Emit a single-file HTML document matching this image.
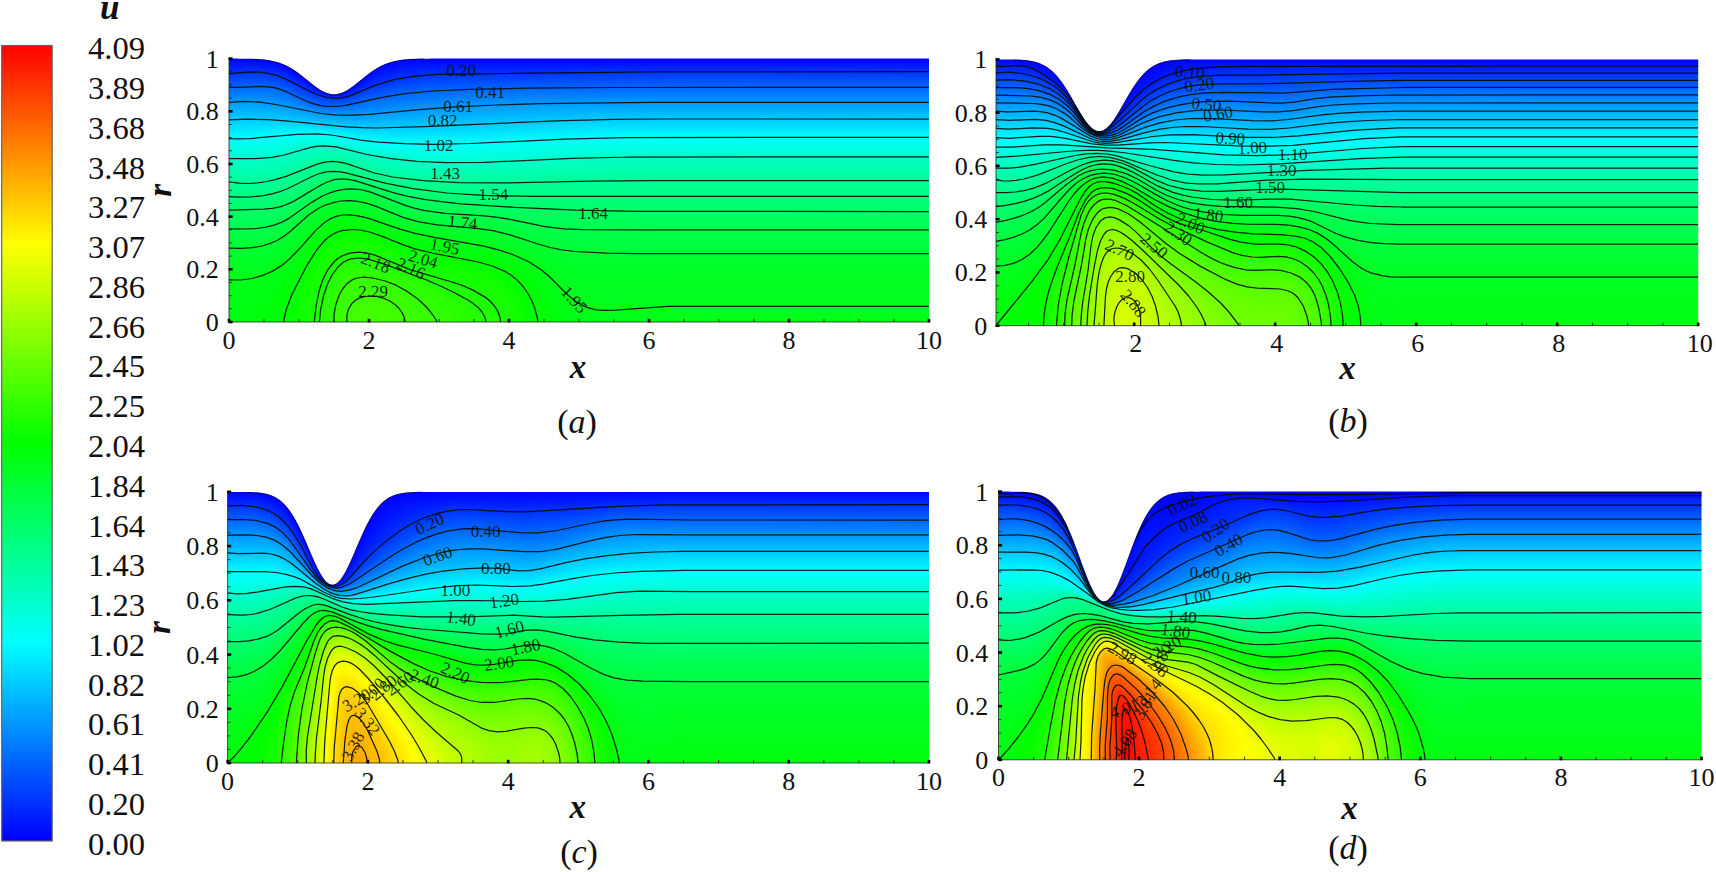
<!DOCTYPE html>
<html><head><meta charset="utf-8"><title>u contours</title>
<style>
html,body{margin:0;padding:0;background:#fff;width:1716px;height:872px;overflow:hidden;position:relative}
svg{display:block}
text{font-family:"Liberation Serif",serif;fill:#111}
.tk text{font-size:26px}
.cbt text{font-size:32.6px}
.ut{font-size:35px;font-weight:bold;font-style:italic}
.al{font-size:33px;font-weight:bold;font-style:italic}
.cap{font-size:34px;font-style:italic}
.pr{font-style:normal}
.cl text{font-size:17px;fill:#061006;fill-opacity:.88}
.pn{position:absolute;overflow:hidden}
.pn i{position:absolute;top:0;height:100%;display:block}
#ov{position:absolute;left:0;top:0}
</style></head><body>
<div class="pn" style="left:228px;top:56px;width:702px;height:267px"><i style="left:0px;width:4px;background:linear-gradient(#00f .2%,#0002ff 1.2%,#0072ff 13%,#00a0ff 18.2%,#0ff 30.9%,#00ffc6 39.4%,#00ff9c 46.7%,#00ff63 58.5%,#00ff3a 69.9%,#00ff26 77.4%,#00ff19 83.9%,#00ff0e 99.9%)"></i><i style="left:4px;width:4px;background:linear-gradient(#00f .2%,#00f 1%,#00a0ff 18%,#00ceff 24%,#00fffe 31.1%,#00ffcd 38.2%,#00ffa9 44.2%,#00ff67 57.3%,#00ff5a 60.7%,#0f3 72%,#00ff1f 80.4%,#00ff17 85.8%,#00ff0e 99.9%)"></i><i style="left:8px;width:4px;background:linear-gradient(#00f .2%,#00f 1%,#00a1ff 18%,#00fffe 31.1%,#00ffd0 37.9%,#00ffb2 42.7%,#00ff68 57.2%,#00ff5b 60.4%,#0f3 72.1%,#00ff20 80.2%,#00ff16 86.2%,#00ff0e 99.9%)"></i><i style="left:12px;width:4px;background:linear-gradient(#00f .3%,#00f 1%,#0032ff 6.1%,#00a2ff 18%,#00fffe 31.1%,#00ffd1 37.7%,#00ffb2 42.8%,#00ff68 57.2%,#00ff5b 60.4%,#0f3 72.2%,#00ff20 79.8%,#00ff15 86.8%,#00ff0d 99.9%)"></i><i style="left:16px;width:4px;background:linear-gradient(#00f .3%,#00f 1%,#0035ff 6.3%,#00a2ff 18.1%,#0ff 31%,#00ffb6 42.2%,#00ff69 57%,#00ff5b 60.2%,#0f3 72%,#00ff20 79.9%,#00ff15 86.8%,#00ff0e 99.9%)"></i><i style="left:20px;width:4px;background:linear-gradient(#00f .3%,#00f 1%,#003aff 6.7%,#00a1ff 17.9%,#0ff 31%,#00ffb6 42.2%,#00ff69 56.9%,#00ff5a 60.4%,#0f3 72%,#00ff1f 80.3%,#0f1 91.7%,#00ff10 99.9%)"></i><i style="left:24px;width:4px;background:linear-gradient(#00f .3%,#0002ff 1.3%,#003eff 7.1%,#009dff 17.6%,#00cbff 23.6%,#0ff 30.9%,#0fb 41.4%,#00ff6b 56.5%,#00ff37 70.4%,#00ff24 77.5%,#00ff16 85.2%,#00ff0e 95.3%,#00ff0f 100%)"></i><i style="left:28px;width:4px;background:linear-gradient(#00f .4%,#0002ff 1.3%,#04f 7.7%,#008dff 15.8%,#00bfff 21.9%,#0ff 30.7%,#00ffb9 41.6%,#00ff6c 56.2%,#00ff36 70.4%,#00ff24 77.2%,#00ff17 84.3%,#00ff0f 91.4%,#00ff0e 99.8%)"></i><i style="left:32px;width:4px;background:linear-gradient(#00f .5%,#0001ff 1.4%,#0048ff 8.2%,#0080ff 14.4%,#00d0ff 24.3%,#0ff 30.7%,#00ffb9 41.5%,#00ff72 55%,#00ff60 58.9%,#00ff37 70%,#00ff25 76.5%,#00ff16 84.2%,#00ff0e 91.9%,#00ff0c 99.9%)"></i><i style="left:36px;width:4px;background:linear-gradient(#00f .6%,#0001ff 1.6%,#004dff 8.9%,#0076ff 13.2%,#0ff 30.4%,#00ffbc 40.7%,#00ff92 48.4%,#00ff65 57.6%,#00ff37 69.7%,#0f2 77.4%,#00ff12 86.8%,#00ff0c 93%,#00ff0b 99.9%)"></i><i style="left:40px;width:4px;background:linear-gradient(#00f .8%,#0001ff 1.8%,#0073ff 13%,#00e3ff 26.7%,#00fffe 30.4%,#00ffbc 40.5%,#00ff90 48.4%,#0f6 57.2%,#00ff36 69.4%,#00ff23 76.5%,#00ff12 85.7%,#00ff0b 92.2%,#00ff09 99.9%)"></i><i style="left:44px;width:4px;background:linear-gradient(#00f 1.1%,#00f 2%,#0072ff 13.1%,#0ff 30.1%,#00ffbc 40.4%,#00ff91 47.9%,#00ff68 56.5%,#00ff36 68.9%,#00ff23 75.6%,#0f1 85%,#00ff0a 91.4%,#00ff07 100%)"></i><i style="left:48px;width:4px;background:linear-gradient(#00f 1.5%,#0002ff 2.6%,#006bff 12.7%,#0ff 29.9%,#00ffba 40.4%,#00ff91 47.5%,#00ff6d 55%,#00ff36 68.1%,#00ff26 73.8%,#00ff10 84.2%,#00ff09 89.9%,#00ff04 100%)"></i><i style="left:52px;width:2px;background:linear-gradient(#00f 1.9%,#00f 2.9%,#006cff 13.2%,#009eff 19.2%,#0ff 29.8%,#00ffba 40.1%,#00ff90 47.3%,#00ff35 67.7%,#00ff25 73.5%,#00ff0f 84.3%,#00ff08 89.6%,#00ff02 99.9%)"></i><i style="left:54px;width:2px;background:linear-gradient(#00f 2.2%,#00f 3.1%,#006cff 13.4%,#00fffe 29.9%,#00ffb9 40%,#00ff90 47%,#00ff35 67.4%,#00ff25 73%,#00ff0e 84.2%,#00ff05 92.1%,#00ff01 100%)"></i><i style="left:56px;width:2px;background:linear-gradient(#00f 2.5%,#00f 3.5%,#006aff 13.6%,#0ff 29.7%,#00ffd9 34.9%,#00ff90 46.7%,#00ff34 66.9%,#00ff25 72.6%,#00ff0c 84.4%,#00ff02 93%,#01ff00 99.9%)"></i><i style="left:58px;width:2px;background:linear-gradient(#00f 2.9%,#00f 3.8%,#006bff 13.9%,#0ff 29.6%,#00ffdc 34.3%,#00ff91 46.3%,#00ff34 66.5%,#00ff24 72.3%,#00ff0a 84.7%,#0f0 94.1%,#03ff00 99.9%)"></i><i style="left:60px;width:2px;background:linear-gradient(#00f 3.2%,#0002ff 4.4%,#0069ff 14.1%,#00fffe 29.6%,#00ffda 34.5%,#00ff91 46.1%,#00ff34 66%,#00ff19 76.3%,#00ff08 84.9%,#0f0 91.8%,#05ff00 99.9%)"></i><i style="left:62px;width:2px;background:linear-gradient(#00f 3.6%,#0002ff 4.8%,#0068ff 14.3%,#0ff 29.5%,#00ffd8 34.5%,#00ff91 45.8%,#0f3 65.6%,#0f1 79.3%,#00ff06 85.3%,#0f0 90.2%,#07ff00 99.9%)"></i><i style="left:64px;width:2px;background:linear-gradient(#00f 4.1%,#0001ff 5.2%,#0067ff 14.6%,#00fffe 29.6%,#00ffd5 34.8%,#00ff90 45.7%,#00ff32 65.1%,#00ff0f 79%,#00ff04 85.4%,#0f0 88.5%,#09ff00 100%)"></i><i style="left:66px;width:2px;background:linear-gradient(#00f 4.6%,#0001ff 5.7%,#00a0ff 20.3%,#00fffe 29.5%,#00ffd6 34.5%,#00ff90 45.2%,#00ff31 64.7%,#00ff0e 78.5%,#00ff01 86.4%,#0bff00 99.9%)"></i><i style="left:68px;width:2px;background:linear-gradient(#00f 5.1%,#0001ff 6.2%,#00a2ff 20.6%,#00fffe 29.4%,#00ffd4 34.5%,#00ff90 44.9%,#00ff5a 56.2%,#00ff31 64%,#00ff0e 77.9%,#0f0 85.2%,#0dff00 99.8%)"></i><i style="left:70px;width:2px;background:linear-gradient(#00f 5.6%,#0001ff 6.7%,#00a4ff 20.9%,#00fffe 29.4%,#00ffd3 34.4%,#00ff90 44.5%,#00ff5c 55.4%,#00ff30 63.6%,#00ff0c 77.5%,#0f0 83.9%,#0dff00 95.1%,#0fff00 100%)"></i><i style="left:72px;width:2px;background:linear-gradient(#00f 6.2%,#0001ff 7.3%,#0070ff 16.8%,#00a3ff 20.9%,#0ff 29.2%,#00ffd2 34.4%,#00ff91 44.2%,#00ff5d 54.7%,#00ff38 61%,#00ff2e 63.3%,#00ff0b 77.1%,#0f0 82.6%,#0fff00 94.7%,#10ff00 100%)"></i><i style="left:74px;width:2px;background:linear-gradient(#00f 6.7%,#0001ff 7.9%,#0071ff 17.2%,#00a1ff 21%,#00ceff 25.1%,#0ff 29.2%,#00ffe8 31.5%,#00ffd0 34.4%,#00ff91 43.8%,#00ff5c 54.3%,#00ff2e 62.5%,#0f0 81.1%,#0dff00 90.3%,#12ff00 100%)"></i><i style="left:76px;width:2px;background:linear-gradient(#00f 7.3%,#0001ff 8.5%,#0040ff 13.3%,#006dff 17.3%,#00a5ff 21.4%,#00cdff 25.1%,#00fffe 29.2%,#00ffe7 31.5%,#00ffce 34.5%,#00ff91 43.5%,#00ff7d 46.8%,#00ff5e 53.6%,#00ff37 59.9%,#00ff2d 62.2%,#0f0 79.6%,#0eff00 89.2%,#14ff00 99.8%)"></i><i style="left:78px;width:2px;background:linear-gradient(#00f 7.9%,#0001ff 9.1%,#003eff 13.6%,#006cff 17.5%,#00a1ff 21.2%,#00cdff 25.2%,#0ff 29.1%,#00ffe8 31.3%,#0fc 34.5%,#00ff92 43%,#00ff7e 46.3%,#00ff5d 53.3%,#00ff38 59.2%,#00ff2c 61.7%,#0f0 78.3%,#10ff00 88.5%,#16ff00 99.9%)"></i><i style="left:80px;width:2px;background:linear-gradient(#00f 8.5%,#0001ff 9.7%,#003dff 13.8%,#006eff 17.9%,#00a0ff 21.3%,#00cfff 25.4%,#0ff 29.1%,#00ffd4 33.5%,#00ffa4 39.8%,#00ff82 45.2%,#00ff5f 52.4%,#00ff36 58.9%,#00ff2b 61.4%,#0f0 77.1%,#1f0 87.6%,#18ff00 99.9%)"></i><i style="left:82px;width:2px;background:linear-gradient(#00f 9.2%,#0001ff 10.3%,#0039ff 13.8%,#006bff 18%,#00a2ff 21.5%,#00cfff 25.4%,#00fffe 29.2%,#00ffd2 33.5%,#00ffa4 39.7%,#00ff82 44.9%,#00ff5e 52%,#00ff36 58.4%,#00ff2a 61%,#0f0 75.8%,#13ff00 86.9%,#1aff00 100%)"></i><i style="left:84px;width:2px;background:linear-gradient(#00f 9.8%,#0001ff 10.9%,#003aff 14.2%,#0068ff 18%,#00a1ff 21.6%,#00ceff 25.5%,#00fffd 29.2%,#00ffd2 33.4%,#00ffa4 39.3%,#00ff80 45%,#00ff5d 51.7%,#00ff35 58.1%,#00ff29 60.5%,#0f0 74.7%,#15ff00 86.2%,#1cff00 99.8%)"></i><i style="left:86px;width:2px;background:linear-gradient(#00f 10.3%,#0002ff 11.5%,#003cff 14.6%,#006aff 18.4%,#00a2ff 21.8%,#00ceff 25.5%,#00fffd 29.3%,#00ffcf 33.6%,#00ffa2 39.4%,#00ff80 44.6%,#00ff5d 51.3%,#00ff34 57.7%,#00ff28 60.3%,#0f0 73.4%,#0eff00 79.6%,#16ff00 85.4%,#1eff00 99.9%)"></i><i style="left:88px;width:2px;background:linear-gradient(#00f 10.9%,#0002ff 12%,#0030ff 14.3%,#0043ff 15.4%,#0067ff 18.4%,#00a5ff 22.1%,#00cdff 25.5%,#00fffd 29.2%,#00ffd0 33.4%,#00ffa3 39%,#00ff7e 44.6%,#00ff59 51.5%,#00ff32 57.5%,#00ff27 60%,#0f0 72.5%,#0eff00 78.3%,#17ff00 84.3%,#1fff00 99.8%)"></i><i style="left:90px;width:2px;background:linear-gradient(#00f 11.4%,#00f 12.4%,#0031ff 14.6%,#0045ff 15.7%,#006aff 18.7%,#00a3ff 22.1%,#00d0ff 25.8%,#00fffe 29.2%,#00ffd0 33.3%,#00ffa2 38.9%,#00ff7c 44.6%,#00ff58 51.3%,#00ff31 57.3%,#00ff27 59.5%,#0f0 71.5%,#0fff00 77.5%,#19ff00 83.5%,#21ff00 100%)"></i><i style="left:92px;width:2px;background:linear-gradient(#00f 11.9%,#00f 12.8%,#0032ff 14.9%,#04f 15.8%,#0069ff 18.8%,#00a3ff 22.2%,#00ceff 25.8%,#00fffd 29.3%,#0fc 33.6%,#00ffa0 39.1%,#00ff79 44.9%,#00ff56 51.2%,#00ff31 56.8%,#00ff25 59.5%,#0f0 70.7%,#10ff00 76.7%,#1aff00 82.7%,#23ff00 99.9%)"></i><i style="left:94px;width:2px;background:linear-gradient(#00f 12.3%,#00f 13.3%,#002eff 15%,#003fff 15.7%,#006bff 19.1%,#00a0ff 22.1%,#00ceff 25.8%,#00fffd 29.4%,#00ffcb 33.7%,#00ffa0 38.9%,#00ff79 44.6%,#00ff53 51.3%,#0f3 56.2%,#00ff24 59.5%,#0f0 69.8%,#1f0 76%,#1bff00 82%,#26ff00 100%)"></i><i style="left:96px;width:2px;background:linear-gradient(#00f 12.7%,#0001ff 13.7%,#03f 15.3%,#0049ff 16.5%,#006aff 19.1%,#00a4ff 22.5%,#00cdff 25.8%,#00fffe 29.4%,#00ffdb 32.2%,#00ffba 35.6%,#00ff9f 38.9%,#00ff76 44.9%,#00ff2b 57.3%,#00ff02 68.5%,#12ff00 75.6%,#1bff00 80.9%,#28ff00 100%)"></i><i style="left:98px;width:2px;background:linear-gradient(#00f 13%,#0003ff 14%,#0032ff 15.5%,#004aff 16.6%,#0069ff 19%,#00a2ff 22.4%,#00cbff 25.8%,#00fffd 29.5%,#00ffd8 32.5%,#00ffb7 35.9%,#00ff9d 39.1%,#00ff70 45.6%,#00ff2b 57.1%,#00ff01 68.1%,#12ff00 74.5%,#1cff00 80.1%,#28ff00 93.2%,#2bff00 99.9%)"></i><i style="left:100px;width:2px;background:linear-gradient(#00f 13.3%,#00f 14.1%,#0035ff 15.7%,#004cff 16.9%,#0069ff 19.1%,#00a2ff 22.5%,#00cbff 25.9%,#00fffd 29.6%,#00ffd4 33%,#00ffb3 36.3%,#00ff9c 39.1%,#00ff6b 46.1%,#00ff2a 56.9%,#0f0 67.6%,#1f0 73.4%,#1cff00 79%,#2bff00 92.9%,#2dff00 99.8%)"></i><i style="left:102px;width:2px;background:linear-gradient(#00f 13.5%,#00f 14.2%,#0032ff 15.7%,#004bff 16.9%,#0069ff 19.1%,#00a1ff 22.5%,#00cfff 26.2%,#00fffe 29.6%,#00ffd5 33%,#00ffb1 36.5%,#00ff9d 39%,#00ff67 46.4%,#00ff2b 56.6%,#0f0 67%,#1f0 72.7%,#1dff00 78.3%,#2dff00 92.5%,#30ff00 99.8%)"></i><i style="left:104px;width:2px;background:linear-gradient(#00f 13.6%,#0001ff 14.4%,#0034ff 15.9%,#004cff 17%,#006dff 19.4%,#00a1ff 22.6%,#00cdff 26.2%,#00fffe 29.7%,#00ffd5 33.1%,#00ffb1 36.6%,#0f6 46.4%,#00ff2b 56.3%,#0f0 66.6%,#1f0 72.2%,#1dff00 77.8%,#2fff00 92.1%,#32ff00 99.9%)"></i><i style="left:106px;width:2px;background:linear-gradient(#00f 13.6%,#00f 14.4%,#03f 15.9%,#0041ff 16.4%,#004fff 17.2%,#006eff 19.4%,#00a0ff 22.6%,#0cf 26.2%,#00fffd 29.9%,#00ffd4 33.3%,#00ffae 37%,#00ff64 46.6%,#00ff2b 56.1%,#0f0 66.2%,#12ff00 71.8%,#1eff00 77.5%,#31ff00 91.5%,#34ff00 99.9%)"></i><i style="left:108px;width:2px;background:linear-gradient(#00f 13.5%,#00f 14.2%,#003aff 16.1%,#0050ff 17.2%,#006fff 19.5%,#009eff 22.5%,#0cf 26.2%,#00fffe 30%,#00ffd5 33.3%,#00ffae 37.1%,#00ff9b 39.3%,#00ff81 43.1%,#00ff61 46.8%,#00ff2c 55.8%,#0f0 65.9%,#12ff00 71.4%,#1eff00 76.8%,#32ff00 90.6%,#36ff00 99.8%)"></i><i style="left:110px;width:2px;background:linear-gradient(#00f 13.3%,#00f 14.1%,#0003ff 14.2%,#0031ff 15.7%,#0043ff 16.5%,#0051ff 17.2%,#009dff 22.5%,#00fffd 30.2%,#00ffd2 33.7%,#00ffac 37.5%,#00ff81 43.1%,#00ff60 46.8%,#00ff2c 55.8%,#00ff01 65.6%,#13ff00 71.4%,#1fff00 76.8%,#34ff00 90.3%,#38ff00 99.8%)"></i><i style="left:112px;width:2px;background:linear-gradient(#00f 13%,#0002ff 14%,#003bff 16%,#0056ff 17.5%,#009cff 22.4%,#00fffd 30.3%,#00ffd5 33.6%,#00ffac 37.6%,#00ff9a 39.6%,#00ff81 43.2%,#00ff5e 46.9%,#00ff2b 55.7%,#0f0 65.5%,#19ff00 73.5%,#30ff00 85.9%,#38ff00 92.8%,#3aff00 99.9%)"></i><i style="left:114px;width:2px;background:linear-gradient(#00f 12.7%,#0001ff 13.7%,#0036ff 15.7%,#0058ff 17.6%,#009cff 22.5%,#0ff 30.3%,#00ffd7 33.7%,#00ffab 37.8%,#00ff81 43.4%,#00ff5c 47.2%,#00ff2c 55.6%,#00ff01 65.2%,#19ff00 73%,#31ff00 85.8%,#39ff00 92.5%,#3bff00 100%)"></i><i style="left:116px;width:2px;background:linear-gradient(#00f 12.3%,#00f 13.3%,#003dff 15.9%,#005fff 18%,#009cff 22.5%,#00fffe 30.5%,#00ffad 37.8%,#00ff9c 39.7%,#00ff82 43.4%,#00ff5c 47.2%,#00ff2d 55.4%,#0f0 65.2%,#19ff00 72.6%,#32ff00 85.4%,#3aff00 92.5%,#3cff00 100%)"></i><i style="left:118px;width:2px;background:linear-gradient(#00f 11.9%,#00f 12.8%,#0042ff 16%,#0065ff 18.3%,#009bff 22.4%,#00fffe 30.6%,#00ffac 38.1%,#00ff82 43.6%,#00ff5b 47.3%,#00ff2e 55.2%,#0f0 65.1%,#19ff00 72.4%,#3f0 84.9%,#3bff00 92.2%,#3dff00 99.9%)"></i><i style="left:120px;width:2px;background:linear-gradient(#00f 11.4%,#0002ff 12.5%,#0040ff 15.7%,#005dff 17.6%,#0093ff 21.7%,#0ff 30.7%,#00ffad 38.2%,#00ff9d 40.1%,#00ff85 43.4%,#00ff5a 47.6%,#00ff30 54.7%,#0f0 65%,#19ff00 72.3%,#3f0 84.6%,#3cff00 92.1%,#3eff00 100%)"></i><i style="left:122px;width:2px;background:linear-gradient(#00f 10.9%,#0002ff 12%,#0041ff 15.6%,#0060ff 17.6%,#0094ff 21.8%,#00fffe 30.9%,#00ffaf 38.2%,#00ff9e 40.1%,#00ff83 43.9%,#00ff65 46.5%,#00ff59 47.8%,#00ff32 54.3%,#00ff01 64.8%,#18ff00 71.9%,#34ff00 84.3%,#3cff00 91.6%,#3fff00 99.8%)"></i><i style="left:124px;width:2px;background:linear-gradient(#00f 10.3%,#0001ff 11.5%,#0048ff 15.8%,#0067ff 18%,#00fffe 31.1%,#00ffaf 38.4%,#00ff9d 40.5%,#00ff85 43.9%,#00ff58 48%,#00ff36 53.6%,#00ff01 64.8%,#18ff00 71.9%,#34ff00 84.3%,#3dff00 91.8%,#40ff00 99.9%)"></i><i style="left:126px;width:2px;background:linear-gradient(#00f 9.8%,#0001ff 10.9%,#004aff 15.7%,#06f 17.8%,#0ff 31.1%,#00ffb0 38.6%,#00ff84 44.2%,#00ff65 46.8%,#0f5 48.5%,#00ff39 53.2%,#0f0 65%,#18ff00 71.7%,#34ff00 83.9%,#3cff00 90.7%,#40ff00 99.8%)"></i><i style="left:128px;width:2px;background:linear-gradient(#00f 9.2%,#0001ff 10.3%,#006aff 18%,#0ff 31.3%,#00ffb2 38.6%,#00ff86 44.2%,#00ff63 47.2%,#00ff52 49%,#00ff3b 52.8%,#0f0 65%,#19ff00 71.9%,#35ff00 83.9%,#3eff00 92.1%,#41ff00 100%)"></i><i style="left:130px;width:2px;background:linear-gradient(#00f 8.5%,#0001ff 9.7%,#0069ff 17.7%,#0ff 31.4%,#00ffb5 38.5%,#00ff85 44.5%,#00ff62 47.5%,#00ff4f 49.6%,#00ff3c 52.7%,#0f0 65.1%,#18ff00 71.8%,#35ff00 83.8%,#3eff00 92.4%,#42ff00 99.9%)"></i><i style="left:132px;width:2px;background:linear-gradient(#00f 7.9%,#0001ff 9.1%,#006bff 17.7%,#0ff 31.5%,#00ffb2 39%,#00ff86 44.6%,#00ff5f 48%,#00ff4d 50.1%,#00ff3c 52.7%,#0f0 65.2%,#18ff00 71.8%,#35ff00 83.8%,#3fff00 93%,#42ff00 99.9%)"></i><i style="left:134px;width:2px;background:linear-gradient(#00f 7.3%,#0001ff 8.5%,#006cff 17.6%,#00fffe 31.7%,#00ffb5 39%,#00ff85 45%,#00ff5e 48.3%,#00ff4a 50.6%,#00ff3c 52.8%,#0f0 65.4%,#18ff00 71.9%,#35ff00 83.7%,#40ff00 93.3%,#42ff00 99.8%)"></i><i style="left:136px;width:2px;background:linear-gradient(#00f 6.7%,#0001ff 7.9%,#0028ff 11.6%,#006dff 17.6%,#00fffe 31.8%,#00ffb7 38.9%,#00ff87 44.9%,#00ff5d 48.7%,#00ff48 50.9%,#0f0 65.5%,#18ff00 71.9%,#35ff00 83.9%,#40ff00 93.6%,#42ff00 100%)"></i><i style="left:138px;width:2px;background:linear-gradient(#00f 6.2%,#0001ff 7.3%,#0019ff 9.7%,#006bff 17.2%,#0ff 31.8%,#0fb 38.7%,#00ff86 45.3%,#00ff58 49.4%,#00ff47 51.3%,#0f0 65.7%,#17ff00 71.9%,#35ff00 83.9%,#41ff00 94%,#42ff00 100%)"></i><i style="left:140px;width:2px;background:linear-gradient(#00f 5.6%,#0001ff 6.7%,#0020ff 10.1%,#006dff 17.2%,#00fffe 32%,#00ffbe 38.6%,#0f8 45.3%,#00ff48 51.3%,#00ff3d 53.2%,#0f0 65.9%,#18ff00 72.3%,#36ff00 84.2%,#41ff00 94%,#42ff00 100%)"></i><i style="left:142px;width:2px;background:linear-gradient(#00f 5.1%,#0001ff 6.2%,#0024ff 10.1%,#006bff 16.9%,#00a7ff 23.2%,#0ff 32%,#00ffc3 38.2%,#00ff89 45.3%,#00ff47 51.7%,#00ff01 65.9%,#18ff00 72.3%,#36ff00 84.3%,#41ff00 94%,#42ff00 99.8%)"></i><i style="left:144px;width:2px;background:linear-gradient(#00f 4.6%,#0001ff 5.7%,#0028ff 10.2%,#0069ff 16.5%,#00a4ff 22.9%,#0ff 32.1%,#00ffc5 38.1%,#00ff89 45.6%,#00ff47 51.9%,#00ff01 66.2%,#18ff00 72.5%,#36ff00 84.3%,#41ff00 94.1%,#42ff00 99.9%)"></i><i style="left:146px;width:2px;background:linear-gradient(#00f 4.1%,#0001ff 5.2%,#002cff 10.3%,#006aff 16.4%,#00a4ff 22.8%,#0ff 32.2%,#00ffc9 37.8%,#00ff8a 45.7%,#00ff47 52.2%,#0f0 66.4%,#17ff00 72.6%,#36ff00 84.4%,#41ff00 94.3%,#42ff00 100%)"></i><i style="left:148px;width:2px;background:linear-gradient(#00f 3.6%,#0001ff 4.8%,#002eff 10.2%,#0069ff 16.2%,#00a2ff 22.6%,#00fffe 32.3%,#00ffc9 37.9%,#00ff8e 45.4%,#00ff47 52.5%,#0f0 66.7%,#17ff00 72.9%,#35ff00 84.5%,#3fff00 91.8%,#42ff00 99.9%)"></i><i style="left:150px;width:2px;background:linear-gradient(#00f 3.2%,#00f 4.2%,#0030ff 10.2%,#0ff 32.3%,#00ffcb 37.9%,#00ff90 45.4%,#00ff46 52.9%,#0f0 67.1%,#17ff00 73.1%,#35ff00 84.7%,#3fff00 91.8%,#42ff00 99.9%)"></i><i style="left:152px;width:2px;background:linear-gradient(#00f 2.9%,#00f 3.8%,#0031ff 10%,#00fffe 32.4%,#0fc 37.9%,#00ff91 45.4%,#00ff49 52.9%,#0f0 67.3%,#17ff00 73.5%,#35ff00 84.7%,#3eff00 91.6%,#42ff00 99.9%)"></i><i style="left:154px;width:2px;background:linear-gradient(#00f 2.5%,#00f 3.5%,#0032ff 9.8%,#0ff 32.5%,#00ffcd 37.9%,#00ff94 45.2%,#00ff48 53.3%,#0f0 67.7%,#17ff00 73.7%,#35ff00 84.9%,#3eff00 91.7%,#42ff00 99.9%)"></i><i style="left:156px;width:2px;background:linear-gradient(#00f 2.2%,#00f 3.1%,#0032ff 9.7%,#00fffe 32.5%,#00ffcf 37.8%,#00ff95 45.3%,#00ff48 53.5%,#0f0 67.9%,#16ff00 73.7%,#35ff00 85%,#3eff00 91.7%,#42ff00 100%)"></i><i style="left:158px;width:2px;background:linear-gradient(#00f 1.9%,#00f 2.9%,#0034ff 9.6%,#00fffe 32.6%,#00ffcf 37.9%,#00ff97 45.2%,#00ff4a 53.6%,#0f0 68.2%,#16ff00 74.2%,#34ff00 85.1%,#3dff00 91.4%,#42ff00 99.9%)"></i><i style="left:160px;width:2px;background:linear-gradient(#00f 1.7%,#00f 2.6%,#03f 9.4%,#0ff 32.6%,#00ffcd 38.2%,#00ff97 45.3%,#00ff4a 53.9%,#0f0 68.5%,#16ff00 74.5%,#34ff00 85.4%,#3dff00 91.8%,#42ff00 100%)"></i><i style="left:162px;width:2px;background:linear-gradient(#00f 1.5%,#0001ff 2.4%,#0034ff 9.3%,#00fffe 32.7%,#00ffce 38.2%,#00ff98 45.3%,#00ff4b 54.1%,#0f0 68.9%,#16ff00 74.7%,#34ff00 85.4%,#3dff00 91.7%,#41ff00 100%)"></i><i style="left:164px;width:2px;background:linear-gradient(#00f 1.3%,#0001ff 2.2%,#03f 9%,#00fffe 32.7%,#00ffcf 38.2%,#00ff9a 45.3%,#00ff4c 54.3%,#00ff01 69.1%,#16ff00 75.2%,#34ff00 85.5%,#3cff00 91.7%,#41ff00 100%)"></i><i style="left:166px;width:2px;background:linear-gradient(#00f 1.1%,#0001ff 2%,#0034ff 9%,#0ff 32.8%,#00ffd0 38.2%,#00ff97 45.7%,#00ff4e 54.3%,#0f0 69.5%,#15ff00 75.3%,#3f0 85.8%,#3cff00 92.1%,#40ff00 100%)"></i><i style="left:168px;width:2px;background:linear-gradient(#00f 1%,#0001ff 1.9%,#03f 8.6%,#0ff 32.8%,#00ffd3 37.9%,#00ff9b 45.3%,#00ff4e 54.5%,#00ff01 69.7%,#15ff00 75.7%,#3f0 85.8%,#3cff00 92.2%,#40ff00 99.8%)"></i><i style="left:170px;width:2px;background:linear-gradient(#00f .8%,#0001ff 1.8%,#03f 8.5%,#00fffe 32.9%,#00ffd3 37.9%,#00ff9b 45.4%,#00ff50 54.6%,#00ff17 65.3%,#0f0 70.1%,#25ff00 80.8%,#32ff00 85.9%,#3bff00 92%,#3fff00 99.9%)"></i><i style="left:172px;width:2px;background:linear-gradient(#00f .7%,#0001ff 1.7%,#0032ff 8.2%,#00fffe 32.9%,#00ffd2 38.2%,#00ff9a 45.7%,#00ff51 54.7%,#00ff16 65.5%,#0f0 70.4%,#24ff00 80.9%,#31ff00 85.8%,#3bff00 92.1%,#3eff00 100%)"></i><i style="left:174px;width:2px;background:linear-gradient(#00f .6%,#0001ff 1.6%,#03f 8.1%,#0ff 32.9%,#00ffd2 38.3%,#00ff54 54.6%,#00ff18 65.4%,#0f0 70.7%,#25ff00 81.4%,#30ff00 85.9%,#3aff00 92.4%,#3eff00 99.9%)"></i><i style="left:176px;width:2px;background:linear-gradient(#00f .6%,#0001ff 1.5%,#0032ff 7.9%,#00fffe 33%,#00ffd0 38.6%,#00ff54 54.7%,#00ff19 65.6%,#0f0 71%,#25ff00 81.7%,#30ff00 86%,#3aff00 92.5%,#3dff00 99.8%)"></i><i style="left:178px;width:2px;background:linear-gradient(#00f .5%,#0001ff 1.4%,#0032ff 7.8%,#0ff 32.9%,#00ffd0 38.7%,#00ff56 54.6%,#00ff18 65.9%,#00ff01 71.1%,#24ff00 81.8%,#2fff00 86.1%,#39ff00 92.5%,#3dff00 99.9%)"></i><i style="left:180px;width:2px;background:linear-gradient(#00f .5%,#00f 1.2%,#002eff 7.2%,#00fffe 33%,#00ffcf 38.8%,#00ff58 54.6%,#00ff19 66%,#0f0 71.4%,#24ff00 81.9%,#2fff00 86.2%,#38ff00 92.6%,#3cff00 99.9%)"></i><i style="left:182px;width:2px;background:linear-gradient(#00f .4%,#00f 1.2%,#002cff 6.8%,#0ff 33%,#00ffce 39%,#00ff5a 54.5%,#00ff19 66.1%,#0f0 71.8%,#23ff00 82.1%,#2eff00 86.2%,#38ff00 92.5%,#3bff00 99.8%)"></i><i style="left:184px;width:2px;background:linear-gradient(#00f .4%,#0001ff 1.3%,#0ff 33%,#00ff5a 54.7%,#00ff19 66.3%,#0f0 71.9%,#2f0 82%,#2eff00 86.5%,#37ff00 92.9%,#3bff00 100%)"></i><i style="left:186px;width:2px;background:linear-gradient(#00f .3%,#0001ff 1.3%,#00fffe 33.1%,#00ff5b 54.6%,#00ff1a 66.3%,#00ff01 71.9%,#2f0 82.4%,#2dff00 86.5%,#36ff00 92.8%,#3aff00 100%)"></i><i style="left:188px;width:2px;background:linear-gradient(#00f .3%,#0001ff 1.3%,#00fffe 33.1%,#00ff5c 54.6%,#00ff1a 66.4%,#00ff01 72%,#21ff00 82.3%,#2cff00 86.6%,#36ff00 92.8%,#39ff00 99.9%)"></i><i style="left:190px;width:2px;background:linear-gradient(#00f .3%,#00f 1%,#006cff 14.3%,#0ff 33.1%,#00ff5d 54.6%,#00ff1a 66.6%,#00ff02 72.2%,#20ff00 82.3%,#2bff00 86.8%,#35ff00 93.2%,#39ff00 99.9%)"></i><i style="left:192px;width:2px;background:linear-gradient(#00f .3%,#00f 1%,#006bff 14.1%,#0ff 33.1%,#00ff5d 54.8%,#00ff1b 66.6%,#00ff02 72.4%,#1fff00 82.1%,#2bff00 87%,#34ff00 93.2%,#38ff00 99.9%)"></i><i style="left:194px;width:2px;background:linear-gradient(#00f .3%,#00f 1%,#006aff 13.9%,#0ff 33%,#00ff5e 54.8%,#00ff1b 66.7%,#00ff02 72.4%,#0f0 73.1%,#1eff00 82.1%,#2aff00 87.2%,#34ff00 93.3%,#37ff00 99.9%)"></i><i style="left:196px;width:2px;background:linear-gradient(#00f .3%,#00f 1%,#006bff 13.9%,#0ff 33%,#00ff5f 54.8%,#00ff1c 66.7%,#00ff02 72.5%,#0f0 73.3%,#1dff00 81.7%,#29ff00 87.1%,#3f0 93.3%,#37ff00 99.9%)"></i><i style="left:198px;width:2px;background:linear-gradient(#00f .3%,#00f 1%,#006bff 13.9%,#0ff 33%,#00ffb7 42.6%,#00ff5f 54.9%,#00ff1d 66.7%,#00ff02 72.7%,#0f0 73.5%,#1bff00 81.5%,#28ff00 87%,#32ff00 93.3%,#36ff00 99.9%)"></i><i style="left:200px;width:2px;background:linear-gradient(#00f .2%,#00f 1%,#006bff 13.9%,#0ff 33%,#00ffb3 43.1%,#00ff5e 55.1%,#00ff1d 66.9%,#00ff02 72.9%,#1aff00 81.3%,#27ff00 86.9%,#32ff00 93.5%,#35ff00 99.9%)"></i><i style="left:202px;width:2px;background:linear-gradient(#00f .2%,#00f 1%,#006cff 13.9%,#0ff 33%,#00ffb1 43.5%,#00ff5f 55.1%,#00ff1d 66.9%,#00ff02 73.1%,#1aff00 81.3%,#26ff00 86.6%,#31ff00 93.5%,#35ff00 99.9%)"></i><i style="left:204px;width:2px;background:linear-gradient(#00f .2%,#00f 1%,#006cff 13.9%,#0ff 33%,#00ffac 44.2%,#00ff5d 55.5%,#00ff1d 67.1%,#00ff01 73.5%,#17ff00 80.6%,#2f0 85.1%,#2fff00 92.9%,#34ff00 99.9%)"></i><i style="left:206px;width:2px;background:linear-gradient(#00f .2%,#00f 1%,#006dff 13.9%,#0ff 33%,#00ffab 44.4%,#00ff5e 55.5%,#00ff1e 67.1%,#00ff01 73.6%,#20ff00 84.5%,#2eff00 92.9%,#34ff00 99.9%)"></i><i style="left:208px;width:2px;background:linear-gradient(#00f .2%,#00f 1%,#0070ff 14.3%,#0ff 33%,#00ffab 44.4%,#00ff5e 55.7%,#00ff1f 67.1%,#00ff01 73.8%,#1fff00 84.3%,#2eff00 93.1%,#3f0 99.9%)"></i><i style="left:210px;width:2px;background:linear-gradient(#00f .2%,#00f 1%,#0070ff 14.3%,#0ff 33%,#0fa 44.6%,#00ff5d 55.8%,#00ff1f 67.1%,#0f0 74.2%,#14ff00 79.8%,#1fff00 84.1%,#2dff00 93.3%,#32ff00 99.9%)"></i><i style="left:212px;width:2px;background:linear-gradient(#00f .2%,#00f 1%,#0074ff 14.6%,#0ff 33%,#0fa 44.6%,#00ff5b 56.2%,#00ff20 67.1%,#0f0 74.4%,#13ff00 79.8%,#1eff00 83.9%,#2dff00 93.3%,#31ff00 99.9%)"></i><i style="left:214px;width:2px;background:linear-gradient(#00f .2%,#00f 1%,#0074ff 14.6%,#0ff 33%,#0fa 44.6%,#00ff5c 56.2%,#00ff20 67.1%,#00ff01 74.4%,#1eff00 84.1%,#2cff00 93.7%,#30ff00 99.9%)"></i><i style="left:216px;width:2px;background:linear-gradient(#00f .2%,#00f 1%,#07f 15%,#0ff 33%,#00ffa8 45%,#00ff5a 56.6%,#00ff21 67.1%,#00ff01 74.6%,#13ff00 80.2%,#1eff00 84.3%,#2bff00 93.7%,#30ff00 99.9%)"></i><i style="left:218px;width:2px;background:linear-gradient(#00f .2%,#00f 1%,#0079ff 15.2%,#0ff 33%,#00ffa8 45%,#00ff59 56.8%,#00ff21 67.1%,#0f0 74.8%,#13ff00 80.2%,#1dff00 84.3%,#2bff00 93.9%,#2fff00 99.9%)"></i><i style="left:220px;width:2px;background:linear-gradient(#00f .2%,#00f 1%,#007bff 15.4%,#0ff 33%,#00ffa8 45%,#00ff59 57%,#00ff23 66.9%,#0f0 74.9%,#12ff00 80.2%,#1dff00 84.3%,#2aff00 94%,#2eff00 99.9%)"></i><i style="left:222px;width:2px;background:linear-gradient(#00f .2%,#00f 1%,#04f 8.7%,#007eff 15.8%,#0ff 33%,#00ffa8 45%,#00ff57 57.3%,#00ff24 66.7%,#00ff01 74.9%,#13ff00 80.6%,#1dff00 84.7%,#2aff00 94.2%,#2dff00 99.9%)"></i><i style="left:224px;width:2px;background:linear-gradient(#00f .2%,#00f 1%,#004aff 9.4%,#008aff 17.3%,#0ff 33%,#00ffa8 45%,#0f5 57.7%,#00ff25 66.7%,#0f0 75.1%,#13ff00 80.6%,#1dff00 84.7%,#29ff00 94.4%,#2cff00 99.9%)"></i><i style="left:226px;width:4px;background:linear-gradient(#00f .2%,#00f 1%,#004eff 9.8%,#008cff 17.5%,#0ff 33%,#00ffa8 45%,#00ff53 58.1%,#00ff27 66.3%,#0f0 75.3%,#13ff00 80.9%,#1dff00 85.1%,#28ff00 94.8%,#2bff00 99.9%)"></i><i style="left:230px;width:4px;background:linear-gradient(#00f .2%,#00f 1%,#0050ff 10%,#008fff 17.6%,#00fffe 33%,#00ffa9 45%,#00ff81 51.5%,#00ff4f 58.8%,#00ff28 66.3%,#0f0 75.7%,#12ff00 80.9%,#1cff00 85.4%,#27ff00 94.8%,#29ff00 99.9%)"></i><i style="left:234px;width:4px;background:linear-gradient(#00f .2%,#00f 1%,#0051ff 10.1%,#008fff 17.6%,#0ff 32.8%,#00ffa7 45.2%,#00ff80 51.7%,#00ff4b 59.6%,#00ff29 66.3%,#0f0 75.9%,#12ff00 81.3%,#1cff00 85.8%,#26ff00 94.8%,#28ff00 99.9%)"></i><i style="left:238px;width:4px;background:linear-gradient(#00f .2%,#00f 1%,#05f 10.5%,#0090ff 17.6%,#0ff 32.8%,#00ffa9 45%,#00ff81 51.7%,#00ff4a 60%,#00ff2b 66%,#00ff01 76.1%,#12ff00 81.7%,#1cff00 86.2%,#27ff00 99.9%)"></i><i style="left:242px;width:4px;background:linear-gradient(#00f .2%,#00f 1%,#0058ff 10.9%,#0090ff 17.6%,#0ff 32.8%,#00ffa9 45%,#00ff7f 52.1%,#00ff4a 60%,#00ff2e 65.6%,#00ff02 76.1%,#1bff00 86.6%,#26ff00 99.9%)"></i><i style="left:246px;width:4px;background:linear-gradient(#00f .2%,#00f 1%,#0062ff 12%,#0092ff 17.8%,#00fffe 32.8%,#0fa 44.8%,#00ff7f 52.1%,#00ff49 60.3%,#00ff2e 65.6%,#00ff02 76.4%,#12ff00 82.8%,#1bff00 87.1%,#24ff00 99.9%)"></i><i style="left:250px;width:4px;background:linear-gradient(#00f .2%,#00f 1%,#0064ff 12.2%,#0092ff 17.6%,#0ff 32.6%,#0fa 44.8%,#00ff7f 52.3%,#00ff49 60.3%,#00ff2f 65.6%,#00ff05 75.9%,#0f0 77.4%,#10ff00 82.4%,#1bff00 87.7%,#23ff00 99.9%)"></i><i style="left:254px;width:4px;background:linear-gradient(#00f .2%,#00f 1%,#06f 12.4%,#0092ff 17.6%,#0ff 32.6%,#00ffab 44.6%,#00ff7e 52.5%,#00ff4a 60.3%,#00ff30 65.6%,#00ff06 76.1%,#0f0 77.8%,#1f0 83.2%,#1bff00 88.4%,#2f0 99.9%)"></i><i style="left:258px;width:4px;background:linear-gradient(#00f .2%,#00f 1%,#0068ff 12.6%,#0094ff 17.8%,#00fffe 32.6%,#00ffab 44.6%,#00ff7e 52.5%,#00ff4a 60.5%,#00ff31 65.6%,#00ff08 76.1%,#0f0 78.1%,#10ff00 83.6%,#1aff00 88.8%,#21ff00 99.9%)"></i><i style="left:262px;width:4px;background:linear-gradient(#00f .2%,#0002ff 1.2%,#006aff 12.8%,#0093ff 17.6%,#0ff 32.4%,#00ffab 44.6%,#00ff7f 52.5%,#00ff4a 60.7%,#00ff31 65.8%,#00ff08 76.4%,#0f0 78.7%,#0fff00 83.9%,#19ff00 89.6%,#20ff00 99.9%)"></i><i style="left:266px;width:4px;background:linear-gradient(#00f .2%,#0002ff 1.2%,#006bff 12.8%,#0094ff 17.6%,#0ff 32.4%,#00ffab 44.6%,#00ff7f 52.5%,#00ff4c 60.5%,#0f3 65.8%,#00ff0a 76.4%,#0f0 79.3%,#0eff00 84.1%,#17ff00 89%,#1fff00 99.9%)"></i><i style="left:270px;width:4px;background:linear-gradient(#00f .2%,#0002ff 1.2%,#006bff 12.8%,#0095ff 17.8%,#00fffe 32.4%,#00ffa1 46.1%,#00ff7f 52.5%,#00ff4b 60.9%,#00ff29 68.6%,#0f0 79.8%,#15ff00 89.2%,#1dff00 99.9%)"></i><i style="left:274px;width:4px;background:linear-gradient(#00f .2%,#0002ff 1.2%,#006bff 12.8%,#0094ff 17.6%,#0ff 32.2%,#00ffa1 46.1%,#00ff7f 52.5%,#00ff4d 60.7%,#00ff2a 68.6%,#0f0 80.6%,#14ff00 89.9%,#1bff00 99.9%)"></i><i style="left:278px;width:4px;background:linear-gradient(#00f .2%,#0002ff 1.2%,#006cff 12.8%,#0096ff 17.8%,#00fffe 32.2%,#00ffa1 46.1%,#00ff80 52.5%,#00ff50 60.3%,#00ff2c 68.6%,#0f0 81.3%,#1f0 90.3%,#18ff00 99.9%)"></i><i style="left:282px;width:4px;background:linear-gradient(#00f .2%,#0002ff 1.2%,#0095ff 17.6%,#0ff 32.1%,#00ffa1 46.1%,#00ff81 52.3%,#0f5 59.6%,#00ff2e 68.6%,#0f0 82.2%,#0fff00 91%,#15ff00 99.9%)"></i><i style="left:286px;width:4px;background:linear-gradient(#00f .2%,#0002ff 1.2%,#006cff 12.8%,#0097ff 17.8%,#0ff 32.1%,#00ffa1 46.1%,#00ff81 52.3%,#00ff57 59.4%,#00ff30 68.6%,#00ff0e 78.1%,#0f0 83.6%,#0dff00 91.8%,#12ff00 99.9%)"></i><i style="left:290px;width:4px;background:linear-gradient(#00f .2%,#00f 1%,#006cff 12.8%,#09f 18%,#00fffe 32.1%,#00ffa0 46.1%,#00ff5a 59%,#00ff32 68.4%,#00ff10 78.5%,#0f0 84.9%,#0bff00 92.5%,#0eff00 99.9%)"></i><i style="left:294px;width:4px;background:linear-gradient(#00f .2%,#00f 1%,#0098ff 17.8%,#0ff 31.9%,#00ffbd 41.4%,#00ffa0 46.1%,#00ff5c 58.8%,#00ff35 68.2%,#00ff13 78.3%,#00ff01 86%,#0bff00 99.9%)"></i><i style="left:298px;width:4px;background:linear-gradient(#00f .2%,#00f 1%,#006dff 12.8%,#009aff 18%,#00fffe 31.9%,#00ffbd 41.4%,#00ff9f 46.3%,#00ff5e 58.5%,#00ff36 68.4%,#00ff18 77.6%,#00ff05 85.4%,#0f0 89%,#08ff00 99.9%)"></i><i style="left:302px;width:4px;background:linear-gradient(#00f .2%,#00f 1%,#006dff 12.8%,#009aff 18%,#0ff 31.7%,#00ffbc 41.4%,#00ff9e 46.5%,#00ff5f 58.5%,#00ff38 68.4%,#00ff1c 76.8%,#00ff0a 84.7%,#0f0 91.8%,#05ff00 99.9%)"></i><i style="left:306px;width:4px;background:linear-gradient(#00f .2%,#00f 1%,#009aff 18%,#0ff 31.7%,#00ffa6 45%,#00ff65 57.3%,#00ff53 61.5%,#00ff2b 72.7%,#00ff13 81.3%,#00ff04 91%,#01ff00 99.9%)"></i><i style="left:310px;width:4px;background:linear-gradient(#00f .2%,#00f 1%,#009aff 18%,#0ff 31.5%,#00ffa6 45%,#00ff65 57.3%,#0f5 61.1%,#00ff2e 72.3%,#00ff18 80.4%,#00ff08 89.9%,#00ff02 99.9%)"></i><i style="left:314px;width:4px;background:linear-gradient(#00f .2%,#00f 1%,#009bff 18%,#0ff 31.5%,#00ffa7 44.6%,#0f6 57.2%,#00ff57 60.7%,#00ff30 71.9%,#00ff1c 79.8%,#00ff0c 89.2%,#00ff05 99.9%)"></i><i style="left:318px;width:4px;background:linear-gradient(#00f .2%,#00f 1%,#009bff 18%,#00fffe 31.5%,#00ffcd 38.6%,#00ffa7 44.6%,#00ff68 57%,#00ff58 60.7%,#00ff32 71.9%,#00ff1f 79.4%,#00ff0e 90.5%,#00ff08 99.9%)"></i><i style="left:322px;width:4px;background:linear-gradient(#00f .2%,#00f 1%,#004cff 9%,#009bff 18%,#0ff 31.3%,#00ffcb 38.8%,#00ffa7 44.6%,#00ff68 57%,#00ff58 60.7%,#00ff34 71.8%,#00ff21 79.1%,#0f1 89.9%,#00ff0b 99.9%)"></i><i style="left:326px;width:4px;background:linear-gradient(#00f .2%,#00f 1%,#0049ff 8.7%,#009dff 18.2%,#0ff 31.3%,#0fc 38.6%,#00ffa7 44.6%,#00ff68 57%,#00ff59 60.7%,#00ff35 71.6%,#00ff23 78.7%,#00ff12 91.2%,#00ff0e 99.9%)"></i><i style="left:330px;width:4px;background:linear-gradient(#00f .2%,#00f 1%,#0045ff 8.3%,#009fff 18.4%,#00fffe 31.3%,#0fc 38.6%,#00ffa6 44.6%,#00ff69 57%,#00ff59 60.7%,#00ff36 71.6%,#00ff26 78.3%,#00ff13 92%,#00ff10 99.9%)"></i><i style="left:334px;width:4px;background:linear-gradient(#00f .2%,#00f 1%,#0042ff 7.9%,#009dff 18.2%,#0ff 31.1%,#00ffcb 38.6%,#00ffa6 44.6%,#00ff69 57%,#00ff59 60.9%,#00ff36 71.6%,#00ff27 78.3%,#00ff15 91.8%,#00ff12 99.9%)"></i><i style="left:338px;width:4px;background:linear-gradient(#00f .2%,#00f 1%,#0041ff 7.7%,#009fff 18.4%,#0ff 31.1%,#0fc 38.4%,#00ffa6 44.6%,#00ff69 57%,#00ff58 61.1%,#00ff37 71.6%,#00ff28 78.3%,#00ff17 92.2%,#00ff13 99.9%)"></i><i style="left:342px;width:4px;background:linear-gradient(#00f .2%,#00f 1%,#003fff 7.5%,#009fff 18.4%,#00fffe 31.1%,#0fc 38.4%,#00ffa6 44.6%,#00ff69 57%,#00ff58 61.3%,#00ff37 71.6%,#00ff28 78.3%,#00ff1e 85.4%,#00ff15 99.9%)"></i><i style="left:346px;width:4px;background:linear-gradient(#00f .2%,#00f 1%,#003eff 7.3%,#00a0ff 18.4%,#0ff 30.9%,#00ffca 38.6%,#00ffa6 44.6%,#00ff69 57%,#00ff58 61.5%,#00ff38 71.6%,#00ff2a 77.6%,#00ff1f 85.4%,#00ff16 99.9%)"></i><i style="left:350px;width:4px;background:linear-gradient(#00f .2%,#00f 1%,#003cff 7.2%,#00a0ff 18.4%,#0ff 30.9%,#00ffcb 38.4%,#00ffa5 44.6%,#00ff6a 57%,#00ff57 61.6%,#00ff37 71.9%,#00ff29 78.7%,#00ff1f 85.6%,#00ff17 99.9%)"></i><i style="left:354px;width:4px;background:linear-gradient(#00f .2%,#00f 1%,#003cff 7.2%,#00a2ff 18.6%,#0ff 30.9%,#0fc 38.2%,#00ffa5 44.6%,#00ff6a 57%,#00ff57 61.8%,#00ff36 72.1%,#00ff29 79.1%,#00ff1f 85.8%,#00ff18 99.9%)"></i><i style="left:358px;width:4px;background:linear-gradient(#00f .2%,#00f 1%,#003cff 7.2%,#00a3ff 18.8%,#00fffe 30.9%,#0fc 38.2%,#00ffa5 44.6%,#00ff69 57.2%,#00ff56 62.2%,#00ff34 73.1%,#00ff21 83.2%,#00ff18 99.9%)"></i><i style="left:362px;width:4px;background:linear-gradient(#00f .2%,#00f 1%,#003bff 7%,#00a2ff 18.6%,#0ff 30.7%,#00ffc9 38.6%,#00ffa5 44.6%,#00ff6a 57%,#00ff56 62.2%,#00ff34 73.1%,#00ff21 83.2%,#00ff18 99.9%)"></i><i style="left:366px;width:4px;background:linear-gradient(#00f .2%,#00f 1%,#003bff 7%,#00a4ff 18.8%,#0ff 30.7%,#00ffcb 38.2%,#00ffa5 44.6%,#00ff69 57.2%,#00ff54 62.6%,#00ff34 73.3%,#0f2 83.2%,#00ff18 99.9%)"></i><i style="left:370px;width:4px;background:linear-gradient(#00f .2%,#00f 1%,#003aff 6.8%,#00a4ff 18.8%,#0ff 30.7%,#00ffcb 38.2%,#00ffa5 44.6%,#00ff6a 57.2%,#0f5 62.6%,#00ff34 73.4%,#0f2 83.2%,#00ff18 99.9%)"></i><i style="left:374px;width:4px;background:linear-gradient(#00f .2%,#00f 1%,#003aff 6.8%,#00a4ff 18.8%,#0ff 30.7%,#00ffcb 38.2%,#00ffa4 44.6%,#00ff69 57.3%,#00ff53 63%,#0f3 73.8%,#0f2 83.2%,#00ff18 99.9%)"></i><i style="left:378px;width:4px;background:linear-gradient(#00f .2%,#00f 1%,#003aff 6.8%,#00a4ff 18.8%,#00fffe 30.7%,#00ffca 38.2%,#00ffa4 44.6%,#00ff69 57.3%,#00ff53 63%,#0f3 73.8%,#0f2 83.2%,#00ff19 99.9%)"></i><i style="left:382px;width:4px;background:linear-gradient(#00f .2%,#00f 1%,#003aff 6.8%,#00a6ff 19%,#00fffe 30.7%,#00ffca 38.2%,#00ffa4 44.6%,#00ff69 57.3%,#00ff52 63.3%,#0f3 73.8%,#0f2 83.2%,#00ff19 99.9%)"></i><i style="left:386px;width:4px;background:linear-gradient(#00f .2%,#00f 1%,#003aff 6.8%,#00a4ff 18.8%,#0ff 30.6%,#00ffca 38.2%,#00ffa4 44.6%,#00ff69 57.3%,#00ff52 63.3%,#0f3 73.8%,#0f2 83.2%,#00ff19 99.9%)"></i><i style="left:390px;width:4px;background:linear-gradient(#00f .2%,#00f 1%,#003aff 6.8%,#00a4ff 18.8%,#0ff 30.6%,#00ffca 38.2%,#00ffa4 44.6%,#00ff69 57.3%,#00ff52 63.5%,#0f3 73.8%,#0f2 83.2%,#00ff19 99.9%)"></i><i style="left:394px;width:4px;background:linear-gradient(#00f .2%,#00f 1%,#003aff 6.8%,#00a4ff 18.8%,#0ff 30.6%,#00ffca 38.2%,#00ffa4 44.6%,#00ff69 57.3%,#00ff51 63.7%,#0f3 73.8%,#0f2 83.2%,#00ff19 99.9%)"></i><i style="left:398px;width:4px;background:linear-gradient(#00f .2%,#00f 1%,#003aff 6.8%,#00a6ff 19%,#0ff 30.6%,#00ffc9 38.2%,#00ffa4 44.6%,#00ff69 57.3%,#00ff51 63.7%,#0f3 73.8%,#0f2 82.8%,#00ff19 99.9%)"></i><i style="left:402px;width:4px;background:linear-gradient(#00f .2%,#00f 1%,#003bff 6.8%,#00a8ff 19.1%,#0ff 30.6%,#00ffc9 38.2%,#00ffa4 44.6%,#00ff6a 57.3%,#00ff51 63.7%,#00ff34 73.8%,#0f2 82.8%,#00ff18 99.9%)"></i><i style="left:406px;width:4px;background:linear-gradient(#00f .2%,#00f 1%,#003bff 6.8%,#00a8ff 19.1%,#0ff 30.6%,#00ffc9 38.2%,#00ffa4 44.6%,#00ff6a 57.3%,#00ff51 63.9%,#00ff34 73.8%,#0f2 82.8%,#00ff18 99.9%)"></i><i style="left:410px;width:4px;background:linear-gradient(#00f .2%,#00f 1%,#003bff 6.8%,#00a8ff 19.1%,#0ff 30.6%,#00ffc9 38.2%,#00ffa4 44.6%,#00ff6a 57.3%,#00ff50 64.1%,#00ff34 73.8%,#0f2 82.8%,#00ff1d 87.1%,#00ff18 99.9%)"></i><i style="left:414px;width:4px;background:linear-gradient(#00f .2%,#00f 1%,#0039ff 6.6%,#00a8ff 19.1%,#00fffe 30.6%,#00ffc9 38.2%,#00ffa4 44.6%,#00ff6a 57.3%,#00ff50 64.1%,#00ff34 73.8%,#0f2 83%,#00ff18 99.9%)"></i><i style="left:418px;width:4px;background:linear-gradient(#00f .2%,#00f 1%,#0039ff 6.6%,#00a8ff 19.1%,#00fffe 30.6%,#00ffc9 38.2%,#00ffa3 44.6%,#00ff6a 57.3%,#00ff50 64.1%,#00ff34 73.8%,#0f2 83.2%,#00ff18 99.9%)"></i><i style="left:422px;width:4px;background:linear-gradient(#00f .2%,#00f 1%,#0039ff 6.6%,#00a8ff 19.1%,#00fffe 30.6%,#00ffc9 38.2%,#00ffa3 44.6%,#00ff6a 57.3%,#00ff50 64.1%,#00ff34 73.8%,#0f2 83.2%,#00ff18 99.9%)"></i><i style="left:426px;width:4px;background:linear-gradient(#00f .2%,#00f 1%,#0039ff 6.6%,#00a8ff 19.1%,#00fffe 30.6%,#00ffc9 38.2%,#00ffa3 44.6%,#00ff6a 57.3%,#00ff50 64.1%,#0f3 73.8%,#0f2 83.2%,#00ff18 99.9%)"></i><i style="left:430px;width:4px;background:linear-gradient(#00f .2%,#00f 1%,#0039ff 6.6%,#00a8ff 19.1%,#00fffe 30.6%,#00ffc9 38.2%,#00ffa3 44.6%,#00ff6a 57.3%,#00ff50 64.1%,#0f3 73.8%,#0f2 83.2%,#00ff18 99.9%)"></i><i style="left:434px;width:4px;background:linear-gradient(#00f .2%,#00f 1%,#003aff 6.6%,#00a8ff 19.1%,#00fffe 30.6%,#00ffc9 38.2%,#00ffa3 44.6%,#00ff6a 57.3%,#00ff4f 64.3%,#0f3 73.8%,#00ff21 83.4%,#00ff18 99.9%)"></i><i style="left:438px;width:3px;background:linear-gradient(#00f .2%,#00f 1%,#003aff 6.6%,#00a8ff 19.1%,#00fffe 30.6%,#00ffc9 38.2%,#00ffa3 44.6%,#00ff6a 57.3%,#00ff4f 64.3%,#0f3 73.8%,#00ff21 83.4%,#00ff18 99.9%)"></i><i style="left:441px;width:261px;background:linear-gradient(#00f .2%,#00f 1%,#003aff 6.6%,#00a8ff 19.1%,#00fffe 30.6%,#00ffc9 38.2%,#00ffa3 44.6%,#00ff6a 57.3%,#00ff4f 64.3%,#0f3 73.8%,#00ff21 83.4%,#00ff18 99.9%)"></i></div>
<div class="pn" style="left:995px;top:57px;width:705px;height:270px"><i style="left:0px;width:4px;background:linear-gradient(#00f .2%,#00f .9%,#0043ff 7.7%,#009cff 17.7%,#00fffe 30.7%,#00ffc6 39.2%,#00ff8c 49.4%,#00ff69 56.6%,#00ff47 65.2%,#00ff2d 73.9%,#00ff1f 80%,#0f1 90%,#00ff0b 100%)"></i><i style="left:4px;width:4px;background:linear-gradient(#00f .2%,#0002ff 1.1%,#003bff 6.6%,#0092ff 16.6%,#00d0ff 24.4%,#0ff 30.7%,#00ffca 38.5%,#00ff89 50%,#00ff67 57%,#00ff48 64.6%,#00ff2d 73.7%,#00ff18 83.7%,#00ff0f 90.7%,#00ff0b 100%)"></i><i style="left:8px;width:4px;background:linear-gradient(#00f .2%,#0002ff 1.1%,#003cff 6.6%,#008eff 16.3%,#00d2ff 24.8%,#0ff 30.9%,#0fc 38.1%,#00ff83 51.1%,#00ff64 57.4%,#00ff49 64.1%,#00ff2e 72.9%,#00ff18 83.3%,#00ff0f 90%,#00ff0a 100%)"></i><i style="left:12px;width:4px;background:linear-gradient(#00f .2%,#00f .9%,#0038ff 6.3%,#008eff 16.3%,#00d2ff 24.8%,#0ff 30.9%,#00ffcb 38.1%,#00ff7f 51.8%,#00ff62 57.4%,#00ff49 63.7%,#00ff2e 72.6%,#00ff16 83.3%,#00ff0f 88.9%,#00ff08 100%)"></i><i style="left:16px;width:4px;background:linear-gradient(#00f .2%,#00f .9%,#0038ff 6.3%,#0092ff 16.7%,#00d2ff 24.8%,#00fffe 30.9%,#00ffd9 35.9%,#00ffc2 39.6%,#00ff6b 55.2%,#00ff49 63.3%,#00ff2f 71.9%,#00ff15 83.7%,#00ff0c 91.1%,#00ff07 99.8%)"></i><i style="left:20px;width:4px;background:linear-gradient(#00f .2%,#00f 1%,#002eff 5.4%,#0095ff 17.1%,#0ff 30.8%,#00ffd9 35.8%,#00ffc1 39.7%,#00ff69 55.2%,#00ff49 62.8%,#00ff2d 72.1%,#00ff12 84.1%,#00ff0a 91.5%,#00ff06 99.9%)"></i><i style="left:24px;width:4px;background:linear-gradient(#00f .3%,#00f 1%,#0020ff 4%,#009aff 17.7%,#0ff 30.7%,#00ffd9 35.7%,#00ffc0 39.5%,#00ff68 55.1%,#00ff48 62.3%,#00ff2f 70.8%,#00ff13 82.9%,#00ff09 90.8%,#00ff04 99.9%)"></i><i style="left:28px;width:4px;background:linear-gradient(#00f .4%,#0001ff 1.3%,#001cff 3.7%,#009fff 18.2%,#00fffe 30.6%,#00ffd9 35.6%,#00ffbe 39.8%,#00ff94 47.4%,#00ff67 54.8%,#00ff48 61.9%,#00ff2f 70%,#0f1 82.4%,#00ff04 93.3%,#00ff02 99.8%)"></i><i style="left:32px;width:4px;background:linear-gradient(#00f .5%,#0001ff 1.5%,#0018ff 3.7%,#00a1ff 18.5%,#0ff 30.3%,#00ffd6 35.9%,#00ffb9 40.3%,#00ff90 47.8%,#00ff64 54.8%,#00ff47 61.5%,#00ff2f 68.9%,#00ff0f 82.6%,#00ff02 92.2%,#0f0 100%)"></i><i style="left:36px;width:4px;background:linear-gradient(#00f .8%,#00f 1.7%,#00a2ff 18.5%,#0ff 30.2%,#00ffc0 38.9%,#00ff8d 47.8%,#00ff69 53.3%,#0f5 57%,#00ff43 61.5%,#00ff2e 68.2%,#00ff0b 83%,#0f0 91.1%,#03ff00 99.8%)"></i><i style="left:40px;width:4px;background:linear-gradient(#00f 1.1%,#00f 2%,#001dff 5.5%,#009aff 17.7%,#0ff 30.1%,#00ffbc 39.2%,#00ff8a 47.7%,#00ff65 53.3%,#00ff51 57.2%,#00ff3c 62.6%,#00ff28 68.9%,#00ff05 84%,#0f0 87.9%,#06ff00 100%)"></i><i style="left:44px;width:4px;background:linear-gradient(#00f 1.5%,#00f 2.6%,#001aff 6%,#0076ff 14.3%,#09f 17.8%,#0ff 30.1%,#00ffb6 39.9%,#00ff89 47.5%,#00ff62 53%,#00ff4d 56.9%,#00ff36 62.6%,#00ff0f 77.3%,#0f0 84.5%,#08ff00 91.5%,#0bff00 99.9%)"></i><i style="left:48px;width:2px;background:linear-gradient(#00f 2.2%,#00f 3.1%,#0017ff 6.4%,#0042ff 10%,#0091ff 17.2%,#00ceff 24%,#00fffe 30.1%,#00ffb3 40%,#00ff89 47%,#00ff5e 52.9%,#00ff4a 56.6%,#00ff34 62.2%,#00ff25 67%,#0f0 82.4%,#0bff00 90.3%,#0eff00 100%)"></i><i style="left:50px;width:2px;background:linear-gradient(#00f 2.6%,#0001ff 3.7%,#0015ff 6.7%,#0043ff 10.4%,#008eff 17%,#0af 20%,#0ff 30%,#00ffb1 40%,#00ff86 47%,#00ff5d 52.6%,#00ff4b 55.9%,#00ff32 61.8%,#0f0 80.9%,#0cff00 89.2%,#12ff00 100%)"></i><i style="left:52px;width:2px;background:linear-gradient(#00f 3%,#0001ff 4.1%,#0016ff 7.3%,#003fff 10.4%,#008cff 17.1%,#00a7ff 19.9%,#0ff 30.1%,#00ffb1 39.9%,#00ff86 46.7%,#00ff5a 52.5%,#00ff49 55.6%,#00ff30 61.4%,#0f0 79.5%,#0eff00 88.2%,#15ff00 99.9%)"></i><i style="left:54px;width:2px;background:linear-gradient(#00f 3.6%,#00f 4.7%,#0014ff 7.6%,#003fff 10.8%,#008cff 17.3%,#0ff 30%,#00ffaf 39.9%,#00ff83 46.7%,#00ff59 52.1%,#00ff47 55.2%,#00ff2f 60.8%,#0f0 78.2%,#10ff00 87.3%,#19ff00 99.9%)"></i><i style="left:56px;width:2px;background:linear-gradient(#00f 4.2%,#00f 5.3%,#0015ff 8.2%,#003fff 11.2%,#0089ff 17.3%,#00a2ff 19.7%,#0ff 30.1%,#00ffaf 39.7%,#00ff83 46.4%,#00ff57 51.7%,#00ff43 55.3%,#00ff2d 60.3%,#0f0 76.7%,#13ff00 86.4%,#1dff00 99.9%)"></i><i style="left:58px;width:2px;background:linear-gradient(#00f 4.8%,#00f 5.9%,#0012ff 8.5%,#0041ff 11.9%,#0087ff 17.4%,#00a2ff 20%,#0ff 30.2%,#00ffad 39.6%,#00ff81 46.3%,#00ff57 51.1%,#00ff41 54.8%,#00ff2c 59.6%,#0f0 75.4%,#16ff00 85.6%,#21ff00 99.8%)"></i><i style="left:60px;width:2px;background:linear-gradient(#00f 5.6%,#0001ff 6.9%,#0013ff 9.3%,#003fff 12.2%,#0087ff 17.8%,#0ff 30.2%,#00ffad 39.4%,#00ff80 45.9%,#0f5 50.7%,#00ff3f 54.4%,#00ff2a 58.9%,#0f0 73.9%,#0fff00 79.6%,#19ff00 84.8%,#2f0 93%,#26ff00 99.8%)"></i><i style="left:62px;width:2px;background:linear-gradient(#00f 6.4%,#00f 7.7%,#01f 9.7%,#0041ff 12.9%,#0084ff 17.9%,#009cff 20.1%,#0ff 30.3%,#00ffac 39.3%,#00ff7f 45.6%,#00ff53 50.3%,#00ff3c 54%,#00ff29 58.2%,#0f0 72.5%,#1f0 78.4%,#1cff00 83.8%,#27ff00 92.7%,#2bff00 99.9%)"></i><i style="left:64px;width:2px;background:linear-gradient(#00f 7.3%,#00f 8.6%,#01f 10.4%,#0040ff 13.4%,#0083ff 18.2%,#009cff 20.4%,#0ff 30.4%,#00ffac 39.1%,#00ff7e 45.4%,#00ff51 49.9%,#00ff39 53.8%,#00ff27 57.5%,#0f0 71.2%,#13ff00 77.1%,#1fff00 82.6%,#2dff00 93%,#31ff00 99.9%)"></i><i style="left:66px;width:2px;background:linear-gradient(#00f 8.2%,#00f 9.5%,#000cff 10.8%,#0045ff 14.4%,#0082ff 18.6%,#0ff 30.5%,#00ffa9 39.2%,#00ff7b 45.3%,#00ff4f 49.4%,#00ff36 53.2%,#00ff26 56.8%,#0f0 69.5%,#15ff00 75.8%,#2f0 81.4%,#3f0 93.1%,#37ff00 99.9%)"></i><i style="left:68px;width:2px;background:linear-gradient(#00f 9.3%,#00f 10.6%,#0005ff 11.1%,#0014ff 12.2%,#005fff 16.7%,#007fff 18.9%,#0ff 30.6%,#00ffe1 33.7%,#00ffa9 38.9%,#00ff7b 44.8%,#00ff4d 48.9%,#00ff35 52.6%,#00ff24 55.9%,#0f0 68.2%,#17ff00 74.5%,#24ff00 79.7%,#39ff00 92.8%,#3eff00 99.8%)"></i><i style="left:70px;width:2px;background:linear-gradient(#00f 10.4%,#0002ff 11.9%,#0012ff 13%,#05f 16.7%,#007dff 19.3%,#0ff 30.8%,#00ffa7 38.9%,#00ff7a 44.5%,#00ff4e 48.2%,#0f3 51.9%,#00ff23 55.2%,#0f0 66.5%,#19ff00 73%,#26ff00 77.8%,#40ff00 92.6%,#45ff00 99.8%)"></i><i style="left:72px;width:2px;background:linear-gradient(#00f 11.6%,#0001ff 13%,#0043ff 16.4%,#007aff 19.7%,#0ff 30.8%,#00ffdc 34.2%,#00ffa8 38.6%,#00ff7a 44%,#00ff4c 47.7%,#00ff31 51.4%,#00ff21 54.5%,#0f0 64.9%,#1bff00 71.4%,#28ff00 76%,#47ff00 92.1%,#4cff00 99.9%)"></i><i style="left:74px;width:2px;background:linear-gradient(#00f 12.8%,#00f 14.1%,#0054ff 18.2%,#007aff 20.4%,#00fffe 31.1%,#00ffa6 38.5%,#00ff78 43.7%,#00ff4c 47%,#00ff2f 50.7%,#00ff1f 54.1%,#0f0 63.3%,#1dff00 69.6%,#2aff00 74.1%,#4dff00 91.5%,#53ff00 99.8%)"></i><i style="left:76px;width:2px;background:linear-gradient(#00f 14%,#00f 15.2%,#0003ff 15.3%,#0052ff 18.9%,#0080ff 21.5%,#00feff 31.1%,#0fd 34%,#00ffa8 38.1%,#00ff7b 42.9%,#00ff4a 46.6%,#00ff2c 50.3%,#00ff1d 53.5%,#0f0 61.6%,#1eff00 67.7%,#2cff00 72.2%,#52ff00 90.3%,#5aff00 100%)"></i><i style="left:78px;width:2px;background:linear-gradient(#00f 15.3%,#00f 16.6%,#03f 18.5%,#005eff 20.3%,#0070ff 21.3%,#008fff 23.3%,#0ff 31.3%,#00ffda 34.2%,#0fa 37.7%,#00ff7d 42.4%,#00ff53 45.3%,#00ff41 47%,#00ff21 51.4%,#0f0 59.8%,#21ff00 66.1%,#30ff00 70.7%,#57ff00 89.2%,#5dff00 94.4%,#5fff00 100%)"></i><i style="left:80px;width:2px;background:linear-gradient(#00f 16.6%,#00f 17.7%,#0026ff 19.2%,#0052ff 20.7%,#0071ff 22.2%,#00cfff 28.1%,#00fffe 31.4%,#00ffa7 37.7%,#00ff7e 41.8%,#00ff53 44.8%,#00ff41 46.4%,#00ff2c 48.9%,#00ff1f 50.7%,#0f0 58.1%,#21ff00 63.7%,#3f0 68.9%,#5bff00 88.1%,#62ff00 94%,#64ff00 100%)"></i><i style="left:82px;width:2px;background:linear-gradient(#00f 17.9%,#00f 19.2%,#0035ff 20.7%,#0059ff 22%,#006eff 22.9%,#00b7ff 27%,#00fffd 31.6%,#00ffa7 37.6%,#00ff7e 41.4%,#00ff52 44.4%,#00ff41 45.9%,#00ff1e 50%,#0f0 56.6%,#23ff00 61.4%,#38ff00 67.4%,#5eff00 86.6%,#6f0 93.7%,#69ff00 100%)"></i><i style="left:84px;width:2px;background:linear-gradient(#00f 19.2%,#00f 20.3%,#004cff 22.5%,#0072ff 24%,#00aeff 27%,#00f5ff 31.1%,#00fffd 31.8%,#00ffa8 37.4%,#00ff7e 41.1%,#00ff51 44%,#00ff42 45.3%,#00ff1e 49.2%,#0f0 54.9%,#28ff00 60.1%,#3eff00 66.4%,#62ff00 85.5%,#6cff00 93.5%,#6fff00 99.9%)"></i><i style="left:86px;width:2px;background:linear-gradient(#00f 20.4%,#00f 21.5%,#0003ff 21.7%,#002aff 22.7%,#004cff 23.6%,#008aff 25.8%,#00b2ff 27.7%,#00f4ff 31.2%,#00fffd 31.9%,#00ffa6 37.3%,#00ff82 40.4%,#0f5 43.4%,#00ff42 44.9%,#00ff1c 48.6%,#0f0 53.6%,#25ff00 57.5%,#2eff00 59%,#45ff00 65.8%,#6aff00 87.1%,#73ff00 94.5%,#76ff00 99.9%)"></i><i style="left:88px;width:2px;background:linear-gradient(#00f 21.6%,#00f 22.7%,#0061ff 25.1%,#008bff 26.4%,#0af 27.7%,#00fffe 32%,#00ffa6 37.2%,#00ff82 40.1%,#00ff45 44.2%,#00ff1c 47.9%,#0f0 52.2%,#0aff00 53.5%,#25ff00 55.9%,#31ff00 57.4%,#4dff00 65.7%,#59ff00 71.4%,#7f0 91.1%,#7eff00 99.9%)"></i><i style="left:90px;width:2px;background:linear-gradient(#00f 22.7%,#00f 23.8%,#000fff 24.2%,#005fff 25.9%,#008fff 27.1%,#00a8ff 28.1%,#00f6ff 31.6%,#00fffd 32.1%,#00ffa7 37%,#00ff83 39.7%,#00ff49 43.6%,#00ff1b 47.3%,#0f0 51%,#0dff00 52.5%,#2bff00 55.1%,#3f0 56.2%,#5f0 65.7%,#5eff00 69.9%,#6dff00 80.9%,#80ff00 91.6%,#87ff00 99.9%)"></i><i style="left:92px;width:2px;background:linear-gradient(#00f 23.7%,#00f 24.6%,#0003ff 24.8%,#0065ff 26.7%,#0087ff 27.4%,#0094ff 27.8%,#00a8ff 28.5%,#00fffe 32.2%,#00ffa3 37%,#00ff87 39.3%,#00ff54 42.6%,#00ff1c 46.7%,#0f0 50%,#0cff00 51.5%,#2bff00 54.1%,#34ff00 55.2%,#5dff00 65.6%,#6f0 70%,#72ff00 79.4%,#87ff00 90.4%,#8fff00 100%)"></i><i style="left:94px;width:2px;background:linear-gradient(#00f 24.6%,#00f 25.5%,#0004ff 25.7%,#006cff 27.4%,#008fff 28.1%,#00a6ff 28.8%,#00f3ff 31.8%,#00fffe 32.4%,#00ffb0 36.2%,#00ff9d 37.4%,#00ff87 39%,#00ff20 45.9%,#00ff0f 47.4%,#0f0 49.2%,#0fff00 50.9%,#2cff00 53.3%,#37ff00 54.6%,#64ff00 65.3%,#6dff00 69.2%,#78ff00 78.1%,#8dff00 88.7%,#97ff00 99.9%)"></i><i style="left:96px;width:2px;background:linear-gradient(#00f 25.3%,#00f 26.3%,#0017ff 26.6%,#0065ff 27.7%,#007cff 28.1%,#008eff 28.5%,#00a2ff 29%,#00efff 31.8%,#00feff 32.4%,#00fffc 32.6%,#00ff9e 37.2%,#00ff1d 45.7%,#00ff0e 47%,#0f0 48.5%,#0fff00 50.1%,#2eff00 52.7%,#38ff00 54%,#5dff00 61.4%,#6bff00 65.1%,#92ff00 86.6%,#9dff00 100%)"></i><i style="left:98px;width:2px;background:linear-gradient(#00f 25.9%,#00f 26.7%,#0003ff 26.9%,#0069ff 28.2%,#0080ff 28.5%,#0091ff 28.9%,#00edff 31.9%,#00fffd 32.6%,#00ff9f 37%,#00ff45 43%,#00ff1b 45.6%,#0f0 48%,#38ff00 53.3%,#60ff00 60.7%,#71ff00 64.8%,#98ff00 84.8%,#a4ff00 99.8%)"></i><i style="left:100px;width:2px;background:linear-gradient(#00f 26.4%,#00f 27.1%,#0063ff 28.4%,#007bff 28.8%,#008eff 29.2%,#00f1ff 32.1%,#00fffd 32.7%,#00ff9c 37.1%,#00ff6c 40.1%,#00ff48 42.7%,#00ff19 45.5%,#01ff00 47.7%,#1f0 49.3%,#2eff00 51.8%,#3aff00 53.2%,#64ff00 60.3%,#76ff00 64.3%,#9eff00 83.4%,#a9ff00 99.9%)"></i><i style="left:102px;width:2px;background:linear-gradient(#00f 26.7%,#00f 27.2%,#0009ff 27.4%,#005fff 28.5%,#07f 28.9%,#008aff 29.3%,#00f1ff 32.2%,#00fffd 32.8%,#00ff9d 37%,#00ff6c 40%,#00ff48 42.6%,#00ff1a 45.2%,#01ff00 47.4%,#0fff00 48.9%,#2eff00 51.5%,#3cff00 53%,#6f0 59.6%,#7aff00 64.1%,#a4ff00 82.2%,#aeff00 100%)"></i><i style="left:104px;width:2px;background:linear-gradient(#00f 26.7%,#00f 27.1%,#006fff 28.9%,#008bff 29.5%,#00f0ff 32.3%,#00fffd 32.8%,#00ffab 36.3%,#00ff95 37.5%,#00ff6f 39.7%,#00ff4c 42.3%,#00ff18 45.2%,#01ff00 47.3%,#31ff00 51.5%,#3fff00 53%,#6aff00 59.7%,#7eff00 63.9%,#a9ff00 81.2%,#aeff00 86.7%,#b3ff00 99.9%)"></i><i style="left:106px;width:2px;background:linear-gradient(#00f 26.5%,#0004ff 26.9%,#0017ff 27.4%,#0028ff 27.8%,#0069ff 28.9%,#008dff 29.6%,#00ecff 32.2%,#00feff 32.8%,#00fffa 33%,#00ffa5 36.7%,#00ff7b 38.9%,#00ff4c 42.2%,#00ff18 45.2%,#01ff00 47.2%,#3f0 51.5%,#4f0 53.3%,#6eff00 59.6%,#81ff00 63.7%,#a4ff00 75.9%,#adff00 80.4%,#b3ff00 86.7%,#b8ff00 100%)"></i><i style="left:108px;width:2px;background:linear-gradient(#00f 26.1%,#0025ff 27.4%,#03f 27.8%,#0089ff 29.6%,#00e9ff 32.2%,#00fcff 32.8%,#00fffd 32.9%,#00ffa7 36.6%,#00ff7b 38.9%,#00ff4f 42%,#00ff18 45.2%,#01ff00 47.2%,#3f0 51.5%,#45ff00 53.3%,#6fff00 59.4%,#84ff00 63.7%,#a7ff00 75.2%,#b1ff00 79.6%,#b8ff00 87%,#bdff00 100%)"></i><i style="left:110px;width:2px;background:linear-gradient(#00f 25.5%,#00f 25.7%,#000cff 26.3%,#001bff 26.8%,#007bff 29.2%,#00e9ff 32.2%,#00fffd 32.9%,#00ffa0 37%,#00ff7b 38.9%,#00ff52 41.8%,#00ff19 45.2%,#0f0 47.2%,#34ff00 51.5%,#49ff00 53.7%,#72ff00 59.6%,#87ff00 63.9%,#af0 74.8%,#b3ff00 78.9%,#bdff00 87.6%,#c1ff00 100%)"></i><i style="left:112px;width:2px;background:linear-gradient(#00f 24.8%,#0002ff 25.2%,#000eff 25.6%,#0024ff 26.7%,#002fff 27%,#00eaff 32.2%,#00fffd 33%,#00ffe2 34.1%,#00ff7b 38.9%,#00ff52 41.9%,#00ff1b 45.2%,#0f0 47.2%,#36ff00 51.7%,#4aff00 53.7%,#74ff00 59.6%,#8aff00 64.1%,#acff00 74.5%,#b5ff00 78.5%,#c1ff00 88.2%,#c5ff00 99.8%)"></i><i style="left:114px;width:2px;background:linear-gradient(#00f 24%,#0002ff 24.9%,#0029ff 26%,#004dff 27.5%,#0073ff 28.8%,#00e7ff 32.1%,#00feff 32.9%,#00fffb 33.1%,#00ff7a 39%,#0f5 41.8%,#00ff19 45.5%,#01ff00 47.5%,#38ff00 51.9%,#4bff00 54%,#73ff00 59.5%,#8cff00 64.3%,#aeff00 74.3%,#b6ff00 77.9%,#c5ff00 89%,#c9ff00 99.9%)"></i><i style="left:116px;width:2px;background:linear-gradient(#00f 23%,#00f 23.8%,#0016ff 24.9%,#003dff 26.3%,#0067ff 28.2%,#08f 29.3%,#00e7ff 32.1%,#00fdff 32.8%,#00fffc 33%,#00ffaf 36.7%,#00ff7c 38.9%,#00ff54 41.9%,#00ff1c 45.4%,#01ff00 47.6%,#38ff00 52.1%,#4dff00 54.3%,#73ff00 59.5%,#8eff00 64.7%,#afff00 74.1%,#b8ff00 77.5%,#c8ff00 89.3%,#cdff00 99.9%)"></i><i style="left:118px;width:2px;background:linear-gradient(#00f 21.9%,#00f 23.1%,#02f 24.4%,#004aff 26.6%,#0061ff 27.7%,#0084ff 29%,#00e4ff 31.9%,#00feff 32.9%,#00fffb 33.1%,#00ffe3 34.2%,#00ffb1 36.8%,#00ff7b 39.2%,#00ff58 41.8%,#00ff2c 44.5%,#0f0 47.7%,#3aff00 52.5%,#50ff00 54.7%,#71ff00 59.4%,#8fff00 65.1%,#b1ff00 74.5%,#b9ff00 77.5%,#cf0 91%,#d0ff00 96.2%,#cfff00 99.9%)"></i><i style="left:120px;width:2px;background:linear-gradient(#00f 20.8%,#0002ff 21.9%,#0060ff 27.3%,#007fff 28.6%,#00e5ff 31.9%,#00fdff 32.8%,#00fffc 33%,#00ffe1 34.3%,#00ffb2 36.9%,#00ff7b 39.3%,#00ff58 41.9%,#00ff25 45.2%,#01ff00 48%,#3bff00 52.8%,#52ff00 55.2%,#6dff00 58.9%,#90ff00 65.4%,#b2ff00 74.7%,#baff00 77.7%,#cfff00 92.5%,#d2ff00 99.9%)"></i><i style="left:122px;width:2px;background:linear-gradient(#00f 19.6%,#00f 20.9%,#001dff 22.4%,#0034ff 24.2%,#005bff 26.6%,#007bff 28.1%,#00d6ff 31.2%,#00fffe 32.9%,#00ffe0 34.4%,#00ffb4 37%,#0f8 38.8%,#00ff7a 39.6%,#00ff5c 41.8%,#00ff34 44.4%,#00ff01 48.1%,#3dff00 53.3%,#56ff00 55.9%,#6dff00 59.2%,#92ff00 66.1%,#b5ff00 75.5%,#c2ff00 81.4%,#d2ff00 93.5%,#d3ff00 100%)"></i><i style="left:124px;width:2px;background:linear-gradient(#00f 18.3%,#00f 19.6%,#0023ff 22%,#0040ff 24.4%,#0057ff 25.9%,#007cff 27.8%,#00d5ff 31.1%,#00fffd 32.9%,#00ffe0 34.4%,#00ffb1 37.4%,#00ff7d 39.6%,#00ff5a 42.2%,#00ff32 44.8%,#01ff00 48.5%,#3fff00 53.7%,#5aff00 56.7%,#82ff00 63.3%,#95ff00 67%,#b5ff00 75.5%,#c5ff00 82.6%,#d4ff00 93.7%,#d5ff00 100%)"></i><i style="left:126px;width:2px;background:linear-gradient(#00f 17%,#0001ff 18.5%,#02f 21.1%,#0039ff 23.3%,#0053ff 25.2%,#007dff 27.4%,#00d9ff 31.1%,#00faff 32.6%,#00fffd 33%,#00ffdb 34.8%,#00ffb5 37.4%,#00ff7b 40%,#01ff00 48.7%,#3fff00 54.1%,#59ff00 56.8%,#82ff00 63.7%,#95ff00 67.4%,#b7ff00 75.9%,#c7ff00 83.3%,#d5ff00 93.7%,#d5ff00 100%)"></i><i style="left:128px;width:2px;background:linear-gradient(#00f 15.7%,#0002ff 17.4%,#0038ff 22.6%,#004bff 24.1%,#007fff 27%,#00dcff 31.1%,#00feff 32.8%,#00fffc 32.9%,#00ffdc 34.8%,#00ffb2 37.8%,#00ff87 39.6%,#00ff7a 40.4%,#00ff0b 48.1%,#02ff00 49.1%,#3fff00 54.4%,#5dff00 57.8%,#8cff00 66.1%,#aeff00 73.7%,#bcff00 77.8%,#cf0 85.5%,#d5ff00 93.7%,#d5ff00 100%)"></i><i style="left:130px;width:2px;background:linear-gradient(#00f 14.4%,#0001ff 15.9%,#0009ff 17%,#0037ff 21.8%,#0049ff 23.3%,#0081ff 26.7%,#00d3ff 30.5%,#0ff 32.8%,#0fd 34.8%,#00ffb7 37.8%,#00ffa9 38.5%,#00ff86 40%,#00ff79 40.7%,#0f0 49.2%,#3fff00 54.8%,#5dff00 58.1%,#8dff00 66.7%,#afff00 74.1%,#bcff00 78.1%,#cf0 85.9%,#d5ff00 93.7%,#d5ff00 100%)"></i><i style="left:132px;width:2px;background:linear-gradient(#00f 13.2%,#00f 14.6%,#000cff 16.3%,#03f 20.8%,#0048ff 22.6%,#005dff 24.1%,#0083ff 26.3%,#00dbff 30.8%,#00fffe 32.8%,#0fd 34.8%,#00ffb4 38.2%,#00ff84 40.4%,#00ff78 41.1%,#01ff00 49.6%,#42ff00 55.6%,#5cff00 58.5%,#8dff00 67.2%,#aeff00 74.1%,#bcff00 78.5%,#ceff00 86.7%,#d5ff00 93.7%,#d5ff00 99.8%)"></i><i style="left:134px;width:2px;background:linear-gradient(#00f 11.9%,#0001ff 13.4%,#000eff 15.6%,#0032ff 19.9%,#0047ff 21.9%,#005eff 23.6%,#0086ff 26%,#0ff 32.7%,#00ffdb 35.1%,#00ffb7 38.2%,#00ff7d 41.2%,#0f0 49.9%,#40ff00 55.8%,#5bff00 58.8%,#8eff00 68%,#aeff00 74.5%,#c1ff00 80.6%,#ceff00 86.9%,#d5ff00 94.1%,#d5ff00 99.9%)"></i><i style="left:136px;width:2px;background:linear-gradient(#00f 10.7%,#0001ff 12.2%,#0012ff 15.2%,#002fff 18.9%,#0045ff 21.1%,#006fff 24.1%,#00f2ff 31.9%,#00fffd 32.8%,#00ffda 35.2%,#00ffb6 38.5%,#00ff7e 41.5%,#00ff4c 44.8%,#01ff00 50.4%,#41ff00 56.3%,#5bff00 59.3%,#adff00 74.8%,#c0ff00 80.7%,#cf0 86.3%,#d4ff00 93.7%,#d4ff00 100%)"></i><i style="left:138px;width:2px;background:linear-gradient(#00f 9.6%,#0001ff 11.1%,#0014ff 14.6%,#002fff 18.1%,#0048ff 20.7%,#0060ff 22.6%,#09f 26.3%,#0ff 32.6%,#00ffdb 35.2%,#00ffb5 38.9%,#00ff7f 41.8%,#00ff4c 45.2%,#00ff2b 47.8%,#01ff00 50.7%,#40ff00 56.6%,#5aff00 59.6%,#adff00 75.2%,#c0ff00 81.1%,#cf0 86.6%,#d3ff00 93.3%,#d4ff00 100%)"></i><i style="left:140px;width:2px;background:linear-gradient(#00f 8.5%,#00f 9.8%,#0014ff 13.9%,#0029ff 16.7%,#0047ff 20%,#0068ff 22.6%,#00fffe 32.6%,#00ffdc 35.2%,#00ffb3 39.3%,#00ff84 41.9%,#00ff54 45%,#0f0 51.1%,#3fff00 57.1%,#56ff00 59.7%,#abff00 75.2%,#bcff00 80%,#c9ff00 86%,#d2ff00 92.6%,#d3ff00 99.8%)"></i><i style="left:142px;width:2px;background:linear-gradient(#00f 7.6%,#00f 8.9%,#0015ff 13.3%,#0028ff 15.9%,#0045ff 19.2%,#0067ff 22%,#00fffe 32.6%,#0fd 35.1%,#00ffb2 39.6%,#00ff86 42.2%,#00ff53 45.5%,#01ff00 51.6%,#3eff00 57.4%,#56ff00 60.1%,#abff00 75.9%,#beff00 81.4%,#caff00 87.6%,#d1ff00 93.7%,#d2ff00 100%)"></i><i style="left:144px;width:2px;background:linear-gradient(#00f 6.6%,#00f 7.9%,#0015ff 12.6%,#0027ff 15.2%,#0046ff 18.7%,#06f 21.5%,#00fffe 32.6%,#00ffdc 35.3%,#00ffc1 38.5%,#00ffb0 40%,#00ff51 46.1%,#00ff01 52%,#3dff00 57.8%,#54ff00 60.3%,#78ff00 67.4%,#af0 76.3%,#bcff00 81.5%,#c8ff00 87.4%,#cfff00 93.5%,#d1ff00 100%)"></i><i style="left:146px;width:2px;background:linear-gradient(#00f 5.8%,#00f 7.1%,#0016ff 12.1%,#0027ff 14.5%,#0047ff 18.2%,#0069ff 21.2%,#0ff 32.5%,#00ffdc 35.4%,#00ffbe 38.9%,#00ffb0 40.2%,#00ff4e 46.7%,#01ff00 52.7%,#3bff00 58%,#53ff00 60.8%,#7f0 68%,#a9ff00 76.7%,#bf0 81.9%,#c6ff00 87.3%,#ceff00 93.6%,#cfff00 99.9%)"></i><i style="left:148px;width:2px;background:linear-gradient(#00f 5%,#0001ff 6.3%,#0016ff 11.3%,#0026ff 13.7%,#0046ff 17.4%,#006aff 20.8%,#00fffe 32.4%,#00ffdb 35.6%,#00ffbd 39.3%,#00ffad 40.8%,#00ff4a 47.4%,#01ff00 53.2%,#38ff00 58.2%,#52ff00 61.1%,#76ff00 68.6%,#a7ff00 77.1%,#b8ff00 81.9%,#c4ff00 87.1%,#cf0 93.7%,#cdff00 99.8%)"></i><i style="left:150px;width:2px;background:linear-gradient(#00f 4.3%,#00f 5.5%,#0016ff 10.8%,#0025ff 13.1%,#04f 16.8%,#0069ff 20.3%,#00fffd 32.5%,#00ffdb 35.6%,#00ffbe 39.3%,#00ffad 41%,#00ff48 48.1%,#0f0 53.6%,#36ff00 58.4%,#4eff00 61.2%,#5bff00 63.4%,#75ff00 69.2%,#a5ff00 77.5%,#b6ff00 82.3%,#c3ff00 87.5%,#caff00 93.8%,#cf0 99.9%)"></i><i style="left:152px;width:2px;background:linear-gradient(#00f 3.7%,#00f 4.8%,#0017ff 10.4%,#0026ff 12.6%,#0045ff 16.3%,#006bff 20%,#00fffe 32.4%,#0fd 35.6%,#00ffbd 39.7%,#00ffab 41.5%,#00ff42 48.9%,#00ff01 54.1%,#36ff00 58.9%,#4dff00 61.5%,#5aff00 63.7%,#74ff00 69.7%,#a3ff00 77.8%,#b4ff00 82.6%,#c1ff00 87.8%,#c7ff00 93.4%,#c9ff00 99.8%)"></i><i style="left:154px;width:2px;background:linear-gradient(#00f 3.2%,#00f 4.3%,#0016ff 9.7%,#0025ff 11.9%,#0043ff 15.6%,#0070ff 20%,#0ff 32.3%,#0fd 35.6%,#00ffbc 40%,#0fa 41.9%,#00ff80 45%,#00ff40 49.5%,#0f0 54.7%,#32ff00 58.9%,#4cff00 61.9%,#5aff00 64.3%,#73ff00 70.2%,#a1ff00 78.2%,#b2ff00 83%,#beff00 88.2%,#c5ff00 93.7%,#c7ff00 99.9%)"></i><i style="left:156px;width:2px;background:linear-gradient(#00f 2.7%,#00f 3.8%,#0016ff 9.2%,#0025ff 11.4%,#0040ff 14.7%,#006fff 19.6%,#00fffe 32.3%,#0fd 35.7%,#0fb 40.3%,#00ffa8 42.3%,#00ff82 45.3%,#00ff3b 50.3%,#02ff00 55.3%,#34ff00 59.6%,#4cff00 62.3%,#59ff00 64.7%,#71ff00 70.7%,#9fff00 78.6%,#b0ff00 83.5%,#bcff00 88.5%,#c2ff00 93.8%,#c5ff00 99.9%)"></i><i style="left:158px;width:2px;background:linear-gradient(#00f 2.3%,#0001ff 3.4%,#0015ff 8.6%,#0024ff 10.8%,#003fff 14.1%,#0070ff 19.3%,#0ff 32.3%,#0fd 35.8%,#00ffbc 40.4%,#00ffa5 42.8%,#00ff83 45.6%,#00ff38 51%,#02ff00 55.8%,#31ff00 59.7%,#4aff00 62.7%,#58ff00 65.3%,#70ff00 71.2%,#9dff00 79%,#aeff00 83.8%,#b9ff00 88.6%,#c0ff00 93.8%,#c2ff00 99.9%)"></i><i style="left:160px;width:2px;background:linear-gradient(#00f 1.9%,#00f 2.9%,#0015ff 8%,#0021ff 10.1%,#0039ff 13%,#006fff 19%,#0ff 32.3%,#00ffde 35.8%,#00ffba 40.8%,#00ffa2 43.4%,#00ff83 46%,#00ff36 51.6%,#0f0 56.2%,#30ff00 60.1%,#48ff00 62.9%,#56ff00 65.5%,#6fff00 71.7%,#9aff00 79.2%,#abff00 84%,#b7ff00 88.8%,#bdff00 93.8%,#c0ff00 99.9%)"></i><i style="left:162px;width:2px;background:linear-gradient(#00f 1.6%,#00f 2.5%,#0014ff 7.5%,#0034ff 12%,#006eff 18.5%,#0df 28.8%,#00fffe 32.4%,#00ffde 35.9%,#00ffba 41.1%,#00ffa3 43.7%,#00ff85 46.3%,#0f3 52.2%,#0f0 56.6%,#2eff00 60.3%,#48ff00 63.3%,#5f0 65.9%,#6eff00 72.2%,#98ff00 79.6%,#a9ff00 84.4%,#b4ff00 89.2%,#bf0 94%,#beff00 100%)"></i><i style="left:164px;width:2px;background:linear-gradient(#00f 1.4%,#00f 2.3%,#0014ff 7.1%,#0030ff 11.2%,#0072ff 18.6%,#0ff 32.3%,#00ffde 36%,#00ffb8 41.5%,#00ffa1 44.1%,#00ff83 46.7%,#00ff2e 53%,#0f0 57.1%,#2fff00 60.8%,#46ff00 63.6%,#5f0 66.4%,#6dff00 72.7%,#95ff00 79.7%,#a4ff00 84.1%,#b2ff00 89.3%,#b8ff00 94.1%,#bf0 99.9%)"></i><i style="left:166px;width:2px;background:linear-gradient(#00f 1.1%,#00f 2.1%,#0014ff 6.7%,#0030ff 10.8%,#0074ff 18.5%,#0ff 32.2%,#0fd 36.1%,#00ffb8 41.7%,#00ffa0 44.5%,#00ff83 47.1%,#00ff2a 53.7%,#01ff00 57.6%,#2eff00 61.1%,#45ff00 63.9%,#54ff00 66.7%,#6dff00 73.4%,#93ff00 80%,#a1ff00 84.1%,#afff00 89.7%,#b6ff00 94.5%,#b9ff00 99.8%)"></i><i style="left:168px;width:2px;background:linear-gradient(#00f .9%,#00f 1.9%,#0013ff 6.3%,#002cff 10%,#0073ff 18.2%,#00d5ff 27.8%,#0ff 32.2%,#0fd 36.3%,#00ffb6 42.2%,#00ff9f 44.8%,#00ff82 47.4%,#00ff2a 54.1%,#0f0 58%,#2dff00 61.5%,#43ff00 64.1%,#53ff00 67.1%,#6cff00 73.7%,#91ff00 80.4%,#a0ff00 84.8%,#aeff00 90.4%,#b7ff00 99.8%)"></i><i style="left:170px;width:2px;background:linear-gradient(#00f .8%,#00f 1.7%,#0012ff 5.8%,#002bff 9.5%,#0075ff 18.2%,#00d2ff 27.5%,#0ff 32.3%,#0fd 36.3%,#00ffb7 42.3%,#00ffa0 45.1%,#00ff85 47.5%,#00ff28 54.7%,#0f0 58.4%,#2bff00 61.7%,#42ff00 64.5%,#52ff00 67.5%,#6cff00 74.1%,#8fff00 80.8%,#9dff00 84.9%,#acff00 90.6%,#b4ff00 99.9%)"></i><i style="left:172px;width:2px;background:linear-gradient(#00f .7%,#0001ff 1.6%,#0012ff 5.5%,#0029ff 9%,#0076ff 18.1%,#00d2ff 27.3%,#0ff 32.3%,#0fd 36.4%,#00ffb5 42.7%,#00ffa0 45.3%,#00ff83 47.9%,#00ff27 55.1%,#0f0 58.8%,#2bff00 62.1%,#42ff00 64.9%,#52ff00 68.1%,#6cff00 74.7%,#8dff00 81%,#9bff00 84.9%,#af0 90.8%,#b0ff00 95.5%,#b2ff00 99.9%)"></i><i style="left:174px;width:2px;background:linear-gradient(#00f .6%,#0001ff 1.5%,#0012ff 5.2%,#0028ff 8.5%,#0076ff 17.8%,#00d3ff 27.4%,#00fffe 32.4%,#00ffdc 36.7%,#00ffb5 43%,#00ff9f 45.6%,#00ff83 48.2%,#00ff25 55.6%,#01ff00 59.3%,#28ff00 62.2%,#41ff00 65.2%,#51ff00 68.3%,#6bff00 75.2%,#8cff00 81.5%,#9f0 85.2%,#a8ff00 91.1%,#aeff00 95.6%,#b0ff00 100%)"></i><i style="left:176px;width:2px;background:linear-gradient(#00f .5%,#0001ff 1.4%,#0010ff 4.7%,#0028ff 8.2%,#07f 17.7%,#00d0ff 27%,#0ff 32.3%,#0fd 36.6%,#00ffb5 43.1%,#00ffa0 45.7%,#00ff80 48.6%,#00ff26 55.8%,#0f0 59.5%,#27ff00 62.5%,#41ff00 65.7%,#51ff00 68.8%,#6bff00 75.7%,#8aff00 81.8%,#97ff00 85.7%,#a5ff00 91.2%,#aeff00 99.9%)"></i><i style="left:178px;width:2px;background:linear-gradient(#00f .4%,#00f 1.1%,#0010ff 4.5%,#0026ff 7.8%,#0078ff 17.6%,#00d1ff 27.1%,#0ff 32.4%,#0fd 36.7%,#00ffb7 43%,#00ffa1 45.8%,#00ff7f 48.9%,#00ff24 56.3%,#0f0 59.8%,#28ff00 63%,#41ff00 66.1%,#51ff00 69.3%,#6cff00 76.3%,#89ff00 82.3%,#97ff00 86.3%,#a3ff00 91.5%,#acff00 99.8%)"></i><i style="left:180px;width:2px;background:linear-gradient(#00f .3%,#00f 1.1%,#000fff 4%,#0025ff 7.4%,#0079ff 17.6%,#00ceff 26.6%,#0ff 32.4%,#0fd 36.8%,#00ffb6 43.3%,#00ffa1 45.9%,#00ff7e 49.2%,#00ff24 56.6%,#00ff10 58.9%,#0f0 60.2%,#24ff00 62.9%,#41ff00 66.6%,#87ff00 82.6%,#95ff00 86.6%,#a2ff00 91.8%,#a9ff00 100%)"></i><i style="left:182px;width:2px;background:linear-gradient(#00f .3%,#00f 1%,#000cff 3.4%,#0023ff 7%,#0078ff 17.3%,#00cfff 26.8%,#0ff 32.5%,#0fd 37%,#00ffb7 43.3%,#00ffa2 46%,#00ff7a 49.7%,#00ff26 56.8%,#00ff10 59.2%,#0f0 60.5%,#1aff00 62.3%,#2eff00 64.4%,#40ff00 67%,#50ff00 70.3%,#92ff00 86.6%,#a2ff00 93.6%,#a7ff00 99.9%)"></i><i style="left:184px;width:2px;background:linear-gradient(#00f .3%,#00f 1%,#000aff 2.9%,#0023ff 6.7%,#0079ff 17.3%,#00ceff 26.6%,#0ff 32.5%,#00ffde 36.9%,#00ffb7 43.4%,#00ffa3 46%,#00ff7a 49.9%,#00ff25 57.1%,#00ff0f 59.5%,#01ff00 60.8%,#1aff00 62.7%,#2dff00 64.7%,#40ff00 67.5%,#50ff00 70.8%,#91ff00 87.1%,#a0ff00 93.8%,#a5ff00 99.9%)"></i><i style="left:186px;width:2px;background:linear-gradient(#00f .2%,#0001ff 1.2%,#0021ff 6.3%,#0079ff 17.1%,#00d0ff 26.7%,#00fffe 32.6%,#0fd 37.1%,#00ffb7 43.6%,#00ffa3 46.2%,#0f7 50.4%,#00ff24 57.5%,#0f1 59.7%,#0f0 61%,#19ff00 62.8%,#2aff00 64.7%,#3fff00 67.8%,#51ff00 71.5%,#90ff00 87.5%,#9eff00 93.8%,#a3ff00 99.9%)"></i><i style="left:188px;width:2px;background:linear-gradient(#00f .2%,#0001ff 1.1%,#0020ff 6%,#007aff 17.1%,#00ceff 26.5%,#0ff 32.6%,#00ffde 37.1%,#00ffb6 43.7%,#00ffa3 46.3%,#00ff75 50.8%,#00ff28 57.4%,#00ff10 60%,#01ff00 61.3%,#18ff00 63%,#28ff00 64.8%,#40ff00 68.5%,#52ff00 72.3%,#8eff00 87.8%,#9cff00 94.1%,#a0ff00 99.8%)"></i><i style="left:190px;width:2px;background:linear-gradient(#00f .2%,#00f .9%,#0021ff 5.9%,#007bff 17.1%,#0cf 26.3%,#0ff 32.6%,#00ffde 37.1%,#00ffb7 43.7%,#00ffa4 46.3%,#0f7 50.8%,#00ff26 57.8%,#00ff10 60.4%,#0f0 61.5%,#15ff00 63%,#26ff00 64.8%,#40ff00 68.9%,#5f0 73.3%,#8dff00 88.2%,#9f0 94.1%,#9eff00 99.8%)"></i><i style="left:192px;width:2px;background:linear-gradient(#00f .2%,#00f .9%,#001fff 5.6%,#007eff 17.4%,#00d0ff 26.7%,#00fffe 32.8%,#00ffdf 37%,#00ffb8 43.7%,#00ffa5 46.3%,#00ff74 51.1%,#00ff25 58.1%,#00ff13 60.4%,#01ff00 61.9%,#17ff00 63.3%,#23ff00 64.8%,#41ff00 69.6%,#5aff00 75.2%,#8cff00 88.9%,#98ff00 94.8%,#9cff00 100%)"></i><i style="left:194px;width:2px;background:linear-gradient(#00f .2%,#00f .9%,#001dff 5.2%,#007fff 17.4%,#00d0ff 26.7%,#0ff 32.8%,#00ffe0 37%,#00ffb6 44.1%,#00ffa5 46.3%,#00ff76 51.1%,#00ff28 58.1%,#00ff12 60.7%,#01ff00 62%,#14ff00 63.3%,#21ff00 64.8%,#42ff00 70.4%,#5bff00 75.9%,#8bff00 89.3%,#96ff00 94.8%,#9f0 100%)"></i><i style="left:196px;width:2px;background:linear-gradient(#00f .2%,#00f .9%,#001bff 4.8%,#0080ff 17.4%,#00ceff 26.5%,#0ff 32.8%,#00ffe0 37%,#00ffb8 43.9%,#00ffa6 46.3%,#00ff73 51.5%,#00ff26 58.5%,#00ff12 60.9%,#0f0 62.2%,#16ff00 63.7%,#21ff00 65%,#42ff00 70.7%,#5dff00 76.7%,#89ff00 89.6%,#94ff00 95.2%,#97ff00 100%)"></i><i style="left:198px;width:2px;background:linear-gradient(#00f .2%,#00f .9%,#001bff 4.6%,#0081ff 17.4%,#0cf 26.3%,#0ff 32.8%,#00ffde 37.4%,#00ffb9 43.7%,#00ffa7 46.3%,#00ff75 51.5%,#00ff29 58.5%,#00ff13 61.1%,#02ff00 62.6%,#13ff00 63.7%,#20ff00 65.2%,#43ff00 71.5%,#5eff00 77.4%,#8f0 90%,#92ff00 95.5%,#95ff00 100%)"></i><i style="left:200px;width:2px;background:linear-gradient(#00f .2%,#00f .9%,#0018ff 4.2%,#0080ff 17.2%,#0cf 26.3%,#00fffe 32.9%,#00ffe0 37.2%,#00ffb7 44%,#00ffa6 46.5%,#00ff72 51.8%,#00ff27 58.9%,#00ff14 61.3%,#02ff00 62.8%,#15ff00 64%,#20ff00 65.3%,#4f0 72.2%,#5eff00 77.9%,#86ff00 90.3%,#90ff00 95.5%,#93ff00 100%)"></i><i style="left:202px;width:2px;background:linear-gradient(#00f .2%,#00f .9%,#0015ff 3.7%,#0cf 26.3%,#0ff 32.9%,#00ffe0 37.2%,#00ffb8 44%,#00ffa6 46.5%,#00ff73 51.8%,#00ff29 58.9%,#00ff14 61.5%,#01ff00 62.9%,#15ff00 64.2%,#1fff00 65.5%,#47ff00 73.1%,#5fff00 78.5%,#85ff00 90.7%,#8eff00 95.9%,#91ff00 100%)"></i><i style="left:204px;width:2px;background:linear-gradient(#00f .2%,#00f .9%,#0010ff 2.9%,#0ff 32.9%,#00ffa6 46.5%,#00ff74 51.8%,#00ff27 59.2%,#00ff14 61.6%,#01ff00 63.1%,#14ff00 64.4%,#1fff00 65.7%,#5eff00 78.9%,#84ff00 91.1%,#8cff00 95.9%,#8fff00 100%)"></i><i style="left:206px;width:2px;background:linear-gradient(#00f .2%,#00f .9%,#0004ff 1.4%,#0ff 32.9%,#00ffa6 46.4%,#00ff73 52%,#00ff29 59.2%,#00ff14 61.8%,#0f0 63.3%,#13ff00 64.6%,#1eff00 65.9%,#5eff00 79.2%,#83ff00 91.4%,#8eff00 100%)"></i><i style="left:208px;width:2px;background:linear-gradient(#00f .2%,#0002ff 1.1%,#00d7ff 27.7%,#00fffe 33.1%,#00ffa6 46.4%,#00ff72 52.2%,#00ff27 59.6%,#00ff14 62%,#0f0 63.5%,#13ff00 64.8%,#1fff00 66.3%,#5eff00 79.6%,#81ff00 91.8%,#8cff00 100%)"></i><i style="left:210px;width:2px;background:linear-gradient(#00f .2%,#0002ff 1.1%,#00cbff 26.3%,#0ff 33.1%,#00ffa8 46.3%,#00ff73 52.2%,#00ff29 59.6%,#00ff14 62.2%,#00ff01 63.7%,#14ff00 65.2%,#1dff00 66.3%,#5eff00 80%,#80ff00 92%,#8aff00 100%)"></i><i style="left:212px;width:2px;background:linear-gradient(#00f .1%,#00f .9%,#003aff 7.9%,#0ff 33.1%,#00ffa8 46.3%,#00ff74 52.2%,#00ff2a 59.6%,#00ff16 62.2%,#02ff00 64%,#13ff00 65.3%,#1eff00 66.6%,#5eff00 80.3%,#7fff00 92.4%,#8f0 100%)"></i><i style="left:214px;width:2px;background:linear-gradient(#00f .1%,#00f .9%,#0039ff 7.7%,#0ff 33.1%,#00ffa8 46.3%,#00ff74 52.2%,#00ff28 60%,#00ff14 62.6%,#02ff00 64.2%,#13ff00 65.5%,#1eff00 67%,#5dff00 80.7%,#7eff00 92.9%,#86ff00 100%)"></i><i style="left:216px;width:2px;background:linear-gradient(#00f .1%,#00f .9%,#0039ff 7.7%,#00fffe 33.3%,#00ffa8 46.3%,#00ff73 52.4%,#00ff54 55.3%,#00ff29 60%,#00ff15 62.6%,#02ff00 64.4%,#14ff00 65.9%,#1dff00 67.2%,#5dff00 81.1%,#7dff00 93.3%,#84ff00 100%)"></i><i style="left:218px;width:2px;background:linear-gradient(#00f .1%,#00f .9%,#0035ff 7.2%,#0ff 33.3%,#00ffa8 46.3%,#00ff72 52.6%,#00ff51 55.7%,#00ff13 62.9%,#01ff00 64.6%,#1f0 65.9%,#1dff00 67.6%,#5dff00 81.4%,#6aff00 85.9%,#7cff00 93.7%,#82ff00 100%)"></i><i style="left:220px;width:2px;background:linear-gradient(#00f .1%,#00f .9%,#0031ff 6.6%,#0ff 33.3%,#00ffa7 46.3%,#00ff72 52.6%,#00ff53 55.5%,#00ff14 62.9%,#01ff00 64.8%,#12ff00 66.3%,#1cff00 67.7%,#5dff00 81.8%,#75ff00 91.4%,#7eff00 96.3%,#80ff00 100%)"></i><i style="left:222px;width:2px;background:linear-gradient(#00f .1%,#00f .9%,#002eff 6.3%,#0ff 33.3%,#00ffa9 46.1%,#00ff72 52.6%,#00ff52 55.7%,#00ff15 62.9%,#01ff00 65%,#13ff00 66.6%,#1dff00 68.1%,#5cff00 82%,#74ff00 91.4%,#7cff00 96.3%,#7eff00 100%)"></i><i style="left:224px;width:4px;background:linear-gradient(#00f .1%,#00f .9%,#002dff 6.1%,#00fffe 33.5%,#0fa 45.9%,#00ff73 52.6%,#00ff51 55.9%,#00ff13 63.3%,#0f0 65.1%,#1f0 66.8%,#1cff00 68.5%,#5cff00 82.6%,#71ff00 91.1%,#7aff00 96.6%,#7cff00 100%)"></i><i style="left:228px;width:4px;background:linear-gradient(#00f .1%,#00f .9%,#0029ff 5.5%,#0ff 33.5%,#00ffac 45.5%,#00ff73 52.6%,#00ff52 55.9%,#0f0 65.5%,#1f0 67.4%,#1dff00 69.2%,#5bff00 82.9%,#6fff00 91.1%,#78ff00 100%)"></i><i style="left:232px;width:4px;background:linear-gradient(#00f .1%,#00f .9%,#0026ff 5.1%,#0ff 33.5%,#00ffae 45.1%,#00ff73 52.6%,#00ff4f 56.3%,#01ff00 65.9%,#10ff00 67.7%,#1cff00 69.8%,#5aff00 83.3%,#6dff00 91.3%,#76ff00 100%)"></i><i style="left:236px;width:4px;background:linear-gradient(#00f .1%,#00f .9%,#0026ff 5.1%,#00fffe 33.7%,#0fb 43.3%,#00ff8b 49.2%,#00ff75 52.4%,#00ff4f 56.3%,#0f0 66.1%,#1cff00 70.3%,#59ff00 83.7%,#6cff00 91.8%,#73ff00 100%)"></i><i style="left:240px;width:4px;background:linear-gradient(#00f .1%,#00f .9%,#0025ff 5%,#0ff 33.7%,#00ffc0 42.6%,#00ff8c 49%,#00ff74 52.4%,#00ff4c 56.6%,#01ff00 66.4%,#1cff00 70.7%,#58ff00 84%,#6cff00 92.6%,#72ff00 100%)"></i><i style="left:244px;width:4px;background:linear-gradient(#00f .1%,#00f .9%,#0023ff 4.8%,#0ff 33.7%,#00ffd0 40.3%,#00ff8c 48.9%,#00ff74 52.4%,#00ff4c 56.6%,#0f0 66.6%,#1cff00 71.1%,#45ff00 79.8%,#57ff00 84.2%,#6bff00 92.9%,#71ff00 100%)"></i><i style="left:248px;width:4px;background:linear-gradient(#00f .1%,#00f .9%,#0024ff 4.8%,#00fffe 33.9%,#00ffd0 40.3%,#00ff8c 48.9%,#00ff72 52.6%,#00ff4d 56.6%,#0f0 66.8%,#16ff00 70.3%,#37ff00 77%,#56ff00 84.2%,#69ff00 92%,#6fff00 100%)"></i><i style="left:252px;width:4px;background:linear-gradient(#00f .1%,#00f .9%,#0024ff 4.8%,#00b0ff 23.7%,#0ff 33.9%,#00ffd4 39.8%,#00ff91 48.1%,#00ff72 52.6%,#00ff4a 57%,#0f0 67%,#15ff00 70.3%,#3aff00 77.7%,#54ff00 84%,#67ff00 91.8%,#6eff00 100%)"></i><i style="left:256px;width:4px;background:linear-gradient(#00f .1%,#00f .9%,#0024ff 4.8%,#00afff 23.7%,#0ff 33.9%,#00ffd6 39.6%,#00ff90 48.1%,#00ff72 52.6%,#00ff50 56.3%,#00ff28 61.4%,#0f0 67.2%,#15ff00 70.5%,#3bff00 78.1%,#5f0 84.2%,#6f0 91.1%,#6cff00 96.1%,#6bff00 100%)"></i><i style="left:260px;width:4px;background:linear-gradient(#00f .1%,#00f .9%,#0024ff 4.8%,#00acff 23.3%,#0ff 33.9%,#00ffd7 39.4%,#00ff92 47.7%,#00ff71 52.6%,#00ff50 56.3%,#00ff2a 61.1%,#0f0 67.2%,#3bff00 78.1%,#5f0 84.4%,#68ff00 92.2%,#6bff00 97%,#69ff00 100%)"></i><i style="left:264px;width:4px;background:linear-gradient(#00f .1%,#00f .9%,#0024ff 4.8%,#00a9ff 22.9%,#0ff 33.9%,#00ffd8 39.2%,#00ff94 47.4%,#00ff71 52.6%,#00ff50 56.3%,#00ff2a 61.1%,#00ff01 67.2%,#3cff00 78.1%,#5f0 84.4%,#67ff00 92.2%,#6aff00 100%)"></i><i style="left:268px;width:4px;background:linear-gradient(#00f .1%,#00f .9%,#0024ff 4.8%,#00a3ff 22.2%,#0ff 33.9%,#00ffd8 39.2%,#00ff98 46.8%,#00ff70 52.6%,#00ff2d 60.7%,#0f0 67.4%,#14ff00 70.5%,#3cff00 78.1%,#56ff00 84.8%,#68ff00 92.9%,#6cff00 100%)"></i><i style="left:272px;width:4px;background:linear-gradient(#00f .1%,#00f .9%,#0024ff 4.8%,#0098ff 20.7%,#0ff 33.9%,#00ffd9 39%,#00ff9c 46.3%,#00ff70 52.6%,#00ff2d 60.7%,#0f0 67.4%,#15ff00 70.5%,#3bff00 77.7%,#51ff00 83.3%,#6bff00 93.7%,#6eff00 100%)"></i><i style="left:276px;width:4px;background:linear-gradient(#00f .1%,#00f .9%,#0024ff 4.8%,#008dff 19.2%,#0ff 33.9%,#00ffda 38.9%,#00ff9e 45.9%,#00ff6e 52.7%,#00ff2d 60.7%,#0f0 67.4%,#16ff00 70.7%,#39ff00 77.4%,#51ff00 83.3%,#6bff00 93.7%,#6eff00 100%)"></i><i style="left:280px;width:4px;background:linear-gradient(#00f .1%,#00f .9%,#0024ff 4.8%,#0051ff 10.7%,#0087ff 18.5%,#00fffe 33.9%,#00ffd9 38.9%,#00ff9d 45.9%,#00ff6f 52.6%,#00ff2b 61.1%,#0f0 67.4%,#16ff00 70.7%,#35ff00 76.6%,#50ff00 83.3%,#5fff00 88.1%,#6bff00 94%,#6eff00 100%)"></i><i style="left:284px;width:4px;background:linear-gradient(#00f .1%,#00f .9%,#0024ff 4.8%,#0050ff 10.5%,#0085ff 18.1%,#0ff 33.7%,#00ffd9 38.9%,#00ffa0 45.5%,#00ff6f 52.6%,#00ff2b 61.1%,#0f0 67.4%,#16ff00 70.7%,#31ff00 75.9%,#52ff00 84%,#65ff00 90.9%,#6cff00 96.3%,#6cff00 100%)"></i><i style="left:288px;width:4px;background:linear-gradient(#00f .1%,#00f .9%,#0026ff 5%,#004fff 10.3%,#0082ff 17.7%,#0ff 33.7%,#00ffd9 38.7%,#00ffa0 45.5%,#00ff6f 52.6%,#00ff29 61.4%,#01ff00 67.6%,#15ff00 70.7%,#2eff00 75.5%,#54ff00 84.8%,#67ff00 92.6%,#6bff00 100%)"></i><i style="left:292px;width:4px;background:linear-gradient(#00f .1%,#00f .9%,#001eff 4%,#0047ff 9.2%,#0080ff 17.4%,#00fffe 33.7%,#00ffda 38.5%,#00ffa1 45.3%,#00ff71 52.4%,#00ff2d 61.1%,#0f0 67.6%,#16ff00 71.1%,#2dff00 75.5%,#54ff00 85.1%,#6f0 92.9%,#68ff00 100%)"></i><i style="left:296px;width:4px;background:linear-gradient(#00f .1%,#00f .9%,#001eff 4%,#0047ff 9.2%,#007eff 17%,#0ff 33.5%,#00ffd9 38.5%,#00ffa2 45.1%,#00ff70 52.6%,#00ff29 61.8%,#00ff01 67.7%,#2cff00 75.9%,#52ff00 85.1%,#63ff00 92.9%,#67ff00 100%)"></i><i style="left:300px;width:4px;background:linear-gradient(#00f .1%,#00f .9%,#001eff 4%,#0049ff 9.4%,#0080ff 17%,#0ff 33.3%,#00ffda 38.3%,#00ffa2 45.1%,#00ff71 52.6%,#00ff25 62.6%,#0f0 68.1%,#2bff00 76.3%,#4fff00 85.1%,#60ff00 92.9%,#64ff00 100%)"></i><i style="left:304px;width:4px;background:linear-gradient(#00f .1%,#00f .9%,#001eff 4%,#004bff 9.6%,#0ff 33.3%,#00ffa1 45.1%,#00ff6f 52.9%,#00ff20 63.7%,#0f0 68.5%,#2bff00 77%,#4bff00 85.1%,#5cff00 92.6%,#61ff00 100%)"></i><i style="left:308px;width:4px;background:linear-gradient(#00f .1%,#00f .9%,#001eff 4%,#0051ff 10.3%,#0ff 33.1%,#00ffa1 45.1%,#00ff70 52.9%,#00ff1a 64.8%,#0f0 69%,#2aff00 77.7%,#48ff00 85.5%,#57ff00 92.7%,#5dff00 100%)"></i><i style="left:312px;width:4px;background:linear-gradient(#00f .1%,#00f .9%,#0020ff 4.2%,#005eff 11.8%,#00b8ff 23.3%,#0ff 32.9%,#00ff9f 45.5%,#00ff6f 53.3%,#00ff16 65.9%,#0f0 69.8%,#29ff00 78.7%,#43ff00 85.7%,#51ff00 92.6%,#58ff00 100%)"></i><i style="left:316px;width:4px;background:linear-gradient(#00f .1%,#00f .9%,#02f 4.4%,#007bff 15.3%,#00bcff 23.7%,#00fffe 32.9%,#00ff9f 45.5%,#00ff40 60.7%,#00ff18 66.3%,#0f0 70.7%,#26ff00 79.4%,#3eff00 86.3%,#4bff00 92.9%,#51ff00 100%)"></i><i style="left:320px;width:4px;background:linear-gradient(#00f .1%,#00f .9%,#0023ff 4.6%,#09f 18.9%,#0ff 32.7%,#00ff9c 45.9%,#00ff40 61.4%,#00ff18 67%,#0f0 71.8%,#21ff00 80%,#37ff00 86.8%,#43ff00 92.9%,#4aff00 100%)"></i><i style="left:324px;width:4px;background:linear-gradient(#00f .1%,#00f .9%,#02f 4.4%,#0095ff 18.1%,#0ff 32.6%,#00ff9a 46.3%,#00ff59 57.4%,#00ff40 62.2%,#00ff1a 67.6%,#0f0 73.1%,#1cff00 80.3%,#2fff00 87%,#3aff00 92.9%,#41ff00 100%)"></i><i style="left:328px;width:4px;background:linear-gradient(#00f .1%,#00f .9%,#02f 4.4%,#0096ff 18.1%,#0ff 32.4%,#00ff96 47%,#00ff5b 57.4%,#00ff41 62.7%,#00ff1b 68.5%,#0f0 74.6%,#17ff00 81.1%,#27ff00 87.4%,#31ff00 93.3%,#37ff00 100%)"></i><i style="left:332px;width:4px;background:linear-gradient(#00f .1%,#00f .9%,#02f 4.4%,#0097ff 18.1%,#00fffe 32.4%,#00ffad 43.5%,#00ff94 47.4%,#00ff5b 57.6%,#00ff42 63.3%,#00ff20 68.9%,#00ff06 74.8%,#0f0 76.4%,#14ff00 82.6%,#20ff00 88.5%,#2cff00 100%)"></i><i style="left:336px;width:4px;background:linear-gradient(#00f .1%,#00f .9%,#02f 4.4%,#0098ff 18.1%,#0ff 32.2%,#00ffab 43.7%,#00ff90 48.1%,#00ff5c 57.7%,#0f4 63.5%,#00ff24 69.4%,#00ff0d 74.8%,#0f0 78.5%,#18ff00 88.3%,#2f0 100%)"></i><i style="left:340px;width:4px;background:linear-gradient(#00f .1%,#00f .9%,#02f 4.4%,#0098ff 17.9%,#0ff 32%,#00ffab 43.7%,#00ff8c 48.9%,#00ff5c 58.1%,#00ff13 74.8%,#0f0 80.9%,#12ff00 89.2%,#1aff00 100%)"></i><i style="left:344px;width:4px;background:linear-gradient(#00f .1%,#00f .9%,#0024ff 4.6%,#0097ff 17.7%,#0ff 31.8%,#00ffab 43.7%,#00ff87 49.8%,#00ff5d 58.1%,#00ff1f 73.3%,#0f0 83.5%,#0dff00 91.1%,#12ff00 100%)"></i><i style="left:348px;width:4px;background:linear-gradient(#00f .1%,#00f .9%,#0025ff 4.8%,#0098ff 17.7%,#0ff 31.6%,#00ffac 43.5%,#00ff8a 49.2%,#00ff60 57.7%,#00ff31 69.6%,#0f1 79.2%,#0f0 86.8%,#08ff00 92.9%,#0bff00 100%)"></i><i style="left:352px;width:4px;background:linear-gradient(#00f .1%,#00f .9%,#0098ff 17.7%,#00fffe 31.6%,#00ffb0 42.9%,#00ff8f 48.5%,#00ff63 57.4%,#00ff3d 67.2%,#00ff19 78.3%,#00ff09 85.1%,#0f0 91.4%,#05ff00 100%)"></i><i style="left:356px;width:4px;background:linear-gradient(#00f .1%,#00f .9%,#0096ff 17.4%,#0ff 31.4%,#00ffb2 42.6%,#00ff91 48.1%,#00ff6a 55.9%,#00ff46 65.1%,#00ff2f 72.2%,#00ff10 84%,#00ff05 91.8%,#00ff01 100%)"></i><i style="left:360px;width:4px;background:linear-gradient(#00f .1%,#00f .9%,#0095ff 17.2%,#0ff 31.3%,#00ffb2 42.6%,#00ff90 48.3%,#00ff6b 55.9%,#0f4 65.7%,#00ff30 72.6%,#00ff13 84.8%,#00ff09 92.9%,#00ff07 100%)"></i><i style="left:364px;width:4px;background:linear-gradient(#00f .1%,#00f .9%,#0093ff 17%,#00dcff 26.3%,#00fffe 31.3%,#00ffb4 42.2%,#00ff8f 48.5%,#00ff6b 55.9%,#00ff45 65.9%,#00ff31 72.6%,#00ff17 84.4%,#00ff0e 92.2%,#00ff0b 100%)"></i><i style="left:368px;width:4px;background:linear-gradient(#00f .1%,#00f .9%,#0092ff 16.8%,#0ff 31.1%,#00ffb4 42.2%,#00ff8d 48.9%,#00ff6b 55.9%,#0f4 66.3%,#00ff30 73.3%,#00ff1a 84.4%,#0f1 91.8%,#00ff0e 100%)"></i><i style="left:372px;width:4px;background:linear-gradient(#00f .1%,#00f .9%,#0091ff 16.6%,#0ff 30.9%,#00ffb4 42.2%,#00ff8e 48.9%,#00ff6c 55.9%,#00ff43 66.6%,#00ff2e 74.8%,#00ff19 86.3%,#00ff12 93.3%,#0f1 100%)"></i><i style="left:376px;width:4px;background:linear-gradient(#00f .1%,#00f .9%,#0091ff 16.6%,#00dcff 26.1%,#0ff 30.9%,#00ffb6 41.8%,#00ff8c 49.2%,#00ff6b 56.3%,#00ff43 66.8%,#00ff2d 75.5%,#00ff1b 85.9%,#00ff14 92.7%,#00ff13 100%)"></i><i style="left:380px;width:4px;background:linear-gradient(#00f .1%,#00f .9%,#008fff 16.3%,#0ff 30.7%,#00ffb6 41.8%,#00ff8c 49.2%,#00ff6b 56.3%,#0f4 66.8%,#00ff2b 76.8%,#00ff1d 85.5%,#00ff16 92.7%,#00ff14 100%)"></i><i style="left:384px;width:4px;background:linear-gradient(#00f .1%,#00f .9%,#008fff 16.3%,#0df 26.1%,#0ff 30.7%,#00ffb8 41.4%,#00ff8c 49.2%,#00ff6b 56.3%,#0f4 67%,#00ff32 73.7%,#0f2 82.2%,#00ff18 90.9%,#00ff14 100%)"></i><i style="left:388px;width:4px;background:linear-gradient(#00f .1%,#00f .9%,#008fff 16.3%,#0ff 30.5%,#00ffb8 41.4%,#00ff8c 49.2%,#00ff6b 56.3%,#0f4 67%,#00ff31 74%,#00ff25 80.7%,#00ff18 90.7%,#00ff14 100%)"></i><i style="left:392px;width:4px;background:linear-gradient(#00f .1%,#00f .9%,#008cff 15.9%,#0ff 30.5%,#00ffba 41.1%,#00ff8c 49.2%,#00ff6c 56.3%,#0f4 67%,#00ff37 71.8%,#00ff25 81.1%,#00ff18 91.4%,#00ff14 100%)"></i><i style="left:396px;width:4px;background:linear-gradient(#00f .1%,#00f .9%,#008cff 15.9%,#0df 25.9%,#0ff 30.5%,#00ffba 41.1%,#00ff8d 49.2%,#00ff6b 56.4%,#00ff43 67.4%,#00ff36 72.2%,#00ff25 81.1%,#00ff15 94.2%,#00ff14 100%)"></i><i style="left:400px;width:4px;background:linear-gradient(#00f .1%,#00f .9%,#008eff 16.1%,#00e0ff 26.3%,#00fffe 30.5%,#00ffbc 40.7%,#00ff8d 49.2%,#00ff6b 56.4%,#00ff43 67.4%,#00ff36 72.2%,#00ff26 80.3%,#00ff16 93.5%,#00ff13 100%)"></i><i style="left:404px;width:4px;background:linear-gradient(#00f .1%,#00f .9%,#008dff 15.9%,#0ff 30.3%,#00ffbc 40.7%,#00ff8d 49.2%,#00ff6b 56.6%,#00ff43 67.4%,#00ff36 72%,#00ff26 80%,#00ff15 93.3%,#00ff13 100%)"></i><i style="left:408px;width:297px;background:linear-gradient(#00f .1%,#00f .9%,#008dff 15.9%,#0ff 30.3%,#00ffbc 40.7%,#00ff8d 49.2%,#00ff6b 56.6%,#00ff43 67.4%,#00ff36 72.2%,#00ff26 80%,#00ff15 93.3%,#00ff13 100%)"></i></div>
<div class="pn" style="left:226px;top:489px;width:704px;height:275px"><i style="left:0px;width:4px;background:linear-gradient(#00f .3%,#00f 1.1%,#0063ff 11.1%,#0092ff 16.3%,#0ff 30.9%,#00ff92 48.3%,#00ff73 54.5%,#00ff47 65.1%,#00ff3d 68.7%,#00ff23 81.2%,#00ff12 93.1%,#00ff0b 100%)"></i><i style="left:4px;width:4px;background:linear-gradient(#00f .3%,#00f 1.1%,#005eff 10.5%,#0091ff 16.1%,#0ff 30.9%,#00ff90 48.7%,#0f7 53.8%,#00ff49 64.3%,#00ff3d 68.3%,#00ff23 80.3%,#0f1 92.7%,#00ff0b 100%)"></i><i style="left:8px;width:4px;background:linear-gradient(#00f .3%,#00f 1.1%,#004dff 8.7%,#0090ff 16%,#0ff 30.9%,#00ff8f 49.1%,#00ff4a 64%,#00ff24 79.4%,#0f1 90.9%,#00ff0a 100%)"></i><i style="left:12px;width:4px;background:linear-gradient(#00f .3%,#00f 1.1%,#0046ff 8%,#0090ff 16%,#0ff 30.9%,#00ff8f 49.1%,#00ff4a 63.8%,#00ff3c 68.5%,#00ff1c 83.3%,#00ff0f 91.3%,#00ff08 100%)"></i><i style="left:16px;width:4px;background:linear-gradient(#00f .4%,#00f 1.1%,#0049ff 8.4%,#0090ff 16%,#00fffe 30.9%,#00ff8f 49.1%,#00ff4a 63.6%,#00ff3c 68.4%,#00ff19 83.6%,#00ff09 94.5%,#00ff06 100%)"></i><i style="left:20px;width:4px;background:linear-gradient(#00f .4%,#0002ff 1.3%,#0061ff 10.9%,#0090ff 16%,#0ff 30.7%,#00ff92 48.4%,#00ff57 60%,#00ff48 63.7%,#00ff17 83.7%,#00ff08 93.5%,#00ff04 99.8%)"></i><i style="left:24px;width:4px;background:linear-gradient(#00f .4%,#0002ff 1.3%,#006fff 12.4%,#0093ff 16.4%,#0ff 30.8%,#0f9 47%,#00ff59 59.3%,#00ff48 63.3%,#00ff28 75%,#00ff14 83.7%,#00ff06 93%,#00ff02 99.9%)"></i><i style="left:28px;width:4px;background:linear-gradient(#00f .5%,#0001ff 1.4%,#07f 13.4%,#0097ff 17%,#00fffe 30.9%,#00ffa0 45.4%,#00ff58 59%,#00ff46 63.2%,#00ff28 74.1%,#0f1 84.1%,#00ff03 92.7%,#01ff00 99.9%)"></i><i style="left:32px;width:4px;background:linear-gradient(#00f .6%,#0001ff 1.5%,#0037ff 7.3%,#007bff 14.1%,#009dff 17.9%,#0ff 30.8%,#00ffa5 44.2%,#00ff57 58.8%,#00ff46 62.6%,#00ff27 73.1%,#00ff06 87.3%,#0f0 91.9%,#05ff00 99.9%)"></i><i style="left:36px;width:4px;background:linear-gradient(#00f .8%,#00f 1.7%,#002dff 6.8%,#007aff 14.2%,#00a5ff 19.1%,#0ff 30.8%,#00ffa6 43.7%,#00ff54 58.6%,#0f4 62.2%,#00ff03 86.4%,#0f0 88.4%,#09ff00 99.9%)"></i><i style="left:40px;width:4px;background:linear-gradient(#00f 1.1%,#00f 2%,#0029ff 6.9%,#0078ff 14.5%,#00a3ff 19.2%,#00d4ff 25.1%,#0ff 30.9%,#00ffa8 42.9%,#00ff52 58.1%,#00ff40 62.1%,#0f0 84.9%,#09ff00 90.9%,#0eff00 100%)"></i><i style="left:44px;width:4px;background:linear-gradient(#00f 1.5%,#0001ff 2.6%,#002cff 7.8%,#0078ff 15.1%,#00b1ff 21.1%,#00d6ff 25.5%,#0ff 30.9%,#00ffc8 37.8%,#00ffa7 42.6%,#00ff75 51.6%,#00ff51 57.5%,#00ff3e 61.5%,#0f0 82.2%,#0dff00 89.8%,#14ff00 99.8%)"></i><i style="left:48px;width:4px;background:linear-gradient(#00f 2.1%,#00f 3.2%,#002cff 8.8%,#07f 15.7%,#00baff 22.6%,#00daff 26.2%,#00fffe 31.2%,#00ffcb 37.2%,#00ffa7 41.9%,#00ff76 50.6%,#00ff4f 56.6%,#00ff3a 61.2%,#0f0 79.3%,#1f0 87.2%,#1cff00 99.9%)"></i><i style="left:52px;width:2px;background:linear-gradient(#00f 2.9%,#0001ff 4%,#002eff 9.8%,#0076ff 16.4%,#00bcff 23.3%,#00daff 26.5%,#00fffe 31.3%,#00ffc6 37.4%,#00ffa6 41.6%,#00ff79 49.4%,#00ff4c 56.4%,#00ff37 60.7%,#0f0 77.3%,#0bff00 80.7%,#15ff00 85.4%,#2f0 100%)"></i><i style="left:54px;width:2px;background:linear-gradient(#00f 3.4%,#00f 4.5%,#002fff 10.5%,#00beff 23.8%,#0ff 31.2%,#00ffc5 37.4%,#00ffa5 41.4%,#00ff7b 48.7%,#00ff4a 56%,#00ff34 60.7%,#0f0 75.8%,#0eff00 79.6%,#18ff00 84.7%,#26ff00 100%)"></i><i style="left:56px;width:2px;background:linear-gradient(#00f 4%,#00f 5.1%,#002dff 10.9%,#00c0ff 24.4%,#00fffe 31.5%,#00ffc6 37.1%,#00ffa3 41.3%,#00ff7c 48%,#00ff49 55.3%,#00ff30 60.8%,#0f0 74.2%,#10ff00 78.4%,#1bff00 83.5%,#2bff00 99.8%)"></i><i style="left:58px;width:2px;background:linear-gradient(#00f 4.7%,#0001ff 6%,#0030ff 12%,#00bfff 24.7%,#00fffe 31.6%,#00ffc1 37.4%,#00ffa2 41.1%,#00ff7b 47.6%,#00ff47 54.9%,#00ff2e 60.4%,#0f0 72.9%,#13ff00 77.4%,#1eff00 82.5%,#32ff00 100%)"></i><i style="left:60px;width:2px;background:linear-gradient(#00f 5.5%,#0001ff 6.8%,#0030ff 12.8%,#00c3ff 25.5%,#00fffe 31.7%,#00ffca 36.4%,#00ffac 39.5%,#00ff98 42.2%,#00ff79 47.3%,#00ff4a 53.7%,#0f3 58.2%,#0f0 71.3%,#15ff00 76.4%,#2f0 81.5%,#38ff00 99.9%)"></i><i style="left:62px;width:2px;background:linear-gradient(#00f 6.4%,#00f 7.7%,#001bff 11.3%,#0032ff 13.9%,#0076ff 19.9%,#00c3ff 26%,#00fffe 31.9%,#00ffc9 36.4%,#00ffac 39.3%,#00ff98 41.9%,#00ff7a 46.6%,#00ff4b 52.8%,#00ff32 57.5%,#00ff01 69.9%,#18ff00 75.3%,#27ff00 80.8%,#31ff00 86.8%,#3eff00 99.9%)"></i><i style="left:64px;width:2px;background:linear-gradient(#00f 7.4%,#0001ff 8.8%,#001bff 12.3%,#0034ff 15%,#0071ff 20.3%,#00c3ff 26.5%,#0ff 31.9%,#00ffc9 36.3%,#00ffac 39%,#00ff97 41.6%,#00ff7a 46.1%,#00ff4b 51.9%,#00ff32 56.5%,#00ff01 68.5%,#1cff00 74.5%,#2cff00 79.9%,#37ff00 86.5%,#4f0 99.9%)"></i><i style="left:66px;width:2px;background:linear-gradient(#00f 8.5%,#0001ff 9.9%,#001bff 13.4%,#0037ff 16.3%,#006fff 21%,#00c5ff 27.2%,#00fffd 32.3%,#00ffc8 36.3%,#00ffab 38.8%,#00ff98 41.2%,#00ff7b 45.4%,#00ff4a 51.2%,#00ff32 55.6%,#0f0 67.2%,#21ff00 73.8%,#32ff00 79.2%,#45ff00 91.9%,#4bff00 99.9%)"></i><i style="left:68px;width:2px;background:linear-gradient(#00f 9.7%,#00f 11.1%,#0007ff 12%,#0020ff 15.1%,#003cff 17.9%,#0068ff 21.5%,#00baff 27%,#0ff 32.4%,#00ffc8 36.2%,#00ffac 38.6%,#00ff98 40.8%,#00ff7a 45%,#00ff4a 50.4%,#00ff34 54.2%,#0f0 65.9%,#26ff00 73%,#38ff00 78.4%,#4bff00 90.2%,#53ff00 99.9%)"></i><i style="left:70px;width:2px;background:linear-gradient(#00f 11%,#00f 12.4%,#000bff 13.9%,#0024ff 16.8%,#0042ff 19.5%,#006aff 22.6%,#00b6ff 27.3%,#0ff 32.6%,#00ffc9 36.1%,#00ffad 38.3%,#0f9 40.4%,#00ff78 44.6%,#00ff4b 49.5%,#00ff37 52.6%,#0f0 64.4%,#2cff00 72.4%,#3eff00 77.7%,#52ff00 88.8%,#5cff00 99.9%)"></i><i style="left:72px;width:2px;background:linear-gradient(#00f 12.4%,#00f 13.8%,#000aff 15.1%,#0026ff 18.2%,#0046ff 21.1%,#006aff 23.6%,#00b6ff 28%,#00fffe 32.9%,#00ffca 36%,#00ffac 38.2%,#00ff76 44.4%,#00ff4b 48.7%,#00ff37 51.6%,#0f0 62.9%,#31ff00 71.6%,#4f0 76.7%,#5cff00 89.8%,#65ff00 99.8%)"></i><i style="left:74px;width:2px;background:linear-gradient(#00f 13.9%,#00f 15.3%,#0008ff 16.4%,#0023ff 19.3%,#0045ff 22.2%,#0065ff 24.4%,#00b4ff 28.6%,#00feff 33.1%,#00fffc 33.3%,#00ffc9 36%,#00ffae 37.9%,#0f9 39.9%,#00ff76 43.9%,#00ff4a 48%,#00ff38 50.6%,#0f0 61.5%,#36ff00 70.6%,#4aff00 75.7%,#69ff00 91.3%,#6fff00 99.9%)"></i><i style="left:76px;width:2px;background:linear-gradient(#00f 15.4%,#00f 16.9%,#0007ff 17.8%,#0027ff 21.1%,#0046ff 23.6%,#0067ff 25.6%,#00b6ff 29.4%,#00feff 33.4%,#00fffd 33.6%,#00ffcb 36%,#00ffae 37.8%,#00ff76 43.4%,#00ff49 47.4%,#00ff37 49.8%,#00ff01 59.8%,#12ff00 63.2%,#3dff00 69.8%,#50ff00 74.5%,#74ff00 91.6%,#79ff00 95.8%,#79ff00 100%)"></i><i style="left:78px;width:2px;background:linear-gradient(#00f 17.1%,#0002ff 18.9%,#02f 22.1%,#0043ff 24.7%,#0064ff 26.5%,#00afff 29.8%,#00feff 33.8%,#00fffc 34%,#00ffc5 36.3%,#00ffad 37.8%,#0f7 42.9%,#00ff48 46.9%,#00ff37 48.9%,#00ff01 58.1%,#16ff00 62.1%,#42ff00 68.5%,#5f0 73.1%,#7fff00 91.6%,#84ff00 95.8%,#83ff00 100%)"></i><i style="left:80px;width:2px;background:linear-gradient(#00f 18.7%,#0001ff 20.4%,#02f 23.6%,#0040ff 25.8%,#005dff 27.3%,#00b0ff 30.5%,#00feff 34.2%,#00fffb 34.4%,#00ffc7 36.4%,#00ffb2 37.5%,#0f7 42.5%,#00ff48 46.2%,#00ff38 48%,#00ff21 52%,#0f0 56.5%,#1cff00 61.1%,#46ff00 66.9%,#5aff00 71.3%,#89ff00 90.9%,#8fff00 95.6%,#8eff00 100%)"></i><i style="left:82px;width:2px;background:linear-gradient(#00f 20.4%,#0001ff 22.1%,#0020ff 25%,#003aff 26.8%,#0056ff 28.1%,#0af 31%,#00e3ff 33.5%,#00fffe 34.6%,#00ffc9 36.4%,#00ffb1 37.5%,#00ff76 42.3%,#00ff49 45.5%,#00ff37 47.3%,#00ff1e 51.3%,#01ff00 55.2%,#4aff00 65.3%,#5fff00 69.7%,#93ff00 90.4%,#9aff00 95.2%,#9aff00 99.9%)"></i><i style="left:84px;width:2px;background:linear-gradient(#00f 22.1%,#00f 23.8%,#001fff 26.5%,#03f 27.8%,#0052ff 29.1%,#00a6ff 31.6%,#00fffd 35.1%,#00ffc6 36.7%,#00ffb2 37.6%,#00ff79 41.8%,#00ff48 45.1%,#00ff34 46.9%,#00ff1c 50.5%,#0f0 53.6%,#4cff00 63.2%,#64ff00 68%,#9dff00 89.8%,#a4ff00 94.9%,#a5ff00 100%)"></i><i style="left:86px;width:2px;background:linear-gradient(#00f 23.8%,#0001ff 25.5%,#0014ff 27.3%,#002cff 28.7%,#004bff 29.8%,#0090ff 31.6%,#00a9ff 32.4%,#00d9ff 34.2%,#00fbff 35.3%,#00fffc 35.5%,#0fc 36.7%,#00ffb0 37.8%,#00ff81 41.1%,#00ff46 44.7%,#00ff31 46.6%,#00ff19 49.8%,#01ff00 52.4%,#26ff00 56%,#47ff00 60%,#5cff00 63.3%,#6aff00 66.2%,#a5ff00 88.7%,#aeff00 94.2%,#b1ff00 99.8%)"></i><i style="left:88px;width:2px;background:linear-gradient(#00f 25.5%,#0001ff 27.3%,#0014ff 28.7%,#0029ff 29.8%,#003eff 30.6%,#0081ff 32%,#009dff 32.7%,#00b5ff 33.5%,#00dfff 34.9%,#00fffe 35.8%,#00ffc8 37.1%,#00ffbd 37.5%,#00ffac 38.2%,#00ff86 40.7%,#00ff3b 45.1%,#0f0 51.1%,#2aff00 54.6%,#49ff00 57.8%,#60ff00 61.3%,#70ff00 64.7%,#84ff00 70.9%,#aeff00 87.7%,#b8ff00 93.8%,#bcff00 99.8%)"></i><i style="left:90px;width:2px;background:linear-gradient(#00f 27%,#0001ff 28.7%,#000eff 29.8%,#001bff 30.5%,#0026ff 30.9%,#04f 31.6%,#009eff 33.4%,#00dfff 35.4%,#00fcff 36.1%,#00fffa 36.3%,#00ffc9 37.4%,#00ffb7 38%,#00ffab 38.5%,#0f8 40.7%,#00ff4f 43.6%,#00ff39 44.9%,#0f0 50%,#32ff00 53.6%,#4fff00 56.3%,#65ff00 59.6%,#7aff00 64.1%,#90ff00 70.5%,#b7ff00 86.3%,#c3ff00 93.4%,#c8ff00 100%)"></i><i style="left:92px;width:2px;background:linear-gradient(#00f 28.5%,#00f 30.3%,#000bff 30.9%,#001fff 31.6%,#002dff 32%,#003fff 32.3%,#07f 33.3%,#009aff 34%,#00b0ff 34.5%,#00e2ff 36%,#00f9ff 36.5%,#00fffc 36.7%,#00ffc7 37.8%,#00ffba 38.2%,#00ffac 38.7%,#00ff89 40.7%,#00ff4b 43.6%,#00ff37 44.7%,#01ff00 49.1%,#3eff00 53.1%,#5aff00 55.6%,#6dff00 58.5%,#8eff00 65.8%,#9fff00 70.9%,#c3ff00 86.5%,#cfff00 93.4%,#d3ff00 100%)"></i><i style="left:94px;width:2px;background:linear-gradient(#00f 29.9%,#00f 31.3%,#0012ff 32.1%,#0020ff 32.4%,#003bff 33%,#008aff 34.2%,#009dff 34.6%,#00adff 35%,#00daff 36.2%,#00fcff 37%,#00fff8 37.1%,#00ffc9 38.1%,#00ffad 39%,#00ff8b 40.8%,#00ff35 44.6%,#00ff20 45.9%,#01ff00 48.2%,#4f0 52.2%,#60ff00 54.6%,#71ff00 57%,#9fff00 65.9%,#adff00 70.2%,#d0ff00 86.8%,#dbff00 93.7%,#deff00 99.9%)"></i><i style="left:96px;width:2px;background:linear-gradient(#00f 31.1%,#00f 32.3%,#0007ff 32.7%,#0017ff 33.1%,#002dff 33.4%,#0071ff 34.3%,#0093ff 34.9%,#00abff 35.4%,#00dbff 36.7%,#00fffe 37.4%,#00ffc6 38.5%,#00ffae 39.3%,#0f8 41.1%,#00ff30 44.7%,#0f0 47.4%,#4aff00 51.6%,#6f0 53.8%,#75ff00 55.6%,#aeff00 65.4%,#bcff00 69.8%,#df0 86.9%,#e6ff00 93.8%,#eaff00 100%)"></i><i style="left:98px;width:2px;background:linear-gradient(#00f 32.1%,#00f 33.2%,#0005ff 33.4%,#002aff 33.9%,#006fff 34.8%,#0092ff 35.4%,#00abff 35.9%,#00d5ff 37%,#00faff 37.7%,#00fff9 37.9%,#00ffce 38.6%,#00ffb3 39.4%,#00ff87 41.4%,#00ff28 45%,#02ff00 47%,#4fff00 51.2%,#6dff00 53.4%,#aeff00 62.3%,#bcff00 64.8%,#cbff00 69.4%,#e9ff00 86.8%,#f2ff00 93.9%,#f5ff00 99.9%)"></i><i style="left:100px;width:2px;background:linear-gradient(#00f 32.9%,#00f 33.8%,#0008ff 34%,#0071ff 35.3%,#0089ff 35.7%,#009dff 36%,#00daff 37.5%,#00f8ff 38%,#00fffb 38.2%,#00ffd2 38.9%,#00ffb6 39.7%,#00ff86 41.7%,#00ff1f 45.3%,#0f0 46.6%,#52ff00 50.8%,#74ff00 53.1%,#b8ff00 61.5%,#caff00 64.4%,#daff00 69.5%,#f4ff00 86.6%,#fdff00 94.2%,#fffe00 99.8%)"></i><i style="left:102px;width:2px;background:linear-gradient(#00f 33.6%,#00f 34.3%,#0005ff 34.5%,#0068ff 35.6%,#008dff 36.1%,#00a0ff 36.5%,#00d5ff 37.7%,#00fbff 38.5%,#00fff8 38.7%,#00ffcd 39.4%,#00ffb8 39.9%,#00ff82 42.1%,#0f1 45.7%,#00ff02 46.3%,#03ff00 46.5%,#50ff00 50.3%,#78ff00 52.8%,#bfff00 60.7%,#d7ff00 64.5%,#e8ff00 69.7%,#ff0 86.7%,#fff600 94.1%,#fff400 99.9%)"></i><i style="left:104px;width:2px;background:linear-gradient(#00f 34%,#00f 34.5%,#0004ff 34.7%,#0058ff 35.6%,#0080ff 36.1%,#009cff 36.7%,#00d0ff 38%,#00f8ff 38.7%,#00fffb 38.9%,#00ffd1 39.6%,#00ffc1 40%,#00ff6e 43.1%,#00ff46 44.3%,#0f0 46.3%,#1bff00 47.4%,#4bff00 49.8%,#69ff00 51.4%,#7dff00 52.9%,#c3ff00 59.8%,#d4ff00 62.1%,#e2ff00 64.7%,#f3ff00 69.4%,#ff0 78.3%,#ffed00 93.4%,#ffea00 100%)"></i><i style="left:106px;width:2px;background:linear-gradient(#00f 34.1%,#00f 34.6%,#0005ff 34.8%,#0060ff 35.9%,#0084ff 36.4%,#0095ff 36.8%,#00c8ff 38.1%,#00f7ff 39%,#00fffc 39.2%,#00ffd4 39.9%,#00ffbd 40.4%,#00ff8e 42.3%,#00ff63 43.7%,#0f4 44.6%,#0f0 46.4%,#1eff00 47.5%,#4cff00 49.7%,#6eff00 51.5%,#85ff00 53.2%,#c8ff00 59.3%,#dbff00 61.9%,#efff00 65.5%,#ff0 70.6%,#ffe400 92.6%,#ffe100 99.9%)"></i><i style="left:108px;width:2px;background:linear-gradient(#00f 33.8%,#0002ff 34.7%,#001aff 35%,#005eff 36%,#0076ff 36.3%,#0090ff 36.9%,#00c8ff 38.3%,#00f7ff 39.2%,#00fffc 39.4%,#0fd 40%,#00ffbf 40.7%,#00ff90 42.5%,#00ff64 44%,#00ff45 44.9%,#00ff0b 46.3%,#02ff00 46.7%,#2f0 47.8%,#4fff00 49.8%,#71ff00 51.6%,#8f0 53.2%,#caff00 58.9%,#e0ff00 61.8%,#f9ff00 66.1%,#ff0 67.8%,#ffec00 76.3%,#ffdb00 93.8%,#ffd900 100%)"></i><i style="left:110px;width:2px;background:linear-gradient(#00f 33.3%,#00f 34.2%,#0002ff 34.3%,#0009ff 34.5%,#0025ff 35.1%,#0074ff 36.3%,#0094ff 37.1%,#00c8ff 38.5%,#00f8ff 39.4%,#00fffc 39.6%,#00ffd7 40.3%,#00ffc8 40.7%,#00ff8e 42.9%,#00ff61 44.3%,#00ff48 45.1%,#01ff00 46.9%,#2f0 48%,#4eff00 49.8%,#6fff00 51.4%,#87ff00 53.1%,#baff00 57.1%,#ceff00 58.9%,#e4ff00 61.8%,#feff00 66.2%,#fff400 69.1%,#ffe400 75.6%,#ffd400 93.4%,#ffd100 100%)"></i><i style="left:112px;width:2px;background:linear-gradient(#00f 32.5%,#0002ff 33.8%,#0018ff 34.5%,#0030ff 35.1%,#0075ff 36.3%,#008bff 36.9%,#00c1ff 38.5%,#00fffd 39.8%,#00ffe1 40.3%,#00ffc5 41.1%,#00ff96 42.9%,#00ff59 44.9%,#00ff40 45.6%,#02ff00 47.2%,#25ff00 48.3%,#4cff00 49.8%,#6bff00 51.2%,#7fff00 52.5%,#bf0 57.1%,#cfff00 58.9%,#e6ff00 61.8%,#ff0 65.6%,#ffef00 69.1%,#ffde00 75.6%,#ffcf00 92%,#ffcb00 100%)"></i><i style="left:114px;width:2px;background:linear-gradient(#00f 31.6%,#00f 32.8%,#000cff 33.6%,#001fff 34.3%,#03f 34.8%,#0067ff 35.9%,#007eff 36.5%,#00b0ff 38.1%,#00c3ff 38.7%,#00fffd 39.9%,#00ffdb 40.7%,#00ffc8 41.2%,#00ff95 43.2%,#00ff53 45.4%,#02ff00 47.6%,#27ff00 48.7%,#50ff00 50.1%,#69ff00 51.2%,#7cff00 52.3%,#cfff00 58.8%,#e0ff00 60.8%,#ff0 65.2%,#ffed00 68.8%,#ffd800 75.9%,#ffca00 90.7%,#ffc500 99.9%)"></i><i style="left:116px;width:2px;background:linear-gradient(#00f 30.4%,#0001ff 31.9%,#0014ff 33.2%,#0023ff 33.9%,#0039ff 34.6%,#007bff 36.3%,#00baff 38.4%,#00cfff 39%,#00fbff 39.9%,#00fffb 40.1%,#00ffd0 41.2%,#00ff98 43.4%,#00ff52 45.7%,#0f0 47.9%,#3f0 49.4%,#54ff00 50.4%,#6aff00 51.4%,#7aff00 52.3%,#cfff00 59%,#e2ff00 61%,#ff0 65%,#ffea00 69%,#ffd300 76.3%,#ffc600 89.2%,#ffc000 99.9%)"></i><i style="left:118px;width:2px;background:linear-gradient(#00f 29.2%,#00f 30.6%,#0016ff 32.4%,#002dff 33.7%,#0042ff 34.4%,#007bff 36.1%,#00b9ff 38.4%,#00ceff 39%,#0ff 40.1%,#00ffd5 41.2%,#00ff86 44.3%,#00ff4a 46.3%,#00ff02 48.3%,#05ff00 48.4%,#3aff00 49.9%,#58ff00 50.8%,#6aff00 51.5%,#7bff00 52.4%,#d1ff00 59.3%,#e5ff00 61.5%,#ff0 65%,#ffe900 69%,#ffcf00 76.8%,#ffc200 88.8%,#ffbd00 99.9%)"></i><i style="left:120px;width:2px;background:linear-gradient(#00f 27.7%,#00f 29.2%,#0003ff 29.6%,#001aff 31.7%,#0030ff 33.2%,#0042ff 33.9%,#007dff 35.9%,#00b1ff 38.1%,#00c9ff 38.8%,#0ff 40.1%,#00fff8 40.3%,#00ffd3 41.4%,#00ff9b 43.7%,#00ff62 45.7%,#00ff3b 47%,#00ff02 48.6%,#05ff00 48.8%,#56ff00 51%,#6aff00 51.7%,#78ff00 52.5%,#96ff00 55%,#d1ff00 59.6%,#e7ff00 61.9%,#feff00 65%,#ffe800 69.2%,#ffd400 74.5%,#fc0 77.4%,#ffbe00 88.3%,#ffb900 99.9%)"></i><i style="left:122px;width:2px;background:linear-gradient(#00f 26.2%,#00f 27.7%,#0008ff 28.8%,#0020ff 31.3%,#0036ff 32.8%,#0045ff 33.5%,#007dff 35.7%,#00b2ff 38%,#00c8ff 38.8%,#00fbff 40%,#00fffd 40.2%,#00ffd4 41.5%,#00ffa2 43.7%,#00ff71 45.5%,#00ff3b 47.3%,#0f0 49.1%,#56ff00 51.3%,#6bff00 52%,#79ff00 52.8%,#92ff00 54.9%,#beff00 58.2%,#d3ff00 60%,#ecff00 62.8%,#ff0 65.3%,#ffe600 69.8%,#ffd200 74.9%,#ffc900 77.8%,#ffbc00 87.7%,#ffb600 99.8%)"></i><i style="left:124px;width:2px;background:linear-gradient(#00f 24.6%,#00f 26.2%,#000bff 27.9%,#0020ff 30.2%,#0037ff 32%,#004bff 33.1%,#00b1ff 37.9%,#00c6ff 38.6%,#00fbff 40%,#00fffc 40.2%,#00ffd6 41.5%,#00ffa2 43.9%,#00ff82 45.1%,#00ff24 48.4%,#00ff01 49.5%,#58ff00 51.7%,#6dff00 52.4%,#7aff00 53.1%,#93ff00 55.3%,#d0ff00 60%,#e8ff00 62.6%,#feff00 65.5%,#ffe400 70.6%,#ffd000 75.5%,#ffc800 78.2%,#ffba00 87%,#ffb300 99.9%)"></i><i style="left:126px;width:2px;background:linear-gradient(#00f 22.9%,#00f 24.6%,#000eff 26.9%,#02f 29.5%,#003cff 31.6%,#05f 33.1%,#00acff 37.5%,#00c9ff 38.6%,#00fffd 40.2%,#00ffd4 41.6%,#00ffa3 44%,#00ff89 45.1%,#00ff1a 49.1%,#00ff03 49.8%,#03ff00 50%,#5f0 52%,#6cff00 52.7%,#7aff00 53.5%,#cfff00 60.4%,#ebff00 63.3%,#ff0 66%,#ffe200 71.6%,#ffcf00 76%,#ffc700 78.9%,#ffb900 86.2%,#ffae00 99.8%)"></i><i style="left:128px;width:2px;background:linear-gradient(#00f 21.2%,#00f 22.9%,#000fff 25.8%,#0028ff 29%,#003eff 31%,#005bff 32.9%,#00a7ff 37%,#00c6ff 38.3%,#0ff 40.1%,#00ffd3 41.8%,#00ffa0 44.3%,#00ff87 45.4%,#00ff41 47.9%,#00ff18 49.6%,#00ff01 50.3%,#05ff00 50.5%,#58ff00 52.5%,#69ff00 53%,#7f0 53.8%,#ceff00 60.7%,#e9ff00 63.6%,#ff0 66.5%,#ffde00 73%,#ffc700 79%,#ffba00 85.6%,#ffa900 99.9%)"></i><i style="left:130px;width:2px;background:linear-gradient(#00f 19.5%,#0002ff 21.5%,#0013ff 25.1%,#0027ff 28.1%,#003eff 30.2%,#005dff 32.4%,#00a0ff 36.4%,#00c0ff 37.9%,#00feff 40.1%,#00fffb 40.2%,#00ffd2 41.9%,#00ff89 45.5%,#00ff40 48.2%,#00ff1a 49.9%,#01ff00 50.8%,#52ff00 52.8%,#68ff00 53.5%,#7f0 54.2%,#b1ff00 58.6%,#cdff00 61%,#e7ff00 63.9%,#ff0 67.1%,#fd0 73.9%,#ffc800 79.3%,#ffba00 85.7%,#ffb000 94.2%,#ffa500 99.9%)"></i><i style="left:132px;width:2px;background:linear-gradient(#00f 17.8%,#0001ff 19.6%,#0014ff 24%,#0028ff 27.3%,#003dff 29.5%,#005eff 32%,#0097ff 35.6%,#0bf 37.5%,#00feff 40%,#00fffb 40.2%,#00ffd4 41.8%,#00ff87 45.8%,#00ff43 48.4%,#00ff1c 50.2%,#00ff03 51.1%,#03ff00 51.3%,#59ff00 53.5%,#6cff00 54.2%,#79ff00 54.9%,#acff00 58.5%,#cdff00 61.5%,#e7ff00 64.4%,#ff0 68%,#fd0 74.5%,#ffc800 80%,#ffb900 86.5%,#ffaf00 94.9%,#ffa200 100%)"></i><i style="left:134px;width:2px;background:linear-gradient(#00f 16.2%,#0003ff 18.5%,#0015ff 23.3%,#0027ff 26.2%,#003dff 28.7%,#0060ff 31.6%,#0096ff 35.3%,#00bcff 37.3%,#0ff 40%,#00fffb 40.2%,#00ffcd 42.2%,#00ff8b 45.8%,#00ff71 46.9%,#00ff41 48.7%,#00ff1d 50.5%,#01ff00 51.6%,#48ff00 53.4%,#5fff00 54.2%,#76ff00 55.3%,#8cff00 56.7%,#afff00 59.3%,#d2ff00 62.5%,#e8ff00 65.1%,#ff0 68.7%,#fd0 75.3%,#ffc900 80.7%,#ffba00 86.9%,#ffaf00 94.9%,#ffa300 100%)"></i><i style="left:136px;width:2px;background:linear-gradient(#00f 14.6%,#00f 16.2%,#0017ff 22.4%,#0028ff 25.5%,#003dff 28%,#0063ff 31.3%,#0093ff 34.8%,#00bfff 37.1%,#00fffd 40%,#00ffcd 42.2%,#00ff86 46.2%,#00ff45 48.8%,#00ff1c 50.9%,#01ff00 52%,#3fff00 53.7%,#5bff00 54.6%,#73ff00 55.7%,#9bff00 58.2%,#b7ff00 60.4%,#d4ff00 63.3%,#e8ff00 65.8%,#ff0 69.5%,#fd0 76%,#ffc800 81.8%,#fb0 87.3%,#ffa700 99.8%)"></i><i style="left:138px;width:2px;background:linear-gradient(#00f 13%,#00f 14.7%,#0017ff 21.4%,#0028ff 24.7%,#003eff 27.4%,#06f 31%,#0091ff 34.3%,#0bf 36.7%,#00fffd 40%,#00ffcf 42.1%,#0f8 46.3%,#00ff73 47.2%,#00ff43 49%,#00ff1e 51.2%,#00ff02 52.3%,#04ff00 52.5%,#3fff00 54.1%,#5dff00 55.2%,#7dff00 56.9%,#9eff00 58.9%,#b6ff00 60.9%,#d4ff00 64%,#ff0 70.3%,#ffde00 76.7%,#ffc500 84.1%,#ffb800 90.1%,#ffac00 100%)"></i><i style="left:140px;width:2px;background:linear-gradient(#00f 11.6%,#00f 13.1%,#0018ff 20.7%,#0029ff 24%,#0040ff 26.9%,#06f 30.5%,#008fff 33.8%,#00baff 36.3%,#00feff 39.8%,#00fffc 40%,#00ffce 42.2%,#00ff87 46.5%,#00ff73 47.4%,#00ff40 49.4%,#00ff1d 51.6%,#00ff03 52.7%,#03ff00 52.9%,#3bff00 54.5%,#58ff00 55.6%,#84ff00 57.8%,#a1ff00 59.6%,#b8ff00 61.6%,#d5ff00 64.7%,#ff0 71.1%,#ffe000 77.4%,#ffc500 85.4%,#ffb800 92%,#ffb100 100%)"></i><i style="left:142px;width:2px;background:linear-gradient(#00f 10.3%,#00f 11.7%,#0019ff 19.7%,#0029ff 23.2%,#003eff 26.1%,#0065ff 29.9%,#008eff 33.4%,#00b4ff 35.7%,#00feff 39.7%,#00fffc 39.9%,#0fc 42.3%,#0f8 46.6%,#00ff71 47.7%,#00ff42 49.5%,#00ff1b 52.1%,#0f0 53.2%,#35ff00 54.8%,#51ff00 55.9%,#85ff00 58.4%,#a2ff00 60.3%,#b9ff00 62.3%,#d3ff00 65.2%,#feff00 71.9%,#ffe200 77.9%,#ffc600 86.4%,#ffb800 93.4%,#ffb400 99.9%)"></i><i style="left:144px;width:2px;background:linear-gradient(#00f 9%,#00f 10.5%,#0019ff 18.8%,#002aff 22.5%,#003eff 25.4%,#0064ff 29.4%,#008eff 33%,#0af 34.8%,#00fffe 39.7%,#0fc 42.3%,#00ff87 46.8%,#00ff74 47.7%,#00ff3f 49.9%,#00ff1d 52.3%,#01ff00 53.6%,#2eff00 55%,#49ff00 56.1%,#87ff00 59.2%,#a4ff00 61%,#baff00 63%,#d3ff00 65.9%,#ff0 72.8%,#ffe300 78.7%,#ffc700 87.2%,#ffba00 93.7%,#ffb700 99.9%)"></i><i style="left:146px;width:2px;background:linear-gradient(#00f 7.9%,#00f 9.3%,#001aff 18.2%,#002aff 21.7%,#003eff 24.8%,#0063ff 28.8%,#008bff 32.4%,#00a5ff 34.2%,#00fffd 39.7%,#00ffc9 42.4%,#0f8 47%,#00ff71 48.1%,#00ff3d 50.2%,#00ff1d 52.6%,#00ff01 53.9%,#04ff00 54.1%,#2aff00 55.3%,#43ff00 56.4%,#8bff00 60.1%,#a5ff00 61.7%,#baff00 63.7%,#d3ff00 66.6%,#ff0 73.7%,#ffe400 79.7%,#ffc900 88.1%,#ffbc00 94.2%,#ffb900 99.9%)"></i><i style="left:148px;width:2px;background:linear-gradient(#00f 6.8%,#00f 8.1%,#001cff 17.9%,#002cff 21.4%,#003fff 24.3%,#0065ff 28.5%,#008cff 32.1%,#00a6ff 33.9%,#00fffe 39.6%,#00ffc8 42.5%,#00ff86 47.2%,#00ff74 48.1%,#00ff40 50.3%,#00ff1b 53%,#01ff00 54.3%,#24ff00 55.6%,#39ff00 56.5%,#8bff00 60.7%,#a4ff00 62.3%,#b9ff00 64.3%,#d1ff00 67%,#fcff00 74.1%,#fffe00 74.8%,#ffe600 80.3%,#ffca00 88.8%,#ffbe00 94.8%,#fb0 99.9%)"></i><i style="left:150px;width:2px;background:linear-gradient(#00f 5.9%,#00f 7.2%,#001dff 17.4%,#002cff 20.6%,#0040ff 23.7%,#06f 28.1%,#008cff 31.7%,#00fffd 39.5%,#00ffc8 42.5%,#00ff89 47.2%,#00ff74 48.3%,#00ff3d 50.6%,#00ff1a 53.4%,#01ff00 54.6%,#2f0 55.9%,#36ff00 56.8%,#5cff00 59%,#8bff00 61.4%,#a4ff00 63%,#b8ff00 64.8%,#cdff00 67.4%,#f6ff00 73.9%,#ff0 75.7%,#ffe700 81.4%,#ffcb00 90.1%,#ffc000 95.2%,#ffbd00 99.9%)"></i><i style="left:152px;width:2px;background:linear-gradient(#00f 5.1%,#00f 6.3%,#001dff 16.5%,#002cff 20%,#0041ff 23.3%,#06f 27.6%,#008bff 31.3%,#00a2ff 33.1%,#00fffe 39.4%,#00ffc7 42.5%,#00ff8a 47.3%,#00ff76 48.3%,#00ff3c 50.9%,#00ff1d 53.4%,#00ff01 54.9%,#03ff00 55.1%,#31ff00 57.1%,#5bff00 59.6%,#8eff00 62.2%,#a3ff00 63.6%,#b7ff00 65.4%,#cf0 68%,#f2ff00 74.2%,#ff0 76.7%,#ffe800 82.2%,#ffce00 90.2%,#ffc300 95.3%,#ffbf00 100%)"></i><i style="left:154px;width:2px;background:linear-gradient(#00f 4.3%,#00f 5.4%,#001eff 16.2%,#002dff 19.6%,#0040ff 22.5%,#0064ff 26.9%,#008bff 30.9%,#00e8ff 37.8%,#0ff 39.2%,#00ffc7 42.5%,#00ff86 47.6%,#00ff71 48.7%,#00ff3f 50.9%,#00ff34 51.6%,#00ff1b 53.8%,#0f0 55.2%,#2cff00 57.2%,#56ff00 60%,#8f0 62.5%,#9eff00 64%,#c3ff00 67.6%,#e4ff00 72.5%,#ff0 77.6%,#ffe900 83.2%,#ffd000 90.7%,#ffc500 95.6%,#ffc100 100%)"></i><i style="left:156px;width:2px;background:linear-gradient(#00f 3.7%,#00f 4.8%,#001fff 15.5%,#002dff 19%,#003fff 21.9%,#005fff 25.9%,#008aff 30.4%,#00e6ff 37.5%,#00feff 39.1%,#00fffc 39.3%,#00ffc8 42.4%,#00ff87 47.7%,#00ff73 48.8%,#00ff3b 51.3%,#00ff18 54.2%,#00ff01 55.5%,#03ff00 55.7%,#28ff00 57.5%,#53ff00 60.4%,#8aff00 63.3%,#9fff00 64.8%,#c3ff00 68.4%,#e3ff00 73.1%,#ff0 78.6%,#ffd200 91.3%,#ffc800 96.1%,#ffc400 99.9%)"></i><i style="left:158px;width:2px;background:linear-gradient(#00f 3.1%,#00f 4.2%,#001fff 14.9%,#002eff 18.4%,#0041ff 21.5%,#0067ff 26.2%,#008cff 30.2%,#00fffe 39.1%,#00ffc8 42.4%,#0f8 47.7%,#00ff76 48.8%,#00ff3b 51.5%,#00ff16 54.6%,#0f0 55.9%,#27ff00 57.9%,#4fff00 60.8%,#87ff00 63.9%,#9fff00 65.5%,#c1ff00 68.9%,#e0ff00 73.5%,#ff0 79.7%,#ffd400 92%,#ffcb00 96.4%,#ffc800 99.9%)"></i><i style="left:160px;width:2px;background:linear-gradient(#00f 2.6%,#00f 3.7%,#0021ff 14.8%,#002fff 18.1%,#0041ff 21%,#0065ff 25.6%,#008bff 29.7%,#00e8ff 37.4%,#0ff 39%,#00ffc7 42.5%,#00ff86 47.9%,#00ff73 49%,#00ff3a 51.7%,#00ff18 54.6%,#02ff00 56.3%,#24ff00 58.1%,#4fff00 61.4%,#86ff00 64.5%,#9dff00 66.1%,#bfff00 69.6%,#deff00 74.1%,#ff0 80.6%,#ffd700 92.6%,#ffcd00 96.8%,#ffcb00 99.9%)"></i><i style="left:162px;width:2px;background:linear-gradient(#00f 2.2%,#00f 3.1%,#0023ff 14.6%,#0030ff 17.7%,#0042ff 20.6%,#006cff 25.9%,#008cff 29.5%,#00fffe 39%,#00ffc7 42.4%,#00ff86 48%,#00ff73 49.1%,#00ff3b 51.9%,#00ff17 55%,#0f0 56.4%,#23ff00 58.4%,#4eff00 61.9%,#85ff00 65.1%,#9eff00 67%,#beff00 70.2%,#dcff00 74.6%,#ff0 81.5%,#ffd900 93.3%,#ffce00 99.9%)"></i><i style="left:164px;width:2px;background:linear-gradient(#00f 1.9%,#00f 2.8%,#02f 13.9%,#0030ff 17.2%,#0042ff 20.1%,#006fff 25.9%,#008dff 29.2%,#00e7ff 37%,#0ff 38.8%,#00ffc9 42.2%,#00ff87 48.1%,#00ff72 49.3%,#00ff3b 52.1%,#00ff14 55.3%,#02ff00 56.8%,#25ff00 59%,#51ff00 62.6%,#84ff00 65.7%,#9cff00 67.5%,#bcff00 70.8%,#daff00 75.2%,#ff0 82.6%,#ffdf00 92.4%,#ffd400 97%,#ffd200 99.9%)"></i><i style="left:166px;width:2px;background:linear-gradient(#00f 1.6%,#00f 2.5%,#0023ff 13.6%,#0031ff 16.7%,#0043ff 19.8%,#0072ff 25.8%,#008fff 29%,#00e7ff 36.9%,#0ff 38.7%,#00ffc8 42.3%,#00ff87 48.1%,#00ff73 49.4%,#00ff39 52.3%,#01ff00 57%,#23ff00 59.2%,#4dff00 62.9%,#86ff00 66.5%,#9dff00 68.3%,#bcff00 71.6%,#d9ff00 75.9%,#ff0 83.6%,#ffe100 92.9%,#ffd500 99.9%)"></i><i style="left:168px;width:2px;background:linear-gradient(#00f 1.3%,#00f 2.2%,#0025ff 13.5%,#0032ff 16.4%,#04f 19.3%,#0072ff 25.3%,#008fff 28.6%,#00e6ff 36.6%,#0ff 38.6%,#00ffc9 42.2%,#00ff87 48.2%,#00ff73 49.5%,#00ff38 52.6%,#02ff00 57.3%,#24ff00 59.7%,#4dff00 63.3%,#83ff00 67%,#9aff00 68.8%,#b9ff00 72.1%,#d7ff00 76.4%,#ef0 80.8%,#ff0 84.6%,#ffe400 93.2%,#ffd800 99.9%)"></i><i style="left:170px;width:2px;background:linear-gradient(#00f 1.1%,#00f 2%,#0025ff 13.1%,#03f 16%,#0045ff 19%,#0070ff 24.8%,#0090ff 28.4%,#00fffd 38.6%,#00ffc9 42.2%,#00ff86 48.4%,#00ff72 49.7%,#00ff38 52.8%,#0f0 57.5%,#23ff00 60%,#4bff00 63.7%,#82ff00 67.5%,#9aff00 69.5%,#b8ff00 72.8%,#d4ff00 77%,#edff00 81.5%,#ff0 85.7%,#ffe700 93.5%,#ffdb00 99.9%)"></i><i style="left:172px;width:2px;background:linear-gradient(#00f 1%,#00f 1.9%,#0026ff 12.8%,#04f 18.4%,#0071ff 24.4%,#0090ff 28.1%,#00e7ff 36.4%,#00fffe 38.4%,#00ffc8 42.2%,#00ff87 48.4%,#00ff70 49.9%,#00ff38 53%,#0f0 57.7%,#21ff00 60.2%,#4aff00 64.1%,#81ff00 68.1%,#98ff00 70.1%,#b6ff00 73.3%,#d2ff00 77.5%,#ecff00 82.2%,#ff0 86.8%,#ffea00 93.9%,#ffdf00 99.9%)"></i><i style="left:174px;width:2px;background:linear-gradient(#00f .8%,#00f 1.7%,#0027ff 12.5%,#0045ff 18.1%,#0072ff 24.1%,#0092ff 27.9%,#00e5ff 36.1%,#0ff 38.3%,#00ffc9 42.1%,#00ff87 48.5%,#00ff71 49.9%,#00ff37 53.2%,#0f0 57.9%,#1fff00 60.5%,#49ff00 64.5%,#7eff00 68.5%,#97ff00 70.7%,#b3ff00 73.7%,#cfff00 77.9%,#ebff00 83%,#ff0 87.9%,#ffea00 95.2%,#ffe300 99.9%)"></i><i style="left:176px;width:2px;background:linear-gradient(#00f .7%,#0001ff 1.6%,#0028ff 12.4%,#0046ff 17.8%,#0074ff 24%,#0092ff 27.6%,#00e5ff 36%,#0ff 38.2%,#00ffc8 42.2%,#00ff87 48.5%,#00ff75 49.8%,#00ff36 53.5%,#0f0 58.2%,#1eff00 60.7%,#47ff00 64.7%,#95ff00 71.1%,#b0ff00 74.2%,#cbff00 78.2%,#ebff00 84%,#ff0 89.3%,#ffec00 96%,#ffe700 100%)"></i><i style="left:178px;width:2px;background:linear-gradient(#00f .6%,#0001ff 1.5%,#0028ff 11.9%,#0048ff 17.5%,#0075ff 23.7%,#0094ff 27.5%,#00e6ff 35.9%,#0ff 38.1%,#00ffc9 42.1%,#00ff87 48.6%,#00ff72 50.1%,#00ff37 53.5%,#01ff00 58.5%,#46ff00 65%,#93ff00 71.5%,#aeff00 74.6%,#c8ff00 78.5%,#e9ff00 84.6%,#ff0 90.5%,#ffef00 96.3%,#ffeb00 99.9%)"></i><i style="left:180px;width:2px;background:linear-gradient(#00f .6%,#0001ff 1.5%,#0029ff 11.7%,#0047ff 17.1%,#0095ff 27.3%,#00e5ff 35.7%,#00fffe 38%,#0fc 41.8%,#00ff86 48.7%,#00ff71 50.2%,#00ff35 53.8%,#00ff01 58.6%,#42ff00 65.1%,#91ff00 72%,#af0 74.9%,#c3ff00 78.6%,#e6ff00 85.1%,#ff0 91.7%,#fff200 96.7%,#ffef00 99.8%)"></i><i style="left:182px;width:2px;background:linear-gradient(#00f .5%,#00f 1.2%,#0029ff 11.2%,#0047ff 16.7%,#0096ff 27.1%,#00e2ff 35.2%,#00fffe 38%,#00ffca 42%,#00ff87 48.7%,#00ff73 50.1%,#0f3 54.1%,#0f0 58.9%,#40ff00 65.2%,#8eff00 72.3%,#a7ff00 75.2%,#c0ff00 78.9%,#e4ff00 85.6%,#fcff00 92%,#ff0 93.2%,#fff500 97.2%,#fff300 100%)"></i><i style="left:184px;width:2px;background:linear-gradient(#00f .5%,#00f 1.2%,#0029ff 10.8%,#0047ff 16.3%,#0096ff 26.8%,#00e3ff 35.2%,#0ff 37.7%,#00ffca 41.9%,#0f8 48.6%,#00ff72 50.3%,#00ff34 54.3%,#0f0 59%,#3dff00 65.4%,#8cff00 72.6%,#a3ff00 75.4%,#b8ff00 78.5%,#df0 85.2%,#f3ff00 90.6%,#ff0 94.6%,#fff700 99.9%)"></i><i style="left:186px;width:2px;background:linear-gradient(#00f .4%,#00f 1.2%,#0028ff 10.4%,#0046ff 15.7%,#0098ff 26.8%,#00e2ff 35%,#00fffe 37.7%,#00ffca 41.9%,#00ff89 48.6%,#00ff71 50.4%,#00ff32 54.6%,#01ff00 59.3%,#39ff00 65.3%,#8f0 72.8%,#b1ff00 78.1%,#d5ff00 84.4%,#edff00 89.9%,#ff0 96.3%,#fffb00 99.9%)"></i><i style="left:188px;width:2px;background:linear-gradient(#00f .4%,#00f 1.1%,#0029ff 10.2%,#0047ff 15.5%,#09f 26.6%,#00e0ff 34.6%,#00fffd 37.7%,#00ffca 41.9%,#0f8 48.8%,#00ff70 50.6%,#00ff32 54.8%,#0f0 59.5%,#37ff00 65.5%,#84ff00 73%,#adff00 78.2%,#cfff00 84.2%,#e7ff00 89.5%,#faff00 95.7%,#ff0 99.9%)"></i><i style="left:190px;width:2px;background:linear-gradient(#00f .4%,#00f 1.1%,#0029ff 9.8%,#0048ff 15.3%,#009bff 26.6%,#00e1ff 34.6%,#0ff 37.5%,#00ffca 41.8%,#00ff89 48.7%,#00ff72 50.6%,#00ff32 54.9%,#0f0 59.7%,#3f0 65.5%,#85ff00 73.5%,#abff00 78.6%,#cdff00 84.7%,#e4ff00 89.8%,#f6ff00 95.7%,#fcff00 99.8%)"></i><i style="left:192px;width:2px;background:linear-gradient(#00f .4%,#00f 1.1%,#0028ff 9.5%,#004bff 15.3%,#009dff 26.6%,#00dfff 34.2%,#00fffe 37.5%,#00ffce 41.5%,#00ff89 48.7%,#00ff73 50.6%,#00ff30 55.3%,#0f0 59.8%,#30ff00 65.5%,#83ff00 73.8%,#a9ff00 78.9%,#c9ff00 84.7%,#e2ff00 90.2%,#f3ff00 95.6%,#f8ff00 99.8%)"></i><i style="left:194px;width:2px;background:linear-gradient(#00f .4%,#00f 1.1%,#0028ff 9.1%,#004aff 14.9%,#00a5ff 27.3%,#00e0ff 34.2%,#0ff 37.3%,#00ffce 41.5%,#00ff8a 48.7%,#00ff74 50.5%,#00ff2d 55.6%,#00ff01 60%,#2dff00 65.5%,#82ff00 74.2%,#a7ff00 79.3%,#caff00 85.8%,#e0ff00 90.9%,#f0ff00 96%,#f5ff00 100%)"></i><i style="left:196px;width:2px;background:linear-gradient(#00f .4%,#00f 1.1%,#0028ff 8.9%,#004dff 14.9%,#00a7ff 27.3%,#00deff 33.8%,#00fffe 37.3%,#00ffce 41.4%,#00ff8a 48.7%,#00ff2b 56%,#01ff00 60.4%,#2dff00 65.8%,#7eff00 74.2%,#a4ff00 79.3%,#c3ff00 85.1%,#df0 90.9%,#edff00 96%,#f3ff00 100%)"></i><i style="left:198px;width:2px;background:linear-gradient(#00f .3%,#00f 1.1%,#0027ff 8.3%,#004eff 14.7%,#00a8ff 27.3%,#00dfff 33.8%,#0ff 37.1%,#00ffce 41.4%,#00ff8b 48.7%,#00ff29 56.3%,#0f0 60.5%,#2aff00 65.8%,#7eff00 74.5%,#a2ff00 79.6%,#c1ff00 85.4%,#daff00 91.3%,#e9ff00 96%,#f0ff00 100%)"></i><i style="left:200px;width:2px;background:linear-gradient(#00f .3%,#00f 1.1%,#0032ff 10.2%,#006fff 19.2%,#00b6ff 28.7%,#00fffe 37.1%,#00ffcd 41.4%,#00ff8b 48.7%,#00ff29 56.5%,#0f0 60.7%,#2aff00 66.2%,#7aff00 74.5%,#9fff00 79.6%,#b6ff00 84%,#d7ff00 91.2%,#e7ff00 96.3%,#ef0 100%)"></i><i style="left:202px;width:2px;background:linear-gradient(#00f .3%,#00f 1.1%,#0032ff 9.8%,#0074ff 19.6%,#0bf 29.2%,#00e1ff 33.8%,#0ff 36.9%,#00ffcd 41.4%,#00ff8c 48.7%,#00ff29 56.7%,#0f0 60.9%,#29ff00 66.3%,#7aff00 74.9%,#9eff00 80%,#b3ff00 84%,#d5ff00 91.6%,#e6ff00 96.9%,#ebff00 100%)"></i><i style="left:204px;width:2px;background:linear-gradient(#00f .3%,#00f 1.1%,#0032ff 9.6%,#07f 19.8%,#0bf 29.1%,#00fffe 36.9%,#00ffcf 41.2%,#00ff8c 48.7%,#00ff27 57.1%,#0f0 61.1%,#28ff00 66.5%,#79ff00 75.2%,#9dff00 80.2%,#b1ff00 84.2%,#d4ff00 92.3%,#e4ff00 97.1%,#e8ff00 100%)"></i><i style="left:206px;width:2px;background:linear-gradient(#00f .3%,#00f 1.1%,#0031ff 9.2%,#007aff 20%,#00c1ff 29.6%,#0ff 36.7%,#00ffd0 41.1%,#00ff8c 48.7%,#00ff24 57.4%,#0f0 61.2%,#23ff00 66.1%,#70ff00 74.5%,#9bff00 80.3%,#b0ff00 84.3%,#d3ff00 92.9%,#e1ff00 97.1%,#e4ff00 100%)"></i><i style="left:208px;width:2px;background:linear-gradient(#00f .3%,#00f 1.1%,#002eff 8.5%,#007bff 20%,#00c0ff 29.4%,#00fffe 36.7%,#00ffd0 41.1%,#00ff90 48.3%,#0f2 57.8%,#01ff00 61.6%,#27ff00 66.9%,#79ff00 76%,#9bff00 80.7%,#afff00 84.7%,#d2ff00 93.4%,#deff00 97.1%,#e1ff00 100%)"></i><i style="left:210px;width:2px;background:linear-gradient(#00f .3%,#00f 1.1%,#000eff 3.2%,#007dff 20%,#00c3ff 29.6%,#0ff 36.5%,#00ffd0 41.1%,#00ff90 48.3%,#00ff20 58.1%,#0f0 61.8%,#28ff00 67.2%,#79ff00 76.3%,#9aff00 81.1%,#acff00 84.7%,#d1ff00 93.8%,#dbff00 97.2%,#deff00 100%)"></i><i style="left:212px;width:2px;background:linear-gradient(#00f .3%,#00f 1.1%,#000fff 3.4%,#00a2ff 25.1%,#00d7ff 32%,#00fffe 36.5%,#00ffd0 41.1%,#00ff8f 48.5%,#0f2 58.1%,#0f0 62%,#26ff00 67.2%,#7bff00 76.9%,#9f0 81.2%,#abff00 84.9%,#ceff00 94%,#d8ff00 97.2%,#dbff00 100%)"></i><i style="left:214px;width:2px;background:linear-gradient(#00f .3%,#00f 1.1%,#0007ff 2.1%,#00a4ff 25.2%,#00d7ff 32%,#0ff 36.3%,#00ffd0 41.1%,#00ff91 48.3%,#00ff20 58.5%,#0f0 62.1%,#24ff00 67.2%,#74ff00 76.3%,#98ff00 81.4%,#af0 85.1%,#cf0 94.1%,#d5ff00 97.2%,#d8ff00 100%)"></i><i style="left:216px;width:2px;background:linear-gradient(#00f .3%,#0002ff 1.4%,#00a7ff 25.4%,#00d8ff 32%,#00fffe 36.3%,#00ffd1 40.9%,#00ff91 48.3%,#00ff1f 58.9%,#01ff00 62.5%,#26ff00 67.8%,#7dff00 77.8%,#98ff00 81.8%,#a8ff00 85.1%,#caff00 94.3%,#d2ff00 97.2%,#d5ff00 100%)"></i><i style="left:218px;width:2px;background:linear-gradient(#00f .3%,#0001ff 1.2%,#00a8ff 25.4%,#00d8ff 31.8%,#0ff 36.1%,#00ffd1 40.9%,#00ff91 48.3%,#00ff21 58.9%,#0f0 62.7%,#26ff00 68%,#7dff00 78.1%,#96ff00 81.8%,#a8ff00 85.4%,#c9ff00 94.9%,#d2ff00 100%)"></i><i style="left:220px;width:2px;background:linear-gradient(#00f .3%,#00f 1.1%,#00b0ff 26.5%,#00d8ff 31.8%,#0ff 36.1%,#00ffd1 40.9%,#00ff91 48.3%,#0f2 58.9%,#0f0 62.9%,#27ff00 68.3%,#7eff00 78.5%,#96ff00 82.1%,#a7ff00 85.8%,#c8ff00 95.2%,#cfff00 100%)"></i><i style="left:222px;width:2px;background:linear-gradient(#00f .3%,#00f 1.1%,#00b1ff 26.5%,#00d6ff 31.4%,#00fffe 36.1%,#00ffd2 40.7%,#00ff91 48.3%,#00ff24 58.9%,#00ff01 63.1%,#26ff00 68.3%,#7eff00 78.9%,#95ff00 82.3%,#a6ff00 86%,#c5ff00 95.2%,#cf0 100%)"></i><i style="left:224px;width:2px;background:linear-gradient(#00f .3%,#00f 1.1%,#003cff 9.2%,#00b4ff 26.9%,#00daff 31.8%,#0ff 36%,#00ffd2 40.7%,#00ff91 48.3%,#00ff26 58.9%,#0f0 63.4%,#27ff00 68.7%,#7fff00 79.2%,#94ff00 82.5%,#a5ff00 86.1%,#bfff00 93.8%,#c7ff00 96.9%,#caff00 100%)"></i><i style="left:226px;width:2px;background:linear-gradient(#00f .3%,#00f 1.1%,#003eff 9.4%,#00b6ff 27.1%,#00d9ff 31.6%,#00fffe 36%,#00ffd2 40.7%,#00ff91 48.3%,#00ff28 58.9%,#0f0 63.6%,#29ff00 69.1%,#7eff00 79.4%,#92ff00 82.5%,#a4ff00 86.3%,#bdff00 93.8%,#c5ff00 96.9%,#c8ff00 100%)"></i><i style="left:228px;width:4px;background:linear-gradient(#00f .3%,#00f 1.1%,#0041ff 9.8%,#00b9ff 27.2%,#00daff 31.6%,#0ff 35.8%,#00ffd2 40.7%,#00ff8e 48.7%,#00ff20 60%,#01ff00 64%,#7cff00 79.6%,#91ff00 82.9%,#a3ff00 86.9%,#baff00 93.8%,#c2ff00 97.1%,#c4ff00 100%)"></i><i style="left:232px;width:4px;background:linear-gradient(#00f .3%,#00f 1.1%,#0045ff 10.1%,#00baff 27.2%,#00fffe 35.8%,#00ffd2 40.7%,#00ff8b 49.1%,#00ff27 59.6%,#0f0 64.3%,#7aff00 80%,#8fff00 83.2%,#a1ff00 87.4%,#b6ff00 93.6%,#beff00 96.9%,#bfff00 100%)"></i><i style="left:236px;width:4px;background:linear-gradient(#00f .3%,#00f 1.1%,#0047ff 10.3%,#0bf 27.2%,#0ff 35.6%,#00ff85 49.8%,#00ff29 59.6%,#0f0 64.7%,#78ff00 80.3%,#8dff00 83.8%,#b1ff00 93.1%,#b8ff00 96.5%,#baff00 100%)"></i><i style="left:240px;width:4px;background:linear-gradient(#00f .3%,#00f 1.1%,#0049ff 10.7%,#0bf 27.2%,#0ff 35.6%,#00ff7c 50.9%,#00ff2f 59.2%,#0f0 64.9%,#71ff00 80%,#8aff00 84%,#abff00 92.3%,#b4ff00 96.3%,#b5ff00 100%)"></i><i style="left:244px;width:4px;background:linear-gradient(#00f .3%,#00f 1.1%,#004bff 10.9%,#00b9ff 26.9%,#0ff 35.6%,#00ff76 51.6%,#00ff2e 59.6%,#01ff00 65.2%,#45ff00 74.1%,#74ff00 81.1%,#87ff00 84.3%,#98ff00 88.1%,#a9ff00 93.4%,#b0ff00 97.1%,#b0ff00 100%)"></i><i style="left:248px;width:4px;background:linear-gradient(#00f .3%,#00f 1.1%,#004dff 11.2%,#00b5ff 26.1%,#0ff 35.6%,#00ff01 65.2%,#4f0 74.3%,#6fff00 80.7%,#83ff00 84.3%,#9aff00 89.4%,#a4ff00 93.1%,#acff00 97.1%,#abff00 100%)"></i><i style="left:252px;width:4px;background:linear-gradient(#00f .3%,#00f 1.1%,#004fff 11.6%,#0af 24.7%,#0ff 35.6%,#00ffaf 44.7%,#00ff6f 52.7%,#0f0 65.4%,#46ff00 74.7%,#7eff00 84%,#9f0 90.1%,#a6ff00 95.2%,#a9ff00 100%)"></i><i style="left:256px;width:4px;background:linear-gradient(#00f .3%,#00f 1.1%,#0052ff 12.1%,#00a9ff 24.5%,#0ff 35.6%,#00ffab 45.1%,#00ff6c 53.1%,#0f0 65.4%,#47ff00 74.9%,#78ff00 83.2%,#94ff00 89.6%,#9eff00 92.7%,#a6ff00 100%)"></i><i style="left:260px;width:4px;background:linear-gradient(#00f .3%,#00f 1.1%,#00a5ff 24%,#00fffe 35.8%,#00ffa5 45.8%,#00ff64 54.1%,#00ff01 65.2%,#49ff00 75.2%,#76ff00 83.1%,#91ff00 89.4%,#9aff00 92.3%,#a6ff00 100%)"></i><i style="left:264px;width:4px;background:linear-gradient(#00f .3%,#00f 1.1%,#009fff 23.2%,#0ff 35.8%,#00ffa4 45.8%,#00ff5e 54.9%,#0f0 65.2%,#4cff00 75.6%,#76ff00 83.2%,#8fff00 89.4%,#98ff00 92.5%,#a5ff00 100%)"></i><i style="left:268px;width:4px;background:linear-gradient(#00f .3%,#00f 1.1%,#0097ff 22.1%,#0ff 35.8%,#00ffa4 45.8%,#00ff58 55.6%,#00ff14 62.7%,#01ff00 65.1%,#4fff00 76%,#78ff00 83.6%,#8dff00 89.1%,#97ff00 92.3%,#a1ff00 100%)"></i><i style="left:272px;width:4px;background:linear-gradient(#00f .3%,#00f 1.1%,#007cff 18.5%,#00d1ff 30.1%,#00fffe 36%,#00ffa3 45.8%,#00ff56 55.8%,#0f0 64.7%,#54ff00 76.7%,#7aff00 84.1%,#8eff00 89.4%,#97ff00 93.1%,#9dff00 97.4%,#9bff00 100%)"></i><i style="left:276px;width:4px;background:linear-gradient(#00f .3%,#00f 1.1%,#006dff 16.7%,#00d0ff 30.1%,#0ff 36%,#00ffa2 45.8%,#00ff56 55.6%,#00ff14 62.1%,#0f0 64.5%,#57ff00 76.9%,#7fff00 85.1%,#8eff00 89.4%,#97ff00 93.4%,#9cff00 98.1%,#98ff00 100%)"></i><i style="left:280px;width:4px;background:linear-gradient(#00f .3%,#00f 1.1%,#006aff 16.3%,#00c9ff 29.4%,#00fffe 36.1%,#00ffa2 45.8%,#00ff57 55.2%,#00ff12 62.1%,#01ff00 64.3%,#29ff00 70.5%,#5f0 76.3%,#71ff00 81.8%,#8fff00 89.4%,#98ff00 94%,#9bff00 100%)"></i><i style="left:284px;width:4px;background:linear-gradient(#00f .3%,#00f 1.1%,#0069ff 16.3%,#00c7ff 29.4%,#00fffe 36.1%,#00ffa0 46%,#00ff5c 54.5%,#00ff13 61.8%,#0f0 64%,#29ff00 70.3%,#59ff00 76.7%,#74ff00 82.1%,#91ff00 89.8%,#97ff00 93.4%,#9cff00 100%)"></i><i style="left:288px;width:4px;background:linear-gradient(#00f .3%,#00f 1.1%,#0069ff 16.5%,#00c5ff 29.4%,#00fffe 36.1%,#00ffa2 45.8%,#00ff63 53.4%,#00ff14 61.4%,#0f0 63.8%,#29ff00 70.1%,#58ff00 76.3%,#72ff00 81.2%,#92ff00 89.8%,#a1ff00 100%)"></i><i style="left:292px;width:4px;background:linear-gradient(#00f .3%,#00f 1.1%,#005cff 14.7%,#00baff 28%,#00fffe 36.1%,#00ff9f 46.1%,#00ff63 53.1%,#00ff16 61.1%,#0f0 63.6%,#27ff00 69.8%,#59ff00 76.3%,#74ff00 81.4%,#93ff00 89.8%,#a2ff00 97.6%,#a2ff00 100%)"></i><i style="left:296px;width:4px;background:linear-gradient(#00f .3%,#00f 1.1%,#006bff 17.1%,#00c2ff 29.1%,#0ff 36%,#00ff18 60.7%,#0f0 63.6%,#29ff00 69.8%,#57ff00 76%,#74ff00 81.4%,#95ff00 90.1%,#a1ff00 96.7%,#a0ff00 100%)"></i><i style="left:300px;width:4px;background:linear-gradient(#00f .3%,#00f 1.1%,#006eff 17.4%,#00c2ff 29.1%,#0ff 36%,#00ffcb 41.8%,#0f2 59.6%,#0f0 63.6%,#57ff00 76%,#78ff00 82.1%,#9f0 91.2%,#a1ff00 95.6%,#a2ff00 100%)"></i><i style="left:304px;width:4px;background:linear-gradient(#00f .3%,#00f 1.1%,#002cff 7.2%,#0070ff 17.8%,#00c0ff 28.7%,#0ff 35.8%,#00ffbc 43.4%,#00ff58 53.6%,#0f0 63.6%,#53ff00 75.4%,#79ff00 82.5%,#9bff00 91.2%,#a2ff00 95.2%,#a3ff00 100%)"></i><i style="left:308px;width:4px;background:linear-gradient(#00f .3%,#00f 1.1%,#002cff 7.2%,#0074ff 18.3%,#00bfff 28.3%,#0ff 35.6%,#00ffbe 43.2%,#00ff61 52.7%,#0f0 63.8%,#4dff00 74.5%,#7cff00 83.4%,#9cff00 92%,#a2ff00 95.4%,#a4ff00 100%)"></i><i style="left:312px;width:4px;background:linear-gradient(#00f .3%,#00f 1.1%,#002cff 7.2%,#0076ff 18.5%,#00bdff 27.8%,#0ff 35.4%,#00ffb8 44%,#00ff5d 53.2%,#01ff00 64.1%,#46ff00 73.6%,#80ff00 84.7%,#9cff00 92.3%,#a2ff00 100%)"></i><i style="left:316px;width:4px;background:linear-gradient(#00f .3%,#00f 1.1%,#002eff 7.4%,#0078ff 18.7%,#00b3ff 26.3%,#0ff 35.2%,#00ffb5 44.3%,#00ff5d 53.4%,#00ff01 64.3%,#41ff00 73.1%,#82ff00 85.6%,#9aff00 92.7%,#a0ff00 100%)"></i><i style="left:320px;width:4px;background:linear-gradient(#00f .3%,#00f 1.1%,#002fff 7.4%,#007bff 18.9%,#00fffe 35.1%,#0fb 43.6%,#00ff53 54.9%,#0f0 64.9%,#27ff00 69.6%,#3cff00 72.7%,#7eff00 85.8%,#96ff00 92.9%,#9dff00 100%)"></i><i style="left:324px;width:4px;background:linear-gradient(#00f .3%,#00f 1.1%,#002fff 7.4%,#007fff 19.2%,#0ff 34.7%,#00ffc2 42.7%,#00ff50 55.6%,#0f0 65.4%,#25ff00 69.8%,#39ff00 72.7%,#7aff00 86.1%,#91ff00 93.1%,#98ff00 100%)"></i><i style="left:328px;width:4px;background:linear-gradient(#00f .3%,#00f 1.1%,#0030ff 7.4%,#007fff 19.1%,#0ff 34.5%,#00ffc5 42.3%,#00ff4e 56.3%,#0f0 66.1%,#2f0 70.1%,#36ff00 73.1%,#72ff00 85.8%,#8bff00 93.2%,#92ff00 100%)"></i><i style="left:332px;width:4px;background:linear-gradient(#00f .3%,#00f 1.1%,#0032ff 7.6%,#0080ff 18.9%,#0ff 34.1%,#00ffc8 41.8%,#00ff52 56.3%,#0f0 66.9%,#21ff00 70.9%,#3f0 73.6%,#68ff00 85.2%,#82ff00 93.1%,#89ff00 96.7%,#8aff00 100%)"></i><i style="left:336px;width:4px;background:linear-gradient(#00f .3%,#00f 1.1%,#0032ff 7.6%,#0083ff 18.9%,#00d9ff 29.1%,#0ff 34%,#00ffce 40.9%,#00ff58 56%,#0f0 67.8%,#1eff00 71.6%,#30ff00 74.5%,#5dff00 84.7%,#78ff00 93.1%,#81ff00 100%)"></i><i style="left:340px;width:4px;background:linear-gradient(#00f .3%,#00f 1.1%,#0084ff 18.7%,#00d6ff 28.3%,#0ff 33.6%,#00ffd3 40%,#00ff85 50.3%,#0f0 68.9%,#2bff00 75.2%,#53ff00 84.3%,#6dff00 93.1%,#76ff00 100%)"></i><i style="left:344px;width:4px;background:linear-gradient(#00f .3%,#00f 1.1%,#0086ff 18.5%,#00d9ff 28.3%,#0ff 33.4%,#00ffd2 40%,#00ff82 50.9%,#0f0 70.1%,#28ff00 76.3%,#4aff00 84.5%,#61ff00 92.9%,#6bff00 100%)"></i><i style="left:348px;width:4px;background:linear-gradient(#00f .3%,#00f 1.1%,#0091ff 19.6%,#00deff 28.7%,#00fffe 33.2%,#00ff80 51.2%,#0f0 71.4%,#25ff00 77.8%,#41ff00 85.1%,#5f0 92.7%,#5fff00 100%)"></i><i style="left:352px;width:4px;background:linear-gradient(#00f .3%,#00f 1.1%,#00daff 28%,#0ff 32.9%,#00ff7d 51.8%,#0f0 73.1%,#21ff00 79.2%,#39ff00 85.8%,#4aff00 92.7%,#53ff00 100%)"></i><i style="left:356px;width:4px;background:linear-gradient(#00f .3%,#00f 1.1%,#0064ff 13.1%,#0ff 32.7%,#00ffa2 46.1%,#00ff7b 52.3%,#0f0 74.7%,#1eff00 81.1%,#30ff00 86.5%,#3fff00 93.4%,#47ff00 100%)"></i><i style="left:360px;width:4px;background:linear-gradient(#00f .3%,#00f 1.1%,#006bff 13.6%,#0ff 32.5%,#00ffa4 45.8%,#0f7 53.1%,#0f0 76.7%,#1cff00 83.2%,#29ff00 87.6%,#35ff00 94%,#3aff00 100%)"></i><i style="left:364px;width:4px;background:linear-gradient(#00f .3%,#00f 1.1%,#006fff 13.8%,#00fffe 32.3%,#00ffa6 45.4%,#00ff76 53.4%,#0f0 78.7%,#18ff00 85.1%,#21ff00 88.5%,#2aff00 94.1%,#2fff00 100%)"></i><i style="left:368px;width:4px;background:linear-gradient(#00f .3%,#00f 1.1%,#000cff 2.5%,#007bff 14.9%,#00fffe 32.1%,#00ffa8 45.1%,#00ff74 54%,#00ff2a 70.5%,#00ff0c 78%,#0f0 81.2%,#12ff00 86.3%,#19ff00 89.6%,#24ff00 100%)"></i><i style="left:372px;width:4px;background:linear-gradient(#00f .3%,#00f 1.1%,#0013ff 3.2%,#007cff 14.7%,#00fffe 32%,#00ffae 44%,#00ff7b 52.7%,#00ff51 62%,#00ff23 73.4%,#0f0 84%,#12ff00 91.1%,#1bff00 100%)"></i><i style="left:376px;width:4px;background:linear-gradient(#00f .3%,#00f 1.1%,#0016ff 3.6%,#007dff 14.5%,#0ff 31.8%,#00ffb7 42.5%,#00ff81 51.6%,#00ff67 57.1%,#00ff37 69.1%,#00ff1f 76.1%,#0f0 87.1%,#0dff00 93.1%,#12ff00 100%)"></i><i style="left:380px;width:4px;background:linear-gradient(#00f .3%,#00f 1.1%,#0016ff 3.6%,#0064ff 11.4%,#007fff 14.5%,#0ff 31.6%,#00ffbd 41.4%,#00ff8a 50.1%,#00ff6f 55.4%,#00ff4a 64.3%,#00ff28 74.5%,#00ff02 89.8%,#09ff00 100%)"></i><i style="left:384px;width:4px;background:linear-gradient(#00f .3%,#00f 1.1%,#0017ff 3.6%,#0063ff 11.2%,#0080ff 14.5%,#0ff 31.4%,#00ffbd 41.2%,#00ff8a 50.1%,#00ff6f 55.6%,#00ff4a 64.9%,#00ff2b 74.7%,#00ff16 84%,#00ff07 92.3%,#00ff01 100%)"></i><i style="left:388px;width:4px;background:linear-gradient(#00f .3%,#00f 1.1%,#0014ff 3.2%,#0064ff 11.2%,#0082ff 14.5%,#0ff 31.2%,#00ffbd 41.1%,#0f8 50.5%,#00ff6d 56%,#00ff47 65.8%,#00ff2c 75.4%,#00ff13 88%,#00ff07 100%)"></i><i style="left:392px;width:4px;background:linear-gradient(#00f .3%,#00f 1.1%,#000dff 2.5%,#0065ff 11.2%,#0083ff 14.5%,#0ff 31.2%,#00ffbf 40.7%,#0f8 50.5%,#00ff6c 56.3%,#00ff46 66.3%,#00ff32 73.4%,#00ff19 86.5%,#00ff0c 100%)"></i><i style="left:396px;width:4px;background:linear-gradient(#00f .3%,#0002ff 1.2%,#06f 11.2%,#0085ff 14.7%,#0ff 31.1%,#00ffbf 40.5%,#00ff87 50.7%,#00ff6a 57.1%,#0f4 67.2%,#00ff34 73.1%,#00ff1f 84.7%,#00ff15 92%,#00ff10 100%)"></i><i style="left:400px;width:4px;background:linear-gradient(#00f .3%,#00f 1.1%,#06f 11.2%,#0087ff 14.9%,#00fffe 31.1%,#00ffbf 40.5%,#00ff86 50.9%,#00ff68 57.6%,#00ff42 68%,#00ff35 73.1%,#00ff1f 85.8%,#00ff13 100%)"></i><i style="left:404px;width:4px;background:linear-gradient(#00f .3%,#00f 1.1%,#0067ff 11.2%,#008bff 15.2%,#0ff 30.9%,#00ffc0 40.3%,#00ff86 50.9%,#00ff68 57.6%,#00ff47 66.5%,#00ff38 72%,#00ff24 83.6%,#00ff18 93.4%,#00ff14 100%)"></i><i style="left:408px;width:4px;background:linear-gradient(#00f .3%,#00f 1.1%,#0063ff 10.9%,#008eff 15.6%,#00fffe 30.9%,#00ffbf 40.3%,#00ff86 50.9%,#00ff68 57.8%,#00ff46 66.9%,#00ff3a 71.2%,#00ff2b 79.6%,#00ff1b 90.9%,#00ff15 100%)"></i><i style="left:412px;width:4px;background:linear-gradient(#00f .3%,#00f 1.1%,#0060ff 10.5%,#008eff 15.6%,#0ff 30.7%,#00ffbf 40.3%,#00ff86 50.9%,#00ff68 57.8%,#00ff46 67.1%,#00ff39 71.4%,#00ff2b 79.8%,#00ff19 93.8%,#00ff15 100%)"></i><i style="left:416px;width:4px;background:linear-gradient(#00f .3%,#00f 1.1%,#0058ff 9.8%,#0091ff 16%,#0ff 30.7%,#00ffbe 40.5%,#00ff87 50.9%,#00ff67 58.1%,#00ff45 67.2%,#00ff35 72.7%,#00ff1a 92.3%,#00ff15 100%)"></i><i style="left:420px;width:4px;background:linear-gradient(#00f .3%,#00f 1.1%,#004aff 8.3%,#0094ff 16.3%,#00fffe 30.7%,#00ffbd 40.7%,#00ff86 50.9%,#00ff67 58.1%,#0f4 67.6%,#00ff32 74%,#00ff28 83.2%,#00ff19 92.9%,#00ff14 100%)"></i><i style="left:424px;width:4px;background:linear-gradient(#00f .3%,#00f 1.1%,#0043ff 7.6%,#0097ff 16.7%,#0ff 30.5%,#00ffbd 40.7%,#00ff86 50.9%,#00ff65 58.5%,#00ff43 68.1%,#00ff2e 75.8%,#00ff27 84.1%,#00ff16 94.9%,#00ff13 100%)"></i><i style="left:428px;width:4px;background:linear-gradient(#00f .3%,#00f 1.1%,#0040ff 7.2%,#009aff 17.1%,#0ff 30.5%,#00ffbd 40.7%,#00ff86 50.9%,#00ff64 58.9%,#00ff41 68.7%,#00ff2b 77.4%,#00ff2c 79.2%,#00ff26 84.5%,#00ff16 94.3%,#0f1 100%)"></i><i style="left:432px;width:4px;background:linear-gradient(#00f .3%,#00f 1.1%,#003dff 6.9%,#009cff 17.2%,#0ff 30.5%,#00ffc3 39.6%,#00ffa0 45.8%,#0f7 54.1%,#00ff51 64.1%,#00ff37 72%,#00ff28 78.5%,#00ff25 85.2%,#00ff13 96%,#00ff10 100%)"></i><i style="left:436px;width:4px;background:linear-gradient(#00f .3%,#00f 1.1%,#003bff 6.7%,#009dff 17.4%,#00cfff 23.8%,#0ff 30.5%,#00ffc1 40%,#00ffa0 45.8%,#00ff79 53.8%,#00ff52 64%,#00ff36 72.5%,#00ff25 80.3%,#00ff23 86.1%,#00ff13 95.6%,#00ff10 100%)"></i><i style="left:440px;width:4px;background:linear-gradient(#00f .3%,#00f 1.1%,#003aff 6.5%,#00a0ff 17.8%,#00d3ff 24.3%,#00fffe 30.5%,#00ffbf 40.3%,#00ff9e 46.1%,#00ff78 54%,#00ff52 64%,#00ff39 71.2%,#00ff23 81.4%,#0f2 86.7%,#00ff13 95.2%,#00ff10 100%)"></i><i style="left:444px;width:4px;background:linear-gradient(#00f .3%,#00f 1.1%,#003aff 6.5%,#00a3ff 18.1%,#00d6ff 24.7%,#00fffe 30.5%,#00ffbe 40.5%,#00ff9e 46.1%,#00ff79 53.8%,#00ff51 64%,#00ff38 71.6%,#00ff23 81.8%,#00ff1f 87.8%,#00ff13 95.2%,#00ff10 100%)"></i><i style="left:448px;width:4px;background:linear-gradient(#00f .3%,#00f 1.1%,#003aff 6.5%,#00a6ff 18.5%,#00d8ff 24.9%,#00fffe 30.5%,#00ffbd 40.7%,#00ff9d 46.3%,#00ff79 53.8%,#00ff51 64%,#00ff37 72%,#00ff21 82.5%,#00ff1d 85.4%,#00ff1e 88.7%,#0f1 96.7%,#00ff10 100%)"></i><i style="left:452px;width:4px;background:linear-gradient(#00f .3%,#00f 1.1%,#003aff 6.5%,#00a7ff 18.7%,#00d9ff 25.1%,#00fffe 30.5%,#00ffbd 40.7%,#00ff9c 46.5%,#00ff78 54%,#00ff51 64%,#00ff37 72%,#00ff24 81.1%,#00ff1c 86.5%,#00ff1c 89.8%,#0f1 96.3%,#00ff10 100%)"></i><i style="left:456px;width:4px;background:linear-gradient(#00f .3%,#00f 1.1%,#003aff 6.5%,#00a9ff 18.9%,#00d9ff 25.1%,#00fffe 30.5%,#00ffbc 40.9%,#00ff9c 46.5%,#00ff79 53.8%,#00ff53 63.6%,#00ff37 72%,#00ff25 81.1%,#00ff12 95.8%,#00ff10 100%)"></i><i style="left:460px;width:4px;background:linear-gradient(#00f .3%,#00f 1.1%,#003aff 6.5%,#00a9ff 18.9%,#00d5ff 24.5%,#0ff 30.3%,#0fb 41.1%,#00ff9c 46.5%,#00ff79 53.8%,#00ff53 63.6%,#00ff38 71.8%,#00ff24 81.4%,#00ff12 95.2%,#00ff10 100%)"></i><i style="left:464px;width:1px;background:linear-gradient(#00f .3%,#00f 1.1%,#003aff 6.5%,#0af 19.1%,#00d9ff 25.1%,#00fffe 30.5%,#0fb 41.1%,#00ff9c 46.5%,#00ff78 53.8%,#00ff53 63.4%,#00ff37 72%,#00ff27 80%,#00ff12 94.7%,#00ff10 100%)"></i><i style="left:465px;width:239px;background:linear-gradient(#00f .3%,#00f 1.1%,#003aff 6.5%,#0af 19.1%,#00d9ff 25.1%,#00fffe 30.5%,#0fb 41.1%,#00ff9c 46.5%,#00ff78 53.8%,#00ff53 63.4%,#00ff37 72%,#00ff27 80%,#00ff12 94.7%,#00ff10 100%)"></i></div>
<div class="pn" style="left:997px;top:489px;width:706px;height:272px"><i style="left:0px;width:4px;background:linear-gradient(#00f .2%,#00f 1%,#0005ff 1.5%,#0027ff 4.8%,#09f 17.5%,#00d2ff 24.5%,#0ff 30.7%,#00ffc6 39.2%,#00ff9a 46.7%,#00ff75 54.1%,#00ff48 64.7%,#00ff3d 68.4%,#00ff32 75.4%,#00ff28 79.8%,#00ff14 92%,#00ff14 94.2%,#00ff0b 99.9%)"></i><i style="left:4px;width:4px;background:linear-gradient(#00f .2%,#0001ff 1.1%,#0006ff 1.9%,#02f 4.1%,#0085ff 14.9%,#00c2ff 22.5%,#0ff 30.7%,#00ffbc 40.9%,#00ff8e 48.9%,#00ff47 64.7%,#00ff3b 68.8%,#00ff27 79.5%,#00ff15 90.7%,#00ff0a 99.9%)"></i><i style="left:8px;width:4px;background:linear-gradient(#00f .2%,#0004ff 1.7%,#0023ff 4.1%,#007eff 14%,#00bcff 21.7%,#0ff 30.7%,#00ffbc 40.7%,#00ff8f 48.8%,#00ff46 64.8%,#00ff3a 69.2%,#0f2 81.7%,#00ff0c 96%,#00ff09 99.9%)"></i><i style="left:12px;width:4px;background:linear-gradient(#00f .2%,#00f 1%,#0005ff 1.7%,#0024ff 4.1%,#007cff 13.7%,#00bcff 21.7%,#00fffe 30.8%,#00ffbd 40.5%,#00ff8e 49%,#00ff45 64.8%,#00ff39 69.4%,#00ff1d 83.3%,#00ff0a 95.3%,#00ff07 99.9%)"></i><i style="left:16px;width:4px;background:linear-gradient(#00f .3%,#00f 1%,#0004ff 1.5%,#0021ff 3.9%,#007cff 13.7%,#0ff 30.6%,#0fb 40.7%,#00ff8e 49%,#00ff45 64.6%,#00ff36 70.1%,#00ff15 87%,#00ff08 94.7%,#00ff05 99.9%)"></i><i style="left:20px;width:4px;background:linear-gradient(#00f .3%,#00f 1%,#005dff 10.4%,#0083ff 14.6%,#00fffe 30.6%,#00ffba 40.7%,#00ff8e 48.8%,#0f4 64.6%,#00ff36 69.8%,#00ff15 85.6%,#00ff06 93.9%,#00ff02 99.9%)"></i><i style="left:24px;width:4px;background:linear-gradient(#00f .3%,#0002ff 1.3%,#005bff 10.3%,#0089ff 15.4%,#0ff 30.5%,#00ffb8 41%,#00ff7b 52.4%,#00ff42 64.7%,#00ff32 70.6%,#00ff09 90%,#00ff01 95.6%,#01ff00 100%)"></i><i style="left:28px;width:4px;background:linear-gradient(#00f .4%,#0001ff 1.2%,#005eff 10.9%,#009cff 17.7%,#0ff 30.4%,#00ffbc 40.1%,#00ffad 42.7%,#00ff78 52.6%,#00ff41 64.8%,#0f3 69.2%,#00ff05 89.4%,#0f0 92.9%,#05ff00 99.9%)"></i><i style="left:32px;width:4px;background:linear-gradient(#00f .6%,#0001ff 1.3%,#001cff 4.4%,#00a4ff 18.8%,#00fffe 30.5%,#00ffad 42.3%,#00ff70 53.7%,#00ff3d 65.1%,#00ff02 88.4%,#09ff00 99.8%)"></i><i style="left:36px;width:4px;background:linear-gradient(#00f .8%,#00f 1.5%,#0019ff 4.5%,#00a6ff 19.2%,#00fffe 30.6%,#00ffe9 33.9%,#00ffbd 39.4%,#00ffad 42%,#00ff6b 54.1%,#00ff3a 65.1%,#0f0 86.1%,#0aff00 92.9%,#10ff00 99.9%)"></i><i style="left:40px;width:4px;background:linear-gradient(#00f 1.1%,#0001ff 2.2%,#004fff 10.7%,#00a6ff 19.5%,#0ff 30.5%,#00ffe9 33.8%,#00ffbe 39%,#00ffab 41.9%,#00ff65 54.4%,#00ff34 65.5%,#0f0 82.9%,#0dff00 89.7%,#18ff00 99.8%)"></i><i style="left:44px;width:4px;background:linear-gradient(#00f 1.6%,#00f 2.7%,#000aff 4%,#005aff 12.5%,#00a6ff 19.8%,#0ff 30.8%,#00ffea 33.8%,#00ffbc 38.9%,#00ffa9 41.9%,#00ff61 54.4%,#00ff26 67.6%,#0f0 79.4%,#12ff00 87.1%,#2f0 100%)"></i><i style="left:48px;width:4px;background:linear-gradient(#00f 2.3%,#00f 3.6%,#0007ff 4.7%,#0023ff 7.3%,#005fff 13.7%,#00a6ff 20.3%,#00fffe 31.2%,#00ffe9 34.1%,#00ffc0 38.4%,#00ffa8 41.5%,#00ff85 47.7%,#00ff5b 54.4%,#00ff1f 66.9%,#0f0 76%,#0cff00 79.4%,#17ff00 84.3%,#2dff00 99.9%)"></i><i style="left:52px;width:2px;background:linear-gradient(#00f 3.3%,#00f 4.4%,#000aff 5.9%,#02f 7.9%,#0061ff 14.5%,#00a4ff 20.6%,#00e1ff 27.6%,#00fffe 31.5%,#00ffe7 34.6%,#00ffd9 35.7%,#00ffbc 38.6%,#00ffa5 41.6%,#00ff82 47.6%,#00ff52 55%,#00ff28 62.9%,#00ff14 67.7%,#0f0 73%,#0fff00 76.9%,#1cff00 82%,#39ff00 99.8%)"></i><i style="left:54px;width:2px;background:linear-gradient(#00f 4%,#00f 5.2%,#0006ff 6.2%,#0024ff 8.7%,#0061ff 15%,#00a3ff 20.9%,#0df 27.3%,#0ff 31.5%,#00ffe9 34.5%,#00ffba 38.7%,#00ffa2 41.6%,#00ff80 47.7%,#00ff5c 52.5%,#0f4 56.5%,#00ff1a 64.4%,#0f0 70.9%,#13ff00 75.8%,#20ff00 80.8%,#41ff00 99.9%)"></i><i style="left:56px;width:2px;background:linear-gradient(#00f 4.7%,#00f 6%,#0009ff 7.2%,#001eff 8.9%,#005dff 15.1%,#00a0ff 21%,#00deff 27.6%,#00fffe 31.9%,#00ffe7 34.8%,#00ffb9 38.7%,#00ffa3 41.3%,#00ff7e 47.5%,#00ff59 52.3%,#00ff43 55.8%,#00ff18 63.5%,#0f0 69%,#18ff00 74.9%,#26ff00 79.9%,#49ff00 99.9%)"></i><i style="left:58px;width:2px;background:linear-gradient(#00f 5.5%,#00f 6.8%,#0006ff 7.7%,#0024ff 10.3%,#0062ff 16.2%,#009eff 21.3%,#00deff 27.9%,#00fffe 32.1%,#00ffe7 34.9%,#00ffb5 39%,#00ffa1 41.2%,#00ff7c 47.4%,#00ff56 52%,#00ff41 55.1%,#00ff18 62.1%,#0f0 67.1%,#1dff00 73.9%,#2cff00 79%,#51ff00 100%)"></i><i style="left:60px;width:2px;background:linear-gradient(#00f 6.4%,#00f 8.1%,#0003ff 8.5%,#0095ff 21%,#00d7ff 27.6%,#0ff 32.3%,#00ffe4 35.3%,#00ffb3 39%,#00ffa2 40.8%,#00ff82 46.3%,#00ff52 51.8%,#00ff3f 54.4%,#00ff16 61%,#00ff01 65.3%,#2f0 72.8%,#34ff00 78.3%,#43ff00 85.7%,#5bff00 100%)"></i><i style="left:62px;width:2px;background:linear-gradient(#00f 7.5%,#00f 8.9%,#000aff 10.1%,#0090ff 21.1%,#00daff 28.3%,#0ff 32.7%,#00ffe2 35.6%,#00ffb3 38.9%,#00ffa0 40.8%,#00ff80 46.3%,#00ff50 51.4%,#00ff3e 53.6%,#0f0 63.7%,#26ff00 71.3%,#3bff00 77.5%,#4dff00 85.2%,#65ff00 99.9%)"></i><i style="left:64px;width:2px;background:linear-gradient(#00f 8.6%,#0002ff 10.5%,#008cff 21.3%,#00adff 24.6%,#00dbff 28.7%,#0ff 32.9%,#00ffe4 35.7%,#00ffb1 39%,#00ff9d 40.8%,#00ff80 46%,#00ff3f 52.6%,#0f0 62.1%,#2aff00 69.9%,#4f0 76.8%,#57ff00 84.6%,#70ff00 99.8%)"></i><i style="left:66px;width:2px;background:linear-gradient(#00f 9.9%,#0001ff 11.6%,#0089ff 21.7%,#00acff 25.2%,#00daff 29.1%,#0ff 33.3%,#00ffe1 36%,#00ffcd 37.1%,#00ffb0 39%,#00ff9d 40.6%,#00ff7d 46%,#00ff3f 51.9%,#0f0 60.9%,#31ff00 69.1%,#4fff00 76.5%,#61ff00 83.8%,#7cff00 99.8%)"></i><i style="left:68px;width:2px;background:linear-gradient(#00f 11.4%,#00f 12.8%,#0003ff 13.2%,#0085ff 22%,#00a9ff 25.7%,#00d7ff 29.4%,#0ff 33.6%,#00ffe4 36%,#00ffb1 38.9%,#00ff9b 40.6%,#00ff91 41.9%,#00ff7b 45.9%,#00ff3c 51.4%,#0f0 59.5%,#38ff00 68.2%,#5aff00 75.9%,#6cff00 83%,#8f0 100%)"></i><i style="left:70px;width:2px;background:linear-gradient(#00f 12.9%,#0002ff 14.5%,#0086ff 22.8%,#00a5ff 26.1%,#00d2ff 29.4%,#0ff 34%,#00ffe6 36%,#00ffb6 38.6%,#00ff9b 40.5%,#00ff8e 41.9%,#00ff7a 45.8%,#00ff6c 47.1%,#00ff48 49.7%,#00ff3a 50.9%,#0f0 58.3%,#41ff00 67.7%,#5f0 71.3%,#65ff00 75%,#7f0 81.6%,#94ff00 99.8%)"></i><i style="left:72px;width:2px;background:linear-gradient(#00f 14.5%,#0001ff 16%,#003aff 19.5%,#0074ff 22.4%,#0086ff 23.5%,#00a0ff 26.5%,#00ceff 29.8%,#0ff 34.4%,#00ffe5 36.4%,#00ffb1 39%,#0f9 40.5%,#00ff8c 41.9%,#00ff7a 45.6%,#00ff69 47.1%,#00ff39 50.4%,#00ff01 57.2%,#4cff00 67.1%,#60ff00 70.6%,#71ff00 74.3%,#83ff00 81.3%,#a1ff00 99.8%)"></i><i style="left:74px;width:2px;background:linear-gradient(#00f 16.3%,#00f 17.6%,#000fff 18.7%,#0041ff 21.2%,#0070ff 23.3%,#08f 24.6%,#00a3ff 27.5%,#00cdff 30.4%,#0ff 34.9%,#00ffe5 36.7%,#00ffac 39.3%,#00ff95 40.7%,#0f8 42.2%,#00ff78 45.5%,#00ff69 46.8%,#00ff48 48.8%,#00ff37 50.1%,#00ff01 56.2%,#56ff00 66.5%,#6cff00 70%,#7dff00 73.5%,#8eff00 79.7%,#a2ff00 93.7%,#aeff00 99.9%)"></i><i style="left:76px;width:2px;background:linear-gradient(#00f 18.1%,#00f 19.4%,#0020ff 21.3%,#0046ff 22.9%,#0074ff 24.6%,#08f 25.7%,#0091ff 26.4%,#009dff 27.9%,#00ceff 31.2%,#00fffe 35.4%,#00ffe4 37.1%,#00ffae 39.3%,#00ff94 40.7%,#00ff87 42.2%,#00ff7e 44.4%,#00ff76 45.5%,#00ff68 46.6%,#00ff45 48.6%,#00ff35 49.7%,#00ff01 55.3%,#5dff00 65.4%,#75ff00 68.7%,#86ff00 72%,#9bff00 79.2%,#aeff00 92.8%,#bdff00 99.9%)"></i><i style="left:78px;width:2px;background:linear-gradient(#00f 20%,#0001ff 21.3%,#01f 22.4%,#002cff 23.5%,#0079ff 26.1%,#0081ff 26.5%,#00a1ff 29.1%,#00bfff 30.9%,#0df 33.1%,#00fffe 35.9%,#00ffe9 37.1%,#00ffac 39.5%,#00ff93 40.8%,#00ff87 41.9%,#00ff7d 44.5%,#00ff74 45.6%,#00ff64 46.7%,#00ff42 48.5%,#00ff34 49.5%,#00ff01 54.4%,#67ff00 64.5%,#80ff00 67.8%,#91ff00 71%,#9fff00 74.6%,#acff00 79.8%,#beff00 92.7%,#cf0 99.8%)"></i><i style="left:80px;width:2px;background:linear-gradient(#00f 22%,#0001ff 23.3%,#002bff 25.3%,#0052ff 26.4%,#0063ff 27.2%,#0083ff 28.3%,#0091ff 29.4%,#00abff 30.7%,#00cdff 32.7%,#00fffe 36.4%,#00ffe9 37.5%,#00ffa4 40%,#00ff8f 41.1%,#00ff84 42.2%,#00ff7c 44.5%,#00ff73 45.6%,#0f6 46.5%,#0f3 49.2%,#01ff00 53.8%,#54ff00 61%,#72ff00 63.9%,#8bff00 66.9%,#a1ff00 70.7%,#b1ff00 74.6%,#c0ff00 80.1%,#dcff00 100%)"></i><i style="left:82px;width:2px;background:linear-gradient(#00f 24%,#0002ff 25.7%,#0028ff 27.2%,#0054ff 28.3%,#006aff 29.4%,#0084ff 30.1%,#008eff 30.5%,#00c1ff 32.9%,#00e4ff 34.9%,#00fffd 36.9%,#00ffea 37.8%,#00ffa9 40%,#00ff91 41.1%,#00ff82 42.4%,#00ff7a 44.6%,#00ff73 45.5%,#00ff64 46.5%,#00ff35 48.9%,#01ff00 53.1%,#5cff00 60.3%,#81ff00 63.6%,#9fff00 67.2%,#c0ff00 72.8%,#cfff00 76.6%,#d9ff00 80.7%,#eaff00 100%)"></i><i style="left:84px;width:2px;background:linear-gradient(#00f 26.1%,#0001ff 27.5%,#0024ff 29%,#0032ff 29.4%,#05f 30.1%,#006eff 31.2%,#008dff 31.9%,#009fff 32.5%,#00d0ff 34.5%,#0ff 37.3%,#00ffea 38.2%,#00ffa5 40.4%,#00ff8d 41.5%,#00ff81 42.6%,#00ff79 44.8%,#00ff72 45.5%,#00ff67 46.3%,#00ff35 48.7%,#0f0 52.3%,#5fff00 59.1%,#8bff00 62.8%,#bfff00 68.7%,#daff00 72.9%,#e8ff00 76.8%,#ef0 80.8%,#f5ff00 100%)"></i><i style="left:86px;width:2px;background:linear-gradient(#00f 28.1%,#00f 29.5%,#0023ff 30.8%,#0032ff 31.2%,#005aff 31.9%,#007bff 33%,#009dff 33.8%,#00b2ff 34.3%,#00dfff 36.1%,#0ff 37.8%,#00ffec 38.5%,#00ffa8 40.6%,#00ff91 41.5%,#00ff82 42.6%,#00ff78 44.8%,#00ff70 45.7%,#00ff63 46.4%,#00ff36 48.5%,#00ff01 51.8%,#5bff00 57.7%,#92ff00 61.7%,#ceff00 67.6%,#eaff00 71.4%,#f7ff00 75.1%,#fcff00 79%,#ff0 99.9%)"></i><i style="left:88px;width:2px;background:linear-gradient(#00f 30%,#0001ff 31.5%,#001dff 32.4%,#03f 33%,#006eff 33.9%,#0097ff 35%,#00c2ff 35.9%,#00d3ff 36.4%,#00fffe 38.3%,#00ffea 39%,#00ffa7 40.9%,#00ff8f 41.8%,#00ff80 42.9%,#00ff78 44.9%,#00ff6e 45.8%,#00ff60 46.6%,#00ff35 48.4%,#0f0 51.3%,#3dff00 54.6%,#74ff00 58.1%,#9f0 60.7%,#d6ff00 65.9%,#e8ff00 67.7%,#f5ff00 69.7%,#ff0 72.3%,#fff700 78.2%,#fff700 99.9%)"></i><i style="left:90px;width:2px;background:linear-gradient(#00f 31.9%,#00f 33.4%,#0039ff 34.6%,#0053ff 35%,#0080ff 35.6%,#009eff 36.1%,#00dfff 37.6%,#00fffe 38.9%,#00ffa9 41.1%,#00ff90 42%,#00ff80 43.1%,#00ff78 44.9%,#00ff6f 45.9%,#00ff60 46.6%,#0f3 48.4%,#02ff00 51%,#24ff00 52.5%,#3dff00 53.8%,#a0ff00 59.8%,#e0ff00 64.6%,#f1ff00 66.3%,#fdff00 68.1%,#fff400 71.8%,#fff000 75.3%,#ffed00 99.9%)"></i><i style="left:92px;width:2px;background:linear-gradient(#00f 33.7%,#00f 34.9%,#0005ff 35.1%,#002bff 35.7%,#0056ff 36.4%,#0075ff 36.8%,#09f 37.1%,#00b6ff 37.5%,#00c8ff 37.9%,#00feff 39.4%,#00ffb1 41.2%,#00ff9e 41.7%,#00ff8f 42.3%,#00ff80 43.4%,#0f7 45.2%,#00ff6e 46%,#0f0 50.6%,#23ff00 51.9%,#3bff00 53%,#9f0 58.1%,#e2ff00 62.9%,#f3ff00 64.4%,#ff0 65.8%,#fff200 68.8%,#ffec00 72.4%,#ffe200 94.5%,#ffe200 99.8%)"></i><i style="left:94px;width:2px;background:linear-gradient(#00f 35.3%,#00f 36.6%,#0007ff 36.7%,#0056ff 37.5%,#008fff 38.2%,#00cdff 39%,#00e4ff 39.3%,#00feff 39.9%,#00fff8 40.1%,#00ffb0 41.5%,#00ff92 42.4%,#00ff82 43.4%,#00ff75 45.6%,#00ff6a 46.3%,#01ff00 50.4%,#24ff00 51.5%,#3cff00 52.4%,#84ff00 55.9%,#d7ff00 60.6%,#ef0 62.1%,#ff0 63.6%,#fff000 66%,#ffe800 69.5%,#ffe100 80.9%,#ffd400 93%,#ffd400 100%)"></i><i style="left:96px;width:2px;background:linear-gradient(#00f 36.7%,#0002ff 37.8%,#002eff 38.2%,#0061ff 38.6%,#008bff 38.9%,#0af 39.3%,#00faff 40.4%,#00fff7 40.6%,#00ffd4 41.1%,#00ffc0 41.5%,#00ffa8 42.1%,#00ff95 42.6%,#00ff89 43.2%,#00ff81 43.7%,#00ff76 45.6%,#00ff6d 46.3%,#00ff5b 47%,#01ff00 50.1%,#2f0 51.1%,#3eff00 52%,#7fff00 54.7%,#baff00 57.7%,#feff00 61.7%,#ffeb00 63.9%,#ffe300 66.5%,#ffd900 78.6%,#ffc300 93%,#ffc200 100%)"></i><i style="left:98px;width:2px;background:linear-gradient(#00f 38%,#00f 38.7%,#000fff 38.9%,#0031ff 39.3%,#0048ff 39.5%,#0098ff 40%,#00c9ff 40.4%,#00fdff 40.9%,#00fff3 41.1%,#00ffd9 41.5%,#00ffb8 42%,#00ff9f 42.6%,#00ff93 43%,#00ff80 43.9%,#00ff74 45.9%,#00ff68 46.6%,#00ff1b 49.2%,#00ff02 49.9%,#05ff00 50.1%,#29ff00 51%,#42ff00 51.8%,#8fff00 54.7%,#bfff00 56.9%,#fffd00 60.4%,#ffe300 62.4%,#ffd900 64.6%,#ffd100 75.5%,#ffb000 92.4%,#ffae00 99.9%)"></i><i style="left:100px;width:2px;background:linear-gradient(#00f 39%,#00f 39.6%,#001aff 39.8%,#0054ff 40.1%,#0085ff 40.5%,#00f4ff 41.4%,#00fff6 41.6%,#00ffd3 42%,#00ffb9 42.3%,#00ffa5 42.7%,#00ff91 43.2%,#00ff7f 44.2%,#00ff74 46%,#00ff69 46.7%,#00ff54 47.5%,#00ff02 49.9%,#05ff00 50.1%,#3f0 51.2%,#4dff00 51.9%,#9eff00 54.6%,#c5ff00 56.3%,#fffd00 59.2%,#ffe900 60.3%,#ffda00 61.4%,#ffd100 62.6%,#ffcd00 63.7%,#ffc400 73.9%,#ff9e00 91.8%,#ff9b00 99.9%)"></i><i style="left:102px;width:2px;background:linear-gradient(#00f 39.8%,#0003ff 40.4%,#003cff 40.7%,#00c0ff 41.5%,#00f5ff 41.8%,#00fff4 42%,#00ffd2 42.4%,#00ffb8 42.8%,#00ffa3 43.1%,#00ff8e 43.7%,#00ff7d 44.4%,#00ff73 46.2%,#0f6 47%,#00ff50 47.7%,#01ff00 49.9%,#4dff00 51.8%,#a9ff00 54.5%,#c7ff00 55.6%,#feff00 58.2%,#ffde00 59.9%,#ffd100 60.8%,#ffc600 61.9%,#ffc000 63.2%,#ffb400 72.9%,#ff8e00 90.2%,#f80 95.5%,#ff8900 99.9%)"></i><i style="left:104px;width:2px;background:linear-gradient(#00f 40.3%,#0001ff 40.7%,#001cff 40.9%,#00b0ff 41.8%,#00e6ff 42.2%,#00feff 42.4%,#00ffea 42.6%,#00ffc7 42.9%,#00ffac 43.3%,#00ff98 43.7%,#00ff8a 44%,#00ff7b 44.8%,#00ff73 46.4%,#00ff67 47.2%,#00ff4f 47.9%,#0f0 49.9%,#4dff00 51.7%,#b4ff00 54.5%,#d3ff00 55.6%,#fffd00 57.6%,#fd0 59.1%,#ffc800 60.4%,#fb0 61.7%,#ffb500 63%,#ff8100 88.1%,#ff7a00 94.4%,#ff7a00 99.9%)"></i><i style="left:106px;width:2px;background:linear-gradient(#00f 40.6%,#0002ff 41%,#0014ff 41.2%,#0049ff 41.5%,#00c8ff 42.3%,#00faff 42.6%,#00fff0 42.8%,#0fd 43%,#00ffbd 43.4%,#00ffa4 43.7%,#00ff91 44.1%,#00ff85 44.5%,#00ff78 45.2%,#00ff72 46.7%,#00ff69 47.2%,#00ff4b 48.1%,#0f0 50%,#b7ff00 54.4%,#daff00 55.5%,#fffd00 57.2%,#ffd900 58.8%,#ffc100 60.3%,#ffb200 61.7%,#ffab00 63.2%,#ff8f00 72%,#ff8300 77%,#ff6d00 93%,#ff6d00 100%)"></i><i style="left:108px;width:2px;background:linear-gradient(#00f 40.3%,#00f 40.7%,#0008ff 40.9%,#0024ff 41.2%,#004bff 41.6%,#00c0ff 42.5%,#00edff 42.9%,#00fffc 43.1%,#00ffd4 43.5%,#00ffb4 43.8%,#00ff9c 44.2%,#00ff8b 44.6%,#00ff81 44.9%,#00ff7b 45.3%,#00ff73 46.8%,#00ff67 47.5%,#00ff4d 48.2%,#0f0 50.1%,#c2ff00 54.7%,#e0ff00 55.6%,#fffe00 56.9%,#fc0 59.3%,#fb0 60.4%,#ffaf00 61.5%,#ffa600 62.9%,#ff7a00 72.1%,#ff7200 75.4%,#ff6c00 83.9%,#ff6000 93.3%,#ff6000 99.9%)"></i><i style="left:110px;width:2px;background:linear-gradient(#00f 39.8%,#0002ff 40.3%,#000bff 40.7%,#0018ff 41.1%,#002fff 41.4%,#003dff 41.6%,#0063ff 42%,#0ff 43.3%,#00ffd8 43.6%,#00ffb8 44%,#00ffa0 44.4%,#00ff8f 44.7%,#00ff84 45.1%,#00ff7d 45.5%,#00ff75 46.9%,#00ff6c 47.5%,#00ff54 48.2%,#00ff04 50.1%,#03ff00 50.3%,#46ff00 51.9%,#c7ff00 54.9%,#eaff00 56%,#fffd00 56.9%,#ffcb00 59.3%,#ffad00 61.5%,#ff7500 69.7%,#ff6700 72.3%,#ff6000 75.1%,#ff6000 84.1%,#ff5200 94.2%,#ff5300 99.9%)"></i><i style="left:112px;width:2px;background:linear-gradient(#00f 39%,#0002ff 39.3%,#0012ff 40.1%,#001cff 40.8%,#0028ff 41.2%,#003cff 41.5%,#005aff 41.9%,#00b4ff 42.8%,#0ef 43.4%,#00fffc 43.6%,#00ffc5 44.1%,#0fa 44.5%,#00ff96 44.9%,#00ff89 45.2%,#00ff81 45.6%,#0f7 47.1%,#00ff69 47.8%,#00ff4f 48.5%,#00ff0d 50%,#02ff00 50.4%,#4aff00 52.2%,#cbff00 55.2%,#e3ff00 55.9%,#fffe00 57%,#ffc900 59.6%,#fa0 61.8%,#ff6c00 69.1%,#ff5a00 72.1%,#ff5100 75.7%,#ff5300 83.8%,#ff4600 93.8%,#ff4700 99.8%)"></i><i style="left:114px;width:2px;background:linear-gradient(#00f 37.9%,#0009ff 39%,#0029ff 40.7%,#0038ff 41.2%,#004aff 41.6%,#006fff 42.2%,#00acff 42.9%,#00f4ff 43.6%,#00fff7 43.8%,#00ffd4 44.2%,#00ffb7 44.5%,#00ffa0 44.9%,#00ff91 45.3%,#00ff81 46%,#0f7 47.3%,#00ff6d 47.9%,#00ff54 48.6%,#00ff02 50.4%,#05ff00 50.6%,#4bff00 52.5%,#c4ff00 55.2%,#e7ff00 56.3%,#feff00 57.2%,#fffc00 57.4%,#ffca00 59.8%,#fa0 62%,#ff6800 68.4%,#ff5200 71.8%,#ff4800 74.5%,#f40 76.5%,#ff4500 82.8%,#ff3b00 93.8%,#ff3b00 99.9%)"></i><i style="left:116px;width:2px;background:linear-gradient(#00f 36.7%,#000aff 37.6%,#0010ff 39.1%,#0029ff 40.3%,#003dff 41.1%,#0054ff 41.6%,#0080ff 42.4%,#00b5ff 43.1%,#00f9ff 43.8%,#00fff3 44%,#00ffd2 44.4%,#00ffb7 44.8%,#00ffa2 45.1%,#00ff93 45.5%,#00ff86 46%,#00ff78 47.5%,#00ff6d 48.1%,#00ff53 48.8%,#00ff08 50.4%,#00ff01 50.6%,#05ff00 50.8%,#41ff00 52.5%,#a9ff00 54.9%,#c6ff00 55.6%,#e7ff00 56.7%,#fdff00 57.6%,#fffc00 57.8%,#ffc700 60.4%,#ffa100 62.9%,#ff6400 68.3%,#ff4b00 72%,#ff3d00 75.1%,#ff3900 77.5%,#ff3100 99.9%)"></i><i style="left:118px;width:2px;background:linear-gradient(#00f 35.2%,#0001ff 36.1%,#0014ff 37.6%,#001bff 39.1%,#0026ff 39.8%,#003cff 40.7%,#005eff 41.6%,#008dff 42.6%,#00bcff 43.3%,#00fcff 44%,#00fff2 44.2%,#00ffd3 44.6%,#00ffb9 44.9%,#00ffa4 45.3%,#00ff95 45.7%,#0f8 46.2%,#00ff79 47.7%,#00ff6d 48.3%,#00ff53 49%,#00ff10 50.5%,#00ff02 50.8%,#05ff00 51%,#45ff00 52.8%,#c1ff00 55.8%,#df0 56.7%,#ff0 58.2%,#ffd700 60%,#ffb500 61.9%,#ff9400 64.1%,#ff7100 66.8%,#ff5700 69.6%,#ff3800 74.7%,#ff3000 76.9%,#ff2800 83.7%,#ff2900 99.9%)"></i><i style="left:120px;width:2px;background:linear-gradient(#0004ff 33.6%,#000eff 36.1%,#0026ff 39.1%,#0039ff 40.2%,#0059ff 41.3%,#0089ff 42.4%,#00bcff 43.3%,#00f4ff 44%,#00fffb 44.2%,#00ffc3 45%,#00ffad 45.3%,#00ff9c 45.7%,#00ff89 46.4%,#00ff7c 47.7%,#00ff6e 48.5%,#00ff5a 49%,#00ff0f 50.7%,#00ff02 51%,#05ff00 51.2%,#41ff00 53.1%,#a7ff00 55.4%,#c2ff00 56.2%,#dbff00 57.1%,#fffd00 58.8%,#ffd500 60.6%,#ffb600 62.2%,#ff8e00 64.6%,#ff7500 66.5%,#ff5900 69.2%,#ff2f00 75.3%,#f20 80.1%,#ff1e00 83.6%,#ff2500 95.1%,#f20 99.9%)"></i><i style="left:122px;width:2px;background:linear-gradient(#0002ff 31.8%,#0004ff 33.1%,#0027ff 38.2%,#0039ff 39.7%,#004aff 40.4%,#005fff 41.2%,#0098ff 42.6%,#00bdff 43.4%,#00fffe 44.3%,#00ffbd 45.2%,#00ffa9 45.6%,#00ff9a 46%,#00ff89 46.7%,#00ff7e 47.8%,#00ff70 48.5%,#00ff57 49.3%,#00ff15 50.7%,#00ff01 51.3%,#05ff00 51.5%,#3fff00 53.3%,#af0 55.9%,#c4ff00 56.6%,#d7ff00 57.3%,#fffe00 59.2%,#ffb200 62.9%,#ff9100 64.7%,#ff7b00 66.2%,#ff6000 68.7%,#ff2900 75.7%,#ff1b00 80.1%,#ff1800 82.7%,#ff1800 87.9%,#ff1f00 95.6%,#ff1b00 100%)"></i><i style="left:124px;width:2px;background:linear-gradient(#0002ff 29.9%,#0008ff 33%,#002bff 38%,#003cff 39.3%,#005dff 40.8%,#008cff 42.2%,#00bcff 43.3%,#00f6ff 44.3%,#00fffb 44.4%,#00ffbe 45.4%,#00ffab 45.7%,#00ff9c 46.1%,#00ff8d 46.6%,#00ff7c 48.1%,#00ff6c 48.9%,#00ff59 49.4%,#0f1 51.1%,#02ff00 51.6%,#40ff00 53.6%,#a2ff00 56%,#bcff00 56.8%,#d5ff00 57.7%,#fffe00 59.7%,#ffa600 63.9%,#ff8b00 65.4%,#ff7b00 66.5%,#ff6700 68.3%,#ff2700 76.1%,#ff1600 81.2%,#ff1500 97%,#f10 98.3%,#f10 100%)"></i><i style="left:126px;width:2px;background:linear-gradient(#00f 28%,#0001ff 29.1%,#0009ff 30.5%,#0010ff 32.7%,#002aff 37.2%,#003aff 38.6%,#005fff 40.5%,#008dff 42.1%,#00a1ff 42.7%,#00c1ff 43.4%,#00fffd 44.5%,#00ffb7 45.6%,#00ffa5 46%,#00ff98 46.3%,#00ff89 47.1%,#00ff7d 48.2%,#00ff6f 48.9%,#00ff56 49.7%,#00ff16 51.1%,#00ff03 51.7%,#02ff00 51.9%,#2bff00 53.3%,#43ff00 54.1%,#9dff00 56.3%,#b7ff00 57%,#d5ff00 58.1%,#ff0 60.1%,#ffa600 64.4%,#ff8000 66.6%,#ff6c00 68.4%,#ff4600 73.2%,#ff2700 76.5%,#ff1300 81.3%,#ff1000 88.4%,#ff0900 92.7%,#ff0800 97.1%,#ff0500 98.2%,#ff0600 99.8%)"></i><i style="left:128px;width:2px;background:linear-gradient(#00f 26%,#0007ff 29.4%,#0025ff 35.7%,#0038ff 37.9%,#0058ff 39.7%,#0074ff 41%,#008dff 41.9%,#00a6ff 42.7%,#00c4ff 43.4%,#00feff 44.5%,#00fff5 44.7%,#00ffbd 45.6%,#00ff9d 46.4%,#00ff8b 47.1%,#00ff79 48.6%,#00ff6d 49.1%,#00ff5b 49.7%,#00ff17 51.3%,#01ff00 52.1%,#23ff00 53.3%,#3fff00 54.3%,#9dff00 56.7%,#bdff00 57.6%,#d4ff00 58.5%,#fffd00 60.7%,#ffa000 65.1%,#ff7f00 67.1%,#ff6a00 69.2%,#ff4800 73.6%,#ff2800 77.2%,#ff1600 80.4%,#ff1200 81.7%,#ff0e00 88.3%,#ff0200 92.7%,#f00 99.9%)"></i><i style="left:130px;width:2px;background:linear-gradient(#00f 23.9%,#0001ff 25.4%,#0009ff 27.2%,#000dff 29.5%,#0027ff 35.3%,#0037ff 37.2%,#0056ff 39.2%,#08f 41.6%,#009eff 42.3%,#00b8ff 43.1%,#00d6ff 43.8%,#00faff 44.5%,#00fff9 44.7%,#00ffba 45.8%,#00ff9b 46.5%,#00ff8d 47.1%,#00ff7b 48.6%,#00ff6c 49.3%,#00ff53 50%,#00ff18 51.5%,#00ff01 52.2%,#04ff00 52.4%,#24ff00 53.7%,#40ff00 54.6%,#9dff00 57%,#bcff00 57.9%,#d2ff00 58.9%,#ff0 61.1%,#ffa300 65.5%,#ff7f00 67.7%,#ff6900 69.9%,#ff2a00 78%,#ff1800 80.9%,#ff1300 82.4%,#ff0e00 88.3%,#ff0300 92%,#ff0100 99.9%)"></i><i style="left:132px;width:2px;background:linear-gradient(#00f 21.9%,#0013ff 29.6%,#0028ff 34.6%,#0038ff 36.6%,#05f 38.7%,#0075ff 40.5%,#0089ff 41.4%,#00b6ff 42.9%,#00d9ff 43.8%,#00f9ff 44.5%,#00fffb 44.7%,#00ffb5 46%,#00ff98 46.7%,#00ff89 47.5%,#00ff7c 48.6%,#00ff6e 49.3%,#00ff58 50.1%,#00ff13 51.9%,#02ff00 52.6%,#3bff00 54.8%,#5bff00 55.7%,#9cff00 57.4%,#c0ff00 58.5%,#d9ff00 59.6%,#feff00 61.4%,#fffc00 61.6%,#ffa200 66%,#ff8000 68.2%,#ff6900 70.6%,#ff2f00 78.4%,#ff1c00 81.5%,#ff1400 83.9%,#ff0f00 88.5%,#ff0700 92%,#ff0500 99.9%)"></i><i style="left:134px;width:2px;background:linear-gradient(#00f 20%,#00f 21.2%,#000aff 23.6%,#000dff 26%,#0016ff 29.5%,#0027ff 33.7%,#0037ff 35.9%,#0052ff 38%,#0087ff 41.1%,#00b0ff 42.6%,#00dcff 43.8%,#00faff 44.6%,#00fffb 44.8%,#00ffb7 46.1%,#00ff9a 46.8%,#00ff8a 47.5%,#00ff79 48.8%,#00ff6b 49.5%,#0f5 50.3%,#00ff19 51.9%,#02ff00 52.9%,#29ff00 54.5%,#4f0 55.4%,#9dff00 57.8%,#baff00 58.7%,#d9ff00 60%,#fffd00 62%,#ffa100 66.6%,#ff8000 68.8%,#ff6800 71.4%,#ff3400 78.8%,#ff2000 82.3%,#ff1700 84.8%,#ff0e00 92%,#ff0a00 99.9%)"></i><i style="left:136px;width:2px;background:linear-gradient(#00f 18%,#00f 19%,#000cff 22.3%,#01f 26.1%,#0018ff 29.1%,#0028ff 33.1%,#0038ff 35.3%,#004eff 37.2%,#0086ff 40.8%,#00adff 42.3%,#00e1ff 44%,#00fdff 44.7%,#00fff8 44.9%,#00ffb6 46.2%,#00ff9a 46.9%,#00ff8c 47.4%,#00ff79 48.9%,#00ff6b 49.7%,#00ff56 50.4%,#00ff17 52.2%,#00ff02 53%,#02ff00 53.1%,#3cff00 55.5%,#54ff00 56.3%,#9f0 58.1%,#bcff00 59.2%,#d6ff00 60.3%,#feff00 62.3%,#ffa000 67.3%,#ff7f00 69.5%,#ff6800 72.1%,#ff3b00 78.7%,#ff2500 82.7%,#ff1b00 85.9%,#ff1000 99.8%)"></i><i style="left:138px;width:2px;background:linear-gradient(#00f 16.2%,#00f 17.5%,#000fff 21.3%,#0013ff 25.8%,#0019ff 28.3%,#0027ff 32.2%,#0037ff 34.6%,#004cff 36.4%,#0078ff 39.7%,#08f 40.6%,#009dff 41.6%,#00dcff 43.8%,#00fdff 44.7%,#00fff9 44.9%,#00ffb1 46.3%,#00ff97 47.1%,#00ff87 47.8%,#00ff73 49.3%,#00ff64 50%,#00ff1d 52.2%,#01ff00 53.3%,#26ff00 55%,#3eff00 55.9%,#5f0 56.6%,#98ff00 58.5%,#baff00 59.6%,#df0 61%,#fffd00 62.9%,#ffa300 67.7%,#ff8200 69.9%,#ff6a00 72.4%,#ff4200 78.7%,#ff2a00 83.1%,#ff1f00 86.4%,#ff1500 99.8%)"></i><i style="left:140px;width:2px;background:linear-gradient(#00f 14.4%,#00f 15.7%,#01f 20.5%,#0014ff 25.1%,#0019ff 27.5%,#0027ff 31.4%,#0036ff 33.8%,#004bff 35.8%,#07f 39.3%,#0087ff 40.4%,#009bff 41.3%,#00dbff 43.7%,#00fffe 44.8%,#00ffb8 46.3%,#00ff9b 47%,#00ff8a 47.7%,#00ff75 49.2%,#00ff67 49.9%,#00ff54 50.7%,#00ff16 52.7%,#02ff00 53.6%,#2aff00 55.4%,#42ff00 56.4%,#9aff00 58.9%,#bf0 60%,#daff00 61.3%,#feff00 63.2%,#ffa200 68.3%,#ff8400 70.3%,#ff6c00 72.9%,#ff4900 78.4%,#ff3100 83%,#ff2300 87.1%,#ff1a00 99.9%)"></i><i style="left:142px;width:2px;background:linear-gradient(#00f 12.8%,#00f 14.3%,#01f 19.1%,#0018ff 26.6%,#0028ff 30.8%,#0035ff 33%,#0049ff 35.1%,#0086ff 40%,#0098ff 40.9%,#00deff 43.7%,#00fffd 44.8%,#00ffb1 46.4%,#00ff97 47.2%,#00ff87 47.9%,#00ff72 49.4%,#00ff64 50.1%,#00ff16 52.9%,#01ff00 53.8%,#24ff00 55.5%,#3fff00 56.6%,#9aff00 59.3%,#bfff00 60.6%,#e1ff00 62.1%,#feff00 63.5%,#ff8e00 70.2%,#ff7800 72.2%,#ff6200 75.1%,#ff3f00 81.2%,#ff2a00 86.3%,#ff2300 90.6%,#ff1d00 99.9%)"></i><i style="left:144px;width:2px;background:linear-gradient(#00f 11.3%,#00f 12.8%,#0012ff 18.6%,#0018ff 25.8%,#0025ff 29.5%,#0035ff 32.2%,#0047ff 34.3%,#0086ff 39.8%,#0098ff 40.7%,#00e2ff 43.8%,#0ff 44.7%,#00fff8 44.9%,#00ffb5 46.4%,#00ff96 47.3%,#00ff89 47.9%,#00ff71 49.5%,#00ff62 50.3%,#00ff13 53.2%,#00ff01 53.9%,#03ff00 54.1%,#25ff00 55.8%,#40ff00 56.9%,#9dff00 59.8%,#c1ff00 61.1%,#e7ff00 62.8%,#fffe00 64%,#ff8e00 70.8%,#ff7800 72.9%,#ff6400 75.6%,#ff4100 81.7%,#ff2d00 86.8%,#ff2500 91.2%,#ff2000 99.9%)"></i><i style="left:146px;width:2px;background:linear-gradient(#00f 9.9%,#00f 11.3%,#0012ff 17.8%,#0018ff 24.9%,#0025ff 28.6%,#0035ff 31.6%,#0048ff 33.8%,#0086ff 39.5%,#0097ff 40.4%,#00c3ff 42.2%,#00e1ff 43.7%,#00fffc 44.8%,#00ffac 46.6%,#00ff95 47.4%,#00ff85 48.1%,#00ff62 50.3%,#0f0 54.2%,#25ff00 56%,#3fff00 57.1%,#9eff00 60.2%,#caff00 61.9%,#ecff00 63.4%,#fffd00 64.5%,#ff8e00 71.5%,#ff7900 73.5%,#f60 76.2%,#f40 82.1%,#ff3100 87.1%,#ff2800 91.9%,#ff2300 99.9%)"></i><i style="left:148px;width:2px;background:linear-gradient(#00f 8.6%,#00f 10.1%,#01f 16.9%,#0018ff 24.2%,#0024ff 27.9%,#0034ff 30.8%,#0076ff 37.8%,#0087ff 39.3%,#0098ff 40.2%,#00c3ff 42%,#00e3ff 43.7%,#00fcff 44.6%,#00fffb 44.8%,#00ffad 46.6%,#00ff96 47.4%,#00ff86 48.1%,#00ff5e 50.5%,#00ff01 54.4%,#39ff00 57.1%,#c5ff00 62.1%,#e8ff00 63.5%,#fffe00 64.8%,#ff9000 72%,#ff7c00 73.8%,#ff6800 76.8%,#ff4600 82.7%,#ff3400 87.4%,#ff2a00 92.2%,#ff2500 99.9%)"></i><i style="left:150px;width:2px;background:linear-gradient(#00f 7.4%,#0002ff 9.6%,#0012ff 16.6%,#0018ff 23.6%,#0024ff 27.1%,#0035ff 30.2%,#0047ff 32.4%,#0086ff 38.9%,#0094ff 39.8%,#00c5ff 42%,#00e3ff 43.6%,#00fffc 44.7%,#00ffb0 46.6%,#00ff93 47.5%,#00ff84 48.2%,#00ff5c 50.6%,#00ff12 53.7%,#02ff00 54.7%,#3cff00 57.4%,#cf0 62.8%,#ebff00 64%,#ff0 65.1%,#ff9200 72.5%,#ff7f00 74.3%,#ff6c00 76.9%,#ff4900 83.2%,#ff3700 87.8%,#ff2d00 92.7%,#ff2800 99.9%)"></i><i style="left:152px;width:2px;background:linear-gradient(#00f 6.4%,#0003ff 9.5%,#0012ff 16.1%,#0018ff 22.7%,#0023ff 26%,#0034ff 29.4%,#0046ff 31.7%,#0085ff 38.5%,#0097ff 39.7%,#00c6ff 41.9%,#00e6ff 43.7%,#0ff 44.6%,#00fff9 44.8%,#00ffae 46.6%,#00ff92 47.6%,#00ff5b 50.7%,#0f0 54.7%,#39ff00 57.5%,#d7ff00 63.5%,#f0ff00 64.7%,#fffe00 65.6%,#ff9300 73.1%,#ff8000 74.9%,#ff6f00 77.3%,#ff4c00 83.6%,#ff3a00 88.2%,#ff2f00 93.3%,#ff2a00 99.9%)"></i><i style="left:154px;width:2px;background:linear-gradient(#00f 5.5%,#0004ff 9.1%,#0012ff 15.9%,#0019ff 22.2%,#0023ff 25.5%,#0035ff 28.8%,#0047ff 31.2%,#0084ff 38.2%,#0095ff 39.3%,#00c2ff 41.5%,#00e4ff 43.5%,#00fffe 44.6%,#00ffaf 46.6%,#00ff93 47.5%,#00ff83 48.3%,#00ff57 50.9%,#01ff00 54.9%,#39ff00 57.7%,#e0ff00 64.3%,#ff0 65.9%,#ffd600 69.1%,#ff9500 73.6%,#ff8300 75.5%,#ff7200 77.9%,#ff4f00 84.1%,#ff3d00 88.5%,#ff3200 93.9%,#ff2d00 99.9%)"></i><i style="left:156px;width:2px;background:linear-gradient(#00f 4.6%,#0019ff 21.4%,#0023ff 24.7%,#0034ff 28%,#007aff 36.8%,#0085ff 37.9%,#0098ff 39.2%,#00c8ff 41.6%,#00e4ff 43.4%,#0ff 44.5%,#00ffab 46.7%,#00ff95 47.5%,#00ff85 48.2%,#00ff51 51.1%,#0f0 55%,#38ff00 57.8%,#9f0 61.8%,#e3ff00 64.7%,#feff00 66.2%,#ffd700 69.5%,#ff9600 74.3%,#ff8400 76.1%,#ff7600 78.2%,#ff5200 84.6%,#ff4000 89%,#ff3500 94.2%,#ff3100 99.9%)"></i><i style="left:158px;width:2px;background:linear-gradient(#00f 3.9%,#001aff 21%,#0025ff 24.5%,#0036ff 27.6%,#0085ff 37.6%,#009aff 39%,#00c5ff 41.2%,#00e3ff 43.3%,#00fdff 44.4%,#00fffc 44.5%,#0fa 46.7%,#00ff90 47.7%,#00ff50 51.2%,#00ff08 54.7%,#02ff00 55.2%,#3eff00 58.1%,#9bff00 62.2%,#e3ff00 65.1%,#feff00 66.6%,#ffd900 69.9%,#ff9800 74.9%,#f80 76.5%,#ff7800 78.7%,#ff5400 85.4%,#ff4300 89.6%,#ff3800 94.5%,#ff3400 99.9%)"></i><i style="left:160px;width:2px;background:linear-gradient(#00f 3.3%,#0005ff 8.4%,#001aff 20.2%,#0026ff 23.9%,#0036ff 27%,#0079ff 36%,#08f 37.5%,#0097ff 38.6%,#00c7ff 41.2%,#00e7ff 43.4%,#00fdff 44.3%,#00fffc 44.5%,#00ffac 46.7%,#00ff8d 47.8%,#00ff4a 51.5%,#00ff01 55.1%,#2aff00 57.3%,#8aff00 61.8%,#e3ff00 65.4%,#ff0 67.1%,#ffd700 70.6%,#ff9b00 75.4%,#ff8900 77.2%,#ff7b00 79.2%,#ff5900 85.6%,#ff4600 90.1%,#ff3b00 94.8%,#ff3800 100%)"></i><i style="left:162px;width:2px;background:linear-gradient(#00f 2.8%,#0006ff 8.5%,#001aff 19.7%,#0025ff 23.2%,#0036ff 26.5%,#0079ff 35.7%,#0087ff 37.1%,#009cff 38.6%,#00c4ff 40.8%,#00e3ff 43%,#00fffe 44.3%,#00ffab 46.7%,#00ff8c 47.8%,#01ff00 55.3%,#25ff00 57.2%,#8dff00 62.1%,#e4ff00 65.8%,#ff0 67.5%,#ffd900 71%,#ff9b00 76.1%,#ff7e00 79.8%,#ff5d00 86%,#ff4900 90.8%,#ff3f00 95.2%,#ff3d00 99.8%)"></i><i style="left:164px;width:2px;background:linear-gradient(#00f 2.3%,#0006ff 8.2%,#001bff 19%,#0026ff 22.7%,#0037ff 26%,#007aff 35.4%,#0086ff 36.7%,#009aff 38.2%,#00c6ff 40.7%,#00e4ff 42.9%,#0ff 44.2%,#00ffa7 46.8%,#00ff8a 47.9%,#02ff00 55.4%,#93ff00 62.6%,#e2ff00 66.1%,#f3ff00 67%,#fffe00 67.9%,#ffd800 71.6%,#ff9d00 76.8%,#ff8000 80.4%,#ff6000 86.5%,#ff4d00 91.3%,#ff4300 95.5%,#ff4100 99.9%)"></i><i style="left:166px;width:2px;background:linear-gradient(#00f 1.9%,#0007ff 8.2%,#001bff 18.5%,#0027ff 22.1%,#0037ff 25.5%,#007aff 35%,#08f 36.5%,#009bff 38%,#00c6ff 40.5%,#00e3ff 42.7%,#00fffd 44.2%,#00ffa7 46.8%,#00ff89 47.9%,#00ff70 49.2%,#01ff00 55.4%,#92ff00 62.8%,#e3ff00 66.4%,#ff0 68.3%,#ffd800 72.1%,#ff9e00 77.5%,#ff8200 81.1%,#ff6500 86.8%,#ff5200 91.6%,#ff4800 95.9%,#ff4600 99.9%)"></i><i style="left:168px;width:2px;background:linear-gradient(#00f 1.6%,#0007ff 8%,#001bff 18%,#0027ff 21.6%,#0038ff 24.9%,#007bff 34.7%,#08f 36.2%,#009aff 37.6%,#00c7ff 40.4%,#00e3ff 42.6%,#00fffe 44.1%,#00ffa5 46.8%,#00ff84 48.1%,#00ff67 49.6%,#0f0 55.5%,#59ff00 59.9%,#93ff00 63%,#deff00 66.5%,#f1ff00 67.6%,#ff0 68.7%,#ffda00 72.6%,#ff9e00 78.3%,#ff8400 81.7%,#ff6a00 87.1%,#ff5600 92%,#ff4d00 95.9%,#ff4c00 99.9%)"></i><i style="left:170px;width:2px;background:linear-gradient(#00f 1.3%,#0007ff 7.8%,#001bff 17.3%,#0028ff 21.2%,#0039ff 24.7%,#007cff 34.4%,#0089ff 35.9%,#009bff 37.4%,#00c6ff 40.1%,#00e4ff 42.5%,#00fffd 44%,#00ffa7 46.7%,#00ff81 48.2%,#00ff5d 50%,#01ff00 55.6%,#59ff00 60%,#95ff00 63.3%,#e0ff00 67%,#f2ff00 68.1%,#fffe00 69.2%,#ffd900 73.2%,#ffa200 78.7%,#ff8700 82.4%,#ff6e00 87.5%,#ff5b00 92.3%,#ff5300 96%,#ff5100 99.9%)"></i><i style="left:172px;width:2px;background:linear-gradient(#00f 1.1%,#0007ff 7.7%,#001cff 16.9%,#0029ff 21%,#003aff 24.3%,#008aff 35.7%,#009cff 37.1%,#00c8ff 40.1%,#00e3ff 42.3%,#00fdff 43.8%,#00fffc 43.9%,#00ffa7 46.7%,#00ff81 48.2%,#00ff5d 50%,#0f0 55.5%,#daff00 66.9%,#ecff00 68%,#ff0 69.5%,#ffdc00 73.5%,#ffa300 79.4%,#ff8700 83.5%,#ff7100 88.2%,#ff6100 92.6%,#ff5900 96.3%,#ff5700 100%)"></i><i style="left:174px;width:2px;background:linear-gradient(#00f .9%,#0008ff 7.7%,#001cff 16.5%,#002aff 20.6%,#003bff 23.9%,#008aff 35.3%,#009aff 36.8%,#00c6ff 39.7%,#00e5ff 42.3%,#00fffe 43.8%,#00ffdf 44.9%,#00ff9b 47.1%,#0f7 48.5%,#00ff5b 50%,#00ff01 55.5%,#5f0 59.9%,#d8ff00 67.1%,#edff00 68.4%,#feff00 69.9%,#ffdb00 74.3%,#ffa400 80.2%,#ff8c00 83.8%,#f70 88.2%,#ff6700 92.7%,#ff5f00 96.3%,#ff5c00 99.8%)"></i><i style="left:176px;width:2px;background:linear-gradient(#00f .8%,#0008ff 7.4%,#001cff 15.8%,#0029ff 19.9%,#003bff 23.4%,#008cff 35.1%,#009fff 36.8%,#00c9ff 39.7%,#00e5ff 42.1%,#0ff 43.6%,#00ffe7 44.5%,#00ff9a 47.1%,#00ff76 48.6%,#00ff57 50.2%,#00ff01 55.6%,#5bff00 60.3%,#d7ff00 67.3%,#edff00 68.8%,#fffe00 70.4%,#ffa900 80.6%,#ff8e00 84.6%,#ff7b00 88.8%,#ff6c00 93.1%,#ff6500 96.5%,#ff6200 99.9%)"></i><i style="left:178px;width:2px;background:linear-gradient(#00f .7%,#0008ff 7.3%,#001cff 15.4%,#0029ff 19.4%,#003bff 22.9%,#008cff 34.8%,#00e5ff 42%,#0ff 43.5%,#00ffe2 44.6%,#00ff97 47.2%,#00ff6f 48.8%,#0f5 50.3%,#0f0 55.6%,#62ff00 60.8%,#d0ff00 67.2%,#ecff00 69%,#fffe00 70.9%,#ffad00 81%,#ff9000 85.4%,#ff7200 93.3%,#ff6a00 96.8%,#ff6800 99.9%)"></i><i style="left:180px;width:2px;background:linear-gradient(#00f .6%,#0008ff 7%,#001bff 14.7%,#0028ff 18.8%,#003aff 22.4%,#008dff 34.6%,#00e6ff 41.9%,#00fffe 43.4%,#00ffe3 44.5%,#00ff8f 47.4%,#00ff6d 48.9%,#00ff52 50.4%,#01ff00 55.7%,#58ff00 60.3%,#98ff00 64%,#deff00 68.4%,#feff00 71.1%,#ffaf00 81.6%,#ff9300 86%,#ff7800 93.4%,#ff6e00 99.8%)"></i><i style="left:182px;width:2px;background:linear-gradient(#00f .5%,#0008ff 6.9%,#001bff 14.3%,#0028ff 18.3%,#003bff 22.2%,#008fff 34.5%,#00e2ff 41.5%,#00fffd 43.3%,#0fd 44.6%,#00ff90 47.4%,#00ff6d 48.8%,#00ff53 50.3%,#02ff00 55.8%,#5fff00 60.8%,#95ff00 63.9%,#e1ff00 68.9%,#feff00 71.6%,#ffb100 82.3%,#ff9700 86.7%,#ff7d00 93.9%,#ff7400 99.9%)"></i><i style="left:184px;width:2px;background:linear-gradient(#00f .4%,#0009ff 6.9%,#001aff 13.7%,#0028ff 17.9%,#003bff 21.7%,#0090ff 34.2%,#00e1ff 41.2%,#0ff 43.1%,#00fffc 43.3%,#0fd 44.5%,#00ff8c 47.5%,#00ff6a 48.9%,#00ff50 50.4%,#00ff21 53.7%,#0f0 55.8%,#70ff00 61.8%,#96ff00 64%,#e0ff00 69.2%,#ff0 72.1%,#ffb500 82.8%,#f90 87.6%,#ff8200 94.2%,#ff7a00 99.9%)"></i><i style="left:186px;width:2px;background:linear-gradient(#00f .4%,#0009ff 6.6%,#001aff 13.2%,#0028ff 17.7%,#003bff 21.3%,#0091ff 34%,#00e3ff 41.2%,#00fffe 43%,#00ffe1 44.3%,#00ff8d 47.4%,#00ff6b 48.9%,#00ff51 50.4%,#02ff00 55.9%,#7bff00 62.5%,#9f0 64.3%,#e0ff00 69.5%,#ff0 72.6%,#ffb700 83.5%,#ff9c00 88.2%,#f80 94.5%,#ff7f00 99.8%)"></i><i style="left:188px;width:2px;background:linear-gradient(#00f .3%,#0009ff 6.6%,#001aff 13.2%,#0028ff 17.2%,#003bff 20.9%,#0092ff 33.8%,#00e0ff 40.8%,#0ff 42.8%,#00fffc 43%,#00ffdb 44.5%,#00ff84 47.8%,#00ff68 49%,#00ff51 50.3%,#00ff23 53.6%,#0f0 55.9%,#78ff00 62.5%,#97ff00 64.3%,#e0ff00 69.8%,#feff00 72.9%,#ffb900 84.2%,#ff9f00 89.1%,#ff8d00 94.8%,#ff8500 100%)"></i><i style="left:190px;width:2px;background:linear-gradient(#00f .3%,#0009ff 6.4%,#001bff 13.2%,#002aff 17.2%,#003dff 20.9%,#0095ff 33.8%,#00e0ff 40.6%,#00fffd 42.8%,#00ffde 44.2%,#00ff84 47.7%,#00ff65 49.2%,#00ff4f 50.5%,#02ff00 56%,#7cff00 62.8%,#97ff00 64.5%,#e0ff00 70.2%,#ff0 73.5%,#fb0 84.9%,#ffa200 89.8%,#ff9200 95%,#ff8a00 99.9%)"></i><i style="left:192px;width:2px;background:linear-gradient(#00f .3%,#0009ff 6%,#001bff 12.8%,#0029ff 16.8%,#003cff 20.3%,#0096ff 33.6%,#00dfff 40.4%,#0ff 42.6%,#00ffdc 44.2%,#00ff85 47.7%,#00ff65 49.2%,#0f0 56%,#7cff00 63%,#96ff00 64.6%,#e0ff00 70.5%,#feff00 73.8%,#ffbf00 85.4%,#ffa400 90.9%,#ff9600 95.7%,#ff9000 99.9%)"></i><i style="left:194px;width:2px;background:linear-gradient(#00f .3%,#0009ff 5.8%,#001cff 12.8%,#002aff 16.6%,#003cff 19.9%,#0097ff 33.4%,#0df 40%,#00feff 42.4%,#00fffc 42.5%,#00ffda 44.2%,#00ff85 47.7%,#0f6 49.2%,#02ff00 56.2%,#7cff00 63.1%,#96ff00 64.8%,#deff00 70.7%,#ff0 74.3%,#ffa900 91.3%,#ff9b00 96.2%,#ff9600 99.9%)"></i><i style="left:196px;width:2px;background:linear-gradient(#00f .3%,#0008ff 5.2%,#001cff 12.6%,#002aff 16.4%,#003aff 19.4%,#009aff 33.3%,#00dcff 39.8%,#00fffd 42.4%,#00ffd9 44.2%,#00ff82 47.9%,#00ff67 49.2%,#00ff53 50.4%,#00ff20 54.1%,#0f0 56.1%,#7bff00 63.3%,#97ff00 65.1%,#deff00 71%,#f0ff00 72.9%,#ff0 74.9%,#ffef00 77.6%,#ffab00 92.4%,#ffa000 96.6%,#ff9d00 99.9%)"></i><i style="left:198px;width:2px;background:linear-gradient(#00f .2%,#0008ff 4.8%,#001dff 12.6%,#002aff 16.1%,#003aff 19%,#009cff 33.3%,#00daff 39.4%,#00fffe 42.2%,#00ffd7 44.2%,#00ff83 47.9%,#00ff69 49.1%,#01ff00 56.3%,#7f0 63.3%,#95ff00 65.3%,#deff00 71.4%,#f0ff00 73.2%,#feff00 75.2%,#ffef00 78.4%,#ffaf00 93.1%,#ffa500 96.9%,#ffa300 99.9%)"></i><i style="left:200px;width:2px;background:linear-gradient(#00f .2%,#0007ff 4.3%,#001eff 12.6%,#002bff 15.9%,#0039ff 18.6%,#00a0ff 33.5%,#00daff 39.2%,#0ff 42%,#00ffd5 44.2%,#00ff83 47.8%,#00ff6a 49.1%,#01ff00 56.5%,#76ff00 63.5%,#98ff00 65.9%,#deff00 71.7%,#f1ff00 73.8%,#ff0 75.8%,#fe0 79.1%,#ffb300 93.8%,#ffac00 96.7%,#ffa900 99.9%)"></i><i style="left:202px;width:2px;background:linear-gradient(#00f .2%,#0006ff 3.7%,#001fff 12.6%,#002bff 15.7%,#0039ff 18.2%,#00a2ff 33.5%,#00d7ff 38.8%,#00fffd 42%,#00ffd4 44.2%,#00ff85 47.8%,#00ff69 49.3%,#02ff00 56.7%,#6eff00 63.3%,#98ff00 66.2%,#dcff00 71.9%,#f1ff00 74.1%,#ff0 76.2%,#ffed00 79.8%,#ffb600 94.9%,#ffaf00 99.9%)"></i><i style="left:204px;width:2px;background:linear-gradient(#00f .2%,#0006ff 3.4%,#0021ff 12.7%,#003aff 18.1%,#00a5ff 33.5%,#00d7ff 38.6%,#00fffd 41.8%,#00ffd2 44.2%,#00ff86 47.8%,#00ff6a 49.3%,#00ff29 54.1%,#00ff01 56.7%,#6fff00 63.6%,#a1ff00 67.3%,#deff00 72.5%,#f2ff00 74.7%,#feff00 76.5%,#ffec00 80.7%,#ffba00 95.8%,#ffb500 99.9%)"></i><i style="left:206px;width:2px;background:linear-gradient(#00f .2%,#0005ff 3%,#02f 12.7%,#0039ff 17.7%,#0af 33.9%,#00d7ff 38.5%,#00fffe 41.6%,#00ffd5 44%,#00ff6c 49.3%,#00ff2e 53.9%,#0f0 56.8%,#68ff00 63.5%,#a3ff00 67.9%,#daff00 72.5%,#faff00 76.3%,#fffe00 77.2%,#ffec00 81.3%,#fc0 92%,#ffbe00 97.3%,#ffbc00 99.9%)"></i><i style="left:208px;width:2px;background:linear-gradient(#00f .2%,#0004ff 2.6%,#0023ff 12.7%,#0039ff 17.3%,#00acff 33.9%,#00d6ff 38.3%,#0ff 41.4%,#00ffd3 44%,#00ff6e 49.3%,#00ff31 53.9%,#0f0 57%,#63ff00 63.5%,#af0 68.8%,#dbff00 73%,#fcff00 76.9%,#ff0 77.6%,#ffec00 82%,#ffd100 92%,#ffc200 99.9%)"></i><i style="left:210px;width:2px;background:linear-gradient(#00f .2%,#0004ff 2.4%,#0016ff 7.4%,#0025ff 12.9%,#0039ff 17.1%,#00afff 34%,#00d6ff 38.1%,#0ff 41.2%,#00ffd2 44%,#00ff70 49.3%,#0f3 53.9%,#0f0 57.2%,#62ff00 63.6%,#aeff00 69.5%,#dcff00 73.6%,#fbff00 77.2%,#ff0 78%,#fff000 81.5%,#ffe500 85.7%,#ffd100 94.3%,#ffc900 99.9%)"></i><i style="left:212px;width:2px;background:linear-gradient(#00f .2%,#0004ff 2.2%,#0016ff 7%,#0026ff 12.9%,#003aff 17%,#00b2ff 34.2%,#00d4ff 37.7%,#00fffd 41.2%,#00ffce 44.2%,#00ff72 49.3%,#00ff36 53.9%,#0f0 57.4%,#5dff00 63.6%,#b2ff00 70.3%,#e1ff00 74.5%,#fdff00 78%,#ffef00 82.4%,#ffe500 86.4%,#ffd400 95.3%,#ffd100 99.9%)"></i><i style="left:214px;width:2px;background:linear-gradient(#00f .2%,#0005ff 2.6%,#0018ff 7%,#0028ff 12.9%,#0039ff 16.6%,#00b4ff 34.2%,#00d4ff 37.5%,#00fffe 41%,#00ffcd 44.2%,#00ff74 49.3%,#00ff37 54.1%,#00ff01 57.6%,#5bff00 63.8%,#b1ff00 70.6%,#e2ff00 75%,#fcff00 78.3%,#ff0 78.9%,#fff000 82.8%,#ffe700 86.8%,#ffd900 95.6%,#ffd600 99.9%)"></i><i style="left:216px;width:2px;background:linear-gradient(#00f .2%,#0005ff 2.4%,#0019ff 6.8%,#0029ff 12.9%,#0039ff 16.2%,#00b6ff 34.2%,#00d6ff 37.5%,#00fffe 40.8%,#0fc 44.2%,#00ff76 49.3%,#00ff3a 54.1%,#02ff00 57.9%,#59ff00 64%,#b0ff00 71%,#e2ff00 75.6%,#feff00 79.1%,#ffea00 86.4%,#ffdf00 93.4%,#ffdb00 99.9%)"></i><i style="left:218px;width:2px;background:linear-gradient(#00f .2%,#0004ff 2.2%,#0019ff 6.7%,#002aff 12.9%,#003aff 16%,#00b8ff 34.2%,#00d4ff 37.2%,#0ff 40.7%,#0fc 44.2%,#00ff78 49.3%,#00ff3d 54.1%,#01ff00 58.1%,#5aff00 64.4%,#abff00 71%,#e3ff00 76.1%,#fdff00 79.4%,#ffea00 87.2%,#ffe100 94.2%,#ffdf00 99.9%)"></i><i style="left:220px;width:2px;background:linear-gradient(#00f .2%,#0005ff 2.2%,#0019ff 6.3%,#002bff 12.9%,#003aff 15.8%,#00b9ff 34.2%,#00d6ff 37.2%,#0ff 40.5%,#00ffcb 44.2%,#0f7 49.5%,#00ff3e 54.3%,#01ff00 58.3%,#56ff00 64.4%,#a6ff00 71%,#e2ff00 76.5%,#fcff00 79.8%,#ff0 80.4%,#fff900 81.7%,#ffec00 87.5%,#ffe400 94.9%,#ffe300 99.9%)"></i><i style="left:222px;width:2px;background:linear-gradient(#00f .2%,#0005ff 2.2%,#0019ff 5.9%,#002aff 12.2%,#003aff 15.5%,#007dff 24.9%,#00baff 34%,#00d4ff 36.8%,#00fffd 40.5%,#00ffcb 44.2%,#0f7 49.7%,#00ff39 54.8%,#0f0 58.5%,#56ff00 64.7%,#a1ff00 71%,#e0ff00 76.9%,#fbff00 80.2%,#ff0 80.9%,#fff900 82.4%,#ffed00 88.3%,#ffe700 94.9%,#ffe700 99.9%)"></i><i style="left:224px;width:2px;background:linear-gradient(#00f .2%,#0004ff 2.1%,#001bff 5.9%,#002bff 12.2%,#0039ff 15.1%,#007eff 24.7%,#00baff 33.9%,#00d4ff 36.6%,#00fffe 40.3%,#00ffca 44.2%,#00ff76 49.9%,#00ff3c 54.8%,#0f0 58.7%,#56ff00 65.1%,#9dff00 71%,#dfff00 77.2%,#faff00 80.6%,#ff0 81.5%,#fff900 82.9%,#fe0 89%,#ffe900 95.3%,#ffeb00 99.9%)"></i><i style="left:226px;width:2px;background:linear-gradient(#00f .2%,#0004ff 1.9%,#001bff 5.7%,#002cff 12%,#003aff 14.9%,#007eff 24.3%,#00bdff 33.9%,#00d4ff 36.4%,#00fffe 40.1%,#00ffca 44.2%,#00ff76 50%,#00ff3f 54.8%,#00ff01 58.9%,#57ff00 65.5%,#98ff00 71%,#e1ff00 78%,#f8ff00 80.9%,#fffe00 82.2%,#fff600 85%,#fe0 91.6%,#ffec00 95.8%,#ffef00 99.9%)"></i><i style="left:228px;width:4px;background:linear-gradient(#00f .2%,#0004ff 1.9%,#001cff 5.6%,#002dff 11.8%,#003bff 14.6%,#0080ff 24.1%,#00beff 33.7%,#00d6ff 36.3%,#00fffe 39.9%,#00ffc5 44.5%,#00ff76 50.2%,#00ff41 55%,#0f0 59.2%,#57ff00 66%,#92ff00 71%,#dfff00 78.5%,#f6ff00 81.5%,#ff0 83.1%,#fff800 85%,#fff200 90.8%,#fff000 97.3%,#fff300 99.9%)"></i><i style="left:232px;width:4px;background:linear-gradient(#00f .2%,#0004ff 1.9%,#001fff 5.6%,#002eff 11.4%,#003bff 14%,#006aff 20.3%,#00c2ff 33.5%,#00d9ff 36.1%,#0ff 39.6%,#00ffc0 44.9%,#00ff78 50.4%,#0f4 55.2%,#01ff00 59.8%,#8eff00 71.4%,#df0 79.4%,#f1ff00 82%,#ff0 84.6%,#fff700 87.2%,#fff400 99.9%)"></i><i style="left:236px;width:4px;background:linear-gradient(#00f .2%,#0004ff 1.7%,#0018ff 4.1%,#0021ff 5.6%,#002fff 10.9%,#003cff 13.5%,#0069ff 19.5%,#00c2ff 32.9%,#00d8ff 35.5%,#00fffe 39.4%,#00ffc8 44.2%,#0f7 50.8%,#00ff47 55.4%,#0f0 60.1%,#8dff00 71.9%,#daff00 80.2%,#ef0 82.8%,#ff0 86.4%,#fff700 89.7%,#fff900 97.8%,#fff500 99.9%)"></i><i style="left:240px;width:4px;background:linear-gradient(#00f .2%,#0004ff 1.7%,#0021ff 5.2%,#0030ff 10.5%,#003cff 12.9%,#006aff 19%,#00c4ff 32.6%,#00dbff 35.3%,#0ff 39%,#00ffc8 44.2%,#00ff76 51.1%,#00ff48 55.6%,#01ff00 60.7%,#8bff00 72.5%,#d7ff00 80.9%,#e9ff00 83.3%,#f6ff00 85.7%,#ff0 88.5%,#fff900 91.9%,#fffd00 96.7%,#fff900 99.9%)"></i><i style="left:244px;width:4px;background:linear-gradient(#00f .2%,#0003ff 1.5%,#0019ff 3.9%,#02f 5.2%,#0030ff 10%,#003dff 12.4%,#006bff 18.4%,#00c1ff 31.7%,#00fffe 38.8%,#00ffd3 43.1%,#00ff78 51.1%,#00ff4b 55.6%,#0f0 61.1%,#8bff00 73.2%,#e4ff00 83.9%,#f5ff00 87.2%,#feff00 91%,#fffc00 94.2%,#ff0 96.4%,#fffa00 99.9%)"></i><i style="left:248px;width:4px;background:linear-gradient(#00f .2%,#0003ff 1.5%,#0018ff 3.7%,#02f 5.2%,#0031ff 9.6%,#003dff 11.8%,#006aff 17.7%,#00c2ff 31.3%,#0ff 38.5%,#00ffce 43.4%,#00ff51 55.2%,#0f0 61.4%,#87ff00 73.6%,#deff00 84.2%,#ef0 87.2%,#f8ff00 90.5%,#ff0 96%,#fffb00 97.1%,#fffa00 99.9%)"></i><i style="left:252px;width:4px;background:linear-gradient(#00f .2%,#0003ff 1.5%,#02f 5.2%,#003aff 10.7%,#0068ff 16.9%,#00b3ff 28.7%,#00d6ff 33.5%,#0ff 38.1%,#0fc 43.4%,#00ff57 54.8%,#0f0 61.8%,#8f0 74.3%,#b8ff00 80.2%,#dbff00 85%,#e9ff00 87.5%,#f2ff00 90.5%,#feff00 97.1%,#ff0 99.9%)"></i><i style="left:256px;width:4px;background:linear-gradient(#00f .2%,#0003ff 1.5%,#02f 5.2%,#003bff 10.3%,#0069ff 16.6%,#00b2ff 28.3%,#00d4ff 32.9%,#00fffe 37.9%,#00ff64 53.7%,#01ff00 62.2%,#82ff00 74.3%,#a7ff00 78.7%,#cdff00 83.9%,#e1ff00 87.2%,#ecff00 90.1%,#f7ff00 96%,#faff00 99.9%)"></i><i style="left:260px;width:4px;background:linear-gradient(#00f .2%,#0003ff 1.5%,#0020ff 5%,#003bff 9.8%,#0069ff 16.2%,#00b1ff 28%,#00d5ff 32.8%,#0ff 37.5%,#00ff70 52.6%,#0f0 62.4%,#35ff00 67.1%,#7bff00 74.1%,#a2ff00 78.7%,#c5ff00 83.5%,#dbff00 87.2%,#e7ff00 90.3%,#f2ff00 95.6%,#f6ff00 99.9%)"></i><i style="left:264px;width:4px;background:linear-gradient(#00f .2%,#0003ff 1.5%,#0021ff 5.2%,#06f 15.5%,#00b1ff 27.8%,#00d4ff 32.4%,#00fffe 37.4%,#00ff73 52.4%,#0f0 62.5%,#38ff00 67.7%,#75ff00 73.9%,#a0ff00 79.1%,#c0ff00 83.5%,#d6ff00 87.2%,#e3ff00 90.5%,#edff00 95.3%,#f2ff00 99.9%)"></i><i style="left:268px;width:4px;background:linear-gradient(#00f .2%,#0004ff 1.7%,#0029ff 6.3%,#0060ff 14.4%,#00b1ff 27.6%,#00d2ff 32%,#00fffe 37.2%,#00ff75 52.2%,#0f0 62.7%,#38ff00 67.9%,#6eff00 73.6%,#9eff00 79.3%,#bcff00 83.5%,#d2ff00 87.4%,#e1ff00 91%,#eaff00 95.4%,#ef0 99.9%)"></i><i style="left:272px;width:4px;background:linear-gradient(#00f .2%,#00f 1%,#0005ff 1.9%,#0043ff 10%,#00b1ff 27.6%,#00d3ff 32%,#0ff 36.8%,#00ffad 45.6%,#00ff75 52.2%,#01ff00 62.9%,#38ff00 68.1%,#68ff00 73.2%,#9cff00 79.4%,#b9ff00 83.5%,#d0ff00 87.5%,#deff00 91.2%,#e7ff00 95.6%,#ebff00 99.9%)"></i><i style="left:276px;width:4px;background:linear-gradient(#00f .2%,#00f 1%,#0007ff 2.2%,#0043ff 9.8%,#00b2ff 27.6%,#00d4ff 32%,#0ff 36.6%,#00ffae 45.3%,#00ff74 52.2%,#0f0 62.9%,#37ff00 68.1%,#63ff00 72.8%,#9bff00 79.6%,#b7ff00 83.5%,#cdff00 87.5%,#dcff00 91.4%,#e5ff00 95.6%,#e9ff00 99.9%)"></i><i style="left:280px;width:4px;background:linear-gradient(#00f .2%,#00f 1%,#0009ff 2.6%,#0041ff 9.6%,#00b0ff 27.4%,#00d0ff 31.5%,#0ff 36.4%,#00ffae 45.1%,#00ff72 52.2%,#00ff35 57.8%,#0f0 62.9%,#38ff00 68.2%,#63ff00 72.8%,#9bff00 79.8%,#b5ff00 83.5%,#cbff00 87.5%,#daff00 91.6%,#e4ff00 96%,#e7ff00 99.9%)"></i><i style="left:284px;width:4px;background:linear-gradient(#00f .2%,#00f 1%,#000bff 3%,#003fff 9.6%,#0079ff 19.2%,#00afff 27.2%,#00cdff 31.1%,#00fffe 36.4%,#00ffad 44.9%,#00ff70 52.2%,#00ff34 57.8%,#01ff00 62.9%,#3eff00 68.8%,#6f0 73.2%,#b4ff00 83.5%,#c9ff00 87.5%,#d9ff00 91.6%,#e5ff00 99.9%)"></i><i style="left:288px;width:4px;background:linear-gradient(#00f .2%,#00f 1%,#000dff 3.3%,#003dff 9.6%,#0075ff 18.8%,#00adff 27.1%,#00cdff 31.1%,#0ff 36.3%,#00ffab 44.9%,#00ff6e 52.2%,#0f0 62.7%,#42ff00 69.2%,#67ff00 73.2%,#84ff00 76.9%,#b2ff00 83.3%,#c8ff00 87.5%,#d7ff00 91.6%,#e4ff00 99.9%)"></i><i style="left:292px;width:4px;background:linear-gradient(#00f .2%,#00f 1%,#000cff 3.2%,#003dff 10%,#07f 19.5%,#00bfff 29.4%,#0ff 36.3%,#00ffa9 44.9%,#00ff6b 52.2%,#00ff31 57.8%,#01ff00 62.7%,#46ff00 69.5%,#68ff00 73.2%,#85ff00 76.9%,#b0ff00 83.1%,#c5ff00 87.2%,#d5ff00 91.2%,#e3ff00 99.9%)"></i><i style="left:296px;width:4px;background:linear-gradient(#00f .2%,#00f 1%,#000cff 3.3%,#003aff 10%,#0073ff 19.3%,#00bdff 29.3%,#00fffe 36.4%,#00ffa8 44.9%,#00ff67 52.4%,#01ff00 62.5%,#4bff00 69.9%,#6dff00 73.6%,#8f0 77.1%,#b0ff00 83.1%,#c5ff00 87.2%,#d4ff00 91.2%,#e2ff00 99.9%)"></i><i style="left:300px;width:4px;background:linear-gradient(#00f .2%,#00f 1%,#000aff 3%,#006eff 19%,#00beff 29.4%,#0ff 36.4%,#00ffa7 44.9%,#00ff61 52.6%,#00ff01 62.2%,#6fff00 73.6%,#8bff00 77.2%,#b0ff00 83.1%,#c5ff00 87.2%,#d4ff00 91.2%,#dfff00 99.9%)"></i><i style="left:304px;width:4px;background:linear-gradient(#00f .2%,#00f 1%,#000aff 3%,#0069ff 18.8%,#0bf 29.1%,#00fffe 36.6%,#00ff9f 45.6%,#00ff50 54.1%,#0f0 62%,#53ff00 70.3%,#71ff00 73.6%,#8cff00 77.2%,#b4ff00 83.7%,#c7ff00 87.7%,#d4ff00 91.4%,#daff00 96.7%,#d7ff00 99.9%)"></i><i style="left:308px;width:4px;background:linear-gradient(#00f .2%,#00f 1%,#0009ff 2.8%,#0065ff 18.6%,#00b4ff 28.3%,#00fffe 36.8%,#00ff91 46.9%,#00ff47 54.8%,#01ff00 61.8%,#57ff00 70.4%,#74ff00 73.8%,#90ff00 77.6%,#b8ff00 84.2%,#caff00 88.3%,#d5ff00 91.9%,#d9ff00 97.1%,#d1ff00 99.9%)"></i><i style="left:312px;width:4px;background:linear-gradient(#00f .2%,#00f 1%,#0008ff 2.6%,#0064ff 18.8%,#00a5ff 26.7%,#0ff 36.8%,#00ff7c 48.9%,#00ff41 55.2%,#0f0 61.4%,#5bff00 70.6%,#76ff00 73.8%,#94ff00 78%,#baff00 84.6%,#d6ff00 91.9%,#d7ff00 97.1%,#d0ff00 98.6%,#cfff00 99.9%)"></i><i style="left:316px;width:4px;background:linear-gradient(#00f .2%,#00f 1%,#0008ff 2.6%,#0049ff 14.7%,#0063ff 18.8%,#008bff 23.9%,#0ff 37%,#00ffdb 40.5%,#00ff73 49.7%,#00ff3f 55.2%,#01ff00 61.3%,#73ff00 73.2%,#93ff00 77.6%,#b5ff00 83.3%,#c3ff00 86.1%,#dbff00 92.3%,#d4ff00 99.9%)"></i><i style="left:320px;width:4px;background:linear-gradient(#00f .2%,#00f 1%,#0008ff 2.6%,#0048ff 14.6%,#0062ff 18.8%,#0087ff 23.6%,#00fffe 37.2%,#00ffc4 42.7%,#00ff6f 50%,#00ff3d 55.2%,#0f0 60.9%,#6eff00 72.5%,#8dff00 76.5%,#abff00 81.3%,#c8ff00 86.8%,#dcff00 91.9%,#e1ff00 99.9%)"></i><i style="left:324px;width:4px;background:linear-gradient(#00f .2%,#00f 1%,#0007ff 2.6%,#0047ff 14.6%,#0064ff 19.2%,#0089ff 23.9%,#00c7ff 30.6%,#0ff 37.2%,#00ffbe 43.4%,#00ff6b 50.4%,#0f0 60.7%,#6cff00 72.1%,#8dff00 76.5%,#aeff00 81.7%,#d1ff00 88.3%,#dfff00 92.3%,#e4ff00 99.9%)"></i><i style="left:328px;width:4px;background:linear-gradient(#00f .2%,#00f 1%,#0007ff 2.6%,#0046ff 14.4%,#0065ff 19.2%,#08f 23.8%,#00c8ff 30.6%,#00fffe 37.4%,#00ffbc 43.8%,#00ff69 50.8%,#0f0 60.5%,#6dff00 72.1%,#90ff00 76.9%,#b4ff00 82.6%,#d3ff00 88.6%,#e3ff00 93.4%,#e6ff00 99.9%)"></i><i style="left:332px;width:4px;background:linear-gradient(#00f .2%,#00f 1%,#0008ff 2.6%,#0045ff 14%,#06f 19.2%,#0087ff 23.6%,#00c9ff 30.6%,#00fffe 37.4%,#00ffb6 44.5%,#00ff5a 52.2%,#0f0 60.5%,#6aff00 71.7%,#8dff00 76.5%,#b5ff00 82.8%,#d0ff00 87.9%,#e2ff00 92.9%,#e4ff00 99.9%)"></i><i style="left:336px;width:4px;background:linear-gradient(#00f .2%,#00f 1%,#0008ff 2.6%,#0046ff 14%,#0067ff 19.2%,#08f 23.6%,#00caff 30.6%,#0ff 37.2%,#00ffb1 45.1%,#00ff38 55.2%,#00ff01 60.5%,#46ff00 67.7%,#67ff00 71.5%,#8cff00 76.5%,#b9ff00 83.5%,#d1ff00 88.3%,#e0ff00 93.1%,#e3ff00 94.9%,#dfff00 99.9%)"></i><i style="left:340px;width:4px;background:linear-gradient(#00f .2%,#00f 1%,#0008ff 2.6%,#0046ff 13.8%,#06f 18.8%,#08f 23.2%,#00cbff 30.6%,#00fffe 37.2%,#00ffe4 40.1%,#00ffa4 46.4%,#00ff76 50.4%,#00ff34 55.6%,#0f0 60.7%,#3dff00 66.8%,#65ff00 71.4%,#baff00 83.9%,#ceff00 88.1%,#df0 92.7%,#e0ff00 95.3%,#deff00 99.9%)"></i><i style="left:344px;width:4px;background:linear-gradient(#00f .2%,#00f 1%,#0007ff 2.4%,#001dff 5.9%,#0047ff 13.6%,#0065ff 18.2%,#0087ff 22.8%,#0cf 30.4%,#00fffe 37%,#00ffcd 42.3%,#00ff92 48.2%,#00ff70 51.1%,#00ff36 55.6%,#01ff00 61.1%,#36ff00 66.2%,#5fff00 71%,#80ff00 75.4%,#b9ff00 84.2%,#cbff00 88.3%,#d9ff00 92.7%,#df0 95.8%,#dcff00 99.9%)"></i><i style="left:348px;width:4px;background:linear-gradient(#00f .2%,#00f 1%,#0007ff 2.4%,#0064ff 17.7%,#0087ff 22.5%,#00ceff 30.4%,#00fffe 36.8%,#00ff89 49.3%,#00ff70 51.5%,#00ff35 55.9%,#01ff00 61.4%,#3f0 66.2%,#5eff00 71.2%,#7aff00 75%,#b3ff00 84%,#c6ff00 87.9%,#d4ff00 92.3%,#d9ff00 95.8%,#daff00 99.9%)"></i><i style="left:352px;width:4px;background:linear-gradient(#00f .2%,#0006ff 2.2%,#0064ff 17.3%,#08f 22.1%,#00ceff 30.2%,#0ff 36.4%,#00ff84 50%,#00ff6f 51.9%,#00ff39 55.9%,#0f0 61.8%,#30ff00 66.4%,#5cff00 71.5%,#79ff00 75.6%,#abff00 83.7%,#beff00 87.5%,#cf0 91.8%,#d4ff00 95.6%,#d6ff00 99.9%)"></i><i style="left:356px;width:4px;background:linear-gradient(#00f .2%,#0006ff 2.2%,#0062ff 16.6%,#00fffe 36.3%,#00ff82 50.4%,#00ff6f 52.2%,#00ff3b 56.3%,#0f0 62.4%,#2fff00 66.9%,#5cff00 72.3%,#7f0 76.1%,#a1ff00 83.1%,#b5ff00 87.4%,#c4ff00 91.6%,#cdff00 95.6%,#d0ff00 99.9%)"></i><i style="left:360px;width:4px;background:linear-gradient(#00f .2%,#00f 1%,#0006ff 2.2%,#005fff 15.8%,#0ff 35.9%,#00ff81 50.8%,#00ff3f 56.7%,#0f0 63.1%,#2aff00 67.3%,#5bff00 73.2%,#74ff00 76.9%,#94ff00 82.4%,#abff00 87.2%,#bf0 91.6%,#c5ff00 95.6%,#c7ff00 99.9%)"></i><i style="left:364px;width:4px;background:linear-gradient(#00f .2%,#00f 1%,#0006ff 2.2%,#001fff 5.6%,#005dff 15.1%,#0ff 35.5%,#00ff7f 51.1%,#0f4 56.8%,#01ff00 64%,#26ff00 68.1%,#56ff00 73.9%,#6dff00 77.2%,#84ff00 81.3%,#9eff00 86.6%,#b0ff00 91.6%,#bf0 96%,#bdff00 99.9%)"></i><i style="left:368px;width:4px;background:linear-gradient(#00f .2%,#00f 1%,#0006ff 2.2%,#0020ff 5.6%,#005bff 14.4%,#0ff 35.1%,#00ff7d 51.5%,#0f0 64.9%,#5f0 75.4%,#7aff00 81.5%,#93ff00 86.8%,#a5ff00 91.9%,#afff00 96.4%,#b2ff00 99.9%)"></i><i style="left:372px;width:4px;background:linear-gradient(#00f .2%,#00f 1%,#0007ff 2.2%,#0020ff 5.4%,#0058ff 13.6%,#0ff 34.8%,#00ff7b 51.9%,#0f0 66%,#52ff00 76.9%,#70ff00 82%,#85ff00 86.8%,#97ff00 91.9%,#a2ff00 96.5%,#a5ff00 99.9%)"></i><i style="left:376px;width:4px;background:linear-gradient(#00f .2%,#00f 1%,#0006ff 2.1%,#0020ff 5.2%,#05f 12.9%,#0ff 34.4%,#00ff42 59.4%,#00ff01 67.3%,#4dff00 78.3%,#67ff00 83.1%,#87ff00 92.1%,#97ff00 99.9%)"></i><i style="left:380px;width:4px;background:linear-gradient(#00f .2%,#0005ff 1.9%,#0021ff 5.2%,#0052ff 12.2%,#0ff 34%,#00ff40 60.5%,#00ff01 68.8%,#46ff00 79.8%,#5dff00 84.2%,#74ff00 91.2%,#87ff00 99.9%)"></i><i style="left:384px;width:4px;background:linear-gradient(#00f .2%,#00f 1%,#0008ff 2.2%,#001fff 4.8%,#0053ff 12%,#0ff 33.7%,#00ff7c 52.1%,#00ff43 60.9%,#00ff14 67.3%,#0f0 70.6%,#3bff00 80.9%,#50ff00 85.3%,#64ff00 91.8%,#73ff00 99.9%)"></i><i style="left:388px;width:4px;background:linear-gradient(#00f .2%,#00f 1%,#0005ff 1.9%,#0020ff 4.8%,#004bff 10.7%,#09f 20.3%,#00fffe 33.5%,#00ff79 52.6%,#00ff42 61.8%,#00ff14 68.8%,#0f0 72.5%,#31ff00 82%,#45ff00 86.8%,#54ff00 92.7%,#5fff00 99.9%)"></i><i style="left:392px;width:4px;background:linear-gradient(#00f .2%,#00f 1%,#0005ff 1.9%,#02f 4.8%,#0047ff 10%,#0098ff 19.9%,#0ff 33.1%,#0f7 53%,#00ff1a 69.2%,#0f0 74.5%,#24ff00 82.4%,#38ff00 87.7%,#45ff00 93.2%,#4cff00 99.9%)"></i><i style="left:396px;width:4px;background:linear-gradient(#00f .2%,#00f 1%,#0006ff 1.9%,#0023ff 4.8%,#0042ff 9.2%,#009bff 19.9%,#00fffe 32.9%,#00ffc7 40.8%,#00ff76 53.3%,#00ff20 69.5%,#0f0 76.7%,#1aff00 82.9%,#2cff00 88.6%,#37ff00 94.2%,#3cff00 99.9%)"></i><i style="left:400px;width:4px;background:linear-gradient(#00f .2%,#00f 1%,#0006ff 1.9%,#0021ff 4.4%,#0041ff 8.9%,#009aff 19.5%,#0ff 32.6%,#00ffc8 40.5%,#00ff78 53%,#00ff16 73.2%,#0f0 79.3%,#12ff00 83.9%,#21ff00 89.4%,#2aff00 94.5%,#2fff00 99.9%)"></i><i style="left:404px;width:4px;background:linear-gradient(#00f .2%,#00f 1%,#0005ff 1.7%,#02f 4.4%,#0042ff 8.9%,#009aff 19.2%,#0ff 32.4%,#00ffc4 40.8%,#00ff79 53%,#00ff49 62.9%,#00ff1e 72.8%,#0f0 81.8%,#0bff00 85%,#18ff00 90.3%,#23ff00 99.9%)"></i><i style="left:408px;width:4px;background:linear-gradient(#00f .2%,#0003ff 1.5%,#0021ff 4.3%,#0041ff 8.7%,#009cff 19.2%,#00fffe 32.2%,#00ffc3 40.8%,#00ff7c 52.4%,#00ff51 61.4%,#00ff2c 70.3%,#0f0 84.4%,#1f0 91.9%,#19ff00 99.9%)"></i><i style="left:412px;width:4px;background:linear-gradient(#00f .2%,#0003ff 1.5%,#0020ff 4.1%,#0041ff 8.5%,#009eff 19.2%,#00fffe 32%,#00ffc2 40.8%,#00ff7e 52.1%,#00ff4f 62.2%,#00ff38 68.1%,#00ff23 74.3%,#0f0 87.5%,#0cff00 94.2%,#10ff00 99.9%)"></i><i style="left:416px;width:4px;background:linear-gradient(#00f .2%,#0004ff 1.5%,#0021ff 4.1%,#003eff 8.1%,#00acff 20.6%,#00fffe 31.8%,#00ffc4 40.5%,#00ff87 50.6%,#00ff6f 55.2%,#00ff46 64.7%,#00ff27 74.3%,#00ff04 89.7%,#0f0 91.8%,#04ff00 99.9%)"></i><i style="left:420px;width:4px;background:linear-gradient(#00f .2%,#00f 1%,#0004ff 1.5%,#02f 4.1%,#003fff 8.1%,#0076ff 14%,#00afff 20.8%,#0ff 31.7%,#00ffc3 40.5%,#00ff89 50.2%,#00ff6f 55.2%,#00ff47 64.7%,#00ff2f 72.5%,#00ff1b 81.3%,#00ff09 91.2%,#00ff04 99.9%)"></i><i style="left:424px;width:4px;background:linear-gradient(#00f .2%,#0003ff 1.3%,#0023ff 4.1%,#003dff 7.8%,#0074ff 13.6%,#00b2ff 21%,#0ff 31.5%,#00ffc2 40.5%,#00ff8a 50%,#00ff6e 55.6%,#00ff45 65.5%,#00ff2d 73.9%,#00ff15 86.8%,#00ff0c 93.8%,#00ff09 99.9%)"></i><i style="left:428px;width:4px;background:linear-gradient(#00f .2%,#0003ff 1.3%,#02f 3.9%,#003dff 7.8%,#0075ff 13.6%,#00b4ff 21%,#0ff 31.3%,#00ffc1 40.5%,#00ff8a 50%,#00ff6c 56.1%,#0f4 66%,#00ff2e 74.7%,#00ff1b 85%,#00ff10 93.8%,#00ff0d 99.9%)"></i><i style="left:432px;width:4px;background:linear-gradient(#00f .2%,#0001ff 1.1%,#0021ff 3.7%,#003eff 7.8%,#0073ff 13.3%,#00b8ff 21.4%,#00fffe 31.3%,#00ffc1 40.5%,#00ff8a 50%,#00ff6a 56.7%,#00ff42 66.9%,#00ff2e 75.8%,#00ff1d 85%,#00ff10 99.9%)"></i><i style="left:436px;width:4px;background:linear-gradient(#00f .2%,#0002ff 1.1%,#0021ff 3.7%,#003dff 7.6%,#0074ff 13.3%,#00b8ff 21.2%,#0ff 31.1%,#00ffc0 40.5%,#00ff8a 49.9%,#00ff6a 56.7%,#00ff41 67.3%,#00ff37 71.4%,#00ff20 84.6%,#00ff19 90.1%,#00ff12 99.9%)"></i><i style="left:440px;width:4px;background:linear-gradient(#00f .2%,#0002ff 1.1%,#0021ff 3.7%,#003cff 7.4%,#0073ff 13.1%,#00b7ff 21%,#0ff 30.9%,#00ffc0 40.5%,#00ff8d 49.3%,#00ff6c 56.5%,#00ff46 66.2%,#00ff39 70.6%,#00ff21 84.6%,#00ff19 90.8%,#00ff13 99.9%)"></i><i style="left:444px;width:4px;background:linear-gradient(#00f .2%,#0002ff 1.1%,#02f 3.7%,#003cff 7.4%,#0072ff 12.9%,#00b8ff 21%,#00d7ff 25%,#0ff 30.9%,#00ffc1 40.1%,#00ff8d 49.3%,#00ff6b 56.7%,#00ff45 66.6%,#00ff39 71.2%,#00ff20 86.4%,#00ff18 92.7%,#00ff14 99.9%)"></i><i style="left:448px;width:4px;background:linear-gradient(#00f .2%,#0002ff 1.1%,#02f 3.7%,#003dff 7.4%,#0073ff 12.9%,#00b9ff 21%,#00d8ff 25%,#00fffe 30.9%,#00ffc1 40.1%,#00ff8e 49.1%,#00ff6b 56.7%,#00ff45 66.8%,#00ff38 71%,#00ff25 83.5%,#00ff17 93.6%,#00ff13 99.9%)"></i><i style="left:452px;width:4px;background:linear-gradient(#00f .2%,#00f 1%,#02f 3.7%,#003bff 7.2%,#0074ff 12.9%,#00b8ff 20.8%,#00d6ff 24.7%,#0ff 30.7%,#00ffc1 40.1%,#00ff8e 49.1%,#00ff6a 57%,#00ff45 66.9%,#00ff35 72.5%,#0f3 75.4%,#00ff18 92.3%,#00ff12 99.9%)"></i><i style="left:456px;width:4px;background:linear-gradient(#00f .2%,#00f 1%,#02f 3.7%,#003cff 7.2%,#0072ff 12.7%,#00b7ff 20.6%,#00d6ff 24.7%,#0ff 30.7%,#00ffc0 40.1%,#00ff8e 49.1%,#00ff69 57.2%,#00ff43 67.5%,#00ff32 73.6%,#00ff29 82.8%,#00ff15 94.5%,#0f1 99.9%)"></i><i style="left:460px;width:4px;background:linear-gradient(#00f .2%,#00f 1%,#0021ff 3.5%,#003aff 7%,#0073ff 12.7%,#00b7ff 20.6%,#00d8ff 24.9%,#0ff 30.7%,#00ffc0 40.1%,#00ff8d 49.3%,#00ff68 57.6%,#00ff42 68.1%,#00ff2d 75.8%,#00ff27 83.9%,#00ff17 92.7%,#00ff10 99.9%)"></i><i style="left:464px;width:4px;background:linear-gradient(#00f .2%,#00f 1%,#0021ff 3.5%,#003bff 7%,#0073ff 12.7%,#00b7ff 20.6%,#00d9ff 25%,#00fffe 30.7%,#00ffc0 40.1%,#00ff8d 49.3%,#00ff67 57.8%,#00ff40 68.8%,#00ff29 77.6%,#00ff2b 79.1%,#00ff26 84.4%,#00ff17 92.5%,#00ff10 99.9%)"></i><i style="left:468px;width:4px;background:linear-gradient(#00f .2%,#00f 1%,#0021ff 3.5%,#003bff 7%,#0072ff 12.5%,#00b4ff 20.3%,#00d4ff 24.3%,#0ff 30.6%,#00ffc1 39.9%,#00ff90 48.6%,#00ff6d 56.5%,#00ff52 63.6%,#00ff36 72.1%,#00ff26 79.3%,#00ff24 85.3%,#00ff14 94.2%,#00ff10 99.9%)"></i><i style="left:472px;width:2px;background:linear-gradient(#00f .2%,#00f 1%,#001fff 3.3%,#003bff 7%,#0072ff 12.5%,#00b1ff 19.9%,#00d4ff 24.3%,#0ff 30.6%,#00ffc2 39.7%,#00ff90 48.6%,#00ff6d 56.5%,#00ff52 63.6%,#00ff35 72.5%,#00ff24 80.2%,#00ff23 86.1%,#00ff14 94.7%,#00ff10 99.9%)"></i><i style="left:474px;width:232px;background:linear-gradient(#00f .2%,#00f 1%,#001fff 3.3%,#003bff 7%,#0072ff 12.5%,#00b1ff 19.9%,#00d4ff 24.3%,#0ff 30.6%,#00ffc2 39.7%,#00ff90 48.6%,#00ff6d 56.5%,#00ff52 63.6%,#00ff35 72.5%,#00ff24 80.2%,#00ff23 86.1%,#00ff14 94.7%,#00ff10 99.9%)"></i></div>
<svg id="ov" width="1716" height="872" viewBox="0 0 1716 872">
<defs>
<clipPath id="ca"><path d="M229.0,322.0L229.0,58.6L231.0,58.6L233.0,58.6L235.0,58.6L237.0,58.6L239.0,58.7L241.0,58.7L243.0,58.7L245.0,58.7L247.0,58.8L249.0,58.8L251.0,58.9L253.0,58.9L255.0,59.0L257.0,59.1L259.0,59.3L261.0,59.4L263.0,59.6L265.0,59.8L267.0,60.1L269.0,60.4L271.0,60.8L273.0,61.2L275.0,61.7L277.0,62.2L279.0,62.8L281.0,63.5L283.0,64.3L285.0,65.2L287.0,66.1L289.0,67.2L291.0,68.3L293.0,69.5L295.0,70.8L297.0,72.2L299.0,73.7L301.0,75.2L303.0,76.8L305.0,78.4L307.0,80.0L309.0,81.6L311.0,83.2L313.0,84.8L315.0,86.4L317.0,87.8L319.0,89.2L321.0,90.4L323.0,91.5L325.0,92.4L327.0,93.2L329.0,93.8L331.0,94.2L333.0,94.4L335.0,94.4L337.0,94.2L339.0,93.8L341.0,93.2L343.0,92.4L345.0,91.5L347.0,90.4L349.0,89.2L351.0,87.8L353.0,86.4L355.0,84.8L357.0,83.2L359.0,81.6L361.0,80.0L363.0,78.4L365.0,76.8L367.0,75.2L369.0,73.7L371.0,72.2L373.0,70.8L375.0,69.5L377.0,68.3L379.0,67.2L381.0,66.1L383.0,65.2L385.0,64.3L387.0,63.5L389.0,62.8L391.0,62.2L393.0,61.7L395.0,61.2L397.0,60.8L399.0,60.4L401.0,60.1L403.0,59.8L405.0,59.6L407.0,59.4L409.0,59.3L411.0,59.1L413.0,59.0L415.0,58.9L417.0,58.9L419.0,58.8L421.0,58.8L423.0,58.7L425.0,58.7L427.0,58.7L429.0,58.7L431.0,58.6L433.0,58.6L435.0,58.6L437.0,58.6L439.0,58.6L441.0,58.6L443.0,58.6L445.0,58.6L447.0,58.6L449.0,58.6L451.0,58.6L453.0,58.6L455.0,58.6L457.0,58.6L459.0,58.6L461.0,58.6L463.0,58.6L465.0,58.6L467.0,58.6L469.0,58.6L471.0,58.6L473.0,58.6L475.0,58.6L477.0,58.6L479.0,58.6L481.0,58.6L483.0,58.6L485.0,58.6L487.0,58.6L489.0,58.6L491.0,58.6L493.0,58.6L495.0,58.6L497.0,58.6L499.0,58.6L501.0,58.6L503.0,58.6L505.0,58.6L507.0,58.6L509.0,58.6L511.0,58.6L513.0,58.6L515.0,58.6L517.0,58.6L519.0,58.6L521.0,58.6L523.0,58.6L525.0,58.6L527.0,58.6L529.0,58.6L531.0,58.6L533.0,58.6L535.0,58.6L537.0,58.6L539.0,58.6L541.0,58.6L543.0,58.6L545.0,58.6L547.0,58.6L549.0,58.6L551.0,58.6L553.0,58.6L555.0,58.6L557.0,58.6L559.0,58.6L561.0,58.6L563.0,58.6L565.0,58.6L567.0,58.6L569.0,58.6L571.0,58.6L573.0,58.6L575.0,58.6L577.0,58.6L579.0,58.6L581.0,58.6L583.0,58.6L585.0,58.6L587.0,58.6L589.0,58.6L591.0,58.6L593.0,58.6L595.0,58.6L597.0,58.6L599.0,58.6L601.0,58.6L603.0,58.6L605.0,58.6L607.0,58.6L609.0,58.6L611.0,58.6L613.0,58.6L615.0,58.6L617.0,58.6L619.0,58.6L621.0,58.6L623.0,58.6L625.0,58.6L627.0,58.6L629.0,58.6L631.0,58.6L633.0,58.6L635.0,58.6L637.0,58.6L639.0,58.6L641.0,58.6L643.0,58.6L645.0,58.6L647.0,58.6L649.0,58.6L651.0,58.6L653.0,58.6L655.0,58.6L657.0,58.6L659.0,58.6L661.0,58.6L663.0,58.6L665.0,58.6L667.0,58.6L669.0,58.6L671.0,58.6L673.0,58.6L675.0,58.6L677.0,58.6L679.0,58.6L681.0,58.6L683.0,58.6L685.0,58.6L687.0,58.6L689.0,58.6L691.0,58.6L693.0,58.6L695.0,58.6L697.0,58.6L699.0,58.6L701.0,58.6L703.0,58.6L705.0,58.6L707.0,58.6L709.0,58.6L711.0,58.6L713.0,58.6L715.0,58.6L717.0,58.6L719.0,58.6L721.0,58.6L723.0,58.6L725.0,58.6L727.0,58.6L729.0,58.6L731.0,58.6L733.0,58.6L735.0,58.6L737.0,58.6L739.0,58.6L741.0,58.6L743.0,58.6L745.0,58.6L747.0,58.6L749.0,58.6L751.0,58.6L753.0,58.6L755.0,58.6L757.0,58.6L759.0,58.6L761.0,58.6L763.0,58.6L765.0,58.6L767.0,58.6L769.0,58.6L771.0,58.6L773.0,58.6L775.0,58.6L777.0,58.6L779.0,58.6L781.0,58.6L783.0,58.6L785.0,58.6L787.0,58.6L789.0,58.6L791.0,58.6L793.0,58.6L795.0,58.6L797.0,58.6L799.0,58.6L801.0,58.6L803.0,58.6L805.0,58.6L807.0,58.6L809.0,58.6L811.0,58.6L813.0,58.6L815.0,58.6L817.0,58.6L819.0,58.6L821.0,58.6L823.0,58.6L825.0,58.6L827.0,58.6L829.0,58.6L831.0,58.6L833.0,58.6L835.0,58.6L837.0,58.6L839.0,58.6L841.0,58.6L843.0,58.6L845.0,58.6L847.0,58.6L849.0,58.6L851.0,58.6L853.0,58.6L855.0,58.6L857.0,58.6L859.0,58.6L861.0,58.6L863.0,58.6L865.0,58.6L867.0,58.6L869.0,58.6L871.0,58.6L873.0,58.6L875.0,58.6L877.0,58.6L879.0,58.6L881.0,58.6L883.0,58.6L885.0,58.6L887.0,58.6L889.0,58.6L891.0,58.6L893.0,58.6L895.0,58.6L897.0,58.6L899.0,58.6L901.0,58.6L903.0,58.6L905.0,58.6L907.0,58.6L909.0,58.6L911.0,58.6L913.0,58.6L915.0,58.6L917.0,58.6L919.0,58.6L921.0,58.6L923.0,58.6L925.0,58.6L927.0,58.6L929.0,58.6L929.0,322.0Z"/></clipPath>
<clipPath id="cb"><path d="M996.0,325.7L996.0,59.4L998.0,59.4L1000.0,59.4L1002.0,59.4L1004.0,59.4L1006.0,59.5L1008.0,59.5L1010.0,59.5L1012.0,59.5L1014.0,59.6L1016.0,59.7L1018.0,59.7L1020.0,59.8L1022.0,60.0L1024.0,60.1L1026.0,60.3L1028.0,60.6L1030.0,60.9L1032.0,61.2L1034.0,61.7L1036.0,62.2L1038.0,62.8L1040.0,63.5L1042.0,64.4L1044.0,65.4L1046.0,66.6L1048.0,67.9L1050.0,69.4L1052.0,71.1L1054.0,73.0L1056.0,75.1L1058.0,77.4L1060.0,79.9L1062.0,82.6L1064.0,85.5L1066.0,88.6L1068.0,91.9L1070.0,95.2L1072.0,98.7L1074.0,102.2L1076.0,105.7L1078.0,109.1L1080.0,112.5L1082.0,115.8L1084.0,118.9L1086.0,121.7L1088.0,124.2L1090.0,126.4L1092.0,128.3L1094.0,129.7L1096.0,130.7L1098.0,131.2L1100.0,131.3L1102.0,130.9L1104.0,130.0L1106.0,128.7L1108.0,127.0L1110.0,124.9L1112.0,122.5L1114.0,119.7L1116.0,116.7L1118.0,113.5L1120.0,110.2L1122.0,106.7L1124.0,103.2L1126.0,99.7L1128.0,96.2L1130.0,92.9L1132.0,89.6L1134.0,86.5L1136.0,83.5L1138.0,80.7L1140.0,78.1L1142.0,75.8L1144.0,73.6L1146.0,71.6L1148.0,69.9L1150.0,68.3L1152.0,66.9L1154.0,65.7L1156.0,64.7L1158.0,63.8L1160.0,63.0L1162.0,62.4L1164.0,61.8L1166.0,61.3L1168.0,61.0L1170.0,60.6L1172.0,60.4L1174.0,60.2L1176.0,60.0L1178.0,59.9L1180.0,59.8L1182.0,59.7L1184.0,59.6L1186.0,59.6L1188.0,59.5L1190.0,59.5L1192.0,59.5L1194.0,59.4L1196.0,59.4L1198.0,59.4L1200.0,59.4L1202.0,59.4L1204.0,59.4L1206.0,59.4L1208.0,59.4L1210.0,59.4L1212.0,59.4L1214.0,59.4L1216.0,59.4L1218.0,59.4L1220.0,59.4L1222.0,59.4L1224.0,59.4L1226.0,59.4L1228.0,59.4L1230.0,59.4L1232.0,59.4L1234.0,59.4L1236.0,59.4L1238.0,59.4L1240.0,59.4L1242.0,59.4L1244.0,59.4L1246.0,59.4L1248.0,59.4L1250.0,59.4L1252.0,59.4L1254.0,59.4L1256.0,59.4L1258.0,59.4L1260.0,59.4L1262.0,59.4L1264.0,59.4L1266.0,59.4L1268.0,59.4L1270.0,59.4L1272.0,59.4L1274.0,59.4L1276.0,59.4L1278.0,59.4L1280.0,59.4L1282.0,59.4L1284.0,59.4L1286.0,59.4L1288.0,59.4L1290.0,59.4L1292.0,59.4L1294.0,59.4L1296.0,59.4L1298.0,59.4L1300.0,59.4L1302.0,59.4L1304.0,59.4L1306.0,59.4L1308.0,59.4L1310.0,59.4L1312.0,59.4L1314.0,59.4L1316.0,59.4L1318.0,59.4L1320.0,59.4L1322.0,59.4L1324.0,59.4L1326.0,59.4L1328.0,59.4L1330.0,59.4L1332.0,59.4L1334.0,59.4L1336.0,59.4L1338.0,59.4L1340.0,59.4L1342.0,59.4L1344.0,59.4L1346.0,59.4L1348.0,59.4L1350.0,59.4L1352.0,59.4L1354.0,59.4L1356.0,59.4L1358.0,59.4L1360.0,59.4L1362.0,59.4L1364.0,59.4L1366.0,59.4L1368.0,59.4L1370.0,59.4L1372.0,59.4L1374.0,59.4L1376.0,59.4L1378.0,59.4L1380.0,59.4L1382.0,59.4L1384.0,59.4L1386.0,59.4L1388.0,59.4L1390.0,59.4L1392.0,59.4L1394.0,59.4L1396.0,59.4L1398.0,59.4L1400.0,59.4L1402.0,59.4L1404.0,59.4L1406.0,59.4L1408.0,59.4L1410.0,59.4L1412.0,59.4L1414.0,59.4L1416.0,59.4L1418.0,59.4L1420.0,59.4L1422.0,59.4L1424.0,59.4L1426.0,59.4L1428.0,59.4L1430.0,59.4L1432.0,59.4L1434.0,59.4L1436.0,59.4L1438.0,59.4L1440.0,59.4L1442.0,59.4L1444.0,59.4L1446.0,59.4L1448.0,59.4L1450.0,59.4L1452.0,59.4L1454.0,59.4L1456.0,59.4L1458.0,59.4L1460.0,59.4L1462.0,59.4L1464.0,59.4L1466.0,59.4L1468.0,59.4L1470.0,59.4L1472.0,59.4L1474.0,59.4L1476.0,59.4L1478.0,59.4L1480.0,59.4L1482.0,59.4L1484.0,59.4L1486.0,59.4L1488.0,59.4L1490.0,59.4L1492.0,59.4L1494.0,59.4L1496.0,59.4L1498.0,59.4L1500.0,59.4L1502.0,59.4L1504.0,59.4L1506.0,59.4L1508.0,59.4L1510.0,59.4L1512.0,59.4L1514.0,59.4L1516.0,59.4L1518.0,59.4L1520.0,59.4L1522.0,59.4L1524.0,59.4L1526.0,59.4L1528.0,59.4L1530.0,59.4L1532.0,59.4L1534.0,59.4L1536.0,59.4L1538.0,59.4L1540.0,59.4L1542.0,59.4L1544.0,59.4L1546.0,59.4L1548.0,59.4L1550.0,59.4L1552.0,59.4L1554.0,59.4L1556.0,59.4L1558.0,59.4L1560.0,59.4L1562.0,59.4L1564.0,59.4L1566.0,59.4L1568.0,59.4L1570.0,59.4L1572.0,59.4L1574.0,59.4L1576.0,59.4L1578.0,59.4L1580.0,59.4L1582.0,59.4L1584.0,59.4L1586.0,59.4L1588.0,59.4L1590.0,59.4L1592.0,59.4L1594.0,59.4L1596.0,59.4L1598.0,59.4L1600.0,59.4L1602.0,59.4L1604.0,59.4L1606.0,59.4L1608.0,59.4L1610.0,59.4L1612.0,59.4L1614.0,59.4L1616.0,59.4L1618.0,59.4L1620.0,59.4L1622.0,59.4L1624.0,59.4L1626.0,59.4L1628.0,59.4L1630.0,59.4L1632.0,59.4L1634.0,59.4L1636.0,59.4L1638.0,59.4L1640.0,59.4L1642.0,59.4L1644.0,59.4L1646.0,59.4L1648.0,59.4L1650.0,59.4L1652.0,59.4L1654.0,59.4L1656.0,59.4L1658.0,59.4L1660.0,59.4L1662.0,59.4L1664.0,59.4L1666.0,59.4L1668.0,59.4L1670.0,59.4L1672.0,59.4L1674.0,59.4L1676.0,59.4L1678.0,59.4L1680.0,59.4L1682.0,59.4L1684.0,59.4L1686.0,59.4L1688.0,59.4L1690.0,59.4L1692.0,59.4L1694.0,59.4L1696.0,59.4L1698.0,59.4L1698.2,59.4L1698.2,325.7Z"/></clipPath>
<clipPath id="cc"><path d="M227.6,763.0L227.6,491.9L229.6,491.9L231.6,491.9L233.6,491.9L235.6,491.9L237.6,491.9L239.6,492.0L241.6,492.0L243.6,492.0L245.6,492.0L247.6,492.1L249.6,492.1L251.6,492.2L253.6,492.3L255.6,492.4L257.6,492.6L259.6,492.8L261.6,493.1L263.6,493.4L265.6,493.8L267.6,494.3L269.6,494.9L271.6,495.6L273.6,496.5L275.6,497.5L277.6,498.7L279.6,500.1L281.6,501.7L283.6,503.6L285.6,505.7L287.6,508.1L289.6,510.7L291.6,513.7L293.6,516.9L295.6,520.5L297.6,524.2L299.6,528.3L301.6,532.5L303.6,537.0L305.6,541.6L307.6,546.3L309.6,551.0L311.6,555.6L313.6,560.2L315.6,564.5L317.6,568.7L319.6,572.4L321.6,575.8L323.6,578.8L325.6,581.2L327.6,583.0L329.6,584.2L331.6,584.8L333.6,584.8L335.6,584.1L337.6,582.8L339.6,580.9L341.6,578.4L343.6,575.4L345.6,571.9L347.6,568.1L349.6,563.9L351.6,559.5L353.6,555.0L355.6,550.3L357.6,545.6L359.6,540.9L361.6,536.4L363.6,531.9L365.6,527.7L367.6,523.7L369.6,519.9L371.6,516.5L373.6,513.3L375.6,510.4L377.6,507.7L379.6,505.4L381.6,503.3L383.6,501.5L385.6,499.9L387.6,498.5L389.6,497.3L391.6,496.4L393.6,495.5L395.6,494.8L397.6,494.2L399.6,493.8L401.6,493.4L403.6,493.0L405.6,492.8L407.6,492.6L409.6,492.4L411.6,492.3L413.6,492.2L415.6,492.1L417.6,492.1L419.6,492.0L421.6,492.0L423.6,492.0L425.6,491.9L427.6,491.9L429.6,491.9L431.6,491.9L433.6,491.9L435.6,491.9L437.6,491.9L439.6,491.9L441.6,491.9L443.6,491.9L445.6,491.9L447.6,491.9L449.6,491.9L451.6,491.9L453.6,491.9L455.6,491.9L457.6,491.9L459.6,491.9L461.6,491.9L463.6,491.9L465.6,491.9L467.6,491.9L469.6,491.9L471.6,491.9L473.6,491.9L475.6,491.9L477.6,491.9L479.6,491.9L481.6,491.9L483.6,491.9L485.6,491.9L487.6,491.9L489.6,491.9L491.6,491.9L493.6,491.9L495.6,491.9L497.6,491.9L499.6,491.9L501.6,491.9L503.6,491.9L505.6,491.9L507.6,491.9L509.6,491.9L511.6,491.9L513.6,491.9L515.6,491.9L517.6,491.9L519.6,491.9L521.6,491.9L523.6,491.9L525.6,491.9L527.6,491.9L529.6,491.9L531.6,491.9L533.6,491.9L535.6,491.9L537.6,491.9L539.6,491.9L541.6,491.9L543.6,491.9L545.6,491.9L547.6,491.9L549.6,491.9L551.6,491.9L553.6,491.9L555.6,491.9L557.6,491.9L559.6,491.9L561.6,491.9L563.6,491.9L565.6,491.9L567.6,491.9L569.6,491.9L571.6,491.9L573.6,491.9L575.6,491.9L577.6,491.9L579.6,491.9L581.6,491.9L583.6,491.9L585.6,491.9L587.6,491.9L589.6,491.9L591.6,491.9L593.6,491.9L595.6,491.9L597.6,491.9L599.6,491.9L601.6,491.9L603.6,491.9L605.6,491.9L607.6,491.9L609.6,491.9L611.6,491.9L613.6,491.9L615.6,491.9L617.6,491.9L619.6,491.9L621.6,491.9L623.6,491.9L625.6,491.9L627.6,491.9L629.6,491.9L631.6,491.9L633.6,491.9L635.6,491.9L637.6,491.9L639.6,491.9L641.6,491.9L643.6,491.9L645.6,491.9L647.6,491.9L649.6,491.9L651.6,491.9L653.6,491.9L655.6,491.9L657.6,491.9L659.6,491.9L661.6,491.9L663.6,491.9L665.6,491.9L667.6,491.9L669.6,491.9L671.6,491.9L673.6,491.9L675.6,491.9L677.6,491.9L679.6,491.9L681.6,491.9L683.6,491.9L685.6,491.9L687.6,491.9L689.6,491.9L691.6,491.9L693.6,491.9L695.6,491.9L697.6,491.9L699.6,491.9L701.6,491.9L703.6,491.9L705.6,491.9L707.6,491.9L709.6,491.9L711.6,491.9L713.6,491.9L715.6,491.9L717.6,491.9L719.6,491.9L721.6,491.9L723.6,491.9L725.6,491.9L727.6,491.9L729.6,491.9L731.6,491.9L733.6,491.9L735.6,491.9L737.6,491.9L739.6,491.9L741.6,491.9L743.6,491.9L745.6,491.9L747.6,491.9L749.6,491.9L751.6,491.9L753.6,491.9L755.6,491.9L757.6,491.9L759.6,491.9L761.6,491.9L763.6,491.9L765.6,491.9L767.6,491.9L769.6,491.9L771.6,491.9L773.6,491.9L775.6,491.9L777.6,491.9L779.6,491.9L781.6,491.9L783.6,491.9L785.6,491.9L787.6,491.9L789.6,491.9L791.6,491.9L793.6,491.9L795.6,491.9L797.6,491.9L799.6,491.9L801.6,491.9L803.6,491.9L805.6,491.9L807.6,491.9L809.6,491.9L811.6,491.9L813.6,491.9L815.6,491.9L817.6,491.9L819.6,491.9L821.6,491.9L823.6,491.9L825.6,491.9L827.6,491.9L829.6,491.9L831.6,491.9L833.6,491.9L835.6,491.9L837.6,491.9L839.6,491.9L841.6,491.9L843.6,491.9L845.6,491.9L847.6,491.9L849.6,491.9L851.6,491.9L853.6,491.9L855.6,491.9L857.6,491.9L859.6,491.9L861.6,491.9L863.6,491.9L865.6,491.9L867.6,491.9L869.6,491.9L871.6,491.9L873.6,491.9L875.6,491.9L877.6,491.9L879.6,491.9L881.6,491.9L883.6,491.9L885.6,491.9L887.6,491.9L889.6,491.9L891.6,491.9L893.6,491.9L895.6,491.9L897.6,491.9L899.6,491.9L901.6,491.9L903.6,491.9L905.6,491.9L907.6,491.9L909.6,491.9L911.6,491.9L913.6,491.9L915.6,491.9L917.6,491.9L919.6,491.9L921.6,491.9L923.6,491.9L925.6,491.9L927.6,491.9L929.0,491.9L929.0,763.0Z"/></clipPath>
<clipPath id="cd"><path d="M998.5,759.8L998.5,491.6L1000.5,491.6L1002.5,491.6L1004.5,491.6L1006.5,491.6L1008.5,491.6L1010.5,491.7L1012.5,491.7L1014.5,491.7L1016.5,491.8L1018.5,491.8L1020.5,491.9L1022.5,492.0L1024.5,492.1L1026.5,492.3L1028.5,492.5L1030.5,492.7L1032.5,493.0L1034.5,493.4L1036.5,493.9L1038.5,494.5L1040.5,495.2L1042.5,496.0L1044.5,497.1L1046.5,498.3L1048.5,499.7L1050.5,501.3L1052.5,503.2L1054.5,505.4L1056.5,507.8L1058.5,510.6L1060.5,513.7L1062.5,517.1L1064.5,520.9L1066.5,525.0L1068.5,529.4L1070.5,534.1L1072.5,539.0L1074.5,544.2L1076.5,549.6L1078.5,555.0L1080.5,560.5L1082.5,566.0L1084.5,571.3L1086.5,576.5L1088.5,581.4L1090.5,585.9L1092.5,590.0L1094.5,593.5L1096.5,596.5L1098.5,598.8L1100.5,600.5L1102.5,601.4L1104.5,601.5L1106.5,601.0L1108.5,599.6L1110.5,597.6L1112.5,594.9L1114.5,591.6L1116.5,587.8L1118.5,583.5L1120.5,578.7L1122.5,573.7L1124.5,568.4L1126.5,563.0L1128.5,557.5L1130.5,552.0L1132.5,546.6L1134.5,541.3L1136.5,536.3L1138.5,531.5L1140.5,526.9L1142.5,522.7L1144.5,518.8L1146.5,515.2L1148.5,512.0L1150.5,509.0L1152.5,506.4L1154.5,504.1L1156.5,502.1L1158.5,500.4L1160.5,498.9L1162.5,497.6L1164.5,496.5L1166.5,495.6L1168.5,494.8L1170.5,494.1L1172.5,493.6L1174.5,493.2L1176.5,492.9L1178.5,492.6L1180.5,492.4L1182.5,492.2L1184.5,492.0L1186.5,491.9L1188.5,491.9L1190.5,491.8L1192.5,491.7L1194.5,491.7L1196.5,491.7L1198.5,491.7L1200.5,491.6L1202.5,491.6L1204.5,491.6L1206.5,491.6L1208.5,491.6L1210.5,491.6L1212.5,491.6L1214.5,491.6L1216.5,491.6L1218.5,491.6L1220.5,491.6L1222.5,491.6L1224.5,491.6L1226.5,491.6L1228.5,491.6L1230.5,491.6L1232.5,491.6L1234.5,491.6L1236.5,491.6L1238.5,491.6L1240.5,491.6L1242.5,491.6L1244.5,491.6L1246.5,491.6L1248.5,491.6L1250.5,491.6L1252.5,491.6L1254.5,491.6L1256.5,491.6L1258.5,491.6L1260.5,491.6L1262.5,491.6L1264.5,491.6L1266.5,491.6L1268.5,491.6L1270.5,491.6L1272.5,491.6L1274.5,491.6L1276.5,491.6L1278.5,491.6L1280.5,491.6L1282.5,491.6L1284.5,491.6L1286.5,491.6L1288.5,491.6L1290.5,491.6L1292.5,491.6L1294.5,491.6L1296.5,491.6L1298.5,491.6L1300.5,491.6L1302.5,491.6L1304.5,491.6L1306.5,491.6L1308.5,491.6L1310.5,491.6L1312.5,491.6L1314.5,491.6L1316.5,491.6L1318.5,491.6L1320.5,491.6L1322.5,491.6L1324.5,491.6L1326.5,491.6L1328.5,491.6L1330.5,491.6L1332.5,491.6L1334.5,491.6L1336.5,491.6L1338.5,491.6L1340.5,491.6L1342.5,491.6L1344.5,491.6L1346.5,491.6L1348.5,491.6L1350.5,491.6L1352.5,491.6L1354.5,491.6L1356.5,491.6L1358.5,491.6L1360.5,491.6L1362.5,491.6L1364.5,491.6L1366.5,491.6L1368.5,491.6L1370.5,491.6L1372.5,491.6L1374.5,491.6L1376.5,491.6L1378.5,491.6L1380.5,491.6L1382.5,491.6L1384.5,491.6L1386.5,491.6L1388.5,491.6L1390.5,491.6L1392.5,491.6L1394.5,491.6L1396.5,491.6L1398.5,491.6L1400.5,491.6L1402.5,491.6L1404.5,491.6L1406.5,491.6L1408.5,491.6L1410.5,491.6L1412.5,491.6L1414.5,491.6L1416.5,491.6L1418.5,491.6L1420.5,491.6L1422.5,491.6L1424.5,491.6L1426.5,491.6L1428.5,491.6L1430.5,491.6L1432.5,491.6L1434.5,491.6L1436.5,491.6L1438.5,491.6L1440.5,491.6L1442.5,491.6L1444.5,491.6L1446.5,491.6L1448.5,491.6L1450.5,491.6L1452.5,491.6L1454.5,491.6L1456.5,491.6L1458.5,491.6L1460.5,491.6L1462.5,491.6L1464.5,491.6L1466.5,491.6L1468.5,491.6L1470.5,491.6L1472.5,491.6L1474.5,491.6L1476.5,491.6L1478.5,491.6L1480.5,491.6L1482.5,491.6L1484.5,491.6L1486.5,491.6L1488.5,491.6L1490.5,491.6L1492.5,491.6L1494.5,491.6L1496.5,491.6L1498.5,491.6L1500.5,491.6L1502.5,491.6L1504.5,491.6L1506.5,491.6L1508.5,491.6L1510.5,491.6L1512.5,491.6L1514.5,491.6L1516.5,491.6L1518.5,491.6L1520.5,491.6L1522.5,491.6L1524.5,491.6L1526.5,491.6L1528.5,491.6L1530.5,491.6L1532.5,491.6L1534.5,491.6L1536.5,491.6L1538.5,491.6L1540.5,491.6L1542.5,491.6L1544.5,491.6L1546.5,491.6L1548.5,491.6L1550.5,491.6L1552.5,491.6L1554.5,491.6L1556.5,491.6L1558.5,491.6L1560.5,491.6L1562.5,491.6L1564.5,491.6L1566.5,491.6L1568.5,491.6L1570.5,491.6L1572.5,491.6L1574.5,491.6L1576.5,491.6L1578.5,491.6L1580.5,491.6L1582.5,491.6L1584.5,491.6L1586.5,491.6L1588.5,491.6L1590.5,491.6L1592.5,491.6L1594.5,491.6L1596.5,491.6L1598.5,491.6L1600.5,491.6L1602.5,491.6L1604.5,491.6L1606.5,491.6L1608.5,491.6L1610.5,491.6L1612.5,491.6L1614.5,491.6L1616.5,491.6L1618.5,491.6L1620.5,491.6L1622.5,491.6L1624.5,491.6L1626.5,491.6L1628.5,491.6L1630.5,491.6L1632.5,491.6L1634.5,491.6L1636.5,491.6L1638.5,491.6L1640.5,491.6L1642.5,491.6L1644.5,491.6L1646.5,491.6L1648.5,491.6L1650.5,491.6L1652.5,491.6L1654.5,491.6L1656.5,491.6L1658.5,491.6L1660.5,491.6L1662.5,491.6L1664.5,491.6L1666.5,491.6L1668.5,491.6L1670.5,491.6L1672.5,491.6L1674.5,491.6L1676.5,491.6L1678.5,491.6L1680.5,491.6L1682.5,491.6L1684.5,491.6L1686.5,491.6L1688.5,491.6L1690.5,491.6L1692.5,491.6L1694.5,491.6L1696.5,491.6L1698.5,491.6L1700.5,491.6L1701.5,491.6L1701.5,759.8Z"/></clipPath>
<linearGradient id="cbar" x2="0" y2="1"><stop offset="0" stop-color="#f00"/><stop offset="0.25" stop-color="#ff0"/><stop offset="0.5" stop-color="#0f0"/><stop offset="0.75" stop-color="#0ff"/><stop offset="1" stop-color="#00f"/></linearGradient>
</defs>
<path d="M226,54H932V325H226Z M229.0,322.0L229.0,58.6L231.0,58.6L233.0,58.6L235.0,58.6L237.0,58.6L239.0,58.7L241.0,58.7L243.0,58.7L245.0,58.7L247.0,58.8L249.0,58.8L251.0,58.9L253.0,58.9L255.0,59.0L257.0,59.1L259.0,59.3L261.0,59.4L263.0,59.6L265.0,59.8L267.0,60.1L269.0,60.4L271.0,60.8L273.0,61.2L275.0,61.7L277.0,62.2L279.0,62.8L281.0,63.5L283.0,64.3L285.0,65.2L287.0,66.1L289.0,67.2L291.0,68.3L293.0,69.5L295.0,70.8L297.0,72.2L299.0,73.7L301.0,75.2L303.0,76.8L305.0,78.4L307.0,80.0L309.0,81.6L311.0,83.2L313.0,84.8L315.0,86.4L317.0,87.8L319.0,89.2L321.0,90.4L323.0,91.5L325.0,92.4L327.0,93.2L329.0,93.8L331.0,94.2L333.0,94.4L335.0,94.4L337.0,94.2L339.0,93.8L341.0,93.2L343.0,92.4L345.0,91.5L347.0,90.4L349.0,89.2L351.0,87.8L353.0,86.4L355.0,84.8L357.0,83.2L359.0,81.6L361.0,80.0L363.0,78.4L365.0,76.8L367.0,75.2L369.0,73.7L371.0,72.2L373.0,70.8L375.0,69.5L377.0,68.3L379.0,67.2L381.0,66.1L383.0,65.2L385.0,64.3L387.0,63.5L389.0,62.8L391.0,62.2L393.0,61.7L395.0,61.2L397.0,60.8L399.0,60.4L401.0,60.1L403.0,59.8L405.0,59.6L407.0,59.4L409.0,59.3L411.0,59.1L413.0,59.0L415.0,58.9L417.0,58.9L419.0,58.8L421.0,58.8L423.0,58.7L425.0,58.7L427.0,58.7L429.0,58.7L431.0,58.6L433.0,58.6L435.0,58.6L437.0,58.6L439.0,58.6L441.0,58.6L443.0,58.6L445.0,58.6L447.0,58.6L449.0,58.6L451.0,58.6L453.0,58.6L455.0,58.6L457.0,58.6L459.0,58.6L461.0,58.6L463.0,58.6L465.0,58.6L467.0,58.6L469.0,58.6L471.0,58.6L473.0,58.6L475.0,58.6L477.0,58.6L479.0,58.6L481.0,58.6L483.0,58.6L485.0,58.6L487.0,58.6L489.0,58.6L491.0,58.6L493.0,58.6L495.0,58.6L497.0,58.6L499.0,58.6L501.0,58.6L503.0,58.6L505.0,58.6L507.0,58.6L509.0,58.6L511.0,58.6L513.0,58.6L515.0,58.6L517.0,58.6L519.0,58.6L521.0,58.6L523.0,58.6L525.0,58.6L527.0,58.6L529.0,58.6L531.0,58.6L533.0,58.6L535.0,58.6L537.0,58.6L539.0,58.6L541.0,58.6L543.0,58.6L545.0,58.6L547.0,58.6L549.0,58.6L551.0,58.6L553.0,58.6L555.0,58.6L557.0,58.6L559.0,58.6L561.0,58.6L563.0,58.6L565.0,58.6L567.0,58.6L569.0,58.6L571.0,58.6L573.0,58.6L575.0,58.6L577.0,58.6L579.0,58.6L581.0,58.6L583.0,58.6L585.0,58.6L587.0,58.6L589.0,58.6L591.0,58.6L593.0,58.6L595.0,58.6L597.0,58.6L599.0,58.6L601.0,58.6L603.0,58.6L605.0,58.6L607.0,58.6L609.0,58.6L611.0,58.6L613.0,58.6L615.0,58.6L617.0,58.6L619.0,58.6L621.0,58.6L623.0,58.6L625.0,58.6L627.0,58.6L629.0,58.6L631.0,58.6L633.0,58.6L635.0,58.6L637.0,58.6L639.0,58.6L641.0,58.6L643.0,58.6L645.0,58.6L647.0,58.6L649.0,58.6L651.0,58.6L653.0,58.6L655.0,58.6L657.0,58.6L659.0,58.6L661.0,58.6L663.0,58.6L665.0,58.6L667.0,58.6L669.0,58.6L671.0,58.6L673.0,58.6L675.0,58.6L677.0,58.6L679.0,58.6L681.0,58.6L683.0,58.6L685.0,58.6L687.0,58.6L689.0,58.6L691.0,58.6L693.0,58.6L695.0,58.6L697.0,58.6L699.0,58.6L701.0,58.6L703.0,58.6L705.0,58.6L707.0,58.6L709.0,58.6L711.0,58.6L713.0,58.6L715.0,58.6L717.0,58.6L719.0,58.6L721.0,58.6L723.0,58.6L725.0,58.6L727.0,58.6L729.0,58.6L731.0,58.6L733.0,58.6L735.0,58.6L737.0,58.6L739.0,58.6L741.0,58.6L743.0,58.6L745.0,58.6L747.0,58.6L749.0,58.6L751.0,58.6L753.0,58.6L755.0,58.6L757.0,58.6L759.0,58.6L761.0,58.6L763.0,58.6L765.0,58.6L767.0,58.6L769.0,58.6L771.0,58.6L773.0,58.6L775.0,58.6L777.0,58.6L779.0,58.6L781.0,58.6L783.0,58.6L785.0,58.6L787.0,58.6L789.0,58.6L791.0,58.6L793.0,58.6L795.0,58.6L797.0,58.6L799.0,58.6L801.0,58.6L803.0,58.6L805.0,58.6L807.0,58.6L809.0,58.6L811.0,58.6L813.0,58.6L815.0,58.6L817.0,58.6L819.0,58.6L821.0,58.6L823.0,58.6L825.0,58.6L827.0,58.6L829.0,58.6L831.0,58.6L833.0,58.6L835.0,58.6L837.0,58.6L839.0,58.6L841.0,58.6L843.0,58.6L845.0,58.6L847.0,58.6L849.0,58.6L851.0,58.6L853.0,58.6L855.0,58.6L857.0,58.6L859.0,58.6L861.0,58.6L863.0,58.6L865.0,58.6L867.0,58.6L869.0,58.6L871.0,58.6L873.0,58.6L875.0,58.6L877.0,58.6L879.0,58.6L881.0,58.6L883.0,58.6L885.0,58.6L887.0,58.6L889.0,58.6L891.0,58.6L893.0,58.6L895.0,58.6L897.0,58.6L899.0,58.6L901.0,58.6L903.0,58.6L905.0,58.6L907.0,58.6L909.0,58.6L911.0,58.6L913.0,58.6L915.0,58.6L917.0,58.6L919.0,58.6L921.0,58.6L923.0,58.6L925.0,58.6L927.0,58.6L929.0,58.6L929.0,322.0Z" fill="#fff" fill-rule="evenodd"/>
<path d="M250.0,59.1L252.0,59.2L254.0,59.3L256.0,59.4L258.0,59.5L260.0,59.6L262.0,59.8L264.0,60.0L266.0,60.3L268.0,60.5L270.0,60.9L272.0,61.3L274.0,61.7L276.0,62.2L278.0,62.8L280.0,63.5L282.0,64.2L284.0,65.0L286.0,65.9L288.0,66.9L290.0,68.0L292.0,69.2L294.0,70.5L296.0,71.8L298.0,73.2L300.0,74.7L302.0,76.3L304.0,77.9L306.0,79.5L308.0,81.1L310.0,82.7L312.0,84.3L314.0,85.9L316.0,87.4L318.0,88.8L320.0,90.1L322.0,91.3L324.0,92.3L326.0,93.1L328.0,93.8L330.0,94.3L332.0,94.6L334.0,94.7L336.0,94.6L338.0,94.3L340.0,93.8L342.0,93.1L344.0,92.3L346.0,91.3L348.0,90.1L350.0,88.8L352.0,87.4L354.0,85.9L356.0,84.3L358.0,82.7L360.0,81.1L362.0,79.5L364.0,77.9L366.0,76.3L368.0,74.7L370.0,73.2L372.0,71.8L374.0,70.5L376.0,69.2L378.0,68.0L380.0,66.9L382.0,65.9L384.0,65.0L386.0,64.2L388.0,63.5L390.0,62.8L392.0,62.2L394.0,61.7L396.0,61.3L398.0,60.9L400.0,60.5L402.0,60.3L404.0,60.0L406.0,59.8L408.0,59.6L410.0,59.5L412.0,59.4L414.0,59.3L416.0,59.2L418.0,59.1L420.0,59.1L422.0,59.1L424.0,59.0" fill="none" stroke="#00003a" stroke-opacity=".7" stroke-width="1"/>
<g clip-path="url(#ca)"><path d="M229,73.6l14-1.3 10-.4 9,.5 9,1.4 7,2 7,2.8 23,11.9 9,4 10,3 9,.8 6-.5 7-1.7 26-10.7 18-5.5 20-3.6 24-2 217-2.5 275-.1M229,87.2l9,.1 23-1 12,1 6,1.6 5.8,2.1 21.2,10 7,2.7 9,2.1 9,.7 8-.4 8-1 35-7.8 23-3.6 28-2.7 35-1.6 58-1.2 90-.7 313-.2M229,102.5l15-1.2 16,.8 16,2.4 45,9 13,1.4 13,.4 22-.9 50-4.8 37-2.7 40-1.9 44-1.4 112-1.2 277,0M229,119.8l19-.7 21,.6 22,1.6 55,5.5 16,.9 14,.3 49-1.4 131-5.7 57-1.5 53-.4 263,0M229,138.6l10,.3 11-.3 47-4.3 20-.5 14.6,1.2 29.4,5.1 17,2.1 26,1.5 30,.6 37-.8 94-4.3 59-1.6 305-.3M229,158.5l26,.1 17-1.3 12-2.3 27-7.7 7-1.2 6-.3 12,1.1 31,7.6 24,4.2 26,2.7 29,1.3 38-.3 88-4 60-1.4 297-.2M229,181.9l10,1.3 9,.3 9-.5 10-1.5 9-2.1 10-3.1 32-12.5 7-1.7 7-.7 6,.4 7,1.3 29.4,9.9 18.1,4 30.5,3.6 36,2 46,.3 86-1.7 58-.5 280,0M229,196.6l11,.6 11-.2 11-1.2 10-1.9 8-2.3 8-3.1 23-11.5 7-3 8-2.2 7-.5 6,.4 6,1 40,10.5 28,5.5 33.9,4.3 36.1,2.4 50,1 396-.1M229,210.1l35-.9 8-.8 8-1.6 7-2.4 7-3.3 24-14.4 8-4.2 8-2.8 8-.9 6,.5 7,1.4 38,12 15,3.6 16,3 17,2.4 20,2.1 54,3.6 61,2.7 62,1.3 291,.2M229,228.8l15,.2 12-.5 10-1.3 9-2.3 7-2.8 6-3.2 24-16.8 11-6.3 7-3 7-2.2 7-1.3 7-.5 9,.7 10,2.4 36,13.8 9,2.7 10,2.2 20,2.7 36,2.4 15,1.4 14,2.3 35,7.2 19,2.3 19,.7 57,.3 289,.1M229,248l12,.4 11-.7 10-1.7 9-2.8 7-3.2 7-4.4 6-4.8 17.6-15.8 10.4-7 7-3.2 8-2.5 7-1.3 8-.4 9,.8 10,2.3 10,3.5 25,10.1 16,4.6 18,3 40,3.5 17,2.5 16,3.9 28,9.2 12,3.5 12,2.4 13,1.6 31,1.6 30,.5 293-.1M229,279.8l12,.2 11-1.5 11-3.2 10-4.4 9-5.7 8-6.7 8-8.2 18-20.2 9-8.1 6-3.6 6-2.2 6-1.2 7-.1 8,.9 9,2.1 33,11.2 15,4.2 18,3.8 51,9.1 16,4.1 14,4.7 15.1,7 12.4,8 8.3,7 18.2,18.2 9,7.2 9,4.7 10,2.7 9,.6 10-.3 53-3.7 261,0M283.6,323l.4-4 2.4-10 5.7-15 14.5-28 10-16 8.4-9.8 4-3.5 4-2.6 4-1.9 5-1.6 10-1.1 8,.5 9.6,2 11.4,3.9 23,9.3 11,3.6 17,4.2 46.3,9 13.9,4 11.8,4.9 6.9,4.1 6.1,4.9 5.7,6.1 4.3,6 4.5,8 3.2,8 2.7,10 .5,5M314.1,323l2-17 2.9-14.7 4-12.1 4.7-9.2 6.2-8 3.3-3 3.8-2.6 8-3.1 9-1.1 8,.7 9,2.3 35,14.4 45.2,13.4 8.5,3 9.3,4.1 12,7 4.9,3.9 3.8,4 3.3,4.8 1.9,4.2 1.4,5 .3,4M319.3,323l1.3-13 2.9-14 4-12 4.6-9 5.8-8 5.8-5 6.3-2.9 8-1.1 5,.3 6,1.1 16,4.9 41.6,15.7 15.4,6.7 13.1,6.3 14.5,8 8.4,6.3 3.3,3.7 2.5,4 1.7,4 .4,4M333.9,323l.2-9 1.6-9 3.1-9 3.7-7 4.5-5.4 5-3.7 5.1-1.9 6.9-.8 9,.8 12.1,3 10.9,4.2 11,6 10.9,7.8 8.4,8 4.3,5 5,7 .9,2 .1,2M346.8,323l.1-7 .7-4 1.4-4 3-4.6 3.9-3.4 4.1-2.1 5-1.4 6-.5 7,.7 6,1.7 5.8,2.6 5.2,3.5 4,3.8 3.3,4.7 2.2,5 .7,5" fill="none" stroke="#000a00" stroke-opacity=".9" stroke-width="1.25" stroke-linejoin="round"/></g>
<path d="M229.0,57.6V322.0H929.0" fill="none" stroke="#222" stroke-width=".8"/><rect x="227.7" y="318.8" width="2.6" height="3.6" fill="#000"/><rect x="263.5" y="319.0" width="1" height="3" fill="#111" fill-opacity=".8"/><rect x="298.5" y="319.0" width="1" height="3" fill="#111" fill-opacity=".8"/><rect x="333.5" y="319.0" width="1" height="3" fill="#111" fill-opacity=".8"/><rect x="367.7" y="318.8" width="2.6" height="3.6" fill="#000"/><rect x="403.5" y="319.0" width="1" height="3" fill="#111" fill-opacity=".8"/><rect x="438.5" y="319.0" width="1" height="3" fill="#111" fill-opacity=".8"/><rect x="473.5" y="319.0" width="1" height="3" fill="#111" fill-opacity=".8"/><rect x="507.7" y="318.8" width="2.6" height="3.6" fill="#000"/><rect x="543.5" y="319.0" width="1" height="3" fill="#111" fill-opacity=".8"/><rect x="578.5" y="319.0" width="1" height="3" fill="#111" fill-opacity=".8"/><rect x="613.5" y="319.0" width="1" height="3" fill="#111" fill-opacity=".8"/><rect x="647.7" y="318.8" width="2.6" height="3.6" fill="#000"/><rect x="683.5" y="319.0" width="1" height="3" fill="#111" fill-opacity=".8"/><rect x="718.5" y="319.0" width="1" height="3" fill="#111" fill-opacity=".8"/><rect x="753.5" y="319.0" width="1" height="3" fill="#111" fill-opacity=".8"/><rect x="787.7" y="318.8" width="2.6" height="3.6" fill="#000"/><rect x="823.5" y="319.0" width="1" height="3" fill="#111" fill-opacity=".8"/><rect x="858.5" y="319.0" width="1" height="3" fill="#111" fill-opacity=".8"/><rect x="893.5" y="319.0" width="1" height="3" fill="#111" fill-opacity=".8"/><rect x="927.7" y="318.8" width="2.6" height="3.6" fill="#000"/><rect x="228.6" y="320.7" width="4" height="2.6" fill="#000"/><rect x="229.0" y="308.3" width="3" height="1" fill="#111" fill-opacity=".7"/><rect x="229.0" y="295.2" width="3" height="1" fill="#111" fill-opacity=".7"/><rect x="229.0" y="282.0" width="3" height="1" fill="#111" fill-opacity=".7"/><rect x="228.6" y="268.0" width="4" height="2.6" fill="#000"/><rect x="229.0" y="255.6" width="3" height="1" fill="#111" fill-opacity=".7"/><rect x="229.0" y="242.5" width="3" height="1" fill="#111" fill-opacity=".7"/><rect x="229.0" y="229.3" width="3" height="1" fill="#111" fill-opacity=".7"/><rect x="228.6" y="215.3" width="4" height="2.6" fill="#000"/><rect x="229.0" y="203.0" width="3" height="1" fill="#111" fill-opacity=".7"/><rect x="229.0" y="189.8" width="3" height="1" fill="#111" fill-opacity=".7"/><rect x="229.0" y="176.6" width="3" height="1" fill="#111" fill-opacity=".7"/><rect x="228.6" y="162.7" width="4" height="2.6" fill="#000"/><rect x="229.0" y="150.3" width="3" height="1" fill="#111" fill-opacity=".7"/><rect x="229.0" y="137.1" width="3" height="1" fill="#111" fill-opacity=".7"/><rect x="229.0" y="124.0" width="3" height="1" fill="#111" fill-opacity=".7"/><rect x="228.6" y="110.0" width="4" height="2.6" fill="#000"/><rect x="229.0" y="97.6" width="3" height="1" fill="#111" fill-opacity=".7"/><rect x="229.0" y="84.4" width="3" height="1" fill="#111" fill-opacity=".7"/><rect x="229.0" y="71.3" width="3" height="1" fill="#111" fill-opacity=".7"/><rect x="228.6" y="57.3" width="4" height="2.6" fill="#000"/>
<g class="tk"><text x="229.0" y="348.6" text-anchor="middle">0</text><text x="369.0" y="348.6" text-anchor="middle">2</text><text x="509.0" y="348.6" text-anchor="middle">4</text><text x="649.0" y="348.6" text-anchor="middle">6</text><text x="789.0" y="348.6" text-anchor="middle">8</text><text x="929.0" y="348.6" text-anchor="middle">10</text><text x="218.7" y="331.0" text-anchor="end">0</text><text x="218.7" y="278.3" text-anchor="end">0.2</text><text x="218.7" y="225.6" text-anchor="end">0.4</text><text x="218.7" y="173.0" text-anchor="end">0.6</text><text x="218.7" y="120.3" text-anchor="end">0.8</text><text x="218.7" y="67.6" text-anchor="end">1</text></g>
<text class="al" x="578.0" y="377.5" text-anchor="middle">x</text>
<text class="al" transform="translate(171.0,190.3) rotate(-90)" text-anchor="middle">r</text>
<text class="cap" x="577.0" y="432.9" text-anchor="middle"><tspan class="pr">(</tspan>a<tspan class="pr">)</tspan></text>
<g class="cl"><text transform="translate(461.0,75.5) rotate(0)" text-anchor="middle">0.20</text><text transform="translate(490.0,97.5) rotate(0)" text-anchor="middle">0.41</text><text transform="translate(458.0,111.5) rotate(0)" text-anchor="middle">0.61</text><text transform="translate(442.5,126.0) rotate(0)" text-anchor="middle">0.82</text><text transform="translate(438.5,150.5) rotate(0)" text-anchor="middle">1.02</text><text transform="translate(445.0,179.0) rotate(0)" text-anchor="middle">1.43</text><text transform="translate(493.3,200.0) rotate(0)" text-anchor="middle">1.54</text><text transform="translate(593.0,218.5) rotate(0)" text-anchor="middle">1.64</text><text transform="translate(462.0,228.0) rotate(6)" text-anchor="middle">1.74</text><text transform="translate(443.5,252.0) rotate(12)" text-anchor="middle">1.95</text><text transform="translate(421.5,264.5) rotate(17)" text-anchor="middle">2.04</text><text transform="translate(373.5,268.0) rotate(22)" text-anchor="middle">2.18</text><text transform="translate(408.5,273.5) rotate(25)" text-anchor="middle">2.16</text><text transform="translate(373.0,296.5) rotate(0)" text-anchor="middle">2.29</text><text transform="translate(570.0,303.5) rotate(48)" text-anchor="middle">1.95</text></g>
<path d="M993,55H1702V329H993Z M996.0,325.7L996.0,59.4L998.0,59.4L1000.0,59.4L1002.0,59.4L1004.0,59.4L1006.0,59.5L1008.0,59.5L1010.0,59.5L1012.0,59.5L1014.0,59.6L1016.0,59.7L1018.0,59.7L1020.0,59.8L1022.0,60.0L1024.0,60.1L1026.0,60.3L1028.0,60.6L1030.0,60.9L1032.0,61.2L1034.0,61.7L1036.0,62.2L1038.0,62.8L1040.0,63.5L1042.0,64.4L1044.0,65.4L1046.0,66.6L1048.0,67.9L1050.0,69.4L1052.0,71.1L1054.0,73.0L1056.0,75.1L1058.0,77.4L1060.0,79.9L1062.0,82.6L1064.0,85.5L1066.0,88.6L1068.0,91.9L1070.0,95.2L1072.0,98.7L1074.0,102.2L1076.0,105.7L1078.0,109.1L1080.0,112.5L1082.0,115.8L1084.0,118.9L1086.0,121.7L1088.0,124.2L1090.0,126.4L1092.0,128.3L1094.0,129.7L1096.0,130.7L1098.0,131.2L1100.0,131.3L1102.0,130.9L1104.0,130.0L1106.0,128.7L1108.0,127.0L1110.0,124.9L1112.0,122.5L1114.0,119.7L1116.0,116.7L1118.0,113.5L1120.0,110.2L1122.0,106.7L1124.0,103.2L1126.0,99.7L1128.0,96.2L1130.0,92.9L1132.0,89.6L1134.0,86.5L1136.0,83.5L1138.0,80.7L1140.0,78.1L1142.0,75.8L1144.0,73.6L1146.0,71.6L1148.0,69.9L1150.0,68.3L1152.0,66.9L1154.0,65.7L1156.0,64.7L1158.0,63.8L1160.0,63.0L1162.0,62.4L1164.0,61.8L1166.0,61.3L1168.0,61.0L1170.0,60.6L1172.0,60.4L1174.0,60.2L1176.0,60.0L1178.0,59.9L1180.0,59.8L1182.0,59.7L1184.0,59.6L1186.0,59.6L1188.0,59.5L1190.0,59.5L1192.0,59.5L1194.0,59.4L1196.0,59.4L1198.0,59.4L1200.0,59.4L1202.0,59.4L1204.0,59.4L1206.0,59.4L1208.0,59.4L1210.0,59.4L1212.0,59.4L1214.0,59.4L1216.0,59.4L1218.0,59.4L1220.0,59.4L1222.0,59.4L1224.0,59.4L1226.0,59.4L1228.0,59.4L1230.0,59.4L1232.0,59.4L1234.0,59.4L1236.0,59.4L1238.0,59.4L1240.0,59.4L1242.0,59.4L1244.0,59.4L1246.0,59.4L1248.0,59.4L1250.0,59.4L1252.0,59.4L1254.0,59.4L1256.0,59.4L1258.0,59.4L1260.0,59.4L1262.0,59.4L1264.0,59.4L1266.0,59.4L1268.0,59.4L1270.0,59.4L1272.0,59.4L1274.0,59.4L1276.0,59.4L1278.0,59.4L1280.0,59.4L1282.0,59.4L1284.0,59.4L1286.0,59.4L1288.0,59.4L1290.0,59.4L1292.0,59.4L1294.0,59.4L1296.0,59.4L1298.0,59.4L1300.0,59.4L1302.0,59.4L1304.0,59.4L1306.0,59.4L1308.0,59.4L1310.0,59.4L1312.0,59.4L1314.0,59.4L1316.0,59.4L1318.0,59.4L1320.0,59.4L1322.0,59.4L1324.0,59.4L1326.0,59.4L1328.0,59.4L1330.0,59.4L1332.0,59.4L1334.0,59.4L1336.0,59.4L1338.0,59.4L1340.0,59.4L1342.0,59.4L1344.0,59.4L1346.0,59.4L1348.0,59.4L1350.0,59.4L1352.0,59.4L1354.0,59.4L1356.0,59.4L1358.0,59.4L1360.0,59.4L1362.0,59.4L1364.0,59.4L1366.0,59.4L1368.0,59.4L1370.0,59.4L1372.0,59.4L1374.0,59.4L1376.0,59.4L1378.0,59.4L1380.0,59.4L1382.0,59.4L1384.0,59.4L1386.0,59.4L1388.0,59.4L1390.0,59.4L1392.0,59.4L1394.0,59.4L1396.0,59.4L1398.0,59.4L1400.0,59.4L1402.0,59.4L1404.0,59.4L1406.0,59.4L1408.0,59.4L1410.0,59.4L1412.0,59.4L1414.0,59.4L1416.0,59.4L1418.0,59.4L1420.0,59.4L1422.0,59.4L1424.0,59.4L1426.0,59.4L1428.0,59.4L1430.0,59.4L1432.0,59.4L1434.0,59.4L1436.0,59.4L1438.0,59.4L1440.0,59.4L1442.0,59.4L1444.0,59.4L1446.0,59.4L1448.0,59.4L1450.0,59.4L1452.0,59.4L1454.0,59.4L1456.0,59.4L1458.0,59.4L1460.0,59.4L1462.0,59.4L1464.0,59.4L1466.0,59.4L1468.0,59.4L1470.0,59.4L1472.0,59.4L1474.0,59.4L1476.0,59.4L1478.0,59.4L1480.0,59.4L1482.0,59.4L1484.0,59.4L1486.0,59.4L1488.0,59.4L1490.0,59.4L1492.0,59.4L1494.0,59.4L1496.0,59.4L1498.0,59.4L1500.0,59.4L1502.0,59.4L1504.0,59.4L1506.0,59.4L1508.0,59.4L1510.0,59.4L1512.0,59.4L1514.0,59.4L1516.0,59.4L1518.0,59.4L1520.0,59.4L1522.0,59.4L1524.0,59.4L1526.0,59.4L1528.0,59.4L1530.0,59.4L1532.0,59.4L1534.0,59.4L1536.0,59.4L1538.0,59.4L1540.0,59.4L1542.0,59.4L1544.0,59.4L1546.0,59.4L1548.0,59.4L1550.0,59.4L1552.0,59.4L1554.0,59.4L1556.0,59.4L1558.0,59.4L1560.0,59.4L1562.0,59.4L1564.0,59.4L1566.0,59.4L1568.0,59.4L1570.0,59.4L1572.0,59.4L1574.0,59.4L1576.0,59.4L1578.0,59.4L1580.0,59.4L1582.0,59.4L1584.0,59.4L1586.0,59.4L1588.0,59.4L1590.0,59.4L1592.0,59.4L1594.0,59.4L1596.0,59.4L1598.0,59.4L1600.0,59.4L1602.0,59.4L1604.0,59.4L1606.0,59.4L1608.0,59.4L1610.0,59.4L1612.0,59.4L1614.0,59.4L1616.0,59.4L1618.0,59.4L1620.0,59.4L1622.0,59.4L1624.0,59.4L1626.0,59.4L1628.0,59.4L1630.0,59.4L1632.0,59.4L1634.0,59.4L1636.0,59.4L1638.0,59.4L1640.0,59.4L1642.0,59.4L1644.0,59.4L1646.0,59.4L1648.0,59.4L1650.0,59.4L1652.0,59.4L1654.0,59.4L1656.0,59.4L1658.0,59.4L1660.0,59.4L1662.0,59.4L1664.0,59.4L1666.0,59.4L1668.0,59.4L1670.0,59.4L1672.0,59.4L1674.0,59.4L1676.0,59.4L1678.0,59.4L1680.0,59.4L1682.0,59.4L1684.0,59.4L1686.0,59.4L1688.0,59.4L1690.0,59.4L1692.0,59.4L1694.0,59.4L1696.0,59.4L1698.0,59.4L1698.2,59.4L1698.2,325.7Z" fill="#fff" fill-rule="evenodd"/>
<path d="M1014.4,59.9L1016.4,60.0L1018.4,60.1L1020.4,60.2L1022.4,60.3L1024.3,60.5L1026.3,60.7L1028.3,60.9L1030.3,61.2L1032.3,61.6L1034.3,62.0L1036.3,62.6L1038.3,63.2L1040.3,64.0L1042.3,64.9L1044.3,65.9L1046.3,67.1L1048.3,68.4L1050.3,70.0L1052.3,71.7L1054.3,73.6L1056.3,75.8L1058.3,78.1L1060.3,80.7L1062.3,83.4L1064.3,86.4L1066.3,89.5L1068.3,92.7L1070.3,96.1L1072.3,99.6L1074.3,103.1L1076.3,106.6L1078.3,110.0L1080.3,113.4L1082.3,116.6L1084.3,119.7L1086.3,122.4L1088.3,124.9L1090.3,127.1L1092.3,128.8L1094.3,130.2L1096.3,131.1L1098.3,131.5L1100.3,131.5L1102.3,131.1L1104.3,130.1L1106.3,128.8L1108.3,127.0L1110.3,124.8L1112.3,122.3L1114.3,119.5L1116.3,116.5L1118.3,113.3L1120.3,109.9L1122.3,106.4L1124.3,102.9L1126.3,99.4L1128.3,95.9L1130.3,92.6L1132.3,89.3L1134.3,86.2L1136.3,83.3L1138.3,80.6L1140.3,78.0L1142.3,75.7L1144.3,73.5L1146.3,71.6L1148.3,69.9L1150.3,68.4L1152.3,67.0L1154.3,65.8L1156.3,64.8L1158.3,63.9L1160.3,63.2L1162.3,62.6L1164.3,62.0L1166.3,61.6L1168.3,61.2L1170.3,60.9L1172.3,60.6L1174.3,60.4L1176.3,60.3L1178.3,60.2L1180.3,60.0L1182.3,60.0L1184.3,59.9L1186.3,59.9L1188.3,59.8L1190.3,59.8" fill="none" stroke="#00003a" stroke-opacity=".7" stroke-width="1"/>
<g clip-path="url(#cb)"><path d="M996,66.2l7,.2 16-.7 6,.5 8,2.4 9,4.9 13,9 10,9.4 6,7.6 14.4,22.5 4.3,5 3.3,2.7 3,1.5 2,.3 4.4-.5M1104.1,129.9l2.9-1 2-2.5 2.6-1.4 2-3 2.3-2 1.9-3 17.2-19.5 9-8.4 8-5.9 10-5.5 11-4.2 12-3.1 15-2.3 22-1.4 44-.4 433-.1M996,73l14-.8 13,1.3 13,3.5 7,2.9 6,3.1 6,3.8 5,4 8,8 6,8 10.3,15.2 5.3,6 3.4,2.6 3,1.4 6,.5 6.3-2.5 1.7-1.9 3-1.8 2-2.2 2.9-2.1 24.1-22.4 7-5.3 7-4.4 11-5.3 11-3.9 11-2.7 13-1.9 20-1 46-.1 134-1.8 297,0M996,80.2l14-.5 15,1.4 13,2.9 11,4.3 10,6.2 8,6.9 6,6.9 10.7,14.7 5.3,5.6 3.2,2.4 3.8,1.8 6,.8 6.1-1.6 10.4-6 26.5-21.2 7-4.7 8-4.3 10-4.3 10-3.2 10-2.2 11-1.4 17-.8 53-.2 78-2.4 53-1 297,0M996,87.5l19,0 12,.9 12,2.2 11,3.8 9,4.8 8,6.2 8,8.4 8,10.2 6.4,6 2.6,1.8 4,1.9 6,1.1 7-1.1 8-3.1 5.8-3.6 22.2-15.9 8-4.5 9-4.2 9-3.3 10-2.7 11-2 11-1.2 21-.8 59,.7 49-3.8 70-1.8 297,0M996,95.1l35,.9 10,1.4 9,2.5 8,3.7 8,5.4 7,6.4 8.7,9.6 4.5,4 4.8,3.4 5,2.4 5,1.2 4,.1 7-.9 6.1-2.2 5.4-3 19.5-12.4 8-3.9 9-3.5 10-3.1 11-2.5 11-1.7 12-1.2 26-.5 42,1.8 12,0 10-.9 21-3.5 15-1.5 27-1.3 35-.8 307-.1M996,102.9l38,.6 8,.8 8,1.9 7,2.8 7,4.1 6,4.5 10.7,9.4 9.3,6.4 7,3.1 4,1.1 5,.3 6-.7 7.2-2.2 23.8-12.2 16-6 18-4.2 20-2.2 23.4-.4 42.6,1.9 15,0 15-1.2 25-4 15-1.7 22-1.2 37-.8 307-.2M996,111.1l11,.7 28-.6 7,.6 6,1.1 7,2.4 7,3.3 28,17.2 8.4,3.2 6.6,.8 6-.5 8-1.9 26-10 15-4.5 15-2.9 16-1.5 18-.1 44,2.3 19,.1 16-1.3 34-4.6 16-1.6 22-1.1 42-1 297,0M996,119.6l14,.7 26-1 10,1.1 8,2 9,3.2 28.3,13.4 7.2,2 6.5,.6 6-.4 8-1.4 28-7.7 13-2.9 12-1.7 13-1 17,0 46,2.6 22,.2 19-1.3 38-4.6 17-1.6 24-1.3 34-1 297,0M996,128.4l12,.8 25-1.4 15,.6 7,1.2 9,2.4 28,9.5 7,1.4 7,.4 12-.9 35-5.9 17-1.6 22-.2 54,2.7 27,.1 25-1.6 57-5.8 44-2.2 300-.1M996,137.5l14,.8 29-2 12,.1 13,1.8 28,5.7 13,1.3 13-.1 32-2.2 16-.4 72,3.3 25,.5 30-1 71-6.6 38-1.9 297,0M996,147.1l16,0 32-2.3 18,.1 46,3 46,1.4 70,5.5 33,.9 34-1.1 72-6.1 39-1.9 297,0M996,157.3l21-1.1 55-5.2 15-.6 11,0 12,.8 16.2,1.8 47.8,7.4 19,2.4 23,1.7 24,.5 36-.9 84-5.4 42-1.5 297,0M996,168.2l13,0 11-1.1 16-3 39-8.6 11-1.6 11-.5 10,.6 9,1.6 35,10.4 24,6.1 13,2.1 15,1 22-.4 83-4.5 78-2.1 313-.2M996,179.9l7,.9 6,.2 7-.6 8-1.4 14-4.2 27.6-10.8 11.7-4 11.7-2.7 10-.8 11,.9 13,3.4 34,14.2 14.6,5 13.4,2.8 14,1.2 18-.1 50-3.7 36-1.1 99,.6 297,0M996,192.6l10,0 9-.6 9-1.4 9-2.3 14-5.5 25-13.3 11-5 10-3.1 11-1.3 9,.7 10,2.7 10,4.4 24,12.8 12,4.8 15,3.7 17,2 19,.2 39-1.8 23-.4 120,3.4 297,0M996,206.6l10-1.3 10-1.9 9-2.3 8-2.8 8-3.4 8-4.3 26-16.9 8-4.4 6-2.6 5.8-1.7 5.2-.9 5-.2 6,.5 5,1 10,3.5 9,4.4 23,12.9 15,6.1 9,2.6 9.6,2.1 20.4,2.5 22,.7 41-1.1 15,.1 64,5.8 23,1.3 25,.7 297,0M996,222.5l10-2.1 10-2.8 8-2.8 7-3.1 7-4 6-4.1 23-19.6 11.2-8 5.8-3 6-2.1 7-1.4 6-.4 11,1.1 12,3.4 11,5.2 19,11.2 10,5 12,4.5 13,3.4 15,2.3 15,1.2 55,.8 21,1.4 17,2.9 35,8.9 11,1.8 11,1.3 27,1.2 301,0M996,241.4l9-1.7 9-2.5 8-3.2 8-4.3 7-5 7-6.3 22-25.4 5.9-6 5.1-4.4 6-3.9 7-3.1 7-1.8 7-.6 6,.4 5,.9 10.6,3.5 10.2,5 23.2,13.4 8.8,4.6 11.2,4.8 10.3,3.2 14.7,3.2 19,2.3 19,.9 37,.1 10,.7 8,1.2 8,1.9 7,2.4 23,11.3 9,3.6 13,3.6 14,2.4 13,1.1 15,.4 300,0M996,266.1l9-.7 9-2.3 8-3.6 8-5.5 7-6.6 7-8.5 6-8.6 18.2-28.3 5.9-8 4.4-5 5.5-5 6.1-4 5.9-2.2 7-.9 9,1.2 10,3.3 10,4.8 23,13.5 13,6.7 17,6.9 15,4.6 16,3.4 17,2.1 13,.7 30,.2 12,.8 11,1.7 10,2.7 9,3.9 8.7,5.6 7.3,6 18,16.2 9,6.7 5,2.9 5,2.1 11,2.8 8,1.1 12,.4 297,0M996.3,327l.1-2 .8-1 34.8-42.6 16-21.8 12-20.1 19.3-38.5 5.3-9 4.3-5 3.9-3 4.2-1.8 5-.7 5,.4 6,1.3 8.7,2.8 7.3,3 9,4.9 17,11.8 12.5,7.3 13.1,6 17.7,6 19.7,4.6 19,2.8 17,1.4 29,1 11,1 10.2,2.2 8.8,3.8 8.7,6.2 8.9,9 9.1,12 8.9,14 5.9,12 3.8,11 2,11 .5,10M1043.5,327l.4-10 1.3-10 2.3-11 2.8-10 6.1-17 12.6-30.6 10.2-26.4 6.2-12 5.6-7 3-2.4 3-1.5 4-1.1 4-.4 5,.4 5,1.1 12,4.5 11,6 18,11.8 10,6 9,4.2 11,3.9 18.7,5.5 25.3,8.3 11,2.9 14,2 23-.1 9,.6 9.5,2.3 9.5,4.4 8,5.6 7,6.7 6.5,8.3 5.2,9 4.6,11 3.1,11 2.1,12 .8,12M1056.4,327l1.7-21 4-22 6.8-27 11.9-41 4.2-9.6 3-4.6 3-3.2 3-2.4 4-2 3-.8 4-.4 4,.3 5,1 10,3.8 10.9,5.9 24.1,14.7 14,7.5 34,15.7 25,10.5 10,3 10,1.6 8,.3 18-.9 8,.5 8,2.1 7,3.2 7,5 5.9,5.8 5.1,7 3.7,7 3.5,9 2.4,9 1.8,11 .9,11M1064.6,327l.5-14 2-14 7.9-34.3 5.7-29.7 3.3-12 4-9.6 2.6-4.4 3.2-4 3.2-2.8 3-1.8 3-1 4-.4 4,.4 5,1.3 11,5.1 31.1,19.2 41.9,26.8 12,6.8 11,5.1 12,4 11,2.1 9,.5 17-.6 10,1 9,2.3 8,3.6 5,3.6 4,3.9 3,4 3.2,5.9 2.6,7 2.1,8 2.5,14 .2,4M1071.7,327l.4-12 1.8-14 7.6-36 4.3-26 2.6-10 4.4-10 5.2-6.8 3-2.4 3-1.5 6-1 4,.5 5,1.4 9.7,4.8 11.4,8 25.9,21.5 14,10.2 21,12.9 25,13.1 11,4.5 10,2.7 10,1.3 23.1,.8 6.9,1.5 5.6,2.5 2.7,2 2.9,3 5.1,8 3.7,10.3 1.4,6.7 .2,4M1080.8,327l.4-11 1.4-13 5.4-32.3 3.1-25.7 1.9-9.5 3-8 4-5.9 2-1.9 3-1.8 5-1 4,.7 5,2 10,6.3 8,7 15.9,16.1 8.1,7.3 10,7.8 24.8,17.9 13.8,11 11,10 8.3,9 9.1,11.9 .5,3.1M1086.9,327l.9-16 1.8-16 4.4-27 3.6-18 2.9-9 3.5-6.7 2-2.3 2-1.5 4-1 4,.7 4,1.8 5,3.1 7,5.4 10,9 36.7,35.5 9.9,11 8.2,11 4.2,7 3.8,8 1,3 .1,2M1093.9,327l3.3-42 1.7-12 2.1-8.7 3-7.8 3-4.4 4-3.1 5-1 4,.4 4,1.1 9,4.3 8.1,6.2 8.4,9 8.9,12 16.7,25 3,6 1.7,5 1.4,6 .2,4M1103.8,327l1.7-31 1-7 1.5-6.2 2.4-5.8 3.6-5.2 4-3.1 2-.8 3-.3 3,.5 3,1.2 7,4.5 6,6 5.2,7.2 4.7,9 3.6,10 2.6,11 1.1,10M1114.7,327l-.8-6 .1-4 1-5.1 2-5.6 2-3.5 3-3.2 3-1.6 3-.5 3,.8 3,2.1 2,2.6 2,3.8 1.7,5.2 .9,5 0,10" fill="none" stroke="#000a00" stroke-opacity=".9" stroke-width="1.25" stroke-linejoin="round"/></g>
<path d="M996.0,58.4V325.7H1698.2" fill="none" stroke="#222" stroke-width=".8"/><rect x="1028.0" y="322.7" width="1" height="3" fill="#111" fill-opacity=".8"/><rect x="1063.2" y="322.7" width="1" height="3" fill="#111" fill-opacity=".8"/><rect x="1098.5" y="322.7" width="1" height="3" fill="#111" fill-opacity=".8"/><rect x="1132.9" y="322.5" width="2.6" height="3.6" fill="#000"/><rect x="1169.0" y="322.7" width="1" height="3" fill="#111" fill-opacity=".8"/><rect x="1204.2" y="322.7" width="1" height="3" fill="#111" fill-opacity=".8"/><rect x="1239.5" y="322.7" width="1" height="3" fill="#111" fill-opacity=".8"/><rect x="1273.9" y="322.5" width="2.6" height="3.6" fill="#000"/><rect x="1310.0" y="322.7" width="1" height="3" fill="#111" fill-opacity=".8"/><rect x="1345.2" y="322.7" width="1" height="3" fill="#111" fill-opacity=".8"/><rect x="1380.5" y="322.7" width="1" height="3" fill="#111" fill-opacity=".8"/><rect x="1414.9" y="322.5" width="2.6" height="3.6" fill="#000"/><rect x="1451.0" y="322.7" width="1" height="3" fill="#111" fill-opacity=".8"/><rect x="1486.2" y="322.7" width="1" height="3" fill="#111" fill-opacity=".8"/><rect x="1521.5" y="322.7" width="1" height="3" fill="#111" fill-opacity=".8"/><rect x="1555.9" y="322.5" width="2.6" height="3.6" fill="#000"/><rect x="1592.0" y="322.7" width="1" height="3" fill="#111" fill-opacity=".8"/><rect x="1627.2" y="322.7" width="1" height="3" fill="#111" fill-opacity=".8"/><rect x="1662.5" y="322.7" width="1" height="3" fill="#111" fill-opacity=".8"/><rect x="1696.9" y="322.5" width="2.6" height="3.6" fill="#000"/><rect x="995.6" y="324.4" width="4" height="2.6" fill="#000"/><rect x="996.0" y="311.9" width="3" height="1" fill="#111" fill-opacity=".7"/><rect x="996.0" y="298.6" width="3" height="1" fill="#111" fill-opacity=".7"/><rect x="996.0" y="285.3" width="3" height="1" fill="#111" fill-opacity=".7"/><rect x="995.6" y="271.1" width="4" height="2.6" fill="#000"/><rect x="996.0" y="258.6" width="3" height="1" fill="#111" fill-opacity=".7"/><rect x="996.0" y="245.3" width="3" height="1" fill="#111" fill-opacity=".7"/><rect x="996.0" y="232.0" width="3" height="1" fill="#111" fill-opacity=".7"/><rect x="995.6" y="217.9" width="4" height="2.6" fill="#000"/><rect x="996.0" y="205.4" width="3" height="1" fill="#111" fill-opacity=".7"/><rect x="996.0" y="192.0" width="3" height="1" fill="#111" fill-opacity=".7"/><rect x="996.0" y="178.7" width="3" height="1" fill="#111" fill-opacity=".7"/><rect x="995.6" y="164.6" width="4" height="2.6" fill="#000"/><rect x="996.0" y="152.1" width="3" height="1" fill="#111" fill-opacity=".7"/><rect x="996.0" y="138.8" width="3" height="1" fill="#111" fill-opacity=".7"/><rect x="996.0" y="125.5" width="3" height="1" fill="#111" fill-opacity=".7"/><rect x="995.6" y="111.4" width="4" height="2.6" fill="#000"/><rect x="996.0" y="98.8" width="3" height="1" fill="#111" fill-opacity=".7"/><rect x="996.0" y="85.5" width="3" height="1" fill="#111" fill-opacity=".7"/><rect x="996.0" y="72.2" width="3" height="1" fill="#111" fill-opacity=".7"/><rect x="995.6" y="58.1" width="4" height="2.6" fill="#000"/>
<g class="tk"><text x="1135.7" y="352.3" text-anchor="middle">2</text><text x="1276.7" y="352.3" text-anchor="middle">4</text><text x="1417.7" y="352.3" text-anchor="middle">6</text><text x="1558.7" y="352.3" text-anchor="middle">8</text><text x="1699.7" y="352.3" text-anchor="middle">10</text><text x="987.2" y="334.7" text-anchor="end">0</text><text x="987.2" y="281.4" text-anchor="end">0.2</text><text x="987.2" y="228.2" text-anchor="end">0.4</text><text x="987.2" y="174.9" text-anchor="end">0.6</text><text x="987.2" y="121.7" text-anchor="end">0.8</text><text x="987.2" y="68.4" text-anchor="end">1</text></g>
<text class="al" x="1347.4" y="379.0" text-anchor="middle">x</text>
<text class="cap" x="1348.0" y="432.3" text-anchor="middle"><tspan class="pr">(</tspan>b<tspan class="pr">)</tspan></text>
<g class="cl"><text transform="translate(1189.4,78.0) rotate(5)" text-anchor="middle">0.10</text><text transform="translate(1200.0,90.5) rotate(-8)" text-anchor="middle">0.20</text><text transform="translate(1205.8,110.0) rotate(6)" text-anchor="middle">0.50</text><text transform="translate(1219.0,119.5) rotate(-10)" text-anchor="middle">0.60</text><text transform="translate(1230.0,144.0) rotate(3)" text-anchor="middle">0.90</text><text transform="translate(1252.5,153.5) rotate(-3)" text-anchor="middle">1.00</text><text transform="translate(1292.5,160.0) rotate(0)" text-anchor="middle">1.10</text><text transform="translate(1281.5,176.0) rotate(0)" text-anchor="middle">1.30</text><text transform="translate(1270.0,192.5) rotate(0)" text-anchor="middle">1.50</text><text transform="translate(1238.2,207.7) rotate(0)" text-anchor="middle">1.60</text><text transform="translate(1207.8,220.5) rotate(6)" text-anchor="middle">1.80</text><text transform="translate(1188.0,228.5) rotate(25)" text-anchor="middle">2.00</text><text transform="translate(1175.0,238.0) rotate(35)" text-anchor="middle">2.30</text><text transform="translate(1150.5,250.0) rotate(40)" text-anchor="middle">2.50</text><text transform="translate(1117.2,255.0) rotate(25)" text-anchor="middle">2.70</text><text transform="translate(1130.0,282.0) rotate(0)" text-anchor="middle">2.80</text><text transform="translate(1129.0,307.0) rotate(50)" text-anchor="middle">2.88</text></g>
<path d="M224,487H932V766H224Z M227.6,763.0L227.6,491.9L229.6,491.9L231.6,491.9L233.6,491.9L235.6,491.9L237.6,491.9L239.6,492.0L241.6,492.0L243.6,492.0L245.6,492.0L247.6,492.1L249.6,492.1L251.6,492.2L253.6,492.3L255.6,492.4L257.6,492.6L259.6,492.8L261.6,493.1L263.6,493.4L265.6,493.8L267.6,494.3L269.6,494.9L271.6,495.6L273.6,496.5L275.6,497.5L277.6,498.7L279.6,500.1L281.6,501.7L283.6,503.6L285.6,505.7L287.6,508.1L289.6,510.7L291.6,513.7L293.6,516.9L295.6,520.5L297.6,524.2L299.6,528.3L301.6,532.5L303.6,537.0L305.6,541.6L307.6,546.3L309.6,551.0L311.6,555.6L313.6,560.2L315.6,564.5L317.6,568.7L319.6,572.4L321.6,575.8L323.6,578.8L325.6,581.2L327.6,583.0L329.6,584.2L331.6,584.8L333.6,584.8L335.6,584.1L337.6,582.8L339.6,580.9L341.6,578.4L343.6,575.4L345.6,571.9L347.6,568.1L349.6,563.9L351.6,559.5L353.6,555.0L355.6,550.3L357.6,545.6L359.6,540.9L361.6,536.4L363.6,531.9L365.6,527.7L367.6,523.7L369.6,519.9L371.6,516.5L373.6,513.3L375.6,510.4L377.6,507.7L379.6,505.4L381.6,503.3L383.6,501.5L385.6,499.9L387.6,498.5L389.6,497.3L391.6,496.4L393.6,495.5L395.6,494.8L397.6,494.2L399.6,493.8L401.6,493.4L403.6,493.0L405.6,492.8L407.6,492.6L409.6,492.4L411.6,492.3L413.6,492.2L415.6,492.1L417.6,492.1L419.6,492.0L421.6,492.0L423.6,492.0L425.6,491.9L427.6,491.9L429.6,491.9L431.6,491.9L433.6,491.9L435.6,491.9L437.6,491.9L439.6,491.9L441.6,491.9L443.6,491.9L445.6,491.9L447.6,491.9L449.6,491.9L451.6,491.9L453.6,491.9L455.6,491.9L457.6,491.9L459.6,491.9L461.6,491.9L463.6,491.9L465.6,491.9L467.6,491.9L469.6,491.9L471.6,491.9L473.6,491.9L475.6,491.9L477.6,491.9L479.6,491.9L481.6,491.9L483.6,491.9L485.6,491.9L487.6,491.9L489.6,491.9L491.6,491.9L493.6,491.9L495.6,491.9L497.6,491.9L499.6,491.9L501.6,491.9L503.6,491.9L505.6,491.9L507.6,491.9L509.6,491.9L511.6,491.9L513.6,491.9L515.6,491.9L517.6,491.9L519.6,491.9L521.6,491.9L523.6,491.9L525.6,491.9L527.6,491.9L529.6,491.9L531.6,491.9L533.6,491.9L535.6,491.9L537.6,491.9L539.6,491.9L541.6,491.9L543.6,491.9L545.6,491.9L547.6,491.9L549.6,491.9L551.6,491.9L553.6,491.9L555.6,491.9L557.6,491.9L559.6,491.9L561.6,491.9L563.6,491.9L565.6,491.9L567.6,491.9L569.6,491.9L571.6,491.9L573.6,491.9L575.6,491.9L577.6,491.9L579.6,491.9L581.6,491.9L583.6,491.9L585.6,491.9L587.6,491.9L589.6,491.9L591.6,491.9L593.6,491.9L595.6,491.9L597.6,491.9L599.6,491.9L601.6,491.9L603.6,491.9L605.6,491.9L607.6,491.9L609.6,491.9L611.6,491.9L613.6,491.9L615.6,491.9L617.6,491.9L619.6,491.9L621.6,491.9L623.6,491.9L625.6,491.9L627.6,491.9L629.6,491.9L631.6,491.9L633.6,491.9L635.6,491.9L637.6,491.9L639.6,491.9L641.6,491.9L643.6,491.9L645.6,491.9L647.6,491.9L649.6,491.9L651.6,491.9L653.6,491.9L655.6,491.9L657.6,491.9L659.6,491.9L661.6,491.9L663.6,491.9L665.6,491.9L667.6,491.9L669.6,491.9L671.6,491.9L673.6,491.9L675.6,491.9L677.6,491.9L679.6,491.9L681.6,491.9L683.6,491.9L685.6,491.9L687.6,491.9L689.6,491.9L691.6,491.9L693.6,491.9L695.6,491.9L697.6,491.9L699.6,491.9L701.6,491.9L703.6,491.9L705.6,491.9L707.6,491.9L709.6,491.9L711.6,491.9L713.6,491.9L715.6,491.9L717.6,491.9L719.6,491.9L721.6,491.9L723.6,491.9L725.6,491.9L727.6,491.9L729.6,491.9L731.6,491.9L733.6,491.9L735.6,491.9L737.6,491.9L739.6,491.9L741.6,491.9L743.6,491.9L745.6,491.9L747.6,491.9L749.6,491.9L751.6,491.9L753.6,491.9L755.6,491.9L757.6,491.9L759.6,491.9L761.6,491.9L763.6,491.9L765.6,491.9L767.6,491.9L769.6,491.9L771.6,491.9L773.6,491.9L775.6,491.9L777.6,491.9L779.6,491.9L781.6,491.9L783.6,491.9L785.6,491.9L787.6,491.9L789.6,491.9L791.6,491.9L793.6,491.9L795.6,491.9L797.6,491.9L799.6,491.9L801.6,491.9L803.6,491.9L805.6,491.9L807.6,491.9L809.6,491.9L811.6,491.9L813.6,491.9L815.6,491.9L817.6,491.9L819.6,491.9L821.6,491.9L823.6,491.9L825.6,491.9L827.6,491.9L829.6,491.9L831.6,491.9L833.6,491.9L835.6,491.9L837.6,491.9L839.6,491.9L841.6,491.9L843.6,491.9L845.6,491.9L847.6,491.9L849.6,491.9L851.6,491.9L853.6,491.9L855.6,491.9L857.6,491.9L859.6,491.9L861.6,491.9L863.6,491.9L865.6,491.9L867.6,491.9L869.6,491.9L871.6,491.9L873.6,491.9L875.6,491.9L877.6,491.9L879.6,491.9L881.6,491.9L883.6,491.9L885.6,491.9L887.6,491.9L889.6,491.9L891.6,491.9L893.6,491.9L895.6,491.9L897.6,491.9L899.6,491.9L901.6,491.9L903.6,491.9L905.6,491.9L907.6,491.9L909.6,491.9L911.6,491.9L913.6,491.9L915.6,491.9L917.6,491.9L919.6,491.9L921.6,491.9L923.6,491.9L925.6,491.9L927.6,491.9L929.0,491.9L929.0,763.0Z" fill="#fff" fill-rule="evenodd"/>
<path d="M248.6,492.4L250.6,492.5L252.6,492.6L254.6,492.7L256.6,492.8L258.6,493.0L260.6,493.3L262.6,493.5L264.6,493.9L266.6,494.4L268.6,494.9L270.6,495.6L272.6,496.4L274.6,497.3L276.6,498.4L278.6,499.7L280.6,501.2L282.6,503.0L284.6,505.0L286.6,507.2L288.6,509.7L290.6,512.5L292.6,515.6L294.6,519.0L296.6,522.7L298.6,526.6L300.6,530.8L302.6,535.1L304.6,539.7L306.6,544.3L308.6,549.0L310.6,553.7L312.6,558.3L314.6,562.8L316.6,567.0L318.6,571.0L320.6,574.6L322.6,577.7L324.6,580.4L326.6,582.5L328.6,584.0L330.6,584.9L332.6,585.2L334.6,584.8L336.6,583.8L338.6,582.1L340.6,579.9L342.6,577.2L344.6,573.9L346.6,570.3L348.6,566.3L350.6,562.0L352.6,557.5L354.6,552.8L356.6,548.1L358.6,543.5L360.6,538.8L362.6,534.3L364.6,530.0L366.6,525.9L368.6,522.0L370.6,518.4L372.6,515.1L374.6,512.0L376.6,509.3L378.6,506.8L380.6,504.6L382.6,502.6L384.6,500.9L386.6,499.5L388.6,498.2L390.6,497.1L392.6,496.2L394.6,495.4L396.6,494.8L398.6,494.3L400.6,493.8L402.6,493.5L404.6,493.2L406.6,493.0L408.6,492.8L410.6,492.7L412.6,492.5L414.6,492.5L416.6,492.4L418.6,492.3L420.6,492.3L422.6,492.3" fill="none" stroke="#00003a" stroke-opacity=".7" stroke-width="1"/>
<g clip-path="url(#cc)"><path d="M227,505.9l15-.6 14,1.6 6,1.5 6,2.1 5,2.5 5,3.3 8,7.4 8,10.4 6.5,10.9 12,23 6.3,9 4,4 5.2,3.6 3,1.1 4,.6 5.5-1.3 4.8-3 4.1-4 15.6-17.5 10-9.9 13-11.2 12-8.7 12-7.2 13-6 13-4.3 13-2.6 9-.9 10-.1 37,2.1 18,.1 97-5.6 44-1.4 263-.1M227,519.7l16-.2 13,1 11,2.6 9,4.3 7,5.4 7,7.7 20,28.5 7.3,9 4.3,4 6.4,4.2 4,1.4 4,.6 6-.9 8-3.5 41-27.5 13-7.8 12-6.3 10-4.4 11-4 11-2.8 10-1.6 9-.7 11,.1 42,3.9 18,.2 19-2.4 33-7 13-2.4 12-1.3 14-.7 60,.9 240,0M227,535.1l18-.3 12,.7 10,1.9 8,3 7,4.3 8,6.7 21.6,23.6 8.4,8 7,4.7 4,1.8 5,1.4 5,.4 8-1.1 9.5-3.2 43.5-20.6 21-8.4 19-5.6 9-1.8 9-1.1 10-.6 12,0 42,2.8 16-.1 9-1.1 10-1.9 34-8.5 13-2.8 14-1.8 16-1 54,.4 239,0M227,552.9l11,.7 26-.4 7,.8 7,1.9 7,3.3 7,4.5 23.2,19.3 10.1,7 5.7,2.9 4,1.5 5,1.1 5,.3 6-.5 7-1.6 32-10.3 20-5.6 17-3.9 16-2.8 20-2.3 20-1 16,.6 20,2.5 10-.2 11-1.8 28-6.7 18-3.6 21-3 22-2.2 25-1.4 28-.6 247,0M227,571.7l37-.1 12,.9 10,1.8 8,2.3 7,2.8 23,12.8 9,4.1 8,2.1 9,.6 10-.5 13.9-1.5 58.1-8.5 25-2.8 20-.7 36,1.5 17-.7 13-1.7 31-5.8 18-2.8 23-2.5 25-1.7 44-1 245,0M227,592.9l10,.9 9-.2 11-1.5 27-4.9 9-.8 7,.2 6,.8 6,1.7 21,9.6 9,3 11,2 13,.6 88-3.7 22-.1 47,1 22-.4 22-1.8 49-6.7 24-1.5 50,.5 239,0M227,614.6l16,.6 8-.7 7-1.3 13-4.2 25-11.1 7-1.9 6-.5 4,.3 5,1.1 7,2.6 17,7.5 9,2.8 8,1.7 11,1.7 15,1.5 37,2.1 40,.2 51-1.8 29,1.7 12,.3 68-1.9 56-.8 251-.1M227,641.7l12-.1 10-.8 9-1.7 8-2.5 6-2.8 6-3.8 19.7-16 7.3-5.2 7-3.3 4-1 3-.1 4,.4 4,1.1 21,8 15.7,5.1 11.7,3 13.6,2.7 15,2.4 17,1.9 60,4.8 11,.4 10-.2 8-.9 17-2.9 10-.4 10,1.3 29,6 18,2.7 25,2.4 27,1.1 283-.1M227,677.7l10-.8 9-2.1 9-3.8 8-4.9 8-6.4 8-7.9 23.5-27.8 6.6-7 3.8-3 3.4-2 3.7-1.3 4-.4 8,1.6 24,9.7 11,3.7 14,4 44,10.1 42,8 15,2 12,.4 11-.8 23-4.2 8-.1 9,1.4 9,2.6 10,4.3 28,15.8 11,5.3 11,3.7 13,2.3 16,1.1 47,.5 239,0M228.7,764l.3-2 .7-1 3.3-3.1 7-8.1 11-14 17-25 14-23.7 24.6-46.1 9-15 3.8-5 3.6-3.3 3-1.7 4-.6 5,.9 6,2.6 28,15.3 16,6.8 13,4.1 35.7,8.9 31.3,9.1 10,1.7 10,.3 9-.8 24-3.9 12-.5 7,.8 7,1.6 7,2.5 6,2.8 11,6.9 11.3,9.5 10,11 9.5,13 6.8,12 6.2,14 4.9,16 2.2,10 .2,4M281.1,764l2.7-23 3-20 3.5-16 4.1-13 10.6-25.5 8.5-24.5 4-9 3.5-5.3 4-4 4-2.3 4-.7 3,.4 4,1.3 11,5.4 40,23.8 23,12.3 16.1,7.1 16.9,5.7 17,3.7 17,1.9 11,.3 11-.3 27-2.9 8-.3 9,.9 4,1.1 4.3,1.9 7.7,5.5 7.1,7.5 7.1,10 6.7,12 4.6,11 3.2,11 2.2,12 1.1,12M296.3,764l1.9-28 3.7-27 5.1-25 8-29.9 4.2-13.1 1.8-4 2.5-4 2.5-2.6 3-1.8 3-1 4-.4 5,.5 4.7,1.3 4.9,2 5.4,3 9.8,7 25.2,21.6 9,6.3 10,6.2 21,10.6 25,10.5 14,4.3 12,2 12,0 24-3.5 10-.6 5,.4 5,1.1 5,1.7 5,2.4 6,4.1 6,5.6 4.2,5.3 4.2,7 3.4,8 2.9,9 2.4,11 1.2,10M306.3,764l-.1-13 1.2-14 9.9-61 2.2-11 4-14 3.9-9 2.2-3 2.4-2 2-.9 3-.5 5,.5 6,1.7 5,2.2 7,4 7,5 7,5.9 30,27.8 15,11.6 15,9.2 24.7,11.5 22.3,12.8 8,2.9 8,1.1 9-.5 18-3.1 7-.7 7,.4 6,2.2 3,2 3,3 3,4.1 2.6,4.8 3.4,10 .8,5 .2,5M315,764l.4-12 1-13 4.8-39 2.3-23 1.5-9.8 2.7-9.2 3.3-6.6 2-2.6 2-1.6 4-1 3,.3 5,1.5 9,4 9,6 9.3,8 10.7,11 26,29.7 12,12.8 14,13.3 21.3,18.2 1.7,2.3 1.3,2.7 .5,3 0,5M323.8,764l1.1-25 5-57 .9-6 1.7-6 2.5-4.6 2-2.1 2-1.2 4-.9 4,.5 4,1.4 4,2.4 4,3.2 8,8.3 17.7,21 13.9,18 12.3,18 7.3,12 7.5,14 .9,2 .2,2M333.7,764l.6-17 4.6-50 1.1-4.3 2-3.6 2-1.7 3-.8 5,1.5 5,3.4 5,4.9 5,6.6 22.9,39 4.4,9 3.5,9 .7,4M343.2,764l1.8-24.7 2-13 1.4-5.3 1.6-3.5 2-1.9 2-.3 3,1.3 3,2.4 3,3.7 4,6.6 9.9,21.7 2.4,8 .6,5M351.7,764l-.1-7 1.4-5.3 3-4.9 1-.7 2-.4 3,1.8 3,5 1.7,5.5 .4,6" fill="none" stroke="#000a00" stroke-opacity=".9" stroke-width="1.25" stroke-linejoin="round"/></g>
<path d="M227.6,490.9V763.0H929.0" fill="none" stroke="#222" stroke-width=".8"/><rect x="226.3" y="759.8" width="2.6" height="3.6" fill="#000"/><rect x="262.2" y="760.0" width="1" height="3" fill="#111" fill-opacity=".8"/><rect x="297.2" y="760.0" width="1" height="3" fill="#111" fill-opacity=".8"/><rect x="332.3" y="760.0" width="1" height="3" fill="#111" fill-opacity=".8"/><rect x="366.6" y="759.8" width="2.6" height="3.6" fill="#000"/><rect x="402.4" y="760.0" width="1" height="3" fill="#111" fill-opacity=".8"/><rect x="437.5" y="760.0" width="1" height="3" fill="#111" fill-opacity=".8"/><rect x="472.6" y="760.0" width="1" height="3" fill="#111" fill-opacity=".8"/><rect x="506.9" y="759.8" width="2.6" height="3.6" fill="#000"/><rect x="542.7" y="760.0" width="1" height="3" fill="#111" fill-opacity=".8"/><rect x="577.8" y="760.0" width="1" height="3" fill="#111" fill-opacity=".8"/><rect x="612.9" y="760.0" width="1" height="3" fill="#111" fill-opacity=".8"/><rect x="647.1" y="759.8" width="2.6" height="3.6" fill="#000"/><rect x="683.0" y="760.0" width="1" height="3" fill="#111" fill-opacity=".8"/><rect x="718.1" y="760.0" width="1" height="3" fill="#111" fill-opacity=".8"/><rect x="753.1" y="760.0" width="1" height="3" fill="#111" fill-opacity=".8"/><rect x="787.4" y="759.8" width="2.6" height="3.6" fill="#000"/><rect x="823.3" y="760.0" width="1" height="3" fill="#111" fill-opacity=".8"/><rect x="858.4" y="760.0" width="1" height="3" fill="#111" fill-opacity=".8"/><rect x="893.4" y="760.0" width="1" height="3" fill="#111" fill-opacity=".8"/><rect x="927.7" y="759.8" width="2.6" height="3.6" fill="#000"/><rect x="227.2" y="761.7" width="4" height="2.6" fill="#000"/><rect x="227.6" y="748.9" width="3" height="1" fill="#111" fill-opacity=".7"/><rect x="227.6" y="735.4" width="3" height="1" fill="#111" fill-opacity=".7"/><rect x="227.6" y="721.8" width="3" height="1" fill="#111" fill-opacity=".7"/><rect x="227.2" y="707.5" width="4" height="2.6" fill="#000"/><rect x="227.6" y="694.7" width="3" height="1" fill="#111" fill-opacity=".7"/><rect x="227.6" y="681.2" width="3" height="1" fill="#111" fill-opacity=".7"/><rect x="227.6" y="667.6" width="3" height="1" fill="#111" fill-opacity=".7"/><rect x="227.2" y="653.3" width="4" height="2.6" fill="#000"/><rect x="227.6" y="640.5" width="3" height="1" fill="#111" fill-opacity=".7"/><rect x="227.6" y="627.0" width="3" height="1" fill="#111" fill-opacity=".7"/><rect x="227.6" y="613.4" width="3" height="1" fill="#111" fill-opacity=".7"/><rect x="227.2" y="599.0" width="4" height="2.6" fill="#000"/><rect x="227.6" y="586.3" width="3" height="1" fill="#111" fill-opacity=".7"/><rect x="227.6" y="572.7" width="3" height="1" fill="#111" fill-opacity=".7"/><rect x="227.6" y="559.2" width="3" height="1" fill="#111" fill-opacity=".7"/><rect x="227.2" y="544.8" width="4" height="2.6" fill="#000"/><rect x="227.6" y="532.1" width="3" height="1" fill="#111" fill-opacity=".7"/><rect x="227.6" y="518.5" width="3" height="1" fill="#111" fill-opacity=".7"/><rect x="227.6" y="505.0" width="3" height="1" fill="#111" fill-opacity=".7"/><rect x="227.2" y="490.6" width="4" height="2.6" fill="#000"/>
<g class="tk"><text x="227.6" y="789.6" text-anchor="middle">0</text><text x="367.9" y="789.6" text-anchor="middle">2</text><text x="508.2" y="789.6" text-anchor="middle">4</text><text x="648.4" y="789.6" text-anchor="middle">6</text><text x="788.7" y="789.6" text-anchor="middle">8</text><text x="929.0" y="789.6" text-anchor="middle">10</text><text x="218.8" y="772.0" text-anchor="end">0</text><text x="218.8" y="717.8" text-anchor="end">0.2</text><text x="218.8" y="663.6" text-anchor="end">0.4</text><text x="218.8" y="609.3" text-anchor="end">0.6</text><text x="218.8" y="555.1" text-anchor="end">0.8</text><text x="218.8" y="500.9" text-anchor="end">1</text></g>
<text class="al" x="577.7" y="818.4" text-anchor="middle">x</text>
<text class="al" transform="translate(169.6,627.5) rotate(-90)" text-anchor="middle">r</text>
<text class="cap" x="579.0" y="862.6" text-anchor="middle"><tspan class="pr">(</tspan>c<tspan class="pr">)</tspan></text>
<g class="cl"><text transform="translate(432.0,529.0) rotate(-25)" text-anchor="middle">0.20</text><text transform="translate(485.5,537.0) rotate(0)" text-anchor="middle">0.40</text><text transform="translate(439.5,561.5) rotate(-20)" text-anchor="middle">0.60</text><text transform="translate(495.8,574.0) rotate(0)" text-anchor="middle">0.80</text><text transform="translate(455.3,595.5) rotate(0)" text-anchor="middle">1.00</text><text transform="translate(505.0,606.5) rotate(-8)" text-anchor="middle">1.20</text><text transform="translate(460.3,624.0) rotate(8)" text-anchor="middle">1.40</text><text transform="translate(510.8,635.0) rotate(-15)" text-anchor="middle">1.60</text><text transform="translate(526.7,652.5) rotate(-12)" text-anchor="middle">1.80</text><text transform="translate(500.0,669.0) rotate(-8)" text-anchor="middle">2.00</text><text transform="translate(453.0,678.0) rotate(25)" text-anchor="middle">2.20</text><text transform="translate(422.5,684.0) rotate(20)" text-anchor="middle">2.40</text><text transform="translate(403.0,688.0) rotate(-35)" text-anchor="middle">2.60</text><text transform="translate(387.0,692.0) rotate(-40)" text-anchor="middle">2.80</text><text transform="translate(376.0,695.0) rotate(-45)" text-anchor="middle">3.00</text><text transform="translate(359.5,705.0) rotate(-30)" text-anchor="middle">3.20</text><text transform="translate(363.0,725.0) rotate(52)" text-anchor="middle">3.32</text><text transform="translate(358.0,749.0) rotate(-62)" text-anchor="middle">3.38</text></g>
<path d="M995,487H1705V763H995Z M998.5,759.8L998.5,491.6L1000.5,491.6L1002.5,491.6L1004.5,491.6L1006.5,491.6L1008.5,491.6L1010.5,491.7L1012.5,491.7L1014.5,491.7L1016.5,491.8L1018.5,491.8L1020.5,491.9L1022.5,492.0L1024.5,492.1L1026.5,492.3L1028.5,492.5L1030.5,492.7L1032.5,493.0L1034.5,493.4L1036.5,493.9L1038.5,494.5L1040.5,495.2L1042.5,496.0L1044.5,497.1L1046.5,498.3L1048.5,499.7L1050.5,501.3L1052.5,503.2L1054.5,505.4L1056.5,507.8L1058.5,510.6L1060.5,513.7L1062.5,517.1L1064.5,520.9L1066.5,525.0L1068.5,529.4L1070.5,534.1L1072.5,539.0L1074.5,544.2L1076.5,549.6L1078.5,555.0L1080.5,560.5L1082.5,566.0L1084.5,571.3L1086.5,576.5L1088.5,581.4L1090.5,585.9L1092.5,590.0L1094.5,593.5L1096.5,596.5L1098.5,598.8L1100.5,600.5L1102.5,601.4L1104.5,601.5L1106.5,601.0L1108.5,599.6L1110.5,597.6L1112.5,594.9L1114.5,591.6L1116.5,587.8L1118.5,583.5L1120.5,578.7L1122.5,573.7L1124.5,568.4L1126.5,563.0L1128.5,557.5L1130.5,552.0L1132.5,546.6L1134.5,541.3L1136.5,536.3L1138.5,531.5L1140.5,526.9L1142.5,522.7L1144.5,518.8L1146.5,515.2L1148.5,512.0L1150.5,509.0L1152.5,506.4L1154.5,504.1L1156.5,502.1L1158.5,500.4L1160.5,498.9L1162.5,497.6L1164.5,496.5L1166.5,495.6L1168.5,494.8L1170.5,494.1L1172.5,493.6L1174.5,493.2L1176.5,492.9L1178.5,492.6L1180.5,492.4L1182.5,492.2L1184.5,492.0L1186.5,491.9L1188.5,491.9L1190.5,491.8L1192.5,491.7L1194.5,491.7L1196.5,491.7L1198.5,491.7L1200.5,491.6L1202.5,491.6L1204.5,491.6L1206.5,491.6L1208.5,491.6L1210.5,491.6L1212.5,491.6L1214.5,491.6L1216.5,491.6L1218.5,491.6L1220.5,491.6L1222.5,491.6L1224.5,491.6L1226.5,491.6L1228.5,491.6L1230.5,491.6L1232.5,491.6L1234.5,491.6L1236.5,491.6L1238.5,491.6L1240.5,491.6L1242.5,491.6L1244.5,491.6L1246.5,491.6L1248.5,491.6L1250.5,491.6L1252.5,491.6L1254.5,491.6L1256.5,491.6L1258.5,491.6L1260.5,491.6L1262.5,491.6L1264.5,491.6L1266.5,491.6L1268.5,491.6L1270.5,491.6L1272.5,491.6L1274.5,491.6L1276.5,491.6L1278.5,491.6L1280.5,491.6L1282.5,491.6L1284.5,491.6L1286.5,491.6L1288.5,491.6L1290.5,491.6L1292.5,491.6L1294.5,491.6L1296.5,491.6L1298.5,491.6L1300.5,491.6L1302.5,491.6L1304.5,491.6L1306.5,491.6L1308.5,491.6L1310.5,491.6L1312.5,491.6L1314.5,491.6L1316.5,491.6L1318.5,491.6L1320.5,491.6L1322.5,491.6L1324.5,491.6L1326.5,491.6L1328.5,491.6L1330.5,491.6L1332.5,491.6L1334.5,491.6L1336.5,491.6L1338.5,491.6L1340.5,491.6L1342.5,491.6L1344.5,491.6L1346.5,491.6L1348.5,491.6L1350.5,491.6L1352.5,491.6L1354.5,491.6L1356.5,491.6L1358.5,491.6L1360.5,491.6L1362.5,491.6L1364.5,491.6L1366.5,491.6L1368.5,491.6L1370.5,491.6L1372.5,491.6L1374.5,491.6L1376.5,491.6L1378.5,491.6L1380.5,491.6L1382.5,491.6L1384.5,491.6L1386.5,491.6L1388.5,491.6L1390.5,491.6L1392.5,491.6L1394.5,491.6L1396.5,491.6L1398.5,491.6L1400.5,491.6L1402.5,491.6L1404.5,491.6L1406.5,491.6L1408.5,491.6L1410.5,491.6L1412.5,491.6L1414.5,491.6L1416.5,491.6L1418.5,491.6L1420.5,491.6L1422.5,491.6L1424.5,491.6L1426.5,491.6L1428.5,491.6L1430.5,491.6L1432.5,491.6L1434.5,491.6L1436.5,491.6L1438.5,491.6L1440.5,491.6L1442.5,491.6L1444.5,491.6L1446.5,491.6L1448.5,491.6L1450.5,491.6L1452.5,491.6L1454.5,491.6L1456.5,491.6L1458.5,491.6L1460.5,491.6L1462.5,491.6L1464.5,491.6L1466.5,491.6L1468.5,491.6L1470.5,491.6L1472.5,491.6L1474.5,491.6L1476.5,491.6L1478.5,491.6L1480.5,491.6L1482.5,491.6L1484.5,491.6L1486.5,491.6L1488.5,491.6L1490.5,491.6L1492.5,491.6L1494.5,491.6L1496.5,491.6L1498.5,491.6L1500.5,491.6L1502.5,491.6L1504.5,491.6L1506.5,491.6L1508.5,491.6L1510.5,491.6L1512.5,491.6L1514.5,491.6L1516.5,491.6L1518.5,491.6L1520.5,491.6L1522.5,491.6L1524.5,491.6L1526.5,491.6L1528.5,491.6L1530.5,491.6L1532.5,491.6L1534.5,491.6L1536.5,491.6L1538.5,491.6L1540.5,491.6L1542.5,491.6L1544.5,491.6L1546.5,491.6L1548.5,491.6L1550.5,491.6L1552.5,491.6L1554.5,491.6L1556.5,491.6L1558.5,491.6L1560.5,491.6L1562.5,491.6L1564.5,491.6L1566.5,491.6L1568.5,491.6L1570.5,491.6L1572.5,491.6L1574.5,491.6L1576.5,491.6L1578.5,491.6L1580.5,491.6L1582.5,491.6L1584.5,491.6L1586.5,491.6L1588.5,491.6L1590.5,491.6L1592.5,491.6L1594.5,491.6L1596.5,491.6L1598.5,491.6L1600.5,491.6L1602.5,491.6L1604.5,491.6L1606.5,491.6L1608.5,491.6L1610.5,491.6L1612.5,491.6L1614.5,491.6L1616.5,491.6L1618.5,491.6L1620.5,491.6L1622.5,491.6L1624.5,491.6L1626.5,491.6L1628.5,491.6L1630.5,491.6L1632.5,491.6L1634.5,491.6L1636.5,491.6L1638.5,491.6L1640.5,491.6L1642.5,491.6L1644.5,491.6L1646.5,491.6L1648.5,491.6L1650.5,491.6L1652.5,491.6L1654.5,491.6L1656.5,491.6L1658.5,491.6L1660.5,491.6L1662.5,491.6L1664.5,491.6L1666.5,491.6L1668.5,491.6L1670.5,491.6L1672.5,491.6L1674.5,491.6L1676.5,491.6L1678.5,491.6L1680.5,491.6L1682.5,491.6L1684.5,491.6L1686.5,491.6L1688.5,491.6L1690.5,491.6L1692.5,491.6L1694.5,491.6L1696.5,491.6L1698.5,491.6L1700.5,491.6L1701.5,491.6L1701.5,759.8Z" fill="#fff" fill-rule="evenodd"/>
<path d="M1019.6,492.2L1021.6,492.2L1023.6,492.4L1025.6,492.5L1027.6,492.7L1029.6,492.9L1031.6,493.2L1033.6,493.5L1035.6,494.0L1037.6,494.5L1039.6,495.2L1041.6,495.9L1043.6,496.9L1045.6,498.0L1047.6,499.3L1049.6,500.8L1051.6,502.6L1053.6,504.6L1055.6,507.0L1057.6,509.6L1059.6,512.5L1061.6,515.8L1063.6,519.4L1065.6,523.4L1067.6,527.6L1069.6,532.2L1071.6,537.1L1073.6,542.1L1075.6,547.4L1077.6,552.8L1079.6,558.3L1081.6,563.8L1083.6,569.2L1085.6,574.5L1087.6,579.5L1089.6,584.2L1091.6,588.5L1093.6,592.3L1095.6,595.5L1097.6,598.1L1099.6,600.1L1101.6,601.3L1103.6,601.8L1105.6,601.6L1107.6,600.6L1109.6,598.9L1111.6,596.5L1113.6,593.5L1115.6,589.9L1117.6,585.8L1119.6,581.2L1121.6,576.3L1123.6,571.1L1125.6,565.8L1127.6,560.3L1129.6,554.8L1131.6,549.3L1133.6,544.0L1135.6,538.9L1137.6,533.9L1139.6,529.3L1141.6,524.9L1143.6,520.8L1145.6,517.1L1147.6,513.7L1149.6,510.6L1151.6,507.9L1153.6,505.4L1155.6,503.3L1157.6,501.4L1159.6,499.8L1161.6,498.4L1163.6,497.2L1165.6,496.3L1167.6,495.4L1169.6,494.7L1171.6,494.2L1173.6,493.7L1175.6,493.3L1177.6,493.0L1179.6,492.7L1181.6,492.6L1183.6,492.4L1185.6,492.3L1187.6,492.2L1189.6,492.1L1191.6,492.1L1193.6,492.0" fill="none" stroke="#00003a" stroke-opacity=".7" stroke-width="1"/>
<g clip-path="url(#cd)"><path d="M998,493.2l6,.7 5,0 9-.8 8-.1 9,1.5 6,2.4 8.6,6.1 6.4,6.7 4,5.1 5,8.2 3,6.1M1136,539l5-9.8 6-8.6 6-5.9 8-5.1 12-5 15-4.2 16-3.2 20-2.4 15-.9 15-.2 52,1 45,0 118-2 233,0M998,497.1l18-.4 11,.9 11,2.8 8,4 5,3.7 4,3.9 6,7.7 5.1,8.3 7.9,16.8M1107.6,600.4l1.4-.4 2-2.8 3-1.3 .9-.9 1.1-3.6 2-2.4 2-3.7 3.5-4.3 21.5-34 7.7-8 6.5-6 8.2-6 7.3-4 18.3-7.3 22.1-11.7 8.5-3 6.4-1.5 10-1.3 13-.2 42,3.3 26,.5 26-.9 63-3.9 40-1.3 252-.2M998,505.4l9-.5 8,.1 8,.6 8,1.4 7,2.1 6,2.6 5,3 5,4 4,4 5,6.2 6,9.8 7.7,16.3 9,23 6.3,12M1104.5,601.5l3.5,.3 2-.3 5.5-2.5 3.1-2 12.6-11 28.8-27.1 10-7.9 10-6.4 14-6.8 29.4-11.8 25.6-11.3 9-3.1 8-1.8 7-.6 7,.4 7.6,1.4 22.4,5.3 7,.9 8,.2 16-1.3 31-5.3 17-2.1 23-1.9 25-1.2 33-.5 232,0M998,520l9-1 8-.1 8,.7 7,1.3 7,2.1 7,2.9 7,4 6,4.3 8,7.4 7,9.2 5,9.2 5.4,14 1.4,2 1,3 1.4,2 1.2,3 4.9,8 3.7,4.9 4.8,3.9M1101.2,601l1.8,1.1 4,.9 5,.3 6-1.2 5.2-2.1 14.2-8 35.6-22.9 14.8-8.1 58.2-25.8 9.1-3.2 8.9-2 7-.4 7,.6 8,2 23,7.3 7,1.2 8,.2 8-.6 9-1.7 33-9 20-4.3 22-3.2 24-2 30-1 232,0M998,535.4l20-.5 14,.9 11,2.5 5,1.9 5,2.7 9.5,7.1 10.6,11 3.2,5 9.6,18 6,9 3.2,4 3.9,3.5 4,2.3 8,2.1 5,.2 8-.9 8-1.8 19.8-6.4 24.9-10 61.3-27.1 11-3.6 12-2.2 10-.7 10,.2 11,1.1 25,3.8 8,.4 7-.3 13.8-2.6 32.2-9.6 22-5.1 23-3.5 26-1.9 21-.5 232,0M998,552l27,.1 10,.6 9,1.4 9,3.1 9,5 9,7.4 8,8.5 12.2,15.9 3.6,4 3.6,3 3.6,2.2 5,2 8,1.8 6,.4 11-.7 11-2 45-11.4 25-5.6 12.8-3.7 19.2-7.3 12-2.9 9-1.2 10-.6 42,.4 19-1.3 23-3.9 51-11.7 12-2.1 12-1.5 14-.9 15-.4 238,0M998,570.2l36-.4 8,.7 8,1.7 10,3.6 9,4.8 17,11.8 12,9.4 8,4.2 5,1.6 9,1.7 8,.8 10,.3 16-.8 19.3-2.6 80.7-16.6 18-3 10-1 9-.3 32,2.5 15-.5 16-2.5 30-7.1 15-3 18-2.6 19-1.7 34-1.3 232,0M998,612.8l17,.1 14-1.9 12-3.4 20.8-8.6 4.2-1.1 5-.4 5,.4 6,1.4 28,11.2 11,3.3 11,1.9 15,1.2 15,0 42-1.3 12,.6 26,2.2 13,.3 12-1.1 27-4.3 11-.8 9,.4 27,3.2 23,.8 21-.5 51-2.9 25-.7 241-.1M998,639.9l8,.4 6-.2 7-1 7-1.8 13-5.2 21-11.8 7-3.4 8-2.6 9-.8 7,.6 9,1.5 23,6.3 10,1.5 15,.5 33-2.3 14,.1 16,2.1 34,7.1 16,1.7 10,0 10-.8 10-1.7 18-4.2 11-.8 13,1.4 32,6.5 21,3.2 24,2.5 26,1.6 34,.8 232,0M998,675.1l23-5.2 7-2.5 6-3 5-3.5 5-4.7 5-6 12.8-17.2 7-7 4.7-3 4.9-2 5.6-1.2 7-.4 6,.4 9,1.4 28,6.8 13,2.3 11,.5 26-1 11,.9 12,2.7 28,8.2 9,1.7 9,1 13,.4 14-.7 49-5.8 9-.2 7,.8 6,1.4 7,2.8 33,18.5 15,6.9 8,2.8 9,2.5 20,3.4 27,1.5 232,0M999.5,761l.2-2 .6-1 7.7-8.4 11-13.7 8-11.2 6-9.5 9-17 16.3-38.2 4.8-9 5.3-8 6.8-8 7.8-6.2 4-2.2 4-1.5 5-1 4-.1 7,.6 6.9,1.4 27.1,8.2 10,2.3 11,1.4 26,1.3 13,1.9 12,2.9 32,9.1 17,3.3 12,.8 13-.5 12-1.5 21-3.8 10-.8 6,.2 6,.9 6,1.5 6,2.2 6,2.8 6.4,3.8 11.6,9 10.5,11 10.4,14 11.5,19 4.1,8 3.9,9 4.8,16 1.5,8 .3,5M1044.8,761l.1-3 5.9-34 4.5-23 5.1-19 5.9-16 4.2-9 3.9-7 5.2-8 5.5-7 3.9-3.7 3.4-2.3 3.6-1.3 5-.5 6,.7 6,1.6 26.5,10.5 10.5,3.1 12,1.8 26,2 12,2.2 12.7,3.9 30.3,11.1 9,2.5 9,1.8 14,1.4 14-.1 14-1.3 23-3.4 9-.6 10,.8 8,2.6 4.1,2.2 4.9,3.5 8.7,8.5 8.4,11 8.2,14 5.9,13 4.1,13 2.9,14 1.4,14M1057.5,761l7.2-59 3.5-18 4.1-14 3-8 3.7-8 3.9-7 4.8-7 4.3-5 3-2.4 3-1.4 4-.6 5,.5 7,2.2 28,12.7 9,3.1 12,2.3 25,3.1 12,3 11.9,4.5 32.1,14.4 10,3.4 9,2.3 11,1.6 11,.1 10-.9 24-3.5 12-.7 11,.9 9,2.8 7,4.2 7,6.4 6.2,8 5.8,10.2 4,9.8 3.5,12 2.4,14 1.4,14M1066.4,761l5.8-61 2.3-15 3.4-14 5.7-15 3.7-7 3.9-6 3.1-4 3.3-3 3.4-1.6 3-.4 5,.7 8,2.9 29,14.4 12,5 10,2.6 20,2.6 8,2.3 22,11.4 32,15.6 10,4.3 8,2.6 9,1.7 9,.3 9-.9 21-3.1 11-.5 11,1.3 5,1.3 5,2 6,3.6 5,4.3 4.5,5.6 4.1,7 3.4,8.1 3.1,9.9 3.8,18 .3,4M1073.9,761l1.9-20 2.6-44 2.1-15 2.2-10 4.9-14 6.6-12 2.9-4 2.9-2.9 3-1.5 3-.3 5,1 6.3,2.7 29.7,16.5 10,4.8 10,3.7 22,6.5 11,4.5 14.2,8 33.8,21.9 10,5.3 10,4.2 12,3.3 12,1.4 14-.4 24-3.2 7,.4 6,1.8 4,2.5 4,3.8 3.8,5 2.8,5 2.6,6 2,7 1,6 .1,6M1079.9,761l1-18 1.1-43.5 1-10.5 2-11.2 4.1-13.8 5.6-12 3.3-5 3-3.3 3-2 3-.6 3,.5 3,1.3 15,9.3 15,8.3 52.8,25.5 14.1,8 12,8 16.3,13 15.2,15 7.6,9 6.6,9 6.7,10 .4,3M1091.3,761l.3-25 3.4-46.8 1.2-26.2 1.5-6 2.3-4.3 3-3.1 2-1.1 2-.3 3.8,.8 4.2,2.3 40,27.1 17.6,13.6 14.8,14 6.2,7 5.3,7 4.6,7 3.6,7 2.5,6 2,7 1.2,7 .3,7M1099.7,761l-.1-12 .7-15 3.4-43 1.3-11.2 1.7-6.8 2.3-4.4 3-2.7 4-.9 4,.8 4,2.1 14.4,11.1 14.9,14 11.8,14 8.7,13 7.1,14 5.3,15 2,8 .2,4M1105.4,761l-.2-16 2.2-28 .1-20 .6-9 .9-5 2-5 3-3.3 3-.8 3,.9 3,2 14,12.8 10.9,12.4 10.1,14 7.2,12 5.4,12 3,11 .9,10M1110.2,761l-.3-13 1.9-29 .1-24 .7-4 1.4-3.3 2-2.1 2-.6 2,.3 3,1.8 7.6,7.9 12.4,15 8.8,13 6.2,11.5 3.8,9.5 1.7,8 .3,9M1116.2,761l.6-13 -.9-25 .3-11 .7-7 1.1-5 1-3 1-1.3 1-.4 1,.1 2,1.3 4,5.2 4.2,7.1 6.2,13 3.3,9 2.9,10 3.4,16 .2,4M1121.5,761l.7-14 -.3-27 1.3-10 .8-1.2 1-.1 1,.5 2,3 2,5.4 1.5,6.4 2.2,13 1.8,24M1124.9,761l-.3-5 .7-3 -.5-4 1.2-4 0-4.7 1-1.7 1,2.4 1.1,10 -.3,10" fill="none" stroke="#000a00" stroke-opacity=".9" stroke-width="1.25" stroke-linejoin="round"/></g>
<path d="M998.5,490.6V759.8H1701.5" fill="none" stroke="#222" stroke-width=".8"/><rect x="997.2" y="756.6" width="2.6" height="3.6" fill="#000"/><rect x="1033.2" y="756.8" width="1" height="3" fill="#111" fill-opacity=".8"/><rect x="1068.3" y="756.8" width="1" height="3" fill="#111" fill-opacity=".8"/><rect x="1103.5" y="756.8" width="1" height="3" fill="#111" fill-opacity=".8"/><rect x="1137.8" y="756.6" width="2.6" height="3.6" fill="#000"/><rect x="1173.8" y="756.8" width="1" height="3" fill="#111" fill-opacity=".8"/><rect x="1208.9" y="756.8" width="1" height="3" fill="#111" fill-opacity=".8"/><rect x="1244.0" y="756.8" width="1" height="3" fill="#111" fill-opacity=".8"/><rect x="1278.4" y="756.6" width="2.6" height="3.6" fill="#000"/><rect x="1314.3" y="756.8" width="1" height="3" fill="#111" fill-opacity=".8"/><rect x="1349.5" y="756.8" width="1" height="3" fill="#111" fill-opacity=".8"/><rect x="1384.7" y="756.8" width="1" height="3" fill="#111" fill-opacity=".8"/><rect x="1419.0" y="756.6" width="2.6" height="3.6" fill="#000"/><rect x="1455.0" y="756.8" width="1" height="3" fill="#111" fill-opacity=".8"/><rect x="1490.1" y="756.8" width="1" height="3" fill="#111" fill-opacity=".8"/><rect x="1525.2" y="756.8" width="1" height="3" fill="#111" fill-opacity=".8"/><rect x="1559.6" y="756.6" width="2.6" height="3.6" fill="#000"/><rect x="1595.5" y="756.8" width="1" height="3" fill="#111" fill-opacity=".8"/><rect x="1630.7" y="756.8" width="1" height="3" fill="#111" fill-opacity=".8"/><rect x="1665.8" y="756.8" width="1" height="3" fill="#111" fill-opacity=".8"/><rect x="1700.2" y="756.6" width="2.6" height="3.6" fill="#000"/><rect x="998.1" y="758.5" width="4" height="2.6" fill="#000"/><rect x="998.5" y="745.9" width="3" height="1" fill="#111" fill-opacity=".7"/><rect x="998.5" y="732.5" width="3" height="1" fill="#111" fill-opacity=".7"/><rect x="998.5" y="719.1" width="3" height="1" fill="#111" fill-opacity=".7"/><rect x="998.1" y="704.9" width="4" height="2.6" fill="#000"/><rect x="998.5" y="692.2" width="3" height="1" fill="#111" fill-opacity=".7"/><rect x="998.5" y="678.8" width="3" height="1" fill="#111" fill-opacity=".7"/><rect x="998.5" y="665.4" width="3" height="1" fill="#111" fill-opacity=".7"/><rect x="998.1" y="651.2" width="4" height="2.6" fill="#000"/><rect x="998.5" y="638.6" width="3" height="1" fill="#111" fill-opacity=".7"/><rect x="998.5" y="625.2" width="3" height="1" fill="#111" fill-opacity=".7"/><rect x="998.5" y="611.8" width="3" height="1" fill="#111" fill-opacity=".7"/><rect x="998.1" y="597.6" width="4" height="2.6" fill="#000"/><rect x="998.5" y="585.0" width="3" height="1" fill="#111" fill-opacity=".7"/><rect x="998.5" y="571.6" width="3" height="1" fill="#111" fill-opacity=".7"/><rect x="998.5" y="558.1" width="3" height="1" fill="#111" fill-opacity=".7"/><rect x="998.1" y="543.9" width="4" height="2.6" fill="#000"/><rect x="998.5" y="531.3" width="3" height="1" fill="#111" fill-opacity=".7"/><rect x="998.5" y="517.9" width="3" height="1" fill="#111" fill-opacity=".7"/><rect x="998.5" y="504.5" width="3" height="1" fill="#111" fill-opacity=".7"/><rect x="998.1" y="490.3" width="4" height="2.6" fill="#000"/>
<g class="tk"><text x="998.5" y="786.4" text-anchor="middle">0</text><text x="1139.1" y="786.4" text-anchor="middle">2</text><text x="1279.7" y="786.4" text-anchor="middle">4</text><text x="1420.3" y="786.4" text-anchor="middle">6</text><text x="1560.9" y="786.4" text-anchor="middle">8</text><text x="1701.5" y="786.4" text-anchor="middle">10</text><text x="988.2" y="768.8" text-anchor="end">0</text><text x="988.2" y="715.2" text-anchor="end">0.2</text><text x="988.2" y="661.5" text-anchor="end">0.4</text><text x="988.2" y="607.9" text-anchor="end">0.6</text><text x="988.2" y="554.2" text-anchor="end">0.8</text><text x="988.2" y="500.6" text-anchor="end">1</text></g>
<text class="al" x="1349.4" y="819.0" text-anchor="middle">x</text>
<text class="cap" x="1348.0" y="859.2" text-anchor="middle"><tspan class="pr">(</tspan>d<tspan class="pr">)</tspan></text>
<g class="cl"><text transform="translate(1184.7,510.0) rotate(-25)" text-anchor="middle">0.02</text><text transform="translate(1195.5,527.0) rotate(-25)" text-anchor="middle">0.08</text><text transform="translate(1218.8,535.0) rotate(-35)" text-anchor="middle">0.20</text><text transform="translate(1231.3,550.0) rotate(-30)" text-anchor="middle">0.40</text><text transform="translate(1204.7,578.0) rotate(0)" text-anchor="middle">0.60</text><text transform="translate(1236.3,583.0) rotate(0)" text-anchor="middle">0.80</text><text transform="translate(1197.2,603.0) rotate(-8)" text-anchor="middle">1.00</text><text transform="translate(1181.3,622.5) rotate(5)" text-anchor="middle">1.40</text><text transform="translate(1174.7,636.5) rotate(8)" text-anchor="middle">1.80</text><text transform="translate(1169.7,652.0) rotate(-30)" text-anchor="middle">2.20</text><text transform="translate(1119.7,658.0) rotate(30)" text-anchor="middle">2.98</text><text transform="translate(1151.3,669.0) rotate(40)" text-anchor="middle">2.98</text><text transform="translate(1166.0,661.0) rotate(-60)" text-anchor="middle">2.80</text><text transform="translate(1153.0,696.0) rotate(-50)" text-anchor="middle">3.14</text><text transform="translate(1149.7,708.0) rotate(-60)" text-anchor="middle">3.81</text><text transform="translate(1126.3,714.0) rotate(-20)" text-anchor="middle">4.01</text><text transform="translate(1129.0,746.0) rotate(-55)" text-anchor="middle">4.08</text></g>
<g class="cbt"><rect x="1.7" y="45.5" width="50.5" height="795.5" fill="url(#cbar)" stroke="#666" stroke-width="1.2"/><text x="88" y="59.4">4.09</text><text x="88" y="99.2">3.89</text><text x="88" y="138.9">3.68</text><text x="88" y="178.7">3.48</text><text x="88" y="218.4">3.27</text><text x="88" y="258.2">3.07</text><text x="88" y="297.9">2.86</text><text x="88" y="337.7">2.66</text><text x="88" y="377.4">2.45</text><text x="88" y="417.2">2.25</text><text x="88" y="456.9">2.04</text><text x="88" y="496.7">1.84</text><text x="88" y="536.5">1.64</text><text x="88" y="576.2">1.43</text><text x="88" y="616.0">1.23</text><text x="88" y="655.7">1.02</text><text x="88" y="695.5">0.82</text><text x="88" y="735.2">0.61</text><text x="88" y="775.0">0.41</text><text x="88" y="814.7">0.20</text><text x="88" y="854.5">0.00</text></g>
<text class="ut" x="100" y="18.6">u</text>
</svg>
</body></html>
